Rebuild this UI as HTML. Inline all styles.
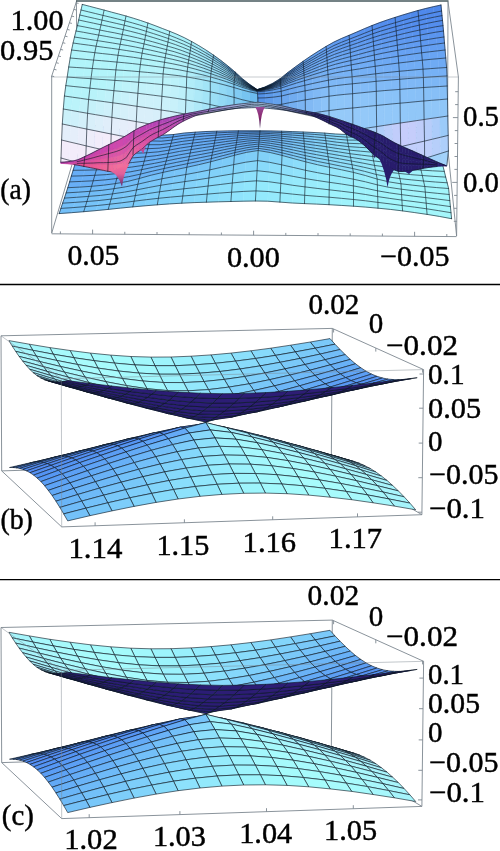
<!DOCTYPE html>
<html><head><meta charset="utf-8"><title>figure</title>
<style>
html,body{margin:0;padding:0;background:#fff}
svg{display:block}
text{font-family:"Liberation Serif",serif;fill:#000}
</style></head><body>
<svg width="500" height="851" viewBox="0 0 500 851">
<rect width="500" height="851" fill="#fff"/>
<g stroke="#7d8790" stroke-width="0.9" fill="none"><line x1="448.0" y1="1.6" x2="458.4" y2="77.0"/><line x1="76.8" y1="0.5" x2="51.4" y2="77.0"/><line x1="51.7" y1="77.0" x2="51.7" y2="233.2"/><line x1="458.4" y1="77.0" x2="456.6" y2="236.0"/><line x1="51.7" y1="233.8" x2="456.6" y2="236.6"/><line x1="76.4" y1="1.6" x2="77.5" y2="146.0"/><line x1="448.0" y1="1.6" x2="447.5" y2="146.0"/><line x1="77.5" y1="146.0" x2="447.5" y2="146.0"/><line x1="77.5" y1="146.0" x2="51.7" y2="233.2"/><line x1="447.5" y1="146.0" x2="456.6" y2="236.0"/><line x1="446.8" y1="236.5" x2="446.8" y2="234.0"/><line x1="414.6" y1="236.3" x2="414.6" y2="231.8"/><line x1="382.4" y1="236.1" x2="382.4" y2="233.6"/><line x1="350.2" y1="235.9" x2="350.2" y2="233.4"/><line x1="318.0" y1="235.6" x2="318.0" y2="233.1"/><line x1="285.8" y1="235.4" x2="285.8" y2="232.9"/><line x1="253.6" y1="235.2" x2="253.6" y2="230.7"/><line x1="221.4" y1="235.0" x2="221.4" y2="232.5"/><line x1="189.2" y1="234.8" x2="189.2" y2="232.3"/><line x1="157.0" y1="234.5" x2="157.0" y2="232.0"/><line x1="124.8" y1="234.3" x2="124.8" y2="231.8"/><line x1="92.6" y1="234.1" x2="92.6" y2="229.6"/><line x1="60.4" y1="233.9" x2="60.4" y2="231.4"/><line x1="456.8" y1="221.3" x2="453.8" y2="221.3"/><line x1="456.9" y1="208.3" x2="453.9" y2="208.3"/><line x1="457.1" y1="195.4" x2="454.1" y2="195.4"/><line x1="457.2" y1="182.4" x2="452.2" y2="182.4"/><line x1="457.4" y1="169.4" x2="454.4" y2="169.4"/><line x1="457.5" y1="156.5" x2="454.5" y2="156.5"/><line x1="457.6" y1="143.5" x2="454.6" y2="143.5"/><line x1="457.8" y1="130.6" x2="454.8" y2="130.6"/><line x1="457.9" y1="117.6" x2="452.9" y2="117.6"/><line x1="458.1" y1="104.6" x2="455.1" y2="104.6"/><line x1="458.2" y1="91.7" x2="455.2" y2="91.7"/><line x1="76.0" y1="2.8" x2="78.5" y2="3.4"/><line x1="73.8" y1="9.4" x2="76.3" y2="10.0"/><line x1="71.6" y1="16.1" x2="74.1" y2="16.7"/><line x1="69.4" y1="22.8" x2="71.9" y2="23.4"/><line x1="67.2" y1="29.4" x2="69.7" y2="30.0"/><line x1="65.0" y1="36.1" x2="67.5" y2="36.7"/><line x1="62.8" y1="42.7" x2="65.3" y2="43.3"/><line x1="60.6" y1="49.4" x2="63.1" y2="50.0"/><line x1="58.4" y1="56.0" x2="60.9" y2="56.6"/><line x1="56.2" y1="62.7" x2="58.7" y2="63.3"/><line x1="54.0" y1="69.3" x2="56.5" y2="69.9"/><line x1="51.7" y1="76.0" x2="54.2" y2="76.6"/></g><line x1="76" y1="0.9" x2="448.5" y2="0.9" stroke="#46595c" stroke-width="1.5"/>
<g stroke-width="0.5" stroke-linejoin="round"><polygon points="87.2,124.0 98.0,125.9 96.4,131.3 85.4,129.8" fill="#62a6f5" stroke="#62a6f5"/><polygon points="85.4,129.8 96.4,131.3 94.8,136.8 83.7,135.6" fill="#63a7f5" stroke="#63a7f5"/><polygon points="83.7,135.6 94.8,136.8 93.1,142.3 81.9,141.4" fill="#63a8f5" stroke="#63a8f5"/><polygon points="81.9,141.4 93.1,142.3 91.4,147.8 80.1,147.2" fill="#64a9f5" stroke="#64a9f5"/><polygon points="80.1,147.2 91.4,147.8 89.8,153.4 78.4,153.0" fill="#64aaf5" stroke="#64aaf5"/><polygon points="78.4,153.0 89.8,153.4 88.1,159.0 76.6,158.8" fill="#65aaf6" stroke="#65aaf6"/><polygon points="76.6,158.8 88.1,159.0 86.4,164.6 74.9,164.6" fill="#65abf6" stroke="#65abf6"/><polygon points="74.9,164.6 86.4,164.6 84.8,170.2 73.1,170.3" fill="#66acf6" stroke="#66acf6"/><polygon points="73.1,170.3 84.8,170.2 83.1,175.8 71.3,176.1" fill="#67adf6" stroke="#67adf6"/><polygon points="71.3,176.1 83.1,175.8 81.4,181.4 69.6,181.9" fill="#67aef6" stroke="#67aef6"/><polygon points="69.6,181.9 81.4,181.4 79.7,187.1 67.8,187.7" fill="#68aef6" stroke="#68aef6"/><polygon points="67.8,187.7 79.7,187.1 78.1,192.2 66.1,192.9" fill="#6db7f7" stroke="#6db7f7"/><polygon points="66.1,192.9 78.1,192.2 76.4,197.3 64.4,198.1" fill="#6fbaf7" stroke="#6fbaf7"/><polygon points="64.4,198.1 76.4,197.3 74.8,202.4 62.6,203.2" fill="#72bdf8" stroke="#72bdf8"/><polygon points="62.6,203.2 74.8,202.4 73.1,207.6 60.9,208.4" fill="#73bff8" stroke="#73bff8"/><polygon points="60.9,208.4 73.1,207.6 71.5,212.7 59.2,213.6" fill="#73bff8" stroke="#73bff8"/><polygon points="98.0,125.9 108.8,127.8 107.3,132.7 96.4,131.3" fill="#62a6f5" stroke="#62a6f5"/><polygon points="96.4,131.3 107.3,132.7 105.8,137.9 94.8,136.8" fill="#63a7f5" stroke="#63a7f5"/><polygon points="94.8,136.8 105.8,137.9 104.3,143.1 93.1,142.3" fill="#63a8f5" stroke="#63a8f5"/><polygon points="93.1,142.3 104.3,143.1 102.7,148.4 91.4,147.8" fill="#64a9f5" stroke="#64a9f5"/><polygon points="91.4,147.8 102.7,148.4 101.2,153.7 89.8,153.4" fill="#65aaf5" stroke="#65aaf5"/><polygon points="89.8,153.4 101.2,153.7 99.6,159.1 88.1,159.0" fill="#65abf6" stroke="#65abf6"/><polygon points="88.1,159.0 99.6,159.1 98.0,164.5 86.4,164.6" fill="#66acf6" stroke="#66acf6"/><polygon points="86.4,164.6 98.0,164.5 96.4,169.9 84.8,170.2" fill="#66adf6" stroke="#66adf6"/><polygon points="84.8,170.2 96.4,169.9 94.8,175.3 83.1,175.8" fill="#67adf6" stroke="#67adf6"/><polygon points="83.1,175.8 94.8,175.3 93.2,180.8 81.4,181.4" fill="#68aef6" stroke="#68aef6"/><polygon points="81.4,181.4 93.2,180.8 91.6,186.3 79.7,187.1" fill="#68aff6" stroke="#68aff6"/><polygon points="79.7,187.1 91.6,186.3 90.0,191.3 78.1,192.2" fill="#6eb8f7" stroke="#6eb8f7"/><polygon points="78.1,192.2 90.0,191.3 88.5,196.4 76.4,197.3" fill="#71bcf8" stroke="#71bcf8"/><polygon points="76.4,197.3 88.5,196.4 86.9,201.5 74.8,202.4" fill="#73bff8" stroke="#73bff8"/><polygon points="74.8,202.4 86.9,201.5 85.3,206.6 73.1,207.6" fill="#75c1f8" stroke="#75c1f8"/><polygon points="73.1,207.6 85.3,206.6 83.7,211.7 71.5,212.7" fill="#75c1f8" stroke="#75c1f8"/><polygon points="108.8,127.8 119.6,129.4 118.3,133.9 107.3,132.7" fill="#62a6f5" stroke="#62a6f5"/><polygon points="107.3,132.7 118.3,133.9 116.9,138.7 105.8,137.9" fill="#63a7f5" stroke="#63a7f5"/><polygon points="105.8,137.9 116.9,138.7 115.5,143.7 104.3,143.1" fill="#64a8f5" stroke="#64a8f5"/><polygon points="104.3,143.1 115.5,143.7 114.0,148.7 102.7,148.4" fill="#64a9f5" stroke="#64a9f5"/><polygon points="102.7,148.4 114.0,148.7 112.5,153.8 101.2,153.7" fill="#65aaf6" stroke="#65aaf6"/><polygon points="101.2,153.7 112.5,153.8 111.1,159.0 99.6,159.1" fill="#66abf6" stroke="#66abf6"/><polygon points="99.6,159.1 111.1,159.0 109.6,164.1 98.0,164.5" fill="#66acf6" stroke="#66acf6"/><polygon points="98.0,164.5 109.6,164.1 108.1,169.4 96.4,169.9" fill="#67adf6" stroke="#67adf6"/><polygon points="96.4,169.9 108.1,169.4 106.6,174.6 94.8,175.3" fill="#68aef6" stroke="#68aef6"/><polygon points="94.8,175.3 106.6,174.6 105.0,179.9 93.2,180.8" fill="#68aff6" stroke="#68aff6"/><polygon points="93.2,180.8 105.0,179.9 103.5,185.2 91.6,186.3" fill="#69b0f6" stroke="#69b0f6"/><polygon points="91.6,186.3 103.5,185.2 102.0,190.3 90.0,191.3" fill="#70baf7" stroke="#70baf7"/><polygon points="90.0,191.3 102.0,190.3 100.5,195.4 88.5,196.4" fill="#72bdf8" stroke="#72bdf8"/><polygon points="88.5,196.4 100.5,195.4 99.0,200.5 86.9,201.5" fill="#75c1f8" stroke="#75c1f8"/><polygon points="86.9,201.5 99.0,200.5 97.5,205.5 85.3,206.6" fill="#76c4f9" stroke="#76c4f9"/><polygon points="85.3,206.6 97.5,205.5 96.0,210.6 83.7,211.7" fill="#76c4f9" stroke="#76c4f9"/><polygon points="119.6,129.4 130.4,130.8 129.2,134.9 118.3,133.9" fill="#62a7f5" stroke="#62a7f5"/><polygon points="118.3,133.9 129.2,134.9 127.9,139.4 116.9,138.7" fill="#63a8f5" stroke="#63a8f5"/><polygon points="116.9,138.7 127.9,139.4 126.6,144.0 115.5,143.7" fill="#64a9f5" stroke="#64a9f5"/><polygon points="115.5,143.7 126.6,144.0 125.3,148.8 114.0,148.7" fill="#64aaf5" stroke="#64aaf5"/><polygon points="114.0,148.7 125.3,148.8 123.9,153.6 112.5,153.8" fill="#65abf6" stroke="#65abf6"/><polygon points="112.5,153.8 123.9,153.6 122.5,158.5 111.1,159.0" fill="#66acf6" stroke="#66acf6"/><polygon points="111.1,159.0 122.5,158.5 121.1,163.4 109.6,164.1" fill="#67adf6" stroke="#67adf6"/><polygon points="109.6,164.1 121.1,163.4 119.7,168.4 108.1,169.4" fill="#67aef6" stroke="#67aef6"/><polygon points="108.1,169.4 119.7,168.4 118.3,173.4 106.6,174.6" fill="#68aff6" stroke="#68aff6"/><polygon points="106.6,174.6 118.3,173.4 116.8,178.5 105.0,179.9" fill="#69b0f6" stroke="#69b0f6"/><polygon points="105.0,179.9 116.8,178.5 115.4,183.6 103.5,185.2" fill="#69b1f6" stroke="#69b1f6"/><polygon points="103.5,185.2 115.4,183.6 114.0,188.7 102.0,190.3" fill="#71bbf8" stroke="#71bbf8"/><polygon points="102.0,190.3 114.0,188.7 112.5,193.9 100.5,195.4" fill="#74bff8" stroke="#74bff8"/><polygon points="100.5,195.4 112.5,193.9 111.1,199.1 99.0,200.5" fill="#76c3f9" stroke="#76c3f9"/><polygon points="99.0,200.5 111.1,199.1 109.7,204.2 97.5,205.5" fill="#78c6f9" stroke="#78c6f9"/><polygon points="97.5,205.5 109.7,204.2 108.2,209.4 96.0,210.6" fill="#78c6f9" stroke="#78c6f9"/><polygon points="130.4,130.8 141.2,132.2 140.2,135.9 129.2,134.9" fill="#62a7f5" stroke="#62a7f5"/><polygon points="129.2,134.9 140.2,135.9 139.0,140.0 127.9,139.4" fill="#63a8f5" stroke="#63a8f5"/><polygon points="127.9,139.4 139.0,140.0 137.8,144.3 126.6,144.0" fill="#64a9f5" stroke="#64a9f5"/><polygon points="126.6,144.0 137.8,144.3 136.5,148.7 125.3,148.8" fill="#65aaf5" stroke="#65aaf5"/><polygon points="125.3,148.8 136.5,148.7 135.3,153.2 123.9,153.6" fill="#65abf6" stroke="#65abf6"/><polygon points="123.9,153.6 135.3,153.2 134.0,157.8 122.5,158.5" fill="#66acf6" stroke="#66acf6"/><polygon points="122.5,158.5 134.0,157.8 132.7,162.5 121.1,163.4" fill="#67adf6" stroke="#67adf6"/><polygon points="121.1,163.4 132.7,162.5 131.3,167.1 119.7,168.4" fill="#68aef6" stroke="#68aef6"/><polygon points="119.7,168.4 131.3,167.1 130.0,171.9 118.3,173.4" fill="#68aff6" stroke="#68aff6"/><polygon points="118.3,173.4 130.0,171.9 128.7,176.7 116.8,178.5" fill="#69b0f6" stroke="#69b0f6"/><polygon points="116.8,178.5 128.7,176.7 127.3,181.5 115.4,183.6" fill="#6ab1f6" stroke="#6ab1f6"/><polygon points="115.4,183.6 127.3,181.5 125.9,186.8 114.0,188.7" fill="#72bdf8" stroke="#72bdf8"/><polygon points="114.0,188.7 125.9,186.8 124.6,192.1 112.5,193.9" fill="#75c1f8" stroke="#75c1f8"/><polygon points="112.5,193.9 124.6,192.1 123.2,197.5 111.1,199.1" fill="#78c5f9" stroke="#78c5f9"/><polygon points="111.1,199.1 123.2,197.5 121.9,202.8 109.7,204.2" fill="#7ac8f9" stroke="#7ac8f9"/><polygon points="109.7,204.2 121.9,202.8 120.5,208.1 108.2,209.4" fill="#7ac8f9" stroke="#7ac8f9"/><polygon points="141.2,132.2 152.0,134.0 151.1,137.2 140.2,135.9" fill="#62a7f5" stroke="#62a7f5"/><polygon points="140.2,135.9 151.1,137.2 150.0,140.9 139.0,140.0" fill="#63a8f5" stroke="#63a8f5"/><polygon points="139.0,140.0 150.0,140.9 148.9,144.7 137.8,144.3" fill="#64a9f5" stroke="#64a9f5"/><polygon points="137.8,144.3 148.9,144.7 147.8,148.7 136.5,148.7" fill="#65aaf5" stroke="#65aaf5"/><polygon points="136.5,148.7 147.8,148.7 146.6,152.8 135.3,153.2" fill="#66abf6" stroke="#66abf6"/><polygon points="135.3,153.2 146.6,152.8 145.4,156.9 134.0,157.8" fill="#66acf6" stroke="#66acf6"/><polygon points="134.0,157.8 145.4,156.9 144.2,161.2 132.7,162.5" fill="#67aef6" stroke="#67aef6"/><polygon points="132.7,162.5 144.2,161.2 143.0,165.4 131.3,167.1" fill="#68aff6" stroke="#68aff6"/><polygon points="131.3,167.1 143.0,165.4 141.7,169.7 130.0,171.9" fill="#69b0f6" stroke="#69b0f6"/><polygon points="130.0,171.9 141.7,169.7 140.5,174.1 128.7,176.7" fill="#6ab1f6" stroke="#6ab1f6"/><polygon points="128.7,176.7 140.5,174.1 139.2,178.5 127.3,181.5" fill="#6bb2f6" stroke="#6bb2f6"/><polygon points="127.3,181.5 139.2,178.5 137.9,184.2 125.9,186.8" fill="#73bef8" stroke="#73bef8"/><polygon points="125.9,186.8 137.9,184.2 136.6,189.9 124.6,192.1" fill="#76c3f8" stroke="#76c3f8"/><polygon points="124.6,192.1 136.6,189.9 135.3,195.6 123.2,197.5" fill="#7ac7f9" stroke="#7ac7f9"/><polygon points="123.2,197.5 135.3,195.6 134.1,201.2 121.9,202.8" fill="#7ccaf9" stroke="#7ccaf9"/><polygon points="121.9,202.8 134.1,201.2 132.8,206.9 120.5,208.1" fill="#7ccaf9" stroke="#7ccaf9"/><polygon points="152.0,134.0 162.8,135.2 162.0,138.0 151.1,137.2" fill="#62a7f5" stroke="#62a7f5"/><polygon points="151.1,137.2 162.0,138.0 161.0,141.2 150.0,140.9" fill="#63a8f5" stroke="#63a8f5"/><polygon points="150.0,140.9 161.0,141.2 160.0,144.7 148.9,144.7" fill="#64a9f5" stroke="#64a9f5"/><polygon points="148.9,144.7 160.0,144.7 159.0,148.2 147.8,148.7" fill="#65aaf6" stroke="#65aaf6"/><polygon points="147.8,148.7 159.0,148.2 157.9,151.9 146.6,152.8" fill="#66acf6" stroke="#66acf6"/><polygon points="146.6,152.8 157.9,151.9 156.8,155.6 145.4,156.9" fill="#67adf6" stroke="#67adf6"/><polygon points="145.4,156.9 156.8,155.6 155.7,159.4 144.2,161.2" fill="#68aef6" stroke="#68aef6"/><polygon points="144.2,161.2 155.7,159.4 154.6,163.3 143.0,165.4" fill="#69aff6" stroke="#69aff6"/><polygon points="143.0,165.4 154.6,163.3 153.4,167.2 141.7,169.7" fill="#69b0f6" stroke="#69b0f6"/><polygon points="141.7,169.7 153.4,167.2 152.3,171.2 140.5,174.1" fill="#6ab2f6" stroke="#6ab2f6"/><polygon points="140.5,174.1 152.3,171.2 151.1,175.2 139.2,178.5" fill="#6bb3f7" stroke="#6bb3f7"/><polygon points="139.2,178.5 151.1,175.2 149.9,181.4 137.9,184.2" fill="#74c0f8" stroke="#74c0f8"/><polygon points="137.9,184.2 149.9,181.4 148.7,187.5 136.6,189.9" fill="#78c5f9" stroke="#78c5f9"/><polygon points="136.6,189.9 148.7,187.5 147.5,193.6 135.3,195.6" fill="#7bcaf9" stroke="#7bcaf9"/><polygon points="135.3,195.6 147.5,193.6 146.2,199.7 134.1,201.2" fill="#7dcdfa" stroke="#7dcdfa"/><polygon points="134.1,201.2 146.2,199.7 145.0,205.8 132.8,206.9" fill="#7dcdfa" stroke="#7dcdfa"/><polygon points="162.8,135.2 173.6,134.5 172.9,137.0 162.0,138.0" fill="#62a7f5" stroke="#62a7f5"/><polygon points="162.0,138.0 172.9,137.0 172.0,140.1 161.0,141.2" fill="#63a8f5" stroke="#63a8f5"/><polygon points="161.0,141.2 172.0,140.1 171.1,143.3 160.0,144.7" fill="#64a9f5" stroke="#64a9f5"/><polygon points="160.0,144.7 171.1,143.3 170.2,146.6 159.0,148.2" fill="#65abf6" stroke="#65abf6"/><polygon points="159.0,148.2 170.2,146.6 169.2,150.1 157.9,151.9" fill="#66acf6" stroke="#66acf6"/><polygon points="157.9,151.9 169.2,150.1 168.2,153.6 156.8,155.6" fill="#67adf6" stroke="#67adf6"/><polygon points="156.8,155.6 168.2,153.6 167.2,157.3 155.7,159.4" fill="#68aef6" stroke="#68aef6"/><polygon points="155.7,159.4 167.2,157.3 166.2,161.0 154.6,163.3" fill="#69b0f6" stroke="#69b0f6"/><polygon points="154.6,163.3 166.2,161.0 165.1,164.7 153.4,167.2" fill="#6ab1f6" stroke="#6ab1f6"/><polygon points="153.4,167.2 165.1,164.7 164.1,168.5 152.3,171.2" fill="#6bb2f6" stroke="#6bb2f6"/><polygon points="152.3,171.2 164.1,168.5 163.0,172.4 151.1,175.2" fill="#6cb4f7" stroke="#6cb4f7"/><polygon points="151.1,175.2 163.0,172.4 161.9,178.8 149.9,181.4" fill="#75c1f8" stroke="#75c1f8"/><polygon points="149.9,181.4 161.9,178.8 160.7,185.3 148.7,187.5" fill="#79c6f9" stroke="#79c6f9"/><polygon points="148.7,187.5 160.7,185.3 159.6,191.8 147.5,193.6" fill="#7dccf9" stroke="#7dccf9"/><polygon points="147.5,193.6 159.6,191.8 158.4,198.3 146.2,199.7" fill="#7fcffa" stroke="#7fcffa"/><polygon points="146.2,199.7 158.4,198.3 157.3,204.8 145.0,205.8" fill="#7fcffa" stroke="#7fcffa"/><polygon points="173.6,134.5 184.4,133.0 183.8,135.4 172.9,137.0" fill="#62a6f5" stroke="#62a6f5"/><polygon points="172.9,137.0 183.8,135.4 183.0,138.3 172.0,140.1" fill="#63a7f5" stroke="#63a7f5"/><polygon points="172.0,140.1 183.0,138.3 182.2,141.4 171.1,143.3" fill="#64a9f5" stroke="#64a9f5"/><polygon points="171.1,143.3 182.2,141.4 181.4,144.6 170.2,146.6" fill="#65aaf5" stroke="#65aaf5"/><polygon points="170.2,146.6 181.4,144.6 180.5,148.0 169.2,150.1" fill="#66acf5" stroke="#66acf5"/><polygon points="169.2,150.1 180.5,148.0 179.6,151.4 168.2,153.6" fill="#67adf6" stroke="#67adf6"/><polygon points="168.2,153.6 179.6,151.4 178.7,155.0 167.2,157.3" fill="#68aff6" stroke="#68aff6"/><polygon points="167.2,157.3 178.7,155.0 177.8,158.6 166.2,161.0" fill="#69b0f6" stroke="#69b0f6"/><polygon points="166.2,161.0 177.8,158.6 176.8,162.3 165.1,164.7" fill="#6ab1f6" stroke="#6ab1f6"/><polygon points="165.1,164.7 176.8,162.3 175.9,166.0 164.1,168.5" fill="#6bb3f6" stroke="#6bb3f6"/><polygon points="164.1,168.5 175.9,166.0 174.9,169.8 163.0,172.4" fill="#6cb4f7" stroke="#6cb4f7"/><polygon points="163.0,172.4 174.9,169.8 173.8,176.6 161.9,178.8" fill="#76c3f8" stroke="#76c3f8"/><polygon points="161.9,178.8 173.8,176.6 172.8,183.4 160.7,185.3" fill="#7bc8f9" stroke="#7bc8f9"/><polygon points="160.7,185.3 172.8,183.4 171.7,190.2 159.6,191.8" fill="#7fcefa" stroke="#7fcefa"/><polygon points="159.6,191.8 171.7,190.2 170.6,197.1 158.4,198.3" fill="#81d2fa" stroke="#81d2fa"/><polygon points="158.4,198.3 170.6,197.1 169.6,203.9 157.3,204.8" fill="#81d2fa" stroke="#81d2fa"/><polygon points="184.4,133.0 195.2,132.2 194.7,134.4 183.8,135.4" fill="#61a5f4" stroke="#61a5f4"/><polygon points="183.8,135.4 194.7,134.4 194.0,137.1 183.0,138.3" fill="#62a6f4" stroke="#62a6f4"/><polygon points="183.0,138.3 194.0,137.1 193.3,140.0 182.2,141.4" fill="#63a8f5" stroke="#63a8f5"/><polygon points="182.2,141.4 193.3,140.0 192.6,143.1 181.4,144.6" fill="#64aaf5" stroke="#64aaf5"/><polygon points="181.4,144.6 192.6,143.1 191.8,146.3 180.5,148.0" fill="#65abf5" stroke="#65abf5"/><polygon points="180.5,148.0 191.8,146.3 191.0,149.6 179.6,151.4" fill="#67adf5" stroke="#67adf5"/><polygon points="179.6,151.4 191.0,149.6 190.2,153.0 178.7,155.0" fill="#68aef5" stroke="#68aef5"/><polygon points="178.7,155.0 190.2,153.0 189.4,156.5 177.8,158.6" fill="#69b0f6" stroke="#69b0f6"/><polygon points="177.8,158.6 189.4,156.5 188.5,160.0 176.8,162.3" fill="#6ab1f6" stroke="#6ab1f6"/><polygon points="176.8,162.3 188.5,160.0 187.7,163.6 175.9,166.0" fill="#6bb3f6" stroke="#6bb3f6"/><polygon points="175.9,166.0 187.7,163.6 186.8,167.3 174.9,169.8" fill="#6cb4f6" stroke="#6cb4f6"/><polygon points="174.9,169.8 186.8,167.3 185.8,174.5 173.8,176.6" fill="#78c4f8" stroke="#78c4f8"/><polygon points="173.8,176.6 185.8,174.5 184.8,181.6 172.8,183.4" fill="#7ccaf9" stroke="#7ccaf9"/><polygon points="172.8,183.4 184.8,181.6 183.8,188.8 171.7,190.2" fill="#81d1fa" stroke="#81d1fa"/><polygon points="171.7,190.2 183.8,188.8 182.8,196.0 170.6,197.1" fill="#83d4fa" stroke="#83d4fa"/><polygon points="170.6,197.1 182.8,196.0 181.8,203.2 169.6,203.9" fill="#83d4fa" stroke="#83d4fa"/><polygon points="195.2,132.2 206.0,131.5 205.6,133.5 194.7,134.4" fill="#60a4f4" stroke="#60a4f4"/><polygon points="194.7,134.4 205.6,133.5 205.0,136.0 194.0,137.1" fill="#61a5f4" stroke="#61a5f4"/><polygon points="194.0,137.1 205.0,136.0 204.4,138.8 193.3,140.0" fill="#63a7f4" stroke="#63a7f4"/><polygon points="193.3,140.0 204.4,138.8 203.8,141.7 192.6,143.1" fill="#64a9f4" stroke="#64a9f4"/><polygon points="192.6,143.1 203.8,141.7 203.1,144.7 191.8,146.3" fill="#65aaf4" stroke="#65aaf4"/><polygon points="191.8,146.3 203.1,144.7 202.4,147.8 191.0,149.6" fill="#66acf5" stroke="#66acf5"/><polygon points="191.0,149.6 202.4,147.8 201.7,151.1 190.2,153.0" fill="#67aef5" stroke="#67aef5"/><polygon points="190.2,153.0 201.7,151.1 201.0,154.4 189.4,156.5" fill="#69aff5" stroke="#69aff5"/><polygon points="189.4,156.5 201.0,154.4 200.2,157.7 188.5,160.0" fill="#6ab1f5" stroke="#6ab1f5"/><polygon points="188.5,160.0 200.2,157.7 199.5,161.2 187.7,163.6" fill="#6bb3f6" stroke="#6bb3f6"/><polygon points="187.7,163.6 199.5,161.2 198.7,164.7 186.8,167.3" fill="#6cb4f6" stroke="#6cb4f6"/><polygon points="186.8,167.3 198.7,164.7 197.8,172.3 185.8,174.5" fill="#79c6f8" stroke="#79c6f8"/><polygon points="185.8,174.5 197.8,172.3 196.9,179.9 184.8,181.6" fill="#7ecdf9" stroke="#7ecdf9"/><polygon points="184.8,181.6 196.9,179.9 195.9,187.5 183.8,188.8" fill="#83d3fa" stroke="#83d3fa"/><polygon points="183.8,188.8 195.9,187.5 195.0,195.0 182.8,196.0" fill="#86d8fb" stroke="#86d8fb"/><polygon points="182.8,196.0 195.0,195.0 194.1,202.6 181.8,203.2" fill="#86d8fb" stroke="#86d8fb"/><polygon points="206.0,131.5 216.8,131.2 216.4,132.9 205.6,133.5" fill="#5fa3f3" stroke="#5fa3f3"/><polygon points="205.6,133.5 216.4,132.9 216.0,135.2 205.0,136.0" fill="#60a4f3" stroke="#60a4f3"/><polygon points="205.0,136.0 216.0,135.2 215.5,137.7 204.4,138.8" fill="#62a6f3" stroke="#62a6f3"/><polygon points="204.4,138.8 215.5,137.7 214.9,140.4 203.8,141.7" fill="#63a8f4" stroke="#63a8f4"/><polygon points="203.8,141.7 214.9,140.4 214.4,143.2 203.1,144.7" fill="#64aaf4" stroke="#64aaf4"/><polygon points="203.1,144.7 214.4,143.2 213.8,146.1 202.4,147.8" fill="#66acf4" stroke="#66acf4"/><polygon points="202.4,147.8 213.8,146.1 213.2,149.1 201.7,151.1" fill="#67adf4" stroke="#67adf4"/><polygon points="201.7,151.1 213.2,149.1 212.6,152.2 201.0,154.4" fill="#68aff5" stroke="#68aff5"/><polygon points="201.0,154.4 212.6,152.2 211.9,155.3 200.2,157.7" fill="#6ab1f5" stroke="#6ab1f5"/><polygon points="200.2,157.7 211.9,155.3 211.3,158.6 199.5,161.2" fill="#6bb3f5" stroke="#6bb3f5"/><polygon points="199.5,161.2 211.3,158.6 210.6,161.8 198.7,164.7" fill="#6cb5f6" stroke="#6cb5f6"/><polygon points="198.7,164.7 210.6,161.8 209.8,169.9 197.8,172.3" fill="#7ac7f8" stroke="#7ac7f8"/><polygon points="197.8,172.3 209.8,169.9 208.9,178.0 196.9,179.9" fill="#7fcff9" stroke="#7fcff9"/><polygon points="196.9,179.9 208.9,178.0 208.1,186.0 195.9,187.5" fill="#85d6fa" stroke="#85d6fa"/><polygon points="195.9,187.5 208.1,186.0 207.2,194.1 195.0,195.0" fill="#88dafb" stroke="#88dafb"/><polygon points="195.0,195.0 207.2,194.1 206.4,202.2 194.1,202.6" fill="#88dafb" stroke="#88dafb"/><polygon points="216.8,131.2 227.6,130.9 227.3,132.4 216.4,132.9" fill="#5ea1f2" stroke="#5ea1f2"/><polygon points="216.4,132.9 227.3,132.4 226.9,134.4 216.0,135.2" fill="#60a3f3" stroke="#60a3f3"/><polygon points="216.0,135.2 226.9,134.4 226.5,136.7 215.5,137.7" fill="#61a5f3" stroke="#61a5f3"/><polygon points="215.5,137.7 226.5,136.7 226.1,139.1 214.9,140.4" fill="#62a7f3" stroke="#62a7f3"/><polygon points="214.9,140.4 226.1,139.1 225.6,141.6 214.4,143.2" fill="#64a9f3" stroke="#64a9f3"/><polygon points="214.4,143.2 225.6,141.6 225.1,144.2 213.8,146.1" fill="#65abf4" stroke="#65abf4"/><polygon points="213.8,146.1 225.1,144.2 224.6,146.9 213.2,149.1" fill="#67adf4" stroke="#67adf4"/><polygon points="213.2,149.1 224.6,146.9 224.1,149.7 212.6,152.2" fill="#68aff4" stroke="#68aff4"/><polygon points="212.6,152.2 224.1,149.7 223.6,152.6 211.9,155.3" fill="#6ab1f5" stroke="#6ab1f5"/><polygon points="211.9,155.3 223.6,152.6 223.1,155.6 211.3,158.6" fill="#6bb3f5" stroke="#6bb3f5"/><polygon points="211.3,158.6 223.1,155.6 222.5,158.6 210.6,161.8" fill="#6cb5f5" stroke="#6cb5f5"/><polygon points="210.6,161.8 222.5,158.6 221.7,167.2 209.8,169.9" fill="#7bc9f8" stroke="#7bc9f8"/><polygon points="209.8,169.9 221.7,167.2 220.9,175.8 208.9,178.0" fill="#81d1f9" stroke="#81d1f9"/><polygon points="208.9,178.0 220.9,175.8 220.2,184.5 208.1,186.0" fill="#87d9fa" stroke="#87d9fa"/><polygon points="208.1,186.0 220.2,184.5 219.4,193.1 207.2,194.1" fill="#8adefb" stroke="#8adefb"/><polygon points="207.2,194.1 219.4,193.1 218.6,201.8 206.4,202.2" fill="#8adefb" stroke="#8adefb"/><polygon points="227.6,130.9 238.4,130.8 238.2,132.1 227.3,132.4" fill="#5da0f2" stroke="#5da0f2"/><polygon points="227.3,132.4 238.2,132.1 237.9,133.9 226.9,134.4" fill="#5fa2f2" stroke="#5fa2f2"/><polygon points="226.9,134.4 237.9,133.9 237.6,135.8 226.5,136.7" fill="#60a4f2" stroke="#60a4f2"/><polygon points="226.5,136.7 237.6,135.8 237.2,137.9 226.1,139.1" fill="#62a6f3" stroke="#62a6f3"/><polygon points="226.1,139.1 237.2,137.9 236.9,140.2 225.6,141.6" fill="#63a8f3" stroke="#63a8f3"/><polygon points="225.6,141.6 236.9,140.2 236.5,142.5 225.1,144.2" fill="#65abf3" stroke="#65abf3"/><polygon points="225.1,144.2 236.5,142.5 236.1,144.9 224.6,146.9" fill="#66adf4" stroke="#66adf4"/><polygon points="224.6,146.9 236.1,144.9 235.7,147.4 224.1,149.7" fill="#68aff4" stroke="#68aff4"/><polygon points="224.1,149.7 235.7,147.4 235.3,150.0 223.6,152.6" fill="#69b1f4" stroke="#69b1f4"/><polygon points="223.6,152.6 235.3,150.0 234.8,152.6 223.1,155.6" fill="#6bb3f5" stroke="#6bb3f5"/><polygon points="223.1,155.6 234.8,152.6 234.4,155.3 222.5,158.6" fill="#6cb5f5" stroke="#6cb5f5"/><polygon points="222.5,158.6 234.4,155.3 233.7,164.6 221.7,167.2" fill="#7ccbf8" stroke="#7ccbf8"/><polygon points="221.7,167.2 233.7,164.6 233.0,173.8 220.9,175.8" fill="#82d3f9" stroke="#82d3f9"/><polygon points="220.9,175.8 233.0,173.8 232.3,183.0 220.2,184.5" fill="#89dbfb" stroke="#89dbfb"/><polygon points="220.2,184.5 232.3,183.0 231.6,192.2 219.4,193.1" fill="#8ce0fb" stroke="#8ce0fb"/><polygon points="219.4,193.1 231.6,192.2 230.9,201.5 218.6,201.8" fill="#8ce0fb" stroke="#8ce0fb"/><polygon points="238.4,130.8 249.2,130.8 249.0,131.9 238.2,132.1" fill="#5c9ff1" stroke="#5c9ff1"/><polygon points="238.2,132.1 249.0,131.9 248.8,133.4 237.9,133.9" fill="#5ea1f1" stroke="#5ea1f1"/><polygon points="237.9,133.9 248.8,133.4 248.6,135.1 237.6,135.8" fill="#60a3f2" stroke="#60a3f2"/><polygon points="237.6,135.8 248.6,135.1 248.4,137.0 237.2,137.9" fill="#61a6f2" stroke="#61a6f2"/><polygon points="237.2,137.9 248.4,137.0 248.1,139.0 236.9,140.2" fill="#63a8f2" stroke="#63a8f2"/><polygon points="236.9,140.2 248.1,139.0 247.8,141.0 236.5,142.5" fill="#64aaf3" stroke="#64aaf3"/><polygon points="236.5,142.5 247.8,141.0 247.5,143.2 236.1,144.9" fill="#66acf3" stroke="#66acf3"/><polygon points="236.1,144.9 247.5,143.2 247.2,145.4 235.7,147.4" fill="#68aef3" stroke="#68aef3"/><polygon points="235.7,147.4 247.2,145.4 246.9,147.7 235.3,150.0" fill="#69b1f4" stroke="#69b1f4"/><polygon points="235.3,150.0 246.9,147.7 246.6,150.0 234.8,152.6" fill="#6bb3f4" stroke="#6bb3f4"/><polygon points="234.8,152.6 246.6,150.0 246.3,152.4 234.4,155.3" fill="#6db5f5" stroke="#6db5f5"/><polygon points="234.4,155.3 246.3,152.4 245.7,162.2 233.7,164.6" fill="#7dccf8" stroke="#7dccf8"/><polygon points="233.7,164.6 245.7,162.2 245.0,171.9 233.0,173.8" fill="#84d5f9" stroke="#84d5f9"/><polygon points="233.0,173.8 245.0,171.9 244.4,181.7 232.3,183.0" fill="#8bdefb" stroke="#8bdefb"/><polygon points="232.3,183.0 244.4,181.7 243.8,191.4 231.6,192.2" fill="#8fe3fc" stroke="#8fe3fc"/><polygon points="231.6,192.2 243.8,191.4 243.1,201.2 230.9,201.5" fill="#8fe3fc" stroke="#8fe3fc"/><polygon points="249.2,130.8 260.0,130.8 259.9,131.8 249.0,131.9" fill="#5b9ef0" stroke="#5b9ef0"/><polygon points="249.0,131.9 259.9,131.8 259.8,133.1 248.8,133.4" fill="#5da0f1" stroke="#5da0f1"/><polygon points="248.8,133.4 259.8,133.1 259.6,134.7 248.6,135.1" fill="#5fa3f1" stroke="#5fa3f1"/><polygon points="248.6,135.1 259.6,134.7 259.5,136.4 248.4,137.0" fill="#61a5f2" stroke="#61a5f2"/><polygon points="248.4,137.0 259.5,136.4 259.3,138.2 248.1,139.0" fill="#62a7f2" stroke="#62a7f2"/><polygon points="248.1,139.0 259.3,138.2 259.2,140.0 247.8,141.0" fill="#64aaf2" stroke="#64aaf2"/><polygon points="247.8,141.0 259.2,140.0 259.0,142.0 247.5,143.2" fill="#66acf3" stroke="#66acf3"/><polygon points="247.5,143.2 259.0,142.0 258.8,144.0 247.2,145.4" fill="#67aef3" stroke="#67aef3"/><polygon points="247.2,145.4 258.8,144.0 258.6,146.1 246.9,147.7" fill="#69b1f3" stroke="#69b1f3"/><polygon points="246.9,147.7 258.6,146.1 258.4,148.3 246.6,150.0" fill="#6bb3f4" stroke="#6bb3f4"/><polygon points="246.6,150.0 258.4,148.3 258.2,150.5 246.3,152.4" fill="#6db5f4" stroke="#6db5f4"/><polygon points="246.3,152.4 258.2,150.5 257.6,160.6 245.7,162.2" fill="#7fcef8" stroke="#7fcef8"/><polygon points="245.7,162.2 257.6,160.6 257.1,170.7 245.0,171.9" fill="#86d7f9" stroke="#86d7f9"/><polygon points="245.0,171.9 257.1,170.7 256.5,180.8 244.4,181.7" fill="#8de1fb" stroke="#8de1fb"/><polygon points="244.4,181.7 256.5,180.8 256.0,190.9 243.8,191.4" fill="#91e6fc" stroke="#91e6fc"/><polygon points="243.8,191.4 256.0,190.9 255.4,201.0 243.1,201.2" fill="#91e6fc" stroke="#91e6fc"/><polygon points="260.0,130.8 270.8,130.9 270.8,132.1 259.9,131.8" fill="#5ea2f1" stroke="#5ea2f1"/><polygon points="259.9,131.8 270.8,132.1 270.7,133.6 259.8,133.1" fill="#60a4f1" stroke="#60a4f1"/><polygon points="259.8,133.1 270.7,133.6 270.7,135.3 259.6,134.7" fill="#62a6f2" stroke="#62a6f2"/><polygon points="259.6,134.7 270.7,135.3 270.6,137.1 259.5,136.4" fill="#63a9f2" stroke="#63a9f2"/><polygon points="259.5,136.4 270.6,137.1 270.5,139.1 259.3,138.2" fill="#65abf2" stroke="#65abf2"/><polygon points="259.3,138.2 270.5,139.1 270.5,141.2 259.2,140.0" fill="#67adf3" stroke="#67adf3"/><polygon points="259.2,140.0 270.5,141.2 270.4,143.3 259.0,142.0" fill="#68b0f3" stroke="#68b0f3"/><polygon points="259.0,142.0 270.4,143.3 270.3,145.5 258.8,144.0" fill="#6ab2f3" stroke="#6ab2f3"/><polygon points="258.8,144.0 270.3,145.5 270.3,147.8 258.6,146.1" fill="#6cb4f4" stroke="#6cb4f4"/><polygon points="258.6,146.1 270.3,147.8 270.2,150.1 258.4,148.3" fill="#6eb6f4" stroke="#6eb6f4"/><polygon points="258.4,148.3 270.2,150.1 270.1,152.5 258.2,150.5" fill="#6fb9f5" stroke="#6fb9f5"/><polygon points="258.2,150.5 270.1,152.5 269.6,162.3 257.6,160.6" fill="#81d1f8" stroke="#81d1f8"/><polygon points="257.6,160.6 269.6,162.3 269.1,172.0 257.1,170.7" fill="#88dafa" stroke="#88dafa"/><polygon points="257.1,170.7 269.1,172.0 268.6,181.7 256.5,180.8" fill="#8fe3fb" stroke="#8fe3fb"/><polygon points="256.5,180.8 268.6,181.7 268.2,191.5 256.0,190.9" fill="#93e9fc" stroke="#93e9fc"/><polygon points="256.0,190.9 268.2,191.5 267.7,201.2 255.4,201.0" fill="#93e9fc" stroke="#93e9fc"/><polygon points="270.8,130.9 281.6,131.2 281.6,132.5 270.8,132.1" fill="#65abf3" stroke="#65abf3"/><polygon points="270.8,132.1 281.6,132.5 281.7,134.3 270.7,133.6" fill="#66adf3" stroke="#66adf3"/><polygon points="270.7,133.6 281.7,134.3 281.7,136.2 270.7,135.3" fill="#68aff3" stroke="#68aff3"/><polygon points="270.7,135.3 281.7,136.2 281.7,138.3 270.6,137.1" fill="#69b1f4" stroke="#69b1f4"/><polygon points="270.6,137.1 281.7,138.3 281.8,140.5 270.5,139.1" fill="#6bb3f4" stroke="#6bb3f4"/><polygon points="270.5,139.1 281.8,140.5 281.8,142.8 270.5,141.2" fill="#6db5f4" stroke="#6db5f4"/><polygon points="270.5,141.2 281.8,142.8 281.8,145.2 270.4,143.3" fill="#6eb7f4" stroke="#6eb7f4"/><polygon points="270.4,143.3 281.8,145.2 281.9,147.6 270.3,145.5" fill="#70b9f5" stroke="#70b9f5"/><polygon points="270.3,145.5 281.9,147.6 281.9,150.2 270.3,147.8" fill="#71bbf5" stroke="#71bbf5"/><polygon points="270.3,147.8 281.9,150.2 282.0,152.8 270.2,150.1" fill="#73bdf5" stroke="#73bdf5"/><polygon points="270.2,150.1 282.0,152.8 282.0,155.4 270.1,152.5" fill="#74bff6" stroke="#74bff6"/><polygon points="270.1,152.5 282.0,155.4 281.6,164.8 269.6,162.3" fill="#85d5f9" stroke="#85d5f9"/><polygon points="269.6,162.3 281.6,164.8 281.2,174.1 269.1,172.0" fill="#8bddfa" stroke="#8bddfa"/><polygon points="269.1,172.0 281.2,174.1 280.8,183.4 268.6,181.7" fill="#91e5fb" stroke="#91e5fb"/><polygon points="268.6,181.7 280.8,183.4 280.3,192.8 268.2,191.5" fill="#95eafc" stroke="#95eafc"/><polygon points="268.2,191.5 280.3,192.8 279.9,202.1 267.7,201.2" fill="#95eafc" stroke="#95eafc"/><polygon points="281.6,131.2 292.4,131.6 292.5,133.1 281.6,132.5" fill="#6bb4f4" stroke="#6bb4f4"/><polygon points="281.6,132.5 292.5,133.1 292.6,135.1 281.7,134.3" fill="#6db6f5" stroke="#6db6f5"/><polygon points="281.7,134.3 292.6,135.1 292.7,137.3 281.7,136.2" fill="#6eb7f5" stroke="#6eb7f5"/><polygon points="281.7,136.2 292.7,137.3 292.8,139.6 281.7,138.3" fill="#70b9f5" stroke="#70b9f5"/><polygon points="281.7,138.3 292.8,139.6 293.0,142.1 281.8,140.5" fill="#71bbf5" stroke="#71bbf5"/><polygon points="281.8,140.5 293.0,142.1 293.1,144.6 281.8,142.8" fill="#72bdf6" stroke="#72bdf6"/><polygon points="281.8,142.8 293.1,144.6 293.3,147.3 281.8,145.2" fill="#74bff6" stroke="#74bff6"/><polygon points="281.8,145.2 293.3,147.3 293.4,150.0 281.9,147.6" fill="#75c1f6" stroke="#75c1f6"/><polygon points="281.9,147.6 293.4,150.0 293.6,152.9 281.9,150.2" fill="#77c2f6" stroke="#77c2f6"/><polygon points="281.9,150.2 293.6,152.9 293.7,155.7 282.0,152.8" fill="#78c4f7" stroke="#78c4f7"/><polygon points="282.0,152.8 293.7,155.7 293.9,158.7 282.0,155.4" fill="#7ac6f7" stroke="#7ac6f7"/><polygon points="282.0,155.4 293.9,158.7 293.6,167.5 281.6,164.8" fill="#88d9f9" stroke="#88d9f9"/><polygon points="281.6,164.8 293.6,167.5 293.2,176.4 281.2,174.1" fill="#8ee0fa" stroke="#8ee0fa"/><polygon points="281.2,174.1 293.2,176.4 292.9,185.3 280.8,183.4" fill="#94e8fb" stroke="#94e8fb"/><polygon points="280.8,183.4 292.9,185.3 292.5,194.1 280.3,192.8" fill="#97ecfc" stroke="#97ecfc"/><polygon points="280.3,192.8 292.5,194.1 292.2,203.0 279.9,202.1" fill="#97ecfc" stroke="#97ecfc"/><polygon points="292.4,131.6 303.2,132.0 303.4,133.7 292.5,133.1" fill="#72bdf6" stroke="#72bdf6"/><polygon points="292.5,133.1 303.4,133.7 303.5,135.9 292.6,135.1" fill="#73bef6" stroke="#73bef6"/><polygon points="292.6,135.1 303.5,135.9 303.8,138.4 292.7,137.3" fill="#75c0f6" stroke="#75c0f6"/><polygon points="292.7,137.3 303.8,138.4 304.0,141.0 292.8,139.6" fill="#76c2f7" stroke="#76c2f7"/><polygon points="292.8,139.6 304.0,141.0 304.2,143.7 293.0,142.1" fill="#77c3f7" stroke="#77c3f7"/><polygon points="293.0,142.1 304.2,143.7 304.5,146.6 293.1,144.6" fill="#78c5f7" stroke="#78c5f7"/><polygon points="293.1,144.6 304.5,146.6 304.7,149.5 293.3,147.3" fill="#7ac6f7" stroke="#7ac6f7"/><polygon points="293.3,147.3 304.7,149.5 305.0,152.5 293.4,150.0" fill="#7bc8f7" stroke="#7bc8f7"/><polygon points="293.4,150.0 305.0,152.5 305.2,155.6 293.6,152.9" fill="#7ccaf8" stroke="#7ccaf8"/><polygon points="293.6,152.9 305.2,155.6 305.5,158.7 293.7,155.7" fill="#7dcbf8" stroke="#7dcbf8"/><polygon points="293.7,155.7 305.5,158.7 305.8,161.9 293.9,158.7" fill="#7fcdf8" stroke="#7fcdf8"/><polygon points="293.9,158.7 305.8,161.9 305.5,170.3 293.6,167.5" fill="#8cddfa" stroke="#8cddfa"/><polygon points="293.6,167.5 305.5,170.3 305.3,178.6 293.2,176.4" fill="#91e3fb" stroke="#91e3fb"/><polygon points="293.2,176.4 305.3,178.6 305.0,186.9 292.9,185.3" fill="#96eafc" stroke="#96eafc"/><polygon points="292.9,185.3 305.0,186.9 304.7,195.3 292.5,194.1" fill="#99eefc" stroke="#99eefc"/><polygon points="292.5,194.1 304.7,195.3 304.5,203.6 292.2,203.0" fill="#99eefc" stroke="#99eefc"/><polygon points="303.2,132.0 314.0,132.5 314.2,134.4 303.4,133.7" fill="#79c6f8" stroke="#79c6f8"/><polygon points="303.4,133.7 314.2,134.4 314.5,136.9 303.5,135.9" fill="#7ac7f8" stroke="#7ac7f8"/><polygon points="303.5,135.9 314.5,136.9 314.8,139.5 303.8,138.4" fill="#7bc9f8" stroke="#7bc9f8"/><polygon points="303.8,138.4 314.8,139.5 315.1,142.4 304.0,141.0" fill="#7ccaf8" stroke="#7ccaf8"/><polygon points="304.0,141.0 315.1,142.4 315.5,145.3 304.2,143.7" fill="#7dcbf8" stroke="#7dcbf8"/><polygon points="304.2,143.7 315.5,145.3 315.8,148.4 304.5,146.6" fill="#7ecdf8" stroke="#7ecdf8"/><polygon points="304.5,146.6 315.8,148.4 316.2,151.5 304.7,149.5" fill="#7fcef8" stroke="#7fcef8"/><polygon points="304.7,149.5 316.2,151.5 316.5,154.7 305.0,152.5" fill="#80cff9" stroke="#80cff9"/><polygon points="305.0,152.5 316.5,154.7 316.9,158.0 305.2,155.6" fill="#82d1f9" stroke="#82d1f9"/><polygon points="305.2,155.6 316.9,158.0 317.3,161.4 305.5,158.7" fill="#83d2f9" stroke="#83d2f9"/><polygon points="305.5,158.7 317.3,161.4 317.7,164.8 305.8,161.9" fill="#84d3f9" stroke="#84d3f9"/><polygon points="305.8,161.9 317.7,164.8 317.5,172.7 305.5,170.3" fill="#8fe1fa" stroke="#8fe1fa"/><polygon points="305.5,170.3 317.5,172.7 317.3,180.5 305.3,178.6" fill="#94e7fb" stroke="#94e7fb"/><polygon points="305.3,178.6 317.3,180.5 317.1,188.4 305.0,186.9" fill="#99ecfc" stroke="#99ecfc"/><polygon points="305.0,186.9 317.1,188.4 316.9,196.3 304.7,195.3" fill="#9bf0fc" stroke="#9bf0fc"/><polygon points="304.7,195.3 316.9,196.3 316.7,204.1 304.5,203.6" fill="#9bf0fc" stroke="#9bf0fc"/><polygon points="314.0,132.5 324.8,133.1 325.1,135.3 314.2,134.4" fill="#7ecdf8" stroke="#7ecdf8"/><polygon points="314.2,134.4 325.1,135.3 325.5,137.9 314.5,136.9" fill="#7fcef8" stroke="#7fcef8"/><polygon points="314.5,136.9 325.5,137.9 325.9,140.7 314.8,139.5" fill="#80cff9" stroke="#80cff9"/><polygon points="314.8,139.5 325.9,140.7 326.3,143.7 315.1,142.4" fill="#81d0f9" stroke="#81d0f9"/><polygon points="315.1,142.4 326.3,143.7 326.7,146.9 315.5,145.3" fill="#82d1f9" stroke="#82d1f9"/><polygon points="315.5,145.3 326.7,146.9 327.2,150.1 315.8,148.4" fill="#83d3f9" stroke="#83d3f9"/><polygon points="315.8,148.4 327.2,150.1 327.6,153.4 316.2,151.5" fill="#84d4f9" stroke="#84d4f9"/><polygon points="316.2,151.5 327.6,153.4 328.1,156.8 316.5,154.7" fill="#85d5f9" stroke="#85d5f9"/><polygon points="316.5,154.7 328.1,156.8 328.6,160.2 316.9,158.0" fill="#86d6f9" stroke="#86d6f9"/><polygon points="316.9,158.0 328.6,160.2 329.1,163.7 317.3,161.4" fill="#87d7f9" stroke="#87d7f9"/><polygon points="317.3,161.4 329.1,163.7 329.6,167.3 317.7,164.8" fill="#88d8fa" stroke="#88d8fa"/><polygon points="317.7,164.8 329.6,167.3 329.5,174.8 317.5,172.7" fill="#92e4fb" stroke="#92e4fb"/><polygon points="317.5,172.7 329.5,174.8 329.4,182.3 317.3,180.5" fill="#96e9fb" stroke="#96e9fb"/><polygon points="317.3,180.5 329.4,182.3 329.2,189.8 317.1,188.4" fill="#9aeefc" stroke="#9aeefc"/><polygon points="317.1,188.4 329.2,189.8 329.1,197.2 316.9,196.3" fill="#9df1fc" stroke="#9df1fc"/><polygon points="316.9,196.3 329.1,197.2 329.0,204.7 316.7,204.1" fill="#9df1fc" stroke="#9df1fc"/><polygon points="324.8,133.1 335.6,134.0 336.0,136.4 325.1,135.3" fill="#83d3f9" stroke="#83d3f9"/><polygon points="325.1,135.3 336.0,136.4 336.4,139.1 325.5,137.9" fill="#84d4f9" stroke="#84d4f9"/><polygon points="325.5,137.9 336.4,139.1 336.9,142.2 325.9,140.7" fill="#85d5f9" stroke="#85d5f9"/><polygon points="325.9,140.7 336.9,142.2 337.5,145.3 326.3,143.7" fill="#86d6f9" stroke="#86d6f9"/><polygon points="326.3,143.7 337.5,145.3 338.0,148.6 326.7,146.9" fill="#87d7f9" stroke="#87d7f9"/><polygon points="326.7,146.9 338.0,148.6 338.6,151.9 327.2,150.1" fill="#88d8f9" stroke="#88d8f9"/><polygon points="327.2,150.1 338.6,151.9 339.1,155.4 327.6,153.4" fill="#89d9f9" stroke="#89d9f9"/><polygon points="327.6,153.4 339.1,155.4 339.7,158.9 328.1,156.8" fill="#89daf9" stroke="#89daf9"/><polygon points="328.1,156.8 339.7,158.9 340.3,162.5 328.6,160.2" fill="#8adbfa" stroke="#8adbfa"/><polygon points="328.6,160.2 340.3,162.5 340.9,166.1 329.1,163.7" fill="#8bdcfa" stroke="#8bdcfa"/><polygon points="329.1,163.7 340.9,166.1 341.5,169.8 329.6,167.3" fill="#8cddfa" stroke="#8cddfa"/><polygon points="329.6,167.3 341.5,169.8 341.4,176.9 329.5,174.8" fill="#95e7fb" stroke="#95e7fb"/><polygon points="329.5,174.8 341.4,176.9 341.4,184.0 329.4,182.3" fill="#98ebfb" stroke="#98ebfb"/><polygon points="329.4,182.3 341.4,184.0 341.3,191.2 329.2,189.8" fill="#9beffb" stroke="#9beffb"/><polygon points="329.2,189.8 341.3,191.2 341.3,198.3 329.1,197.2" fill="#9ef2fc" stroke="#9ef2fc"/><polygon points="329.1,197.2 341.3,198.3 341.2,205.4 329.0,204.7" fill="#9ef2fc" stroke="#9ef2fc"/><polygon points="335.6,134.0 346.4,134.5 346.9,137.1 336.0,136.4" fill="#89d8f9" stroke="#89d8f9"/><polygon points="336.0,136.4 346.9,137.1 347.4,140.1 336.4,139.1" fill="#89d9f9" stroke="#89d9f9"/><polygon points="336.4,139.1 347.4,140.1 348.0,143.3 336.9,142.2" fill="#8adaf9" stroke="#8adaf9"/><polygon points="336.9,142.2 348.0,143.3 348.6,146.6 337.5,145.3" fill="#8bdbfa" stroke="#8bdbfa"/><polygon points="337.5,145.3 348.6,146.6 349.3,150.1 338.0,148.6" fill="#8cdcfa" stroke="#8cdcfa"/><polygon points="338.0,148.6 349.3,150.1 349.9,153.7 338.6,151.9" fill="#8cddfa" stroke="#8cddfa"/><polygon points="338.6,151.9 349.9,153.7 350.6,157.3 339.1,155.4" fill="#8ddefa" stroke="#8ddefa"/><polygon points="339.1,155.4 350.6,157.3 351.3,161.0 339.7,158.9" fill="#8edefa" stroke="#8edefa"/><polygon points="339.7,158.9 351.3,161.0 352.0,164.7 340.3,162.5" fill="#8edffa" stroke="#8edffa"/><polygon points="340.3,162.5 352.0,164.7 352.7,168.5 340.9,166.1" fill="#8fe0fa" stroke="#8fe0fa"/><polygon points="340.9,166.1 352.7,168.5 353.4,172.4 341.5,169.8" fill="#90e1fa" stroke="#90e1fa"/><polygon points="341.5,169.8 353.4,172.4 353.4,179.2 341.4,176.9" fill="#97eafb" stroke="#97eafb"/><polygon points="341.4,176.9 353.4,179.2 353.4,185.9 341.4,184.0" fill="#9aedfb" stroke="#9aedfb"/><polygon points="341.4,184.0 353.4,185.9 353.5,192.7 341.3,191.2" fill="#9df0fb" stroke="#9df0fb"/><polygon points="341.3,191.2 353.5,192.7 353.5,199.5 341.3,198.3" fill="#9ff3fc" stroke="#9ff3fc"/><polygon points="341.3,198.3 353.5,199.5 353.5,206.2 341.2,205.4" fill="#9ff3fc" stroke="#9ff3fc"/><polygon points="346.4,134.5 357.2,133.9 357.8,136.8 346.9,137.1" fill="#8edefa" stroke="#8edefa"/><polygon points="346.9,137.1 357.8,136.8 358.4,140.1 347.4,140.1" fill="#8fdffa" stroke="#8fdffa"/><polygon points="347.4,140.1 358.4,140.1 359.1,143.7 348.0,143.3" fill="#8fe0fa" stroke="#8fe0fa"/><polygon points="348.0,143.3 359.1,143.7 359.8,147.4 348.6,146.6" fill="#90e0fa" stroke="#90e0fa"/><polygon points="348.6,146.6 359.8,147.4 360.6,151.2 349.3,150.1" fill="#90e1fa" stroke="#90e1fa"/><polygon points="349.3,150.1 360.6,151.2 361.3,155.1 349.9,153.7" fill="#91e2fa" stroke="#91e2fa"/><polygon points="349.9,153.7 361.3,155.1 362.1,159.1 350.6,157.3" fill="#91e2fa" stroke="#91e2fa"/><polygon points="350.6,157.3 362.1,159.1 362.9,163.1 351.3,161.0" fill="#92e3fa" stroke="#92e3fa"/><polygon points="351.3,161.0 362.9,163.1 363.7,167.2 352.0,164.7" fill="#92e4fa" stroke="#92e4fa"/><polygon points="352.0,164.7 363.7,167.2 364.5,171.3 352.7,168.5" fill="#93e4fa" stroke="#93e4fa"/><polygon points="352.7,168.5 364.5,171.3 365.3,175.5 353.4,172.4" fill="#94e5fa" stroke="#94e5fa"/><polygon points="353.4,172.4 365.3,175.5 365.4,181.8 353.4,179.2" fill="#99ecfb" stroke="#99ecfb"/><polygon points="353.4,179.2 365.4,181.8 365.5,188.2 353.4,185.9" fill="#9ceffb" stroke="#9ceffb"/><polygon points="353.4,185.9 365.5,188.2 365.6,194.5 353.5,192.7" fill="#9ef2fb" stroke="#9ef2fb"/><polygon points="353.5,192.7 365.6,194.5 365.7,200.8 353.5,199.5" fill="#9ff3fb" stroke="#9ff3fb"/><polygon points="353.5,199.5 365.7,200.8 365.8,207.1 353.5,206.2" fill="#9ff3fb" stroke="#9ff3fb"/><polygon points="357.2,133.9 368.0,132.5 368.7,135.9 357.8,136.8" fill="#93e4fa" stroke="#93e4fa"/><polygon points="357.8,136.8 368.7,135.9 369.4,139.7 358.4,140.1" fill="#94e5fa" stroke="#94e5fa"/><polygon points="358.4,140.1 369.4,139.7 370.2,143.8 359.1,143.7" fill="#94e5fa" stroke="#94e5fa"/><polygon points="359.1,143.7 370.2,143.8 371.0,147.9 359.8,147.4" fill="#94e6fa" stroke="#94e6fa"/><polygon points="359.8,147.4 371.0,147.9 371.9,152.2 360.6,151.2" fill="#95e6fa" stroke="#95e6fa"/><polygon points="360.6,151.2 371.9,152.2 372.7,156.5 361.3,155.1" fill="#95e7fa" stroke="#95e7fa"/><polygon points="361.3,155.1 372.7,156.5 373.6,160.9 362.1,159.1" fill="#96e7fa" stroke="#96e7fa"/><polygon points="362.1,159.1 373.6,160.9 374.5,165.4 362.9,163.1" fill="#96e8fa" stroke="#96e8fa"/><polygon points="362.9,163.1 374.5,165.4 375.4,169.9 363.7,167.2" fill="#97e8fa" stroke="#97e8fa"/><polygon points="363.7,167.2 375.4,169.9 376.3,174.5 364.5,171.3" fill="#97e9fb" stroke="#97e9fb"/><polygon points="364.5,171.3 376.3,174.5 377.2,179.1 365.3,175.5" fill="#97e9fb" stroke="#97e9fb"/><polygon points="365.3,175.5 377.2,179.1 377.4,184.9 365.4,181.8" fill="#9ceffb" stroke="#9ceffb"/><polygon points="365.4,181.8 377.4,184.9 377.5,190.8 365.5,188.2" fill="#9ef1fb" stroke="#9ef1fb"/><polygon points="365.5,188.2 377.5,190.8 377.7,196.6 365.6,194.5" fill="#9ff3fb" stroke="#9ff3fb"/><polygon points="365.6,194.5 377.7,196.6 377.9,202.4 365.7,200.8" fill="#a0f4fb" stroke="#a0f4fb"/><polygon points="365.7,200.8 377.9,202.4 378.0,208.2 365.8,207.1" fill="#a0f4fb" stroke="#a0f4fb"/><polygon points="368.0,132.5 378.8,131.1 379.6,135.0 368.7,135.9" fill="#98eafb" stroke="#98eafb"/><polygon points="368.7,135.9 379.6,135.0 380.4,139.2 369.4,139.7" fill="#99eafb" stroke="#99eafb"/><polygon points="369.4,139.7 380.4,139.2 381.3,143.6 370.2,143.8" fill="#99ebfb" stroke="#99ebfb"/><polygon points="370.2,143.8 381.3,143.6 382.3,148.2 371.0,147.9" fill="#99ebfb" stroke="#99ebfb"/><polygon points="371.0,147.9 382.3,148.2 383.2,152.8 371.9,152.2" fill="#9aebfb" stroke="#9aebfb"/><polygon points="371.9,152.2 383.2,152.8 384.2,157.5 372.7,156.5" fill="#9aecfb" stroke="#9aecfb"/><polygon points="372.7,156.5 384.2,157.5 385.1,162.3 373.6,160.9" fill="#9aecfb" stroke="#9aecfb"/><polygon points="373.6,160.9 385.1,162.3 386.1,167.1 374.5,165.4" fill="#9aedfb" stroke="#9aedfb"/><polygon points="374.5,165.4 386.1,167.1 387.1,172.0 375.4,169.9" fill="#9bedfb" stroke="#9bedfb"/><polygon points="375.4,169.9 387.1,172.0 388.1,176.9 376.3,174.5" fill="#9bedfb" stroke="#9bedfb"/><polygon points="376.3,174.5 388.1,176.9 389.1,181.9 377.2,179.1" fill="#9beefb" stroke="#9beefb"/><polygon points="377.2,179.1 389.1,181.9 389.3,187.4 377.4,184.9" fill="#9ef1fb" stroke="#9ef1fb"/><polygon points="377.4,184.9 389.3,187.4 389.6,192.9 377.5,190.8" fill="#9ff3fb" stroke="#9ff3fb"/><polygon points="377.5,190.8 389.6,192.9 389.8,198.4 377.7,196.6" fill="#a1f4fb" stroke="#a1f4fb"/><polygon points="377.7,196.6 389.8,198.4 390.1,203.9 377.9,202.4" fill="#a1f5fb" stroke="#a1f5fb"/><polygon points="377.9,202.4 390.1,203.9 390.3,209.4 378.0,208.2" fill="#a1f5fb" stroke="#a1f5fb"/><polygon points="378.8,131.1 389.6,130.0 390.5,134.2 379.6,135.0" fill="#9ceefb" stroke="#9ceefb"/><polygon points="379.6,135.0 390.5,134.2 391.5,138.8 380.4,139.2" fill="#9deffb" stroke="#9deffb"/><polygon points="380.4,139.2 391.5,138.8 392.5,143.5 381.3,143.6" fill="#9deffb" stroke="#9deffb"/><polygon points="381.3,143.6 392.5,143.5 393.5,148.4 382.3,148.2" fill="#9deffb" stroke="#9deffb"/><polygon points="382.3,148.2 393.5,148.4 394.5,153.3 383.2,152.8" fill="#9deffb" stroke="#9deffb"/><polygon points="383.2,152.8 394.5,153.3 395.6,158.2 384.2,157.5" fill="#9df0fb" stroke="#9df0fb"/><polygon points="384.2,157.5 395.6,158.2 396.7,163.3 385.1,162.3" fill="#9ef0fb" stroke="#9ef0fb"/><polygon points="385.1,162.3 396.7,163.3 397.7,168.3 386.1,167.1" fill="#9ef0fb" stroke="#9ef0fb"/><polygon points="386.1,167.1 397.7,168.3 398.8,173.4 387.1,172.0" fill="#9ef0fb" stroke="#9ef0fb"/><polygon points="387.1,172.0 398.8,173.4 399.9,178.6 388.1,176.9" fill="#9ef1fb" stroke="#9ef1fb"/><polygon points="388.1,176.9 399.9,178.6 401.0,183.8 389.1,181.9" fill="#9ef1fb" stroke="#9ef1fb"/><polygon points="389.1,181.9 401.0,183.8 401.3,189.2 389.3,187.4" fill="#a0f3fb" stroke="#a0f3fb"/><polygon points="389.3,187.4 401.3,189.2 401.6,194.6 389.6,192.9" fill="#a1f4fb" stroke="#a1f4fb"/><polygon points="389.6,192.9 401.6,194.6 401.9,200.1 389.8,198.4" fill="#a2f5fb" stroke="#a2f5fb"/><polygon points="389.8,198.4 401.9,200.1 402.2,205.5 390.1,203.9" fill="#a2f6fb" stroke="#a2f6fb"/><polygon points="390.1,203.9 402.2,205.5 402.6,210.9 390.3,209.4" fill="#a2f6fb" stroke="#a2f6fb"/><polygon points="389.6,130.0 400.4,128.9 401.4,133.5 390.5,134.2" fill="#9ef0fb" stroke="#9ef0fb"/><polygon points="390.5,134.2 401.4,133.5 402.5,138.4 391.5,138.8" fill="#9ef0fb" stroke="#9ef0fb"/><polygon points="391.5,138.8 402.5,138.4 403.6,143.4 392.5,143.5" fill="#9ef0fb" stroke="#9ef0fb"/><polygon points="392.5,143.5 403.6,143.4 404.7,148.5 393.5,148.4" fill="#9ef0fb" stroke="#9ef0fb"/><polygon points="393.5,148.4 404.7,148.5 405.9,153.6 394.5,153.3" fill="#9ef1fb" stroke="#9ef1fb"/><polygon points="394.5,153.3 405.9,153.6 407.0,158.8 395.6,158.2" fill="#9ef1fb" stroke="#9ef1fb"/><polygon points="395.6,158.2 407.0,158.8 408.2,164.0 396.7,163.3" fill="#9ff1fb" stroke="#9ff1fb"/><polygon points="396.7,163.3 408.2,164.0 409.4,169.3 397.7,168.3" fill="#9ff1fb" stroke="#9ff1fb"/><polygon points="397.7,168.3 409.4,169.3 410.5,174.6 398.8,173.4" fill="#9ff1fb" stroke="#9ff1fb"/><polygon points="398.8,173.4 410.5,174.6 411.7,179.9 399.9,178.6" fill="#9ff2fb" stroke="#9ff2fb"/><polygon points="399.9,178.6 411.7,179.9 412.9,185.2 401.0,183.8" fill="#9ff2fb" stroke="#9ff2fb"/><polygon points="401.0,183.8 412.9,185.2 413.3,190.7 401.3,189.2" fill="#a1f4fb" stroke="#a1f4fb"/><polygon points="401.3,189.2 413.3,190.7 413.7,196.2 401.6,194.6" fill="#a2f5fb" stroke="#a2f5fb"/><polygon points="401.6,194.6 413.7,196.2 414.0,201.6 401.9,200.1" fill="#a2f5fb" stroke="#a2f5fb"/><polygon points="401.9,200.1 414.0,201.6 414.4,207.1 402.2,205.5" fill="#a3f6fb" stroke="#a3f6fb"/><polygon points="402.2,205.5 414.4,207.1 414.8,212.6 402.6,210.9" fill="#a3f6fb" stroke="#a3f6fb"/><polygon points="400.4,128.9 411.2,127.9 412.3,132.8 401.4,133.5" fill="#9ff1fb" stroke="#9ff1fb"/><polygon points="401.4,133.5 412.3,132.8 413.5,138.0 402.5,138.4" fill="#9ff1fb" stroke="#9ff1fb"/><polygon points="402.5,138.4 413.5,138.0 414.8,143.2 403.6,143.4" fill="#9ff1fb" stroke="#9ff1fb"/><polygon points="403.6,143.4 414.8,143.2 416.0,148.5 404.7,148.5" fill="#9ff1fb" stroke="#9ff1fb"/><polygon points="404.7,148.5 416.0,148.5 417.2,153.9 405.9,153.6" fill="#9ff2fb" stroke="#9ff2fb"/><polygon points="405.9,153.6 417.2,153.9 418.5,159.2 407.0,158.8" fill="#a0f2fb" stroke="#a0f2fb"/><polygon points="407.0,158.8 418.5,159.2 419.7,164.6 408.2,164.0" fill="#a0f2fb" stroke="#a0f2fb"/><polygon points="408.2,164.0 419.7,164.6 421.0,170.1 409.4,169.3" fill="#a0f2fb" stroke="#a0f2fb"/><polygon points="409.4,169.3 421.0,170.1 422.3,175.5 410.5,174.6" fill="#a0f2fb" stroke="#a0f2fb"/><polygon points="410.5,174.6 422.3,175.5 423.5,181.0 411.7,179.9" fill="#a0f2fb" stroke="#a0f2fb"/><polygon points="411.7,179.9 423.5,181.0 424.8,186.5 412.9,185.2" fill="#a0f3fb" stroke="#a0f3fb"/><polygon points="412.9,185.2 424.8,186.5 425.3,192.1 413.3,190.7" fill="#a2f4fb" stroke="#a2f4fb"/><polygon points="413.3,190.7 425.3,192.1 425.7,197.6 413.7,196.2" fill="#a2f5fb" stroke="#a2f5fb"/><polygon points="413.7,196.2 425.7,197.6 426.2,203.2 414.0,201.6" fill="#a3f6fb" stroke="#a3f6fb"/><polygon points="414.0,201.6 426.2,203.2 426.6,208.8 414.4,207.1" fill="#a3f6fb" stroke="#a3f6fb"/><polygon points="414.4,207.1 426.6,208.8 427.1,214.4 414.8,212.6" fill="#a3f6fb" stroke="#a3f6fb"/><polygon points="411.2,127.9 422.0,127.0 423.3,132.3 412.3,132.8" fill="#a0f2fb" stroke="#a0f2fb"/><polygon points="412.3,132.8 423.3,132.3 424.6,137.7 413.5,138.0" fill="#a0f2fb" stroke="#a0f2fb"/><polygon points="413.5,138.0 424.6,137.7 425.9,143.2 414.8,143.2" fill="#a0f2fb" stroke="#a0f2fb"/><polygon points="414.8,143.2 425.9,143.2 427.3,148.7 416.0,148.5" fill="#a0f3fb" stroke="#a0f3fb"/><polygon points="416.0,148.5 427.3,148.7 428.6,154.2 417.2,153.9" fill="#a1f3fb" stroke="#a1f3fb"/><polygon points="417.2,153.9 428.6,154.2 429.9,159.7 418.5,159.2" fill="#a1f3fb" stroke="#a1f3fb"/><polygon points="418.5,159.2 429.9,159.7 431.3,165.3 419.7,164.6" fill="#a1f3fb" stroke="#a1f3fb"/><polygon points="419.7,164.6 431.3,165.3 432.6,170.8 421.0,170.1" fill="#a1f3fb" stroke="#a1f3fb"/><polygon points="421.0,170.1 432.6,170.8 434.0,176.4 422.3,175.5" fill="#a1f3fb" stroke="#a1f3fb"/><polygon points="422.3,175.5 434.0,176.4 435.3,182.0 423.5,181.0" fill="#a1f3fb" stroke="#a1f3fb"/><polygon points="423.5,181.0 435.3,182.0 436.7,187.6 424.8,186.5" fill="#a1f3fb" stroke="#a1f3fb"/><polygon points="424.8,186.5 436.7,187.6 437.2,193.3 425.3,192.1" fill="#a2f5fb" stroke="#a2f5fb"/><polygon points="425.3,192.1 437.2,193.3 437.8,199.1 425.7,197.6" fill="#a3f5fb" stroke="#a3f5fb"/><polygon points="425.7,197.6 437.8,199.1 438.3,204.9 426.2,203.2" fill="#a3f6fb" stroke="#a3f6fb"/><polygon points="426.2,203.2 438.3,204.9 438.8,210.7 426.6,208.8" fill="#a3f6fb" stroke="#a3f6fb"/><polygon points="426.6,208.8 438.8,210.7 439.3,216.4 427.1,214.4" fill="#a3f6fb" stroke="#a3f6fb"/><polygon points="422.0,127.0 432.8,126.0 434.2,131.7 423.3,132.3" fill="#a1f3fb" stroke="#a1f3fb"/><polygon points="423.3,132.3 434.2,131.7 435.7,137.4 424.6,137.7" fill="#a1f4fb" stroke="#a1f4fb"/><polygon points="424.6,137.7 435.7,137.4 437.1,143.0 425.9,143.2" fill="#a2f4fb" stroke="#a2f4fb"/><polygon points="425.9,143.2 437.1,143.0 438.5,148.7 427.3,148.7" fill="#a2f4fb" stroke="#a2f4fb"/><polygon points="427.3,148.7 438.5,148.7 440.0,154.4 428.6,154.2" fill="#a2f4fb" stroke="#a2f4fb"/><polygon points="428.6,154.2 440.0,154.4 441.4,160.1 429.9,159.7" fill="#a2f4fb" stroke="#a2f4fb"/><polygon points="429.9,159.7 441.4,160.1 442.9,165.8 431.3,165.3" fill="#a2f4fb" stroke="#a2f4fb"/><polygon points="431.3,165.3 442.9,165.8 444.3,171.4 432.6,170.8" fill="#a2f4fb" stroke="#a2f4fb"/><polygon points="432.6,170.8 444.3,171.4 445.7,177.1 434.0,176.4" fill="#a2f4fb" stroke="#a2f4fb"/><polygon points="434.0,176.4 445.7,177.1 447.2,182.8 435.3,182.0" fill="#a2f4fb" stroke="#a2f4fb"/><polygon points="435.3,182.0 447.2,182.8 448.6,188.5 436.7,187.6" fill="#a2f4fb" stroke="#a2f4fb"/><polygon points="436.7,187.6 448.6,188.5 449.2,194.5 437.2,193.3" fill="#a3f5fb" stroke="#a3f5fb"/><polygon points="437.2,193.3 449.2,194.5 449.8,200.6 437.8,199.1" fill="#a3f5fb" stroke="#a3f5fb"/><polygon points="437.8,199.1 449.8,200.6 450.4,206.6 438.3,204.9" fill="#a4f6fb" stroke="#a4f6fb"/><polygon points="438.3,204.9 450.4,206.6 451.0,212.7 438.8,210.7" fill="#a4f6fb" stroke="#a4f6fb"/><polygon points="438.8,210.7 451.0,212.7 451.6,218.7 439.3,216.4" fill="#a4f6fb" stroke="#a4f6fb"/></g><g stroke="#0b1622" stroke-width="0.62" fill="none" stroke-linejoin="round" stroke-linecap="round"><polyline points="87.2,124.0 85.4,129.8 83.7,135.6 81.9,141.4 80.1,147.2 78.4,153.0 76.6,158.8 74.9,164.6 73.1,170.3 71.3,176.1 69.6,181.9 67.8,187.7 66.1,192.9 64.4,198.1 62.6,203.2 60.9,208.4 59.2,213.6"/><polyline points="108.8,127.8 107.3,132.7 105.8,137.9 104.3,143.1 102.7,148.4 101.2,153.7 99.6,159.1 98.0,164.5 96.4,169.9 94.8,175.3 93.2,180.8 91.6,186.3 90.0,191.3 88.5,196.4 86.9,201.5 85.3,206.6 83.7,211.7"/><polyline points="130.4,130.8 129.2,134.9 127.9,139.4 126.6,144.0 125.3,148.8 123.9,153.6 122.5,158.5 121.1,163.4 119.7,168.4 118.3,173.4 116.8,178.5 115.4,183.6 114.0,188.7 112.5,193.9 111.1,199.1 109.7,204.2 108.2,209.4"/><polyline points="152.0,134.0 151.1,137.2 150.0,140.9 148.9,144.7 147.8,148.7 146.6,152.8 145.4,156.9 144.2,161.2 143.0,165.4 141.7,169.7 140.5,174.1 139.2,178.5 137.9,184.2 136.6,189.9 135.3,195.6 134.1,201.2 132.8,206.9"/><polyline points="173.6,134.5 172.9,137.0 172.0,140.1 171.1,143.3 170.2,146.6 169.2,150.1 168.2,153.6 167.2,157.3 166.2,161.0 165.1,164.7 164.1,168.5 163.0,172.4 161.9,178.8 160.7,185.3 159.6,191.8 158.4,198.3 157.3,204.8"/><polyline points="195.2,132.2 194.7,134.4 194.0,137.1 193.3,140.0 192.6,143.1 191.8,146.3 191.0,149.6 190.2,153.0 189.4,156.5 188.5,160.0 187.7,163.6 186.8,167.3 185.8,174.5 184.8,181.6 183.8,188.8 182.8,196.0 181.8,203.2"/><polyline points="216.8,131.2 216.4,132.9 216.0,135.2 215.5,137.7 214.9,140.4 214.4,143.2 213.8,146.1 213.2,149.1 212.6,152.2 211.9,155.3 211.3,158.6 210.6,161.8 209.8,169.9 208.9,178.0 208.1,186.0 207.2,194.1 206.4,202.2"/><polyline points="238.4,130.8 238.2,132.1 237.9,133.9 237.6,135.8 237.2,137.9 236.9,140.2 236.5,142.5 236.1,144.9 235.7,147.4 235.3,150.0 234.8,152.6 234.4,155.3 233.7,164.6 233.0,173.8 232.3,183.0 231.6,192.2 230.9,201.5"/><polyline points="260.0,130.8 259.9,131.8 259.8,133.1 259.6,134.7 259.5,136.4 259.3,138.2 259.2,140.0 259.0,142.0 258.8,144.0 258.6,146.1 258.4,148.3 258.2,150.5 257.6,160.6 257.1,170.7 256.5,180.8 256.0,190.9 255.4,201.0"/><polyline points="281.6,131.2 281.6,132.5 281.7,134.3 281.7,136.2 281.7,138.3 281.8,140.5 281.8,142.8 281.8,145.2 281.9,147.6 281.9,150.2 282.0,152.8 282.0,155.4 281.6,164.8 281.2,174.1 280.8,183.4 280.3,192.8 279.9,202.1"/><polyline points="303.2,132.0 303.4,133.7 303.5,135.9 303.8,138.4 304.0,141.0 304.2,143.7 304.5,146.6 304.7,149.5 305.0,152.5 305.2,155.6 305.5,158.7 305.8,161.9 305.5,170.3 305.3,178.6 305.0,186.9 304.7,195.3 304.5,203.6"/><polyline points="324.8,133.1 325.1,135.3 325.5,137.9 325.9,140.7 326.3,143.7 326.7,146.9 327.2,150.1 327.6,153.4 328.1,156.8 328.6,160.2 329.1,163.7 329.6,167.3 329.5,174.8 329.4,182.3 329.2,189.8 329.1,197.2 329.0,204.7"/><polyline points="346.4,134.5 346.9,137.1 347.4,140.1 348.0,143.3 348.6,146.6 349.3,150.1 349.9,153.7 350.6,157.3 351.3,161.0 352.0,164.7 352.7,168.5 353.4,172.4 353.4,179.2 353.4,185.9 353.5,192.7 353.5,199.5 353.5,206.2"/><polyline points="368.0,132.5 368.7,135.9 369.4,139.7 370.2,143.8 371.0,147.9 371.9,152.2 372.7,156.5 373.6,160.9 374.5,165.4 375.4,169.9 376.3,174.5 377.2,179.1 377.4,184.9 377.5,190.8 377.7,196.6 377.9,202.4 378.0,208.2"/><polyline points="389.6,130.0 390.5,134.2 391.5,138.8 392.5,143.5 393.5,148.4 394.5,153.3 395.6,158.2 396.7,163.3 397.7,168.3 398.8,173.4 399.9,178.6 401.0,183.8 401.3,189.2 401.6,194.6 401.9,200.1 402.2,205.5 402.6,210.9"/><polyline points="411.2,127.9 412.3,132.8 413.5,138.0 414.8,143.2 416.0,148.5 417.2,153.9 418.5,159.2 419.7,164.6 421.0,170.1 422.3,175.5 423.5,181.0 424.8,186.5 425.3,192.1 425.7,197.6 426.2,203.2 426.6,208.8 427.1,214.4"/><polyline points="432.8,126.0 434.2,131.7 435.7,137.4 437.1,143.0 438.5,148.7 440.0,154.4 441.4,160.1 442.9,165.8 444.3,171.4 445.7,177.1 447.2,182.8 448.6,188.5 449.2,194.5 449.8,200.6 450.4,206.6 451.0,212.7 451.6,218.7"/><polyline points="87.2,124.0 98.0,125.9 108.8,127.8 119.6,129.4 130.4,130.8 141.2,132.2 152.0,134.0 162.8,135.2 173.6,134.5 184.4,133.0 195.2,132.2 206.0,131.5 216.8,131.2 227.6,130.9 238.4,130.8 249.2,130.8 260.0,130.8 270.8,130.9 281.6,131.2 292.4,131.6 303.2,132.0 314.0,132.5 324.8,133.1 335.6,134.0 346.4,134.5 357.2,133.9 368.0,132.5 378.8,131.1 389.6,130.0 400.4,128.9 411.2,127.9 422.0,127.0 432.8,126.0"/><polyline points="85.4,129.8 96.4,131.3 107.3,132.7 118.3,133.9 129.2,134.9 140.2,135.9 151.1,137.2 162.0,138.0 172.9,137.0 183.8,135.4 194.7,134.4 205.6,133.5 216.4,132.9 227.3,132.4 238.2,132.1 249.0,131.9 259.9,131.8 270.8,132.1 281.6,132.5 292.5,133.1 303.4,133.7 314.2,134.4 325.1,135.3 336.0,136.4 346.9,137.1 357.8,136.8 368.7,135.9 379.6,135.0 390.5,134.2 401.4,133.5 412.3,132.8 423.3,132.3 434.2,131.7"/><polyline points="83.7,135.6 94.8,136.8 105.8,137.9 116.9,138.7 127.9,139.4 139.0,140.0 150.0,140.9 161.0,141.2 172.0,140.1 183.0,138.3 194.0,137.1 205.0,136.0 216.0,135.2 226.9,134.4 237.9,133.9 248.8,133.4 259.8,133.1 270.7,133.6 281.7,134.3 292.6,135.1 303.5,135.9 314.5,136.9 325.5,137.9 336.4,139.1 347.4,140.1 358.4,140.1 369.4,139.7 380.4,139.2 391.5,138.8 402.5,138.4 413.5,138.0 424.6,137.7 435.7,137.4"/><polyline points="81.9,141.4 93.1,142.3 104.3,143.1 115.5,143.7 126.6,144.0 137.8,144.3 148.9,144.7 160.0,144.7 171.1,143.3 182.2,141.4 193.3,140.0 204.4,138.8 215.5,137.7 226.5,136.7 237.6,135.8 248.6,135.1 259.6,134.7 270.7,135.3 281.7,136.2 292.7,137.3 303.8,138.4 314.8,139.5 325.9,140.7 336.9,142.2 348.0,143.3 359.1,143.7 370.2,143.8 381.3,143.6 392.5,143.5 403.6,143.4 414.8,143.2 425.9,143.2 437.1,143.0"/><polyline points="80.1,147.2 91.4,147.8 102.7,148.4 114.0,148.7 125.3,148.8 136.5,148.7 147.8,148.7 159.0,148.2 170.2,146.6 181.4,144.6 192.6,143.1 203.8,141.7 214.9,140.4 226.1,139.1 237.2,137.9 248.4,137.0 259.5,136.4 270.6,137.1 281.7,138.3 292.8,139.6 304.0,141.0 315.1,142.4 326.3,143.7 337.5,145.3 348.6,146.6 359.8,147.4 371.0,147.9 382.3,148.2 393.5,148.4 404.7,148.5 416.0,148.5 427.3,148.7 438.5,148.7"/><polyline points="78.4,153.0 89.8,153.4 101.2,153.7 112.5,153.8 123.9,153.6 135.3,153.2 146.6,152.8 157.9,151.9 169.2,150.1 180.5,148.0 191.8,146.3 203.1,144.7 214.4,143.2 225.6,141.6 236.9,140.2 248.1,139.0 259.3,138.2 270.5,139.1 281.8,140.5 293.0,142.1 304.2,143.7 315.5,145.3 326.7,146.9 338.0,148.6 349.3,150.1 360.6,151.2 371.9,152.2 383.2,152.8 394.5,153.3 405.9,153.6 417.2,153.9 428.6,154.2 440.0,154.4"/><polyline points="76.6,158.8 88.1,159.0 99.6,159.1 111.1,159.0 122.5,158.5 134.0,157.8 145.4,156.9 156.8,155.6 168.2,153.6 179.6,151.4 191.0,149.6 202.4,147.8 213.8,146.1 225.1,144.2 236.5,142.5 247.8,141.0 259.2,140.0 270.5,141.2 281.8,142.8 293.1,144.6 304.5,146.6 315.8,148.4 327.2,150.1 338.6,151.9 349.9,153.7 361.3,155.1 372.7,156.5 384.2,157.5 395.6,158.2 407.0,158.8 418.5,159.2 429.9,159.7 441.4,160.1"/><polyline points="74.9,164.6 86.4,164.6 98.0,164.5 109.6,164.1 121.1,163.4 132.7,162.5 144.2,161.2 155.7,159.4 167.2,157.3 178.7,155.0 190.2,153.0 201.7,151.1 213.2,149.1 224.6,146.9 236.1,144.9 247.5,143.2 259.0,142.0 270.4,143.3 281.8,145.2 293.3,147.3 304.7,149.5 316.2,151.5 327.6,153.4 339.1,155.4 350.6,157.3 362.1,159.1 373.6,160.9 385.1,162.3 396.7,163.3 408.2,164.0 419.7,164.6 431.3,165.3 442.9,165.8"/><polyline points="73.1,170.3 84.8,170.2 96.4,169.9 108.1,169.4 119.7,168.4 131.3,167.1 143.0,165.4 154.6,163.3 166.2,161.0 177.8,158.6 189.4,156.5 201.0,154.4 212.6,152.2 224.1,149.7 235.7,147.4 247.2,145.4 258.8,144.0 270.3,145.5 281.9,147.6 293.4,150.0 305.0,152.5 316.5,154.7 328.1,156.8 339.7,158.9 351.3,161.0 362.9,163.1 374.5,165.4 386.1,167.1 397.7,168.3 409.4,169.3 421.0,170.1 432.6,170.8 444.3,171.4"/><polyline points="71.3,176.1 83.1,175.8 94.8,175.3 106.6,174.6 118.3,173.4 130.0,171.9 141.7,169.7 153.4,167.2 165.1,164.7 176.8,162.3 188.5,160.0 200.2,157.7 211.9,155.3 223.6,152.6 235.3,150.0 246.9,147.7 258.6,146.1 270.3,147.8 281.9,150.2 293.6,152.9 305.2,155.6 316.9,158.0 328.6,160.2 340.3,162.5 352.0,164.7 363.7,167.2 375.4,169.9 387.1,172.0 398.8,173.4 410.5,174.6 422.3,175.5 434.0,176.4 445.7,177.1"/><polyline points="69.6,181.9 81.4,181.4 93.2,180.8 105.0,179.9 116.8,178.5 128.7,176.7 140.5,174.1 152.3,171.2 164.1,168.5 175.9,166.0 187.7,163.6 199.5,161.2 211.3,158.6 223.1,155.6 234.8,152.6 246.6,150.0 258.4,148.3 270.2,150.1 282.0,152.8 293.7,155.7 305.5,158.7 317.3,161.4 329.1,163.7 340.9,166.1 352.7,168.5 364.5,171.3 376.3,174.5 388.1,176.9 399.9,178.6 411.7,179.9 423.5,181.0 435.3,182.0 447.2,182.8"/><polyline points="67.8,187.7 79.7,187.1 91.6,186.3 103.5,185.2 115.4,183.6 127.3,181.5 139.2,178.5 151.1,175.2 163.0,172.4 174.9,169.8 186.8,167.3 198.7,164.7 210.6,161.8 222.5,158.6 234.4,155.3 246.3,152.4 258.2,150.5 270.1,152.5 282.0,155.4 293.9,158.7 305.8,161.9 317.7,164.8 329.6,167.3 341.5,169.8 353.4,172.4 365.3,175.5 377.2,179.1 389.1,181.9 401.0,183.8 412.9,185.2 424.8,186.5 436.7,187.6 448.6,188.5"/><polyline points="66.1,192.9 78.1,192.2 90.0,191.3 102.0,190.3 114.0,188.7 125.9,186.8 137.9,184.2 149.9,181.4 161.9,178.8 173.8,176.6 185.8,174.5 197.8,172.3 209.8,169.9 221.7,167.2 233.7,164.6 245.7,162.2 257.6,160.6 269.6,162.3 281.6,164.8 293.6,167.5 305.5,170.3 317.5,172.7 329.5,174.8 341.4,176.9 353.4,179.2 365.4,181.8 377.4,184.9 389.3,187.4 401.3,189.2 413.3,190.7 425.3,192.1 437.2,193.3 449.2,194.5"/><polyline points="64.4,198.1 76.4,197.3 88.5,196.4 100.5,195.4 112.5,193.9 124.6,192.1 136.6,189.9 148.7,187.5 160.7,185.3 172.8,183.4 184.8,181.6 196.9,179.9 208.9,178.0 220.9,175.8 233.0,173.8 245.0,171.9 257.1,170.7 269.1,172.0 281.2,174.1 293.2,176.4 305.3,178.6 317.3,180.5 329.4,182.3 341.4,184.0 353.4,185.9 365.5,188.2 377.5,190.8 389.6,192.9 401.6,194.6 413.7,196.2 425.7,197.6 437.8,199.1 449.8,200.6"/><polyline points="62.6,203.2 74.8,202.4 86.9,201.5 99.0,200.5 111.1,199.1 123.2,197.5 135.3,195.6 147.5,193.6 159.6,191.8 171.7,190.2 183.8,188.8 195.9,187.5 208.1,186.0 220.2,184.5 232.3,183.0 244.4,181.7 256.5,180.8 268.6,181.7 280.8,183.4 292.9,185.3 305.0,186.9 317.1,188.4 329.2,189.8 341.3,191.2 353.5,192.7 365.6,194.5 377.7,196.6 389.8,198.4 401.9,200.1 414.0,201.6 426.2,203.2 438.3,204.9 450.4,206.6"/><polyline points="60.9,208.4 73.1,207.6 85.3,206.6 97.5,205.5 109.7,204.2 121.9,202.8 134.1,201.2 146.2,199.7 158.4,198.3 170.6,197.1 182.8,196.0 195.0,195.0 207.2,194.1 219.4,193.1 231.6,192.2 243.8,191.4 256.0,190.9 268.2,191.5 280.3,192.8 292.5,194.1 304.7,195.3 316.9,196.3 329.1,197.2 341.3,198.3 353.5,199.5 365.7,200.8 377.9,202.4 390.1,203.9 402.2,205.5 414.4,207.1 426.6,208.8 438.8,210.7 451.0,212.7"/><polyline points="59.2,213.6 71.5,212.7 83.7,211.7 96.0,210.6 108.2,209.4 120.5,208.1 132.8,206.9 145.0,205.8 157.3,204.8 169.6,203.9 181.8,203.2 194.1,202.6 206.4,202.2 218.6,201.8 230.9,201.5 243.1,201.2 255.4,201.0 267.7,201.2 279.9,202.1 292.2,203.0 304.5,203.6 316.7,204.1 329.0,204.7 341.2,205.4 353.5,206.2 365.8,207.1 378.0,208.2 390.3,209.4 402.6,210.9 414.8,212.6 427.1,214.4 439.3,216.4 451.6,218.7"/></g>
<defs><clipPath id="cl"><polygon points="40.0,-5.0 258.6,-5.0 258.6,102.3 258.0,102.3 254.0,102.6 250.0,103.0 245.9,103.3 241.9,103.8 237.9,104.3 233.9,104.8 229.8,105.4 225.8,106.0 221.8,106.7 217.8,107.4 213.7,108.2 209.7,109.0 205.7,109.8 201.7,110.7 197.6,111.5 193.6,112.2 189.6,113.0 185.6,113.8 181.5,114.7 177.5,115.6 173.5,116.5 169.5,117.4 165.4,118.5 161.4,119.6 157.4,120.8 153.4,122.1 149.3,123.6 145.3,125.2 141.3,126.9 137.3,128.9 133.2,131.2 129.2,133.7 125.2,136.2 121.2,138.4 117.1,140.5 113.1,142.5 109.1,144.5 105.1,146.5 101.0,148.5 97.0,150.5 93.0,152.6 89.0,154.6 84.9,156.5 80.9,158.4 76.9,160.0 72.9,161.0 68.8,161.6 64.8,162.0 60.8,162.2 40.0,162.2"/></clipPath></defs><g clip-path="url(#cl)"><g stroke-width="0.5" stroke-linejoin="round"><polygon points="82.3,4.4 89.6,6.3 88.3,11.8 81.0,10.0" fill="#aaf5fb" stroke="#aaf5fb"/><polygon points="81.0,10.0 88.3,11.8 87.2,16.7 79.8,15.0" fill="#abf5fb" stroke="#abf5fb"/><polygon points="79.8,15.0 87.2,16.7 86.1,21.6 78.7,20.0" fill="#abf5fb" stroke="#abf5fb"/><polygon points="78.7,20.0 86.1,21.6 84.9,27.0 77.4,25.6" fill="#acf5fb" stroke="#acf5fb"/><polygon points="77.4,25.6 84.9,27.0 83.6,32.3 76.0,31.0" fill="#adf5fb" stroke="#adf5fb"/><polygon points="76.0,31.0 83.6,32.3 82.1,38.2 74.5,37.0" fill="#adf4fb" stroke="#adf4fb"/><polygon points="74.5,37.0 82.1,38.2 80.7,44.1 73.1,43.0" fill="#aef4fb" stroke="#aef4fb"/><polygon points="73.1,43.0 80.7,44.1 79.3,50.9 71.6,50.0" fill="#aff4fb" stroke="#aff4fb"/><polygon points="71.6,50.0 79.3,50.9 78.0,58.7 70.2,58.0" fill="#b0f4fb" stroke="#b0f4fb"/><polygon points="70.2,58.0 78.0,58.7 76.6,67.5 68.7,67.0" fill="#b1f4fa" stroke="#b1f4fa"/><polygon points="68.7,67.0 76.6,67.5 75.1,77.6 67.2,77.0" fill="#b2f4fa" stroke="#b2f4fa"/><polygon points="67.2,77.0 75.1,77.6 73.9,86.5 65.8,85.6" fill="#b3f4fa" stroke="#b3f4fa"/><polygon points="65.8,85.6 73.9,86.5 72.5,97.2 64.4,96.0" fill="#b4f3fa" stroke="#b4f3fa"/><polygon points="64.4,96.0 72.5,97.2 71.4,110.4 63.3,109.0" fill="#b9f3fa" stroke="#b9f3fa"/><polygon points="63.3,109.0 71.4,110.4 70.5,125.7 62.3,124.0" fill="#cbf1fa" stroke="#cbf1fa"/><polygon points="62.3,124.0 70.5,125.7 69.8,142.0 61.6,140.0" fill="#e3eefa" stroke="#e3eefa"/><polygon points="61.6,140.0 69.8,142.0 69.2,160.3 61.0,158.0" fill="#f3ecfa" stroke="#f3ecfa"/><polygon points="61.0,158.0 69.2,160.3 67.8,182.5 59.5,180.0" fill="#f3ecfa" stroke="#f3ecfa"/><polygon points="59.5,180.0 67.8,182.5 65.4,206.7 57.0,204.0" fill="#f3ecfa" stroke="#f3ecfa"/><polygon points="89.6,6.3 96.8,8.2 95.7,13.6 88.3,11.8" fill="#aaf5fb" stroke="#aaf5fb"/><polygon points="88.3,11.8 95.7,13.6 94.6,18.4 87.2,16.7" fill="#abf5fb" stroke="#abf5fb"/><polygon points="87.2,16.7 94.6,18.4 93.6,23.2 86.1,21.6" fill="#abf5fb" stroke="#abf5fb"/><polygon points="86.1,21.6 93.6,23.2 92.3,28.5 84.9,27.0" fill="#acf5fb" stroke="#acf5fb"/><polygon points="84.9,27.0 92.3,28.5 91.1,33.7 83.6,32.3" fill="#adf4fb" stroke="#adf4fb"/><polygon points="83.6,32.3 91.1,33.7 89.7,39.4 82.1,38.2" fill="#adf4fb" stroke="#adf4fb"/><polygon points="82.1,38.2 89.7,39.4 88.4,45.1 80.7,44.1" fill="#aef4fb" stroke="#aef4fb"/><polygon points="80.7,44.1 88.4,45.1 87.1,51.8 79.3,50.9" fill="#aff4fb" stroke="#aff4fb"/><polygon points="79.3,50.9 87.1,51.8 85.8,59.4 78.0,58.7" fill="#b0f4fb" stroke="#b0f4fb"/><polygon points="78.0,58.7 85.8,59.4 84.5,68.0 76.6,67.5" fill="#b1f4fa" stroke="#b1f4fa"/><polygon points="76.6,67.5 84.5,68.0 83.1,78.2 75.1,77.6" fill="#b2f4fa" stroke="#b2f4fa"/><polygon points="75.1,77.6 83.1,78.2 81.9,87.3 73.9,86.5" fill="#b3f4fa" stroke="#b3f4fa"/><polygon points="73.9,86.5 81.9,87.3 80.5,98.3 72.5,97.2" fill="#b5f3fa" stroke="#b5f3fa"/><polygon points="72.5,97.2 80.5,98.3 79.5,111.9 71.4,110.4" fill="#bbf3fa" stroke="#bbf3fa"/><polygon points="71.4,110.4 79.5,111.9 78.6,127.4 70.5,125.7" fill="#cef0fa" stroke="#cef0fa"/><polygon points="70.5,125.7 78.6,127.4 78.0,143.9 69.8,142.0" fill="#e5eefa" stroke="#e5eefa"/><polygon points="69.8,142.0 78.0,143.9 77.4,162.5 69.2,160.3" fill="#f3ecfa" stroke="#f3ecfa"/><polygon points="69.2,160.3 77.4,162.5 76.1,184.9 67.8,182.5" fill="#f3ecfa" stroke="#f3ecfa"/><polygon points="67.8,182.5 76.1,184.9 73.8,209.3 65.4,206.7" fill="#f3ecfa" stroke="#f3ecfa"/><polygon points="96.8,8.2 104.1,10.1 103.0,15.4 95.7,13.6" fill="#aaf5fb" stroke="#aaf5fb"/><polygon points="95.7,13.6 103.0,15.4 102.0,20.1 94.6,18.4" fill="#abf5fb" stroke="#abf5fb"/><polygon points="94.6,18.4 102.0,20.1 101.0,24.8 93.6,23.2" fill="#acf5fb" stroke="#acf5fb"/><polygon points="93.6,23.2 101.0,24.8 99.8,30.0 92.3,28.5" fill="#acf5fb" stroke="#acf5fb"/><polygon points="92.3,28.5 99.8,30.0 98.7,35.1 91.1,33.7" fill="#adf4fb" stroke="#adf4fb"/><polygon points="91.1,33.7 98.7,35.1 97.4,40.6 89.7,39.4" fill="#aef4fb" stroke="#aef4fb"/><polygon points="89.7,39.4 97.4,40.6 96.1,46.2 88.4,45.1" fill="#aef4fb" stroke="#aef4fb"/><polygon points="88.4,45.1 96.1,46.2 94.8,52.7 87.1,51.8" fill="#aff4fb" stroke="#aff4fb"/><polygon points="87.1,51.8 94.8,52.7 93.6,60.1 85.8,59.4" fill="#b0f4fb" stroke="#b0f4fb"/><polygon points="85.8,59.4 93.6,60.1 92.3,68.5 84.5,68.0" fill="#b1f4fa" stroke="#b1f4fa"/><polygon points="84.5,68.0 92.3,68.5 91.0,78.7 83.1,78.2" fill="#b2f4fa" stroke="#b2f4fa"/><polygon points="83.1,78.2 91.0,78.7 89.9,88.2 81.9,87.3" fill="#b3f4fa" stroke="#b3f4fa"/><polygon points="81.9,87.3 89.9,88.2 88.6,99.5 80.5,98.3" fill="#b5f3fa" stroke="#b5f3fa"/><polygon points="80.5,98.3 88.6,99.5 87.6,113.3 79.5,111.9" fill="#c0f2fa" stroke="#c0f2fa"/><polygon points="79.5,111.9 87.6,113.3 86.8,129.1 78.6,127.4" fill="#d3f0fa" stroke="#d3f0fa"/><polygon points="78.6,127.4 86.8,129.1 86.2,145.9 78.0,143.9" fill="#e9edfa" stroke="#e9edfa"/><polygon points="78.0,143.9 86.2,145.9 85.6,164.7 77.4,162.5" fill="#f3ecfa" stroke="#f3ecfa"/><polygon points="77.4,162.5 85.6,164.7 84.4,187.4 76.1,184.9" fill="#f3ecfa" stroke="#f3ecfa"/><polygon points="76.1,184.9 84.4,187.4 82.1,211.9 73.8,209.3" fill="#f3ecfa" stroke="#f3ecfa"/><polygon points="104.1,10.1 111.4,12.1 110.4,17.2 103.0,15.4" fill="#abf5fb" stroke="#abf5fb"/><polygon points="103.0,15.4 110.4,17.2 109.4,21.8 102.0,20.1" fill="#abf5fb" stroke="#abf5fb"/><polygon points="102.0,20.1 109.4,21.8 108.4,26.4 101.0,24.8" fill="#acf5fb" stroke="#acf5fb"/><polygon points="101.0,24.8 108.4,26.4 107.3,31.5 99.8,30.0" fill="#adf5fb" stroke="#adf5fb"/><polygon points="99.8,30.0 107.3,31.5 106.2,36.4 98.7,35.1" fill="#adf4fb" stroke="#adf4fb"/><polygon points="98.7,35.1 106.2,36.4 105.0,41.8 97.4,40.6" fill="#aef4fb" stroke="#aef4fb"/><polygon points="97.4,40.6 105.0,41.8 103.8,47.3 96.1,46.2" fill="#aef4fb" stroke="#aef4fb"/><polygon points="96.1,46.2 103.8,47.3 102.6,53.6 94.8,52.7" fill="#aff4fb" stroke="#aff4fb"/><polygon points="94.8,52.7 102.6,53.6 101.4,60.7 93.6,60.1" fill="#b0f4fb" stroke="#b0f4fb"/><polygon points="93.6,60.1 101.4,60.7 100.2,69.0 92.3,68.5" fill="#b1f4fa" stroke="#b1f4fa"/><polygon points="92.3,68.5 100.2,69.0 99.0,79.3 91.0,78.7" fill="#b2f4fa" stroke="#b2f4fa"/><polygon points="91.0,78.7 99.0,79.3 97.9,89.0 89.9,88.2" fill="#b3f4fa" stroke="#b3f4fa"/><polygon points="89.9,88.2 97.9,89.0 96.7,100.6 88.6,99.5" fill="#b8f3fa" stroke="#b8f3fa"/><polygon points="88.6,99.5 96.7,100.6 95.7,114.7 87.6,113.3" fill="#c5f1fa" stroke="#c5f1fa"/><polygon points="87.6,113.3 95.7,114.7 94.9,130.7 86.8,129.1" fill="#d8effa" stroke="#d8effa"/><polygon points="86.8,129.1 94.9,130.7 94.3,147.8 86.2,145.9" fill="#ededfa" stroke="#ededfa"/><polygon points="86.2,145.9 94.3,147.8 93.8,166.9 85.6,164.7" fill="#f3ecfa" stroke="#f3ecfa"/><polygon points="85.6,164.7 93.8,166.9 92.6,189.8 84.4,187.4" fill="#f3ecfa" stroke="#f3ecfa"/><polygon points="84.4,187.4 92.6,189.8 90.5,214.5 82.1,211.9" fill="#f3ecfa" stroke="#f3ecfa"/><polygon points="111.4,12.1 118.7,14.0 117.7,19.0 110.4,17.2" fill="#abf5fb" stroke="#abf5fb"/><polygon points="110.4,17.2 117.7,19.0 116.8,23.5 109.4,21.8" fill="#acf5fb" stroke="#acf5fb"/><polygon points="109.4,21.8 116.8,23.5 115.9,28.0 108.4,26.4" fill="#acf5fb" stroke="#acf5fb"/><polygon points="108.4,26.4 115.9,28.0 114.8,32.9 107.3,31.5" fill="#adf5fb" stroke="#adf5fb"/><polygon points="107.3,31.5 114.8,32.9 113.8,37.8 106.2,36.4" fill="#adf4fb" stroke="#adf4fb"/><polygon points="106.2,36.4 113.8,37.8 112.6,43.0 105.0,41.8" fill="#aef4fb" stroke="#aef4fb"/><polygon points="105.0,41.8 112.6,43.0 111.4,48.3 103.8,47.3" fill="#aff4fb" stroke="#aff4fb"/><polygon points="103.8,47.3 111.4,48.3 110.3,54.4 102.6,53.6" fill="#aff4fb" stroke="#aff4fb"/><polygon points="102.6,53.6 110.3,54.4 109.2,61.4 101.4,60.7" fill="#b0f4fb" stroke="#b0f4fb"/><polygon points="101.4,60.7 109.2,61.4 108.1,69.4 100.2,69.0" fill="#b1f4fa" stroke="#b1f4fa"/><polygon points="100.2,69.0 108.1,69.4 106.9,79.8 99.0,79.3" fill="#b2f4fa" stroke="#b2f4fa"/><polygon points="99.0,79.3 106.9,79.8 105.9,89.8 97.9,89.0" fill="#b4f4fa" stroke="#b4f4fa"/><polygon points="97.9,89.0 105.9,89.8 104.7,101.7 96.7,100.6" fill="#bcf3fa" stroke="#bcf3fa"/><polygon points="96.7,100.6 104.7,101.7 103.8,116.0 95.7,114.7" fill="#caf1fa" stroke="#caf1fa"/><polygon points="95.7,114.7 103.8,116.0 103.1,132.4 94.9,130.7" fill="#dceffa" stroke="#dceffa"/><polygon points="94.9,130.7 103.1,132.4 102.5,149.7 94.3,147.8" fill="#f1ecfa" stroke="#f1ecfa"/><polygon points="94.3,147.8 102.5,149.7 102.0,169.0 93.8,166.9" fill="#f3ecfa" stroke="#f3ecfa"/><polygon points="93.8,166.9 102.0,169.0 100.9,192.2 92.6,189.8" fill="#f3ecfa" stroke="#f3ecfa"/><polygon points="92.6,189.8 100.9,192.2 98.9,217.1 90.5,214.5" fill="#f3ecfa" stroke="#f3ecfa"/><polygon points="118.7,14.0 126.0,16.0 125.0,20.9 117.7,19.0" fill="#abf5fb" stroke="#abf5fb"/><polygon points="117.7,19.0 125.0,20.9 124.2,25.2 116.8,23.5" fill="#acf5fb" stroke="#acf5fb"/><polygon points="116.8,23.5 124.2,25.2 123.3,29.6 115.9,28.0" fill="#acf5fb" stroke="#acf5fb"/><polygon points="115.9,28.0 123.3,29.6 122.3,34.5 114.8,32.9" fill="#adf4fb" stroke="#adf4fb"/><polygon points="114.8,32.9 122.3,34.5 121.3,39.1 113.8,37.8" fill="#aef4fb" stroke="#aef4fb"/><polygon points="113.8,37.8 121.3,39.1 120.2,44.3 112.6,43.0" fill="#aef4fb" stroke="#aef4fb"/><polygon points="112.6,43.0 120.2,44.3 119.1,49.4 111.4,48.3" fill="#aff4fb" stroke="#aff4fb"/><polygon points="111.4,48.3 119.1,49.4 118.0,55.3 110.3,54.4" fill="#aff4fb" stroke="#aff4fb"/><polygon points="110.3,54.4 118.0,55.3 117.0,62.1 109.2,61.4" fill="#b0f4fb" stroke="#b0f4fb"/><polygon points="109.2,61.4 117.0,62.1 115.9,69.9 108.1,69.4" fill="#b1f4fa" stroke="#b1f4fa"/><polygon points="108.1,69.4 115.9,69.9 114.9,80.4 106.9,79.8" fill="#b2f4fa" stroke="#b2f4fa"/><polygon points="106.9,79.8 114.9,80.4 113.9,90.7 105.9,89.8" fill="#b6f3fa" stroke="#b6f3fa"/><polygon points="105.9,89.8 113.9,90.7 112.8,102.8 104.7,101.7" fill="#c0f2fa" stroke="#c0f2fa"/><polygon points="104.7,101.7 112.8,102.8 111.9,117.4 103.8,116.0" fill="#cef0fa" stroke="#cef0fa"/><polygon points="103.8,116.0 111.9,117.4 111.2,134.0 103.1,132.4" fill="#e0eefa" stroke="#e0eefa"/><polygon points="103.1,132.4 111.2,134.0 110.7,151.6 102.5,149.7" fill="#f3ecfa" stroke="#f3ecfa"/><polygon points="102.5,149.7 110.7,151.6 110.2,171.2 102.0,169.0" fill="#f3ecfa" stroke="#f3ecfa"/><polygon points="102.0,169.0 110.2,171.2 109.2,194.5 100.9,192.2" fill="#f3ecfa" stroke="#f3ecfa"/><polygon points="100.9,192.2 109.2,194.5 107.3,219.6 98.9,217.1" fill="#f3ecfa" stroke="#f3ecfa"/><polygon points="126.0,16.0 133.3,18.2 132.4,22.9 125.0,20.9" fill="#abf5fb" stroke="#abf5fb"/><polygon points="125.0,20.9 132.4,22.9 131.6,27.1 124.2,25.2" fill="#acf5fb" stroke="#acf5fb"/><polygon points="124.2,25.2 131.6,27.1 130.8,31.4 123.3,29.6" fill="#adf5fb" stroke="#adf5fb"/><polygon points="123.3,29.6 130.8,31.4 129.8,36.1 122.3,34.5" fill="#adf4fb" stroke="#adf4fb"/><polygon points="122.3,34.5 129.8,36.1 128.9,40.6 121.3,39.1" fill="#aef4fb" stroke="#aef4fb"/><polygon points="121.3,39.1 128.9,40.6 127.8,45.6 120.2,44.3" fill="#aef4fb" stroke="#aef4fb"/><polygon points="120.2,44.3 127.8,45.6 126.8,50.6 119.1,49.4" fill="#aff4fb" stroke="#aff4fb"/><polygon points="119.1,49.4 126.8,50.6 125.8,56.3 118.0,55.3" fill="#b0f4fb" stroke="#b0f4fb"/><polygon points="118.0,55.3 125.8,56.3 124.8,62.8 117.0,62.1" fill="#b0f4fb" stroke="#b0f4fb"/><polygon points="117.0,62.1 124.8,62.8 123.8,70.4 115.9,69.9" fill="#b1f4fa" stroke="#b1f4fa"/><polygon points="115.9,69.9 123.8,70.4 122.8,80.9 114.9,80.4" fill="#b2f4fa" stroke="#b2f4fa"/><polygon points="114.9,80.4 122.8,80.9 121.9,91.5 113.9,90.7" fill="#b9f3fa" stroke="#b9f3fa"/><polygon points="113.9,90.7 121.9,91.5 120.9,103.9 112.8,102.8" fill="#c4f2fa" stroke="#c4f2fa"/><polygon points="112.8,102.8 120.9,103.9 120.1,118.8 111.9,117.4" fill="#d2f0fa" stroke="#d2f0fa"/><polygon points="111.9,117.4 120.1,118.8 119.4,135.6 111.2,134.0" fill="#e3eefa" stroke="#e3eefa"/><polygon points="111.2,134.0 119.4,135.6 118.9,153.5 110.7,151.6" fill="#f3ecfa" stroke="#f3ecfa"/><polygon points="110.7,151.6 118.9,153.5 118.5,173.3 110.2,171.2" fill="#f3ecfa" stroke="#f3ecfa"/><polygon points="110.2,171.2 118.5,173.3 117.4,196.8 109.2,194.5" fill="#f3ecfa" stroke="#f3ecfa"/><polygon points="109.2,194.5 117.4,196.8 115.6,222.1 107.3,219.6" fill="#f3ecfa" stroke="#f3ecfa"/><polygon points="133.3,18.2 140.6,20.5 139.7,25.0 132.4,22.9" fill="#acf5fb" stroke="#acf5fb"/><polygon points="132.4,22.9 139.7,25.0 139.0,29.1 131.6,27.1" fill="#acf5fb" stroke="#acf5fb"/><polygon points="131.6,27.1 139.0,29.1 138.2,33.3 130.8,31.4" fill="#adf4fb" stroke="#adf4fb"/><polygon points="130.8,31.4 138.2,33.3 137.3,37.8 129.8,36.1" fill="#adf4fb" stroke="#adf4fb"/><polygon points="129.8,36.1 137.3,37.8 136.4,42.2 128.9,40.6" fill="#aef4fb" stroke="#aef4fb"/><polygon points="128.9,40.6 136.4,42.2 135.4,47.0 127.8,45.6" fill="#aef4fb" stroke="#aef4fb"/><polygon points="127.8,45.6 135.4,47.0 134.5,51.8 126.8,50.6" fill="#aff4fb" stroke="#aff4fb"/><polygon points="126.8,50.6 134.5,51.8 133.5,57.3 125.8,56.3" fill="#b0f4fb" stroke="#b0f4fb"/><polygon points="125.8,56.3 133.5,57.3 132.6,63.6 124.8,62.8" fill="#b0f4fb" stroke="#b0f4fb"/><polygon points="124.8,62.8 132.6,63.6 131.7,71.0 123.8,70.4" fill="#b1f4fa" stroke="#b1f4fa"/><polygon points="123.8,70.4 131.7,71.0 130.8,81.6 122.8,80.9" fill="#b4f4fa" stroke="#b4f4fa"/><polygon points="122.8,80.9 130.8,81.6 129.9,92.4 121.9,91.5" fill="#bdf3fa" stroke="#bdf3fa"/><polygon points="121.9,91.5 129.9,92.4 128.9,105.1 120.9,103.9" fill="#c7f1fa" stroke="#c7f1fa"/><polygon points="120.9,103.9 128.9,105.1 128.2,120.2 120.1,118.8" fill="#d5f0fa" stroke="#d5f0fa"/><polygon points="120.1,118.8 128.2,120.2 127.5,137.2 119.4,135.6" fill="#e5eefa" stroke="#e5eefa"/><polygon points="119.4,135.6 127.5,137.2 127.1,155.3 118.9,153.5" fill="#f3ecfa" stroke="#f3ecfa"/><polygon points="118.9,153.5 127.1,155.3 126.7,175.4 118.5,173.3" fill="#f3ecfa" stroke="#f3ecfa"/><polygon points="118.5,173.3 126.7,175.4 125.7,199.2 117.4,196.8" fill="#f3ecfa" stroke="#f3ecfa"/><polygon points="117.4,196.8 125.7,199.2 124.0,224.6 115.6,222.1" fill="#f3ecfa" stroke="#f3ecfa"/><polygon points="140.6,20.5 147.9,23.0 147.1,27.4 139.7,25.0" fill="#acf5fb" stroke="#acf5fb"/><polygon points="139.7,25.0 147.1,27.4 146.4,31.4 139.0,29.1" fill="#adf5fb" stroke="#adf5fb"/><polygon points="139.0,29.1 146.4,31.4 145.6,35.3 138.2,33.3" fill="#adf4fb" stroke="#adf4fb"/><polygon points="138.2,33.3 145.6,35.3 144.8,39.7 137.3,37.8" fill="#aef4fb" stroke="#aef4fb"/><polygon points="137.3,37.8 144.8,39.7 144.0,43.9 136.4,42.2" fill="#aef4fb" stroke="#aef4fb"/><polygon points="136.4,42.2 144.0,43.9 143.0,48.6 135.4,47.0" fill="#aff4fb" stroke="#aff4fb"/><polygon points="135.4,47.0 143.0,48.6 142.1,53.2 134.5,51.8" fill="#aff4fb" stroke="#aff4fb"/><polygon points="134.5,51.8 142.1,53.2 141.2,58.5 133.5,57.3" fill="#b0f4fb" stroke="#b0f4fb"/><polygon points="133.5,57.3 141.2,58.5 140.4,64.5 132.6,63.6" fill="#b1f4fa" stroke="#b1f4fa"/><polygon points="132.6,63.6 140.4,64.5 139.5,71.7 131.7,71.0" fill="#b1f4fa" stroke="#b1f4fa"/><polygon points="131.7,71.0 139.5,71.7 138.7,82.3 130.8,81.6" fill="#b7f3fa" stroke="#b7f3fa"/><polygon points="130.8,81.6 138.7,82.3 137.9,93.3 129.9,92.4" fill="#c0f2fa" stroke="#c0f2fa"/><polygon points="129.9,92.4 137.9,93.3 137.0,106.3 128.9,105.1" fill="#cbf1fa" stroke="#cbf1fa"/><polygon points="128.9,105.1 137.0,106.3 136.3,121.6 128.2,120.2" fill="#d8effa" stroke="#d8effa"/><polygon points="128.2,120.2 136.3,121.6 135.7,138.9 127.5,137.2" fill="#e7edfa" stroke="#e7edfa"/><polygon points="127.5,137.2 135.7,138.9 135.3,157.2 127.1,155.3" fill="#f3ecfa" stroke="#f3ecfa"/><polygon points="127.1,155.3 135.3,157.2 134.9,177.5 126.7,175.4" fill="#f3ecfa" stroke="#f3ecfa"/><polygon points="126.7,175.4 134.9,177.5 134.0,201.4 125.7,199.2" fill="#f3ecfa" stroke="#f3ecfa"/><polygon points="125.7,199.2 134.0,201.4 132.4,227.0 124.0,224.6" fill="#f3ecfa" stroke="#f3ecfa"/><polygon points="147.9,23.0 155.2,25.7 154.4,29.9 147.1,27.4" fill="#acf5fb" stroke="#acf5fb"/><polygon points="147.1,27.4 154.4,29.9 153.7,33.7 146.4,31.4" fill="#adf4fb" stroke="#adf4fb"/><polygon points="146.4,31.4 153.7,33.7 153.1,37.5 145.6,35.3" fill="#adf4fb" stroke="#adf4fb"/><polygon points="145.6,35.3 153.1,37.5 152.3,41.7 144.8,39.7" fill="#aef4fb" stroke="#aef4fb"/><polygon points="144.8,39.7 152.3,41.7 151.5,45.8 144.0,43.9" fill="#aef4fb" stroke="#aef4fb"/><polygon points="144.0,43.9 151.5,45.8 150.7,50.2 143.0,48.6" fill="#aff4fb" stroke="#aff4fb"/><polygon points="143.0,48.6 150.7,50.2 149.8,54.7 142.1,53.2" fill="#aff4fb" stroke="#aff4fb"/><polygon points="142.1,53.2 149.8,54.7 149.0,59.7 141.2,58.5" fill="#b0f4fb" stroke="#b0f4fb"/><polygon points="141.2,58.5 149.0,59.7 148.2,65.5 140.4,64.5" fill="#b1f4fa" stroke="#b1f4fa"/><polygon points="140.4,64.5 148.2,65.5 147.4,72.4 139.5,71.7" fill="#b4f4fa" stroke="#b4f4fa"/><polygon points="139.5,71.7 147.4,72.4 146.7,83.0 138.7,82.3" fill="#baf3fa" stroke="#baf3fa"/><polygon points="138.7,82.3 146.7,83.0 145.9,94.3 137.9,93.3" fill="#c2f2fa" stroke="#c2f2fa"/><polygon points="137.9,93.3 145.9,94.3 145.1,107.5 137.0,106.3" fill="#cdf1fa" stroke="#cdf1fa"/><polygon points="137.0,106.3 145.1,107.5 144.4,123.0 136.3,121.6" fill="#d9effa" stroke="#d9effa"/><polygon points="136.3,121.6 144.4,123.0 143.8,140.6 135.7,138.9" fill="#e7edfa" stroke="#e7edfa"/><polygon points="135.7,138.9 143.8,140.6 143.4,159.1 135.3,157.2" fill="#f3ecfa" stroke="#f3ecfa"/><polygon points="135.3,157.2 143.4,159.1 143.1,179.6 134.9,177.5" fill="#f3ecfa" stroke="#f3ecfa"/><polygon points="134.9,177.5 143.1,179.6 142.2,203.7 134.0,201.4" fill="#f3ecfa" stroke="#f3ecfa"/><polygon points="134.0,201.4 142.2,203.7 140.8,229.4 132.4,227.0" fill="#f3ecfa" stroke="#f3ecfa"/><polygon points="155.2,25.7 162.4,28.5 161.8,32.5 154.4,29.9" fill="#adf5fb" stroke="#adf5fb"/><polygon points="154.4,29.9 161.8,32.5 161.1,36.1 153.7,33.7" fill="#adf4fb" stroke="#adf4fb"/><polygon points="153.7,33.7 161.1,36.1 160.5,39.8 153.1,37.5" fill="#aef4fb" stroke="#aef4fb"/><polygon points="153.1,37.5 160.5,39.8 159.8,43.8 152.3,41.7" fill="#aef4fb" stroke="#aef4fb"/><polygon points="152.3,41.7 159.8,43.8 159.1,47.7 151.5,45.8" fill="#aff4fb" stroke="#aff4fb"/><polygon points="151.5,45.8 159.1,47.7 158.3,51.9 150.7,50.2" fill="#aff4fb" stroke="#aff4fb"/><polygon points="150.7,50.2 158.3,51.9 157.5,56.2 149.8,54.7" fill="#b0f4fb" stroke="#b0f4fb"/><polygon points="149.8,54.7 157.5,56.2 156.7,61.0 149.0,59.7" fill="#b0f4fb" stroke="#b0f4fb"/><polygon points="149.0,59.7 156.7,61.0 156.0,66.5 148.2,65.5" fill="#b2f4fa" stroke="#b2f4fa"/><polygon points="148.2,65.5 156.0,66.5 155.2,73.1 147.4,72.4" fill="#b5f3fa" stroke="#b5f3fa"/><polygon points="147.4,72.4 155.2,73.1 154.6,83.8 146.7,83.0" fill="#bbf3fa" stroke="#bbf3fa"/><polygon points="146.7,83.0 154.6,83.8 153.9,95.3 145.9,94.3" fill="#c3f2fa" stroke="#c3f2fa"/><polygon points="145.9,94.3 153.9,95.3 153.1,108.7 145.1,107.5" fill="#cdf1fa" stroke="#cdf1fa"/><polygon points="145.1,107.5 153.1,108.7 152.5,124.5 144.4,123.0" fill="#d9effa" stroke="#d9effa"/><polygon points="144.4,123.0 152.5,124.5 152.0,142.2 143.8,140.6" fill="#e5eefa" stroke="#e5eefa"/><polygon points="143.8,140.6 152.0,142.2 151.6,160.9 143.4,159.1" fill="#f3ecfa" stroke="#f3ecfa"/><polygon points="143.4,159.1 151.6,160.9 151.3,181.7 143.1,179.6" fill="#f3ecfa" stroke="#f3ecfa"/><polygon points="143.1,179.6 151.3,181.7 150.5,205.9 142.2,203.7" fill="#f3ecfa" stroke="#f3ecfa"/><polygon points="142.2,203.7 150.5,205.9 149.1,231.8 140.8,229.4" fill="#f3ecfa" stroke="#f3ecfa"/><polygon points="162.4,28.5 169.7,31.3 169.1,35.1 161.8,32.5" fill="#adf4fb" stroke="#adf4fb"/><polygon points="161.8,32.5 169.1,35.1 168.5,38.6 161.1,36.1" fill="#adf4fb" stroke="#adf4fb"/><polygon points="161.1,36.1 168.5,38.6 168.0,42.1 160.5,39.8" fill="#aef4fb" stroke="#aef4fb"/><polygon points="160.5,39.8 168.0,42.1 167.3,46.0 159.8,43.8" fill="#aef4fb" stroke="#aef4fb"/><polygon points="159.8,43.8 167.3,46.0 166.6,49.7 159.1,47.7" fill="#aff4fb" stroke="#aff4fb"/><polygon points="159.1,47.7 166.6,49.7 165.9,53.7 158.3,51.9" fill="#aff4fb" stroke="#aff4fb"/><polygon points="158.3,51.9 165.9,53.7 165.2,57.7 157.5,56.2" fill="#b0f4fb" stroke="#b0f4fb"/><polygon points="157.5,56.2 165.2,57.7 164.5,62.3 156.7,61.0" fill="#b1f4fb" stroke="#b1f4fb"/><polygon points="156.7,61.0 164.5,62.3 163.8,67.5 156.0,66.5" fill="#b3f4fa" stroke="#b3f4fa"/><polygon points="156.0,66.5 163.8,67.5 163.1,73.9 155.2,73.1" fill="#b7f3fa" stroke="#b7f3fa"/><polygon points="155.2,73.1 163.1,73.9 162.6,84.6 154.6,83.8" fill="#bcf3fa" stroke="#bcf3fa"/><polygon points="154.6,83.8 162.6,84.6 161.9,96.3 153.9,95.3" fill="#c4f2fa" stroke="#c4f2fa"/><polygon points="153.9,95.3 161.9,96.3 161.2,110.0 153.1,108.7" fill="#ccf1fa" stroke="#ccf1fa"/><polygon points="153.1,108.7 161.2,110.0 160.6,125.9 152.5,124.5" fill="#d7effa" stroke="#d7effa"/><polygon points="152.5,124.5 160.6,125.9 160.2,143.8 152.0,142.2" fill="#e2eefa" stroke="#e2eefa"/><polygon points="152.0,142.2 160.2,143.8 159.8,162.8 151.6,160.9" fill="#f0ecfa" stroke="#f0ecfa"/><polygon points="151.6,160.9 159.8,162.8 159.5,183.7 151.3,181.7" fill="#f3ecfa" stroke="#f3ecfa"/><polygon points="151.3,181.7 159.5,183.7 158.8,208.1 150.5,205.9" fill="#f3ecfa" stroke="#f3ecfa"/><polygon points="150.5,205.9 158.8,208.1 157.5,234.1 149.1,231.8" fill="#f3ecfa" stroke="#f3ecfa"/><polygon points="169.7,31.3 177.0,34.3 176.4,38.0 169.1,35.1" fill="#adf4fb" stroke="#adf4fb"/><polygon points="169.1,35.1 176.4,38.0 175.9,41.3 168.5,38.6" fill="#aef4fb" stroke="#aef4fb"/><polygon points="168.5,38.6 175.9,41.3 175.4,44.6 168.0,42.1" fill="#aef4fb" stroke="#aef4fb"/><polygon points="168.0,42.1 175.4,44.6 174.8,48.2 167.3,46.0" fill="#aff4fb" stroke="#aff4fb"/><polygon points="167.3,46.0 174.8,48.2 174.2,51.7 166.6,49.7" fill="#aff4fb" stroke="#aff4fb"/><polygon points="166.6,49.7 174.2,51.7 173.5,55.5 165.9,53.7" fill="#b0f4fb" stroke="#b0f4fb"/><polygon points="165.9,53.7 173.5,55.5 172.9,59.4 165.2,57.7" fill="#b0f4fb" stroke="#b0f4fb"/><polygon points="165.2,57.7 172.9,59.4 172.2,63.7 164.5,62.3" fill="#b2f4fa" stroke="#b2f4fa"/><polygon points="164.5,62.3 172.2,63.7 171.6,68.6 163.8,67.5" fill="#b4f4fa" stroke="#b4f4fa"/><polygon points="163.8,67.5 171.6,68.6 171.0,74.8 163.1,73.9" fill="#b7f3fa" stroke="#b7f3fa"/><polygon points="163.1,73.9 171.0,74.8 170.5,85.4 162.6,84.6" fill="#bcf3fa" stroke="#bcf3fa"/><polygon points="162.6,84.6 170.5,85.4 169.9,97.4 161.9,96.3" fill="#c3f2fa" stroke="#c3f2fa"/><polygon points="161.9,96.3 169.9,97.4 169.3,111.2 161.2,110.0" fill="#cbf1fa" stroke="#cbf1fa"/><polygon points="161.2,110.0 169.3,111.2 168.7,127.4 160.6,125.9" fill="#d4f0fa" stroke="#d4f0fa"/><polygon points="160.6,125.9 168.7,127.4 168.3,145.5 160.2,143.8" fill="#deeefa" stroke="#deeefa"/><polygon points="160.2,143.8 168.3,145.5 168.0,164.6 159.8,162.8" fill="#eaedfa" stroke="#eaedfa"/><polygon points="159.8,162.8 168.0,164.6 167.7,185.8 159.5,183.7" fill="#f3ecfa" stroke="#f3ecfa"/><polygon points="159.5,183.7 167.7,185.8 167.0,210.3 158.8,208.1" fill="#f3ecfa" stroke="#f3ecfa"/><polygon points="158.8,208.1 167.0,210.3 165.9,236.4 157.5,234.1" fill="#f3ecfa" stroke="#f3ecfa"/><polygon points="177.0,34.3 184.3,37.7 183.8,41.1 176.4,38.0" fill="#abf2fa" stroke="#abf2fa"/><polygon points="176.4,38.0 183.8,41.1 183.3,44.2 175.9,41.3" fill="#acf2fa" stroke="#acf2fa"/><polygon points="175.9,41.3 183.3,44.2 182.8,47.4 175.4,44.6" fill="#adf3fa" stroke="#adf3fa"/><polygon points="175.4,44.6 182.8,47.4 182.3,50.7 174.8,48.2" fill="#adf3fa" stroke="#adf3fa"/><polygon points="174.8,48.2 182.3,50.7 181.7,54.1 174.2,51.7" fill="#aef3fa" stroke="#aef3fa"/><polygon points="174.2,51.7 181.7,54.1 181.1,57.6 173.5,55.5" fill="#aff3fa" stroke="#aff3fa"/><polygon points="173.5,55.5 181.1,57.6 180.5,61.2 172.9,59.4" fill="#b0f3fa" stroke="#b0f3fa"/><polygon points="172.9,59.4 180.5,61.2 179.9,65.3 172.2,63.7" fill="#b2f3fa" stroke="#b2f3fa"/><polygon points="172.2,63.7 179.9,65.3 179.4,69.9 171.6,68.6" fill="#b4f3fa" stroke="#b4f3fa"/><polygon points="171.6,68.6 179.4,69.9 178.8,75.7 171.0,74.8" fill="#b7f2fa" stroke="#b7f2fa"/><polygon points="171.0,74.8 178.8,75.7 178.5,86.4 170.5,85.4" fill="#bbf2fa" stroke="#bbf2fa"/><polygon points="170.5,85.4 178.5,86.4 177.9,98.6 169.9,97.4" fill="#c1f1fa" stroke="#c1f1fa"/><polygon points="169.9,97.4 177.9,98.6 177.3,112.6 169.3,111.2" fill="#c8f1fa" stroke="#c8f1fa"/><polygon points="169.3,111.2 177.3,112.6 176.9,128.9 168.7,127.4" fill="#d0f0fa" stroke="#d0f0fa"/><polygon points="168.7,127.4 176.9,128.9 176.5,147.2 168.3,145.5" fill="#d9effa" stroke="#d9effa"/><polygon points="168.3,145.5 176.5,147.2 176.2,166.5 168.0,164.6" fill="#e2eefa" stroke="#e2eefa"/><polygon points="168.0,164.6 176.2,166.5 175.9,187.8 167.7,185.8" fill="#ededfa" stroke="#ededfa"/><polygon points="167.7,185.8 175.9,187.8 175.3,212.5 167.0,210.3" fill="#f3ecfa" stroke="#f3ecfa"/><polygon points="167.0,210.3 175.3,212.5 174.3,238.7 165.9,236.4" fill="#f3ecfa" stroke="#f3ecfa"/><polygon points="184.3,37.7 191.6,41.5 191.1,44.6 183.8,41.1" fill="#a9f0fa" stroke="#a9f0fa"/><polygon points="183.8,41.1 191.1,44.6 190.7,47.5 183.3,44.2" fill="#a9f0fa" stroke="#a9f0fa"/><polygon points="183.3,44.2 190.7,47.5 190.3,50.5 182.8,47.4" fill="#aaf0fa" stroke="#aaf0fa"/><polygon points="182.8,47.4 190.3,50.5 189.8,53.6 182.3,50.7" fill="#aaf0fa" stroke="#aaf0fa"/><polygon points="182.3,50.7 189.8,53.6 189.3,56.7 181.7,54.1" fill="#abf0fa" stroke="#abf0fa"/><polygon points="181.7,54.1 189.3,56.7 188.7,60.0 181.1,57.6" fill="#acf0fa" stroke="#acf0fa"/><polygon points="181.1,57.6 188.7,60.0 188.2,63.3 180.5,61.2" fill="#aef0fa" stroke="#aef0fa"/><polygon points="180.5,61.2 188.2,63.3 187.7,67.1 179.9,65.3" fill="#aff0fa" stroke="#aff0fa"/><polygon points="179.9,65.3 187.7,67.1 187.2,71.4 179.4,69.9" fill="#b1f0fa" stroke="#b1f0fa"/><polygon points="179.4,69.9 187.2,71.4 186.7,76.9 178.8,75.7" fill="#b3f0fa" stroke="#b3f0fa"/><polygon points="178.8,75.7 186.7,76.9 186.4,87.6 178.5,86.4" fill="#b7f0fa" stroke="#b7f0fa"/><polygon points="178.5,86.4 186.4,87.6 185.9,99.9 177.9,98.6" fill="#bcf0fa" stroke="#bcf0fa"/><polygon points="177.9,98.6 185.9,99.9 185.4,114.1 177.3,112.6" fill="#c2effa" stroke="#c2effa"/><polygon points="177.3,112.6 185.4,114.1 185.0,130.5 176.9,128.9" fill="#c9eefa" stroke="#c9eefa"/><polygon points="176.9,128.9 185.0,130.5 184.6,149.0 176.5,147.2" fill="#d0eefa" stroke="#d0eefa"/><polygon points="176.5,147.2 184.6,149.0 184.4,168.4 176.2,166.5" fill="#d7edfa" stroke="#d7edfa"/><polygon points="176.2,166.5 184.4,168.4 184.1,189.9 175.9,187.8" fill="#e0ecfa" stroke="#e0ecfa"/><polygon points="175.9,187.8 184.1,189.9 183.6,214.7 175.3,212.5" fill="#eaebfa" stroke="#eaebfa"/><polygon points="175.3,212.5 183.6,214.7 182.6,240.9 174.3,238.7" fill="#efebfa" stroke="#efebfa"/><polygon points="191.6,41.5 198.9,45.7 198.5,48.5 191.1,44.6" fill="#a5ecf9" stroke="#a5ecf9"/><polygon points="191.1,44.6 198.5,48.5 198.1,51.2 190.7,47.5" fill="#a5ecf9" stroke="#a5ecf9"/><polygon points="190.7,47.5 198.1,51.2 197.7,53.9 190.3,50.5" fill="#a6ecf9" stroke="#a6ecf9"/><polygon points="190.3,50.5 197.7,53.9 197.3,56.8 189.8,53.6" fill="#a7edf9" stroke="#a7edf9"/><polygon points="189.8,53.6 197.3,56.8 196.8,59.6 189.3,56.7" fill="#a8edf9" stroke="#a8edf9"/><polygon points="189.3,56.7 196.8,59.6 196.3,62.6 188.7,60.0" fill="#a9edf9" stroke="#a9edf9"/><polygon points="188.7,60.0 196.3,62.6 195.9,65.7 188.2,63.3" fill="#aaedf9" stroke="#aaedf9"/><polygon points="188.2,63.3 195.9,65.7 195.4,69.1 187.7,67.1" fill="#abedf9" stroke="#abedf9"/><polygon points="187.7,67.1 195.4,69.1 195.0,73.1 187.2,71.4" fill="#adedf9" stroke="#adedf9"/><polygon points="187.2,71.4 195.0,73.1 194.6,78.3 186.7,76.9" fill="#afedf9" stroke="#afedf9"/><polygon points="186.7,76.9 194.6,78.3 194.4,88.8 186.4,87.6" fill="#b1edf9" stroke="#b1edf9"/><polygon points="186.4,87.6 194.4,88.8 193.9,101.3 185.9,99.9" fill="#b5edf9" stroke="#b5edf9"/><polygon points="185.9,99.9 193.9,101.3 193.5,115.7 185.4,114.1" fill="#baecf9" stroke="#baecf9"/><polygon points="185.4,114.1 193.5,115.7 193.1,132.3 185.0,130.5" fill="#bfecf9" stroke="#bfecf9"/><polygon points="185.0,130.5 193.1,132.3 192.8,150.8 184.6,149.0" fill="#c4ecf9" stroke="#c4ecf9"/><polygon points="184.6,149.0 192.8,150.8 192.5,170.4 184.4,168.4" fill="#caebf9" stroke="#caebf9"/><polygon points="184.4,168.4 192.5,170.4 192.3,192.0 184.1,189.9" fill="#d0ebf9" stroke="#d0ebf9"/><polygon points="184.1,189.9 192.3,192.0 191.8,216.9 183.6,214.7" fill="#d7eaf9" stroke="#d7eaf9"/><polygon points="183.6,214.7 191.8,216.9 191.0,243.2 182.6,240.9" fill="#e1e9f9" stroke="#e1e9f9"/><polygon points="198.9,45.7 206.2,50.2 205.8,52.8 198.5,48.5" fill="#a0e8f8" stroke="#a0e8f8"/><polygon points="198.5,48.5 205.8,52.8 205.5,55.2 198.1,51.2" fill="#a1e8f8" stroke="#a1e8f8"/><polygon points="198.1,51.2 205.5,55.2 205.2,57.6 197.7,53.9" fill="#a2e8f8" stroke="#a2e8f8"/><polygon points="197.7,53.9 205.2,57.6 204.8,60.2 197.3,56.8" fill="#a2e8f8" stroke="#a2e8f8"/><polygon points="197.3,56.8 204.8,60.2 204.4,62.8 196.8,59.6" fill="#a3e9f8" stroke="#a3e9f8"/><polygon points="196.8,59.6 204.4,62.8 204.0,65.5 196.3,62.6" fill="#a4e9f8" stroke="#a4e9f8"/><polygon points="196.3,62.6 204.0,65.5 203.6,68.2 195.9,65.7" fill="#a5e9f8" stroke="#a5e9f8"/><polygon points="195.9,65.7 203.6,68.2 203.1,71.3 195.4,69.1" fill="#a6e9f8" stroke="#a6e9f8"/><polygon points="195.4,69.1 203.1,71.3 202.8,74.9 195.0,73.1" fill="#a7e9f8" stroke="#a7e9f8"/><polygon points="195.0,73.1 202.8,74.9 202.4,79.8 194.6,78.3" fill="#a8e9f8" stroke="#a8e9f8"/><polygon points="194.6,78.3 202.4,79.8 202.3,90.3 194.4,88.8" fill="#aae9f8" stroke="#aae9f8"/><polygon points="194.4,88.8 202.3,90.3 202.0,102.8 193.9,101.3" fill="#ade9f8" stroke="#ade9f8"/><polygon points="193.9,101.3 202.0,102.8 201.5,117.4 193.5,115.7" fill="#b0e9f8" stroke="#b0e9f8"/><polygon points="193.5,115.7 201.5,117.4 201.2,134.0 193.1,132.3" fill="#b4e9f8" stroke="#b4e9f8"/><polygon points="193.1,132.3 201.2,134.0 200.9,152.7 192.8,150.8" fill="#b7e9f8" stroke="#b7e9f8"/><polygon points="192.8,150.8 200.9,152.7 200.7,172.4 192.5,170.4" fill="#bae8f8" stroke="#bae8f8"/><polygon points="192.5,170.4 200.7,172.4 200.5,194.1 192.3,192.0" fill="#bee8f8" stroke="#bee8f8"/><polygon points="192.3,192.0 200.5,194.1 200.1,219.1 191.8,216.9" fill="#c3e8f8" stroke="#c3e8f8"/><polygon points="191.8,216.9 200.1,219.1 199.4,245.4 191.0,243.2" fill="#c9e7f8" stroke="#c9e7f8"/><polygon points="206.2,50.2 213.5,55.1 213.2,57.3 205.8,52.8" fill="#8fd5ed" stroke="#8fd5ed"/><polygon points="205.8,52.8 213.2,57.3 212.9,59.5 205.5,55.2" fill="#97def3" stroke="#97def3"/><polygon points="205.5,55.2 212.9,59.5 212.6,61.6 205.2,57.6" fill="#9ce3f7" stroke="#9ce3f7"/><polygon points="205.2,57.6 212.6,61.6 212.3,63.9 204.8,60.2" fill="#9de4f7" stroke="#9de4f7"/><polygon points="204.8,60.2 212.3,63.9 211.9,66.2 204.4,62.8" fill="#9de4f7" stroke="#9de4f7"/><polygon points="204.4,62.8 211.9,66.2 211.6,68.5 204.0,65.5" fill="#9ee4f7" stroke="#9ee4f7"/><polygon points="204.0,65.5 211.6,68.5 211.2,71.0 203.6,68.2" fill="#9fe4f7" stroke="#9fe4f7"/><polygon points="203.6,68.2 211.2,71.0 210.9,73.7 203.1,71.3" fill="#9fe4f7" stroke="#9fe4f7"/><polygon points="203.1,71.3 210.9,73.7 210.6,77.0 202.8,74.9" fill="#a0e5f7" stroke="#a0e5f7"/><polygon points="202.8,74.9 210.6,77.0 210.3,81.4 202.4,79.8" fill="#a1e5f7" stroke="#a1e5f7"/><polygon points="202.4,79.8 210.3,81.4 210.3,91.8 202.3,90.3" fill="#a2e5f7" stroke="#a2e5f7"/><polygon points="202.3,90.3 210.3,91.8 210.0,104.5 202.0,102.8" fill="#a4e5f7" stroke="#a4e5f7"/><polygon points="202.0,102.8 210.0,104.5 209.6,119.1 201.5,117.4" fill="#a6e5f7" stroke="#a6e5f7"/><polygon points="201.5,117.4 209.6,119.1 209.3,135.9 201.2,134.0" fill="#a8e5f7" stroke="#a8e5f7"/><polygon points="201.2,134.0 209.3,135.9 209.1,154.7 200.9,152.7" fill="#a9e5f7" stroke="#a9e5f7"/><polygon points="200.9,152.7 209.1,154.7 208.9,174.5 200.7,172.4" fill="#abe5f7" stroke="#abe5f7"/><polygon points="200.7,172.4 208.9,174.5 208.7,196.2 200.5,194.1" fill="#ace5f7" stroke="#ace5f7"/><polygon points="200.5,194.1 208.7,196.2 208.4,221.3 200.1,219.1" fill="#aee5f7" stroke="#aee5f7"/><polygon points="200.1,219.1 208.4,221.3 207.8,247.5 199.4,245.4" fill="#b1e5f8" stroke="#b1e5f8"/><polygon points="213.5,55.1 220.8,60.4 220.5,62.3 213.2,57.3" fill="#78badc" stroke="#78badc"/><polygon points="213.2,57.3 220.5,62.3 220.3,64.2 212.9,59.5" fill="#86cce9" stroke="#86cce9"/><polygon points="212.9,59.5 220.3,64.2 220.0,66.0 212.6,61.6" fill="#94dcf5" stroke="#94dcf5"/><polygon points="212.6,61.6 220.0,66.0 219.8,68.0 212.3,63.9" fill="#96def6" stroke="#96def6"/><polygon points="212.3,63.9 219.8,68.0 219.5,69.9 211.9,66.2" fill="#97def6" stroke="#97def6"/><polygon points="211.9,66.2 219.5,69.9 219.2,71.9 211.6,68.5" fill="#97dff6" stroke="#97dff6"/><polygon points="211.6,68.5 219.2,71.9 218.9,74.0 211.2,71.0" fill="#98dff6" stroke="#98dff6"/><polygon points="211.2,71.0 218.9,74.0 218.6,76.4 210.9,73.7" fill="#98dff6" stroke="#98dff6"/><polygon points="210.9,73.7 218.6,76.4 218.4,79.2 210.6,77.0" fill="#99dff6" stroke="#99dff6"/><polygon points="210.6,77.0 218.4,79.2 218.2,83.3 210.3,81.4" fill="#99dff6" stroke="#99dff6"/><polygon points="210.3,81.4 218.2,83.3 218.2,93.5 210.3,91.8" fill="#9adff6" stroke="#9adff6"/><polygon points="210.3,91.8 218.2,93.5 218.0,106.3 210.0,104.5" fill="#9bdff6" stroke="#9bdff6"/><polygon points="210.0,104.5 218.0,106.3 217.7,121.0 209.6,119.1" fill="#9ddff6" stroke="#9ddff6"/><polygon points="209.6,119.1 217.7,121.0 217.4,137.9 209.3,135.9" fill="#9ee0f6" stroke="#9ee0f6"/><polygon points="209.3,135.9 217.4,137.9 217.2,156.7 209.1,154.7" fill="#9ee0f6" stroke="#9ee0f6"/><polygon points="209.1,154.7 217.2,156.7 217.1,176.5 208.9,174.5" fill="#9ee0f6" stroke="#9ee0f6"/><polygon points="208.9,174.5 217.1,176.5 217.0,198.4 208.7,196.2" fill="#9ee0f6" stroke="#9ee0f6"/><polygon points="208.7,196.2 217.0,198.4 216.7,223.4 208.4,221.3" fill="#9ee0f6" stroke="#9ee0f6"/><polygon points="208.4,221.3 216.7,223.4 216.1,249.7 207.8,247.5" fill="#9fe0f6" stroke="#9fe0f6"/><polygon points="220.8,60.4 228.0,66.1 227.8,67.7 220.5,62.3" fill="#609fca" stroke="#609fca"/><polygon points="220.5,62.3 227.8,67.7 227.7,69.2 220.3,64.2" fill="#72b5db" stroke="#72b5db"/><polygon points="220.3,64.2 227.7,69.2 227.5,70.7 220.0,66.0" fill="#84cbeb" stroke="#84cbeb"/><polygon points="220.0,66.0 227.5,70.7 227.3,72.3 219.8,68.0" fill="#8fd8f5" stroke="#8fd8f5"/><polygon points="219.8,68.0 227.3,72.3 227.0,73.9 219.5,69.9" fill="#90d9f5" stroke="#90d9f5"/><polygon points="219.5,69.9 227.0,73.9 226.8,75.6 219.2,71.9" fill="#90d9f5" stroke="#90d9f5"/><polygon points="219.2,71.9 226.8,75.6 226.6,77.3 218.9,74.0" fill="#91d9f5" stroke="#91d9f5"/><polygon points="218.9,74.0 226.6,77.3 226.4,79.2 218.6,76.4" fill="#91d9f5" stroke="#91d9f5"/><polygon points="218.6,76.4 226.4,79.2 226.2,81.6 218.4,79.2" fill="#91d9f5" stroke="#91d9f5"/><polygon points="218.4,79.2 226.2,81.6 226.0,85.3 218.2,83.3" fill="#92d9f5" stroke="#92d9f5"/><polygon points="218.2,83.3 226.0,85.3 226.2,95.4 218.2,93.5" fill="#92d9f5" stroke="#92d9f5"/><polygon points="218.2,93.5 226.2,95.4 226.0,108.2 218.0,106.3" fill="#93d9f5" stroke="#93d9f5"/><polygon points="218.0,106.3 226.0,108.2 225.7,123.0 217.7,121.0" fill="#95d9f5" stroke="#95d9f5"/><polygon points="217.7,121.0 225.7,123.0 225.5,139.9 217.4,137.9" fill="#95daf5" stroke="#95daf5"/><polygon points="217.4,137.9 225.5,139.9 225.4,158.8 217.2,156.7" fill="#95daf5" stroke="#95daf5"/><polygon points="217.2,156.7 225.4,158.8 225.3,178.7 217.1,176.5" fill="#96daf5" stroke="#96daf5"/><polygon points="217.1,176.5 225.3,178.7 225.2,200.5 217.0,198.4" fill="#96daf5" stroke="#96daf5"/><polygon points="217.0,198.4 225.2,200.5 224.9,225.6 216.7,223.4" fill="#96daf5" stroke="#96daf5"/><polygon points="216.7,223.4 224.9,225.6 224.5,251.8 216.1,249.7" fill="#96daf5" stroke="#96daf5"/><polygon points="228.0,66.1 235.3,72.2 235.2,73.4 227.8,67.7" fill="#4d88ba" stroke="#4d88ba"/><polygon points="227.8,67.7 235.2,73.4 235.0,74.6 227.7,69.2" fill="#5e9ecb" stroke="#5e9ecb"/><polygon points="227.7,69.2 235.0,74.6 234.9,75.8 227.5,70.7" fill="#6fb3dc" stroke="#6fb3dc"/><polygon points="227.5,70.7 234.9,75.8 234.8,77.0 227.3,72.3" fill="#81c9ed" stroke="#81c9ed"/><polygon points="227.3,72.3 234.8,77.0 234.6,78.2 227.0,73.9" fill="#88d2f4" stroke="#88d2f4"/><polygon points="227.0,73.9 234.6,78.2 234.4,79.5 226.8,75.6" fill="#88d2f4" stroke="#88d2f4"/><polygon points="226.8,75.6 234.4,79.5 234.3,80.8 226.6,77.3" fill="#89d2f4" stroke="#89d2f4"/><polygon points="226.6,77.3 234.3,80.8 234.1,82.4 226.4,79.2" fill="#89d3f4" stroke="#89d3f4"/><polygon points="226.4,79.2 234.1,82.4 234.0,84.3 226.2,81.6" fill="#89d3f4" stroke="#89d3f4"/><polygon points="226.2,81.6 234.0,84.3 233.9,87.5 226.0,85.3" fill="#8ad3f4" stroke="#8ad3f4"/><polygon points="226.0,85.3 233.9,87.5 234.1,97.4 226.2,95.4" fill="#8ad3f4" stroke="#8ad3f4"/><polygon points="226.2,95.4 234.1,97.4 234.0,110.3 226.0,108.2" fill="#8bd3f4" stroke="#8bd3f4"/><polygon points="226.0,108.2 234.0,110.3 233.8,125.1 225.7,123.0" fill="#8cd3f4" stroke="#8cd3f4"/><polygon points="225.7,123.0 233.8,125.1 233.7,142.0 225.5,139.9" fill="#8cd3f4" stroke="#8cd3f4"/><polygon points="225.5,139.9 233.7,142.0 233.5,160.9 225.4,158.8" fill="#8cd3f4" stroke="#8cd3f4"/><polygon points="225.4,158.8 233.5,160.9 233.5,180.8 225.3,178.7" fill="#8cd3f4" stroke="#8cd3f4"/><polygon points="225.3,178.7 233.5,180.8 233.4,202.7 225.2,200.5" fill="#8dd3f4" stroke="#8dd3f4"/><polygon points="225.2,200.5 233.4,202.7 233.2,227.8 224.9,225.6" fill="#8dd3f4" stroke="#8dd3f4"/><polygon points="224.9,225.6 233.2,227.8 232.9,253.9 224.5,251.8" fill="#8dd4f4" stroke="#8dd4f4"/><polygon points="235.3,72.2 242.6,78.9 242.5,79.7 235.2,73.4" fill="#4782b7" stroke="#4782b7"/><polygon points="235.2,73.4 242.5,79.7 242.4,80.5 235.0,74.6" fill="#5391c3" stroke="#5391c3"/><polygon points="235.0,74.6 242.4,80.5 242.4,81.3 234.9,75.8" fill="#5ea0cf" stroke="#5ea0cf"/><polygon points="234.9,75.8 242.4,81.3 242.3,82.1 234.8,77.0" fill="#6aafdb" stroke="#6aafdb"/><polygon points="234.8,77.0 242.3,82.1 242.2,82.9 234.6,78.2" fill="#76bee8" stroke="#76bee8"/><polygon points="234.6,78.2 242.2,82.9 242.0,83.8 234.4,79.5" fill="#80cbf3" stroke="#80cbf3"/><polygon points="234.4,79.5 242.0,83.8 241.9,84.7 234.3,80.8" fill="#80cbf3" stroke="#80cbf3"/><polygon points="234.3,80.8 241.9,84.7 241.8,85.8 234.1,82.4" fill="#80ccf3" stroke="#80ccf3"/><polygon points="234.1,82.4 241.8,85.8 241.8,87.2 234.0,84.3" fill="#80ccf3" stroke="#80ccf3"/><polygon points="234.0,84.3 241.8,87.2 241.8,89.9 233.9,87.5" fill="#81ccf3" stroke="#81ccf3"/><polygon points="233.9,87.5 241.8,89.9 242.1,99.7 234.1,97.4" fill="#81cbf3" stroke="#81cbf3"/><polygon points="234.1,97.4 242.1,99.7 242.0,112.5 234.0,110.3" fill="#81cbf2" stroke="#81cbf2"/><polygon points="234.0,110.3 242.0,112.5 241.9,127.4 233.8,125.1" fill="#82cbf2" stroke="#82cbf2"/><polygon points="233.8,125.1 241.9,127.4 241.8,144.3 233.7,142.0" fill="#82ccf2" stroke="#82ccf2"/><polygon points="233.7,142.0 241.8,144.3 241.7,163.2 233.5,160.9" fill="#82ccf3" stroke="#82ccf3"/><polygon points="233.5,160.9 241.7,163.2 241.6,183.1 233.5,180.8" fill="#82ccf3" stroke="#82ccf3"/><polygon points="233.5,180.8 241.6,183.1 241.6,204.9 233.4,202.7" fill="#83ccf3" stroke="#83ccf3"/><polygon points="233.4,202.7 241.6,204.9 241.5,229.9 233.2,227.8" fill="#83ccf3" stroke="#83ccf3"/><polygon points="233.2,227.8 241.5,229.9 241.3,256.0 232.9,253.9" fill="#83ccf3" stroke="#83ccf3"/><polygon points="242.6,78.9 249.9,84.6 249.9,85.1 242.5,79.7" fill="#427db4" stroke="#427db4"/><polygon points="242.5,79.7 249.9,85.1 249.8,85.5 242.4,80.5" fill="#4886bb" stroke="#4886bb"/><polygon points="242.4,80.5 249.8,85.5 249.8,86.0 242.4,81.3" fill="#4e8ec2" stroke="#4e8ec2"/><polygon points="242.4,81.3 249.8,86.0 249.7,86.4 242.3,82.1" fill="#5596ca" stroke="#5596ca"/><polygon points="242.3,82.1 249.7,86.4 249.7,86.9 242.2,82.9" fill="#5b9fd1" stroke="#5b9fd1"/><polygon points="242.2,82.9 249.7,86.9 249.6,87.4 242.0,83.8" fill="#62a8d9" stroke="#62a8d9"/><polygon points="242.0,83.8 249.6,87.4 249.6,87.9 241.9,84.7" fill="#69b2e1" stroke="#69b2e1"/><polygon points="241.9,84.7 249.6,87.9 249.6,88.6 241.8,85.8" fill="#71bdeb" stroke="#71bdeb"/><polygon points="241.8,85.8 249.6,88.6 249.6,89.6 241.8,87.2" fill="#77c4f1" stroke="#77c4f1"/><polygon points="241.8,87.2 249.6,89.6 249.6,91.9 241.8,89.9" fill="#77c4f1" stroke="#77c4f1"/><polygon points="241.8,89.9 249.6,91.9 250.0,101.5 242.1,99.7" fill="#77c4f1" stroke="#77c4f1"/><polygon points="242.1,99.7 250.0,101.5 250.0,114.4 242.0,112.5" fill="#77c4f1" stroke="#77c4f1"/><polygon points="242.0,112.5 250.0,114.4 249.9,129.3 241.9,127.4" fill="#77c4f1" stroke="#77c4f1"/><polygon points="241.9,127.4 249.9,129.3 249.9,146.2 241.8,144.3" fill="#78c4f1" stroke="#78c4f1"/><polygon points="241.8,144.3 249.9,146.2 249.8,165.2 241.7,163.2" fill="#78c4f1" stroke="#78c4f1"/><polygon points="241.7,163.2 249.8,165.2 249.8,185.1 241.6,183.1" fill="#78c4f1" stroke="#78c4f1"/><polygon points="241.6,183.1 249.8,185.1 249.8,207.0 241.6,204.9" fill="#78c4f1" stroke="#78c4f1"/><polygon points="241.6,204.9 249.8,207.0 249.7,232.0 241.5,229.9" fill="#78c4f1" stroke="#78c4f1"/><polygon points="241.5,229.9 249.7,232.0 249.6,258.0 241.3,256.0" fill="#78c4f1" stroke="#78c4f1"/><polygon points="249.9,84.6 257.2,89.6 257.2,89.8 249.9,85.1" fill="#3d78b1" stroke="#3d78b1"/><polygon points="249.9,85.1 257.2,89.8 257.2,89.9 249.8,85.5" fill="#407cb5" stroke="#407cb5"/><polygon points="249.8,85.5 257.2,89.9 257.2,90.1 249.8,86.0" fill="#427fb8" stroke="#427fb8"/><polygon points="249.8,86.0 257.2,90.1 257.2,90.2 249.7,86.4" fill="#4583bb" stroke="#4583bb"/><polygon points="249.7,86.4 257.2,90.2 257.3,90.3 249.7,86.9" fill="#4787be" stroke="#4787be"/><polygon points="249.7,86.9 257.3,90.3 257.3,90.5 249.6,87.4" fill="#4a8ac2" stroke="#4a8ac2"/><polygon points="249.6,87.4 257.3,90.5 257.3,90.7 249.6,87.9" fill="#4d8ec6" stroke="#4d8ec6"/><polygon points="249.6,87.9 257.3,90.7 257.3,91.0 249.6,88.6" fill="#5094ca" stroke="#5094ca"/><polygon points="249.6,88.6 257.3,91.0 257.3,91.6 249.6,89.6" fill="#569bd1" stroke="#569bd1"/><polygon points="249.6,89.6 257.3,91.6 257.5,93.5 249.6,91.9" fill="#61abe0" stroke="#61abe0"/><polygon points="249.6,91.9 257.5,93.5 258.0,103.0 250.0,101.5" fill="#6cbcef" stroke="#6cbcef"/><polygon points="250.0,101.5 258.0,103.0 258.0,116.0 250.0,114.4" fill="#6cbbef" stroke="#6cbbef"/><polygon points="250.0,114.4 258.0,116.0 258.0,131.0 249.9,129.3" fill="#6cbbef" stroke="#6cbbef"/><polygon points="249.9,129.3 258.0,131.0 258.0,148.0 249.9,146.2" fill="#6cbbef" stroke="#6cbbef"/><polygon points="249.9,146.2 258.0,148.0 258.0,167.0 249.8,165.2" fill="#6cbcef" stroke="#6cbcef"/><polygon points="249.8,165.2 258.0,167.0 258.0,187.0 249.8,185.1" fill="#6cbcef" stroke="#6cbcef"/><polygon points="249.8,185.1 258.0,187.0 258.0,209.0 249.8,207.0" fill="#6cbcef" stroke="#6cbcef"/><polygon points="249.8,207.0 258.0,209.0 258.0,234.0 249.7,232.0" fill="#6cbcef" stroke="#6cbcef"/><polygon points="249.7,232.0 258.0,234.0 258.0,260.0 249.6,258.0" fill="#6cbcef" stroke="#6cbcef"/></g><g stroke="#0b1622" stroke-width="0.62" fill="none" stroke-linejoin="round" stroke-linecap="round"><polyline points="82.3,4.4 81.0,10.0 79.8,15.0 78.7,20.0 77.4,25.6 76.0,31.0 74.5,37.0 73.1,43.0 71.6,50.0 70.2,58.0 68.7,67.0 67.2,77.0 65.8,85.6 64.4,96.0 63.3,109.0 62.3,124.0 61.6,140.0 61.0,158.0 59.5,180.0 57.0,204.0"/><polyline points="104.1,10.1 103.0,15.4 102.0,20.1 101.0,24.8 99.8,30.0 98.7,35.1 97.4,40.6 96.1,46.2 94.8,52.7 93.6,60.1 92.3,68.5 91.0,78.7 89.9,88.2 88.6,99.5 87.6,113.3 86.8,129.1 86.2,145.9 85.6,164.7 84.4,187.4 82.1,211.9"/><polyline points="126.0,16.0 125.0,20.9 124.2,25.2 123.3,29.6 122.3,34.5 121.3,39.1 120.2,44.3 119.1,49.4 118.0,55.3 117.0,62.1 115.9,69.9 114.9,80.4 113.9,90.7 112.8,102.8 111.9,117.4 111.2,134.0 110.7,151.6 110.2,171.2 109.2,194.5 107.3,219.6"/><polyline points="147.9,23.0 147.1,27.4 146.4,31.4 145.6,35.3 144.8,39.7 144.0,43.9 143.0,48.6 142.1,53.2 141.2,58.5 140.4,64.5 139.5,71.7 138.7,82.3 137.9,93.3 137.0,106.3 136.3,121.6 135.7,138.9 135.3,157.2 134.9,177.5 134.0,201.4 132.4,227.0"/><polyline points="169.7,31.3 169.1,35.1 168.5,38.6 168.0,42.1 167.3,46.0 166.6,49.7 165.9,53.7 165.2,57.7 164.5,62.3 163.8,67.5 163.1,73.9 162.6,84.6 161.9,96.3 161.2,110.0 160.6,125.9 160.2,143.8 159.8,162.8 159.5,183.7 158.8,208.1 157.5,234.1"/><polyline points="191.6,41.5 191.1,44.6 190.7,47.5 190.3,50.5 189.8,53.6 189.3,56.7 188.7,60.0 188.2,63.3 187.7,67.1 187.2,71.4 186.7,76.9 186.4,87.6 185.9,99.9 185.4,114.1 185.0,130.5 184.6,149.0 184.4,168.4 184.1,189.9 183.6,214.7 182.6,240.9"/><polyline points="213.5,55.1 213.2,57.3 212.9,59.5 212.6,61.6 212.3,63.9 211.9,66.2 211.6,68.5 211.2,71.0 210.9,73.7 210.6,77.0 210.3,81.4 210.3,91.8 210.0,104.5 209.6,119.1 209.3,135.9 209.1,154.7 208.9,174.5 208.7,196.2 208.4,221.3 207.8,247.5"/><polyline points="235.3,72.2 235.2,73.4 235.0,74.6 234.9,75.8 234.8,77.0 234.6,78.2 234.4,79.5 234.3,80.8 234.1,82.4 234.0,84.3 233.9,87.5 234.1,97.4 234.0,110.3 233.8,125.1 233.7,142.0 233.5,160.9 233.5,180.8 233.4,202.7 233.2,227.8 232.9,253.9"/><polyline points="257.2,89.6 257.2,89.8 257.2,89.9 257.2,90.1 257.2,90.2 257.3,90.3 257.3,90.5 257.3,90.7 257.3,91.0 257.3,91.6 257.5,93.5 258.0,103.0 258.0,116.0 258.0,131.0 258.0,148.0 258.0,167.0 258.0,187.0 258.0,209.0 258.0,234.0 258.0,260.0"/><polyline points="82.3,4.4 89.6,6.3 96.8,8.2 104.1,10.1 111.4,12.1 118.7,14.0 126.0,16.0 133.3,18.2 140.6,20.5 147.9,23.0 155.2,25.7 162.4,28.5 169.7,31.3 177.0,34.3 184.3,37.7 191.6,41.5 198.9,45.7 206.2,50.2 213.5,55.1 220.8,60.4 228.0,66.1 235.3,72.2 242.6,78.9 249.9,84.6 257.2,89.6"/><polyline points="81.0,10.0 88.3,11.8 95.7,13.6 103.0,15.4 110.4,17.2 117.7,19.0 125.0,20.9 132.4,22.9 139.7,25.0 147.1,27.4 154.4,29.9 161.8,32.5 169.1,35.1 176.4,38.0 183.8,41.1 191.1,44.6 198.5,48.5 205.8,52.8 213.2,57.3 220.5,62.3 227.8,67.7 235.2,73.4 242.5,79.7 249.9,85.1 257.2,89.8"/><polyline points="79.8,15.0 87.2,16.7 94.6,18.4 102.0,20.1 109.4,21.8 116.8,23.5 124.2,25.2 131.6,27.1 139.0,29.1 146.4,31.4 153.7,33.7 161.1,36.1 168.5,38.6 175.9,41.3 183.3,44.2 190.7,47.5 198.1,51.2 205.5,55.2 212.9,59.5 220.3,64.2 227.7,69.2 235.0,74.6 242.4,80.5 249.8,85.5 257.2,89.9"/><polyline points="78.7,20.0 86.1,21.6 93.6,23.2 101.0,24.8 108.4,26.4 115.9,28.0 123.3,29.6 130.8,31.4 138.2,33.3 145.6,35.3 153.1,37.5 160.5,39.8 168.0,42.1 175.4,44.6 182.8,47.4 190.3,50.5 197.7,53.9 205.2,57.6 212.6,61.6 220.0,66.0 227.5,70.7 234.9,75.8 242.4,81.3 249.8,86.0 257.2,90.1"/><polyline points="77.4,25.6 84.9,27.0 92.3,28.5 99.8,30.0 107.3,31.5 114.8,32.9 122.3,34.5 129.8,36.1 137.3,37.8 144.8,39.7 152.3,41.7 159.8,43.8 167.3,46.0 174.8,48.2 182.3,50.7 189.8,53.6 197.3,56.8 204.8,60.2 212.3,63.9 219.8,68.0 227.3,72.3 234.8,77.0 242.3,82.1 249.7,86.4 257.2,90.2"/><polyline points="76.0,31.0 83.6,32.3 91.1,33.7 98.7,35.1 106.2,36.4 113.8,37.8 121.3,39.1 128.9,40.6 136.4,42.2 144.0,43.9 151.5,45.8 159.1,47.7 166.6,49.7 174.2,51.7 181.7,54.1 189.3,56.7 196.8,59.6 204.4,62.8 211.9,66.2 219.5,69.9 227.0,73.9 234.6,78.2 242.2,82.9 249.7,86.9 257.3,90.3"/><polyline points="74.5,37.0 82.1,38.2 89.7,39.4 97.4,40.6 105.0,41.8 112.6,43.0 120.2,44.3 127.8,45.6 135.4,47.0 143.0,48.6 150.7,50.2 158.3,51.9 165.9,53.7 173.5,55.5 181.1,57.6 188.7,60.0 196.3,62.6 204.0,65.5 211.6,68.5 219.2,71.9 226.8,75.6 234.4,79.5 242.0,83.8 249.6,87.4 257.3,90.5"/><polyline points="73.1,43.0 80.7,44.1 88.4,45.1 96.1,46.2 103.8,47.3 111.4,48.3 119.1,49.4 126.8,50.6 134.5,51.8 142.1,53.2 149.8,54.7 157.5,56.2 165.2,57.7 172.9,59.4 180.5,61.2 188.2,63.3 195.9,65.7 203.6,68.2 211.2,71.0 218.9,74.0 226.6,77.3 234.3,80.8 241.9,84.7 249.6,87.9 257.3,90.7"/><polyline points="71.6,50.0 79.3,50.9 87.1,51.8 94.8,52.7 102.6,53.6 110.3,54.4 118.0,55.3 125.8,56.3 133.5,57.3 141.2,58.5 149.0,59.7 156.7,61.0 164.5,62.3 172.2,63.7 179.9,65.3 187.7,67.1 195.4,69.1 203.1,71.3 210.9,73.7 218.6,76.4 226.4,79.2 234.1,82.4 241.8,85.8 249.6,88.6 257.3,91.0"/><polyline points="70.2,58.0 78.0,58.7 85.8,59.4 93.6,60.1 101.4,60.7 109.2,61.4 117.0,62.1 124.8,62.8 132.6,63.6 140.4,64.5 148.2,65.5 156.0,66.5 163.8,67.5 171.6,68.6 179.4,69.9 187.2,71.4 195.0,73.1 202.8,74.9 210.6,77.0 218.4,79.2 226.2,81.6 234.0,84.3 241.8,87.2 249.6,89.6 257.3,91.6"/><polyline points="68.7,67.0 76.6,67.5 84.5,68.0 92.3,68.5 100.2,69.0 108.1,69.4 115.9,69.9 123.8,70.4 131.7,71.0 139.5,71.7 147.4,72.4 155.2,73.1 163.1,73.9 171.0,74.8 178.8,75.7 186.7,76.9 194.6,78.3 202.4,79.8 210.3,81.4 218.2,83.3 226.0,85.3 233.9,87.5 241.8,89.9 249.6,91.9 257.5,93.5"/><polyline points="67.2,77.0 75.1,77.6 83.1,78.2 91.0,78.7 99.0,79.3 106.9,79.8 114.9,80.4 122.8,80.9 130.8,81.6 138.7,82.3 146.7,83.0 154.6,83.8 162.6,84.6 170.5,85.4 178.5,86.4 186.4,87.6 194.4,88.8 202.3,90.3 210.3,91.8 218.2,93.5 226.2,95.4 234.1,97.4 242.1,99.7 250.0,101.5 258.0,103.0"/><polyline points="65.8,85.6 73.9,86.5 81.9,87.3 89.9,88.2 97.9,89.0 105.9,89.8 113.9,90.7 121.9,91.5 129.9,92.4 137.9,93.3 145.9,94.3 153.9,95.3 161.9,96.3 169.9,97.4 177.9,98.6 185.9,99.9 193.9,101.3 202.0,102.8 210.0,104.5 218.0,106.3 226.0,108.2 234.0,110.3 242.0,112.5 250.0,114.4 258.0,116.0"/><polyline points="64.4,96.0 72.5,97.2 80.5,98.3 88.6,99.5 96.7,100.6 104.7,101.7 112.8,102.8 120.9,103.9 128.9,105.1 137.0,106.3 145.1,107.5 153.1,108.7 161.2,110.0 169.3,111.2 177.3,112.6 185.4,114.1 193.5,115.7 201.5,117.4 209.6,119.1 217.7,121.0 225.7,123.0 233.8,125.1 241.9,127.4 249.9,129.3 258.0,131.0"/><polyline points="63.3,109.0 71.4,110.4 79.5,111.9 87.6,113.3 95.7,114.7 103.8,116.0 111.9,117.4 120.1,118.8 128.2,120.2 136.3,121.6 144.4,123.0 152.5,124.5 160.6,125.9 168.7,127.4 176.9,128.9 185.0,130.5 193.1,132.3 201.2,134.0 209.3,135.9 217.4,137.9 225.5,139.9 233.7,142.0 241.8,144.3 249.9,146.2 258.0,148.0"/><polyline points="62.3,124.0 70.5,125.7 78.6,127.4 86.8,129.1 94.9,130.7 103.1,132.4 111.2,134.0 119.4,135.6 127.5,137.2 135.7,138.9 143.8,140.6 152.0,142.2 160.2,143.8 168.3,145.5 176.5,147.2 184.6,149.0 192.8,150.8 200.9,152.7 209.1,154.7 217.2,156.7 225.4,158.8 233.5,160.9 241.7,163.2 249.8,165.2 258.0,167.0"/><polyline points="61.6,140.0 69.8,142.0 78.0,143.9 86.2,145.9 94.3,147.8 102.5,149.7 110.7,151.6 118.9,153.5 127.1,155.3 135.3,157.2 143.4,159.1 151.6,160.9 159.8,162.8 168.0,164.6 176.2,166.5 184.4,168.4 192.5,170.4 200.7,172.4 208.9,174.5 217.1,176.5 225.3,178.7 233.5,180.8 241.6,183.1 249.8,185.1 258.0,187.0"/><polyline points="61.0,158.0 69.2,160.3 77.4,162.5 85.6,164.7 93.8,166.9 102.0,169.0 110.2,171.2 118.5,173.3 126.7,175.4 134.9,177.5 143.1,179.6 151.3,181.7 159.5,183.7 167.7,185.8 175.9,187.8 184.1,189.9 192.3,192.0 200.5,194.1 208.7,196.2 217.0,198.4 225.2,200.5 233.4,202.7 241.6,204.9 249.8,207.0 258.0,209.0"/><polyline points="59.5,180.0 67.8,182.5 76.1,184.9 84.4,187.4 92.6,189.8 100.9,192.2 109.2,194.5 117.4,196.8 125.7,199.2 134.0,201.4 142.2,203.7 150.5,205.9 158.8,208.1 167.0,210.3 175.3,212.5 183.6,214.7 191.8,216.9 200.1,219.1 208.4,221.3 216.7,223.4 224.9,225.6 233.2,227.8 241.5,229.9 249.7,232.0 258.0,234.0"/><polyline points="57.0,204.0 65.4,206.7 73.8,209.3 82.1,211.9 90.5,214.5 98.9,217.1 107.3,219.6 115.6,222.1 124.0,224.6 132.4,227.0 140.8,229.4 149.1,231.8 157.5,234.1 165.9,236.4 174.3,238.7 182.6,240.9 191.0,243.2 199.4,245.4 207.8,247.5 216.1,249.7 224.5,251.8 232.9,253.9 241.3,256.0 249.6,258.0 258.0,260.0"/></g></g>
<defs><clipPath id="cr"><polygon points="257.4,-5.0 470.0,-5.0 470.0,165.8 446.4,165.8 442.6,164.2 438.7,162.6 434.9,160.9 431.0,159.3 427.2,157.5 423.3,155.8 419.5,154.0 415.6,152.3 411.8,150.6 408.0,148.9 404.1,147.3 400.3,145.5 396.4,143.7 392.6,141.7 388.7,139.4 384.9,137.0 381.0,135.0 377.2,133.3 373.3,131.8 369.5,130.4 365.7,129.0 361.8,127.7 358.0,126.3 354.1,124.9 350.3,123.5 346.4,122.2 342.6,120.8 338.7,119.6 334.9,118.3 331.1,117.1 327.2,115.9 323.4,114.9 319.5,113.9 315.7,113.0 311.8,112.3 308.0,111.6 304.1,110.8 300.3,110.1 296.4,109.2 292.6,108.3 288.8,107.4 284.9,106.5 281.1,105.7 277.2,105.0 273.4,104.4 269.5,103.8 265.7,103.2 261.8,102.7 258.0,102.3 257.4,102.3"/></clipPath></defs><g clip-path="url(#cr)"><g stroke-width="0.5" stroke-linejoin="round"><polygon points="257.2,89.6 264.9,87.0 264.9,87.4 257.2,89.8" fill="#3162a4" stroke="#3162a4"/><polygon points="257.2,89.8 264.9,87.4 264.9,87.7 257.2,89.9" fill="#3264a7" stroke="#3264a7"/><polygon points="257.2,89.9 264.9,87.7 265.0,88.0 257.2,90.1" fill="#3365aa" stroke="#3365aa"/><polygon points="257.2,90.1 265.0,88.0 265.0,88.4 257.2,90.2" fill="#3567ad" stroke="#3567ad"/><polygon points="257.2,90.2 265.0,88.4 265.0,88.7 257.3,90.3" fill="#3669af" stroke="#3669af"/><polygon points="257.3,90.3 265.0,88.7 265.0,89.1 257.3,90.5" fill="#386cb2" stroke="#386cb2"/><polygon points="257.3,90.5 265.0,89.1 265.1,89.5 257.3,90.7" fill="#3a6eb5" stroke="#3a6eb5"/><polygon points="257.3,90.7 265.1,89.5 265.1,90.1 257.3,91.0" fill="#3c71ba" stroke="#3c71ba"/><polygon points="257.3,91.0 265.1,90.1 265.2,91.1 257.4,91.8" fill="#4077c2" stroke="#4077c2"/><polygon points="257.4,91.8 265.2,91.1 265.4,93.6 257.5,94.0" fill="#4a85d5" stroke="#4a85d5"/><polygon points="257.5,94.0 265.4,93.6 265.7,97.8 257.9,98.0" fill="#5493e8" stroke="#5493e8"/><polygon points="257.9,98.0 265.7,97.8 265.9,105.9 258.0,106.0" fill="#5593e8" stroke="#5593e8"/><polygon points="258.0,106.0 265.9,105.9 265.9,119.8 258.0,120.0" fill="#5694e8" stroke="#5694e8"/><polygon points="258.0,120.0 265.9,119.8 265.9,145.4 258.0,146.0" fill="#5794e8" stroke="#5794e8"/><polygon points="258.0,146.0 265.9,145.4 265.9,178.8 258.0,180.0" fill="#5795e8" stroke="#5795e8"/><polygon points="258.0,180.0 265.9,178.8 265.9,205.3 258.0,207.0" fill="#5795e8" stroke="#5795e8"/><polygon points="258.0,207.0 265.9,205.3 265.9,233.8 258.0,236.0" fill="#5795e8" stroke="#5795e8"/><polygon points="258.0,236.0 265.9,233.8 265.9,263.5 258.0,266.0" fill="#5795e8" stroke="#5795e8"/><polygon points="258.0,266.0 265.9,263.5 266.0,295.1 258.0,298.0" fill="#5795e8" stroke="#5795e8"/><polygon points="264.9,87.0 272.5,83.4 272.6,84.1 264.9,87.4" fill="#3364a6" stroke="#3364a6"/><polygon points="264.9,87.4 272.6,84.1 272.6,84.6 264.9,87.7" fill="#3769ac" stroke="#3769ac"/><polygon points="264.9,87.7 272.6,84.6 272.7,85.1 265.0,88.0" fill="#3a6db1" stroke="#3a6db1"/><polygon points="265.0,88.0 272.7,85.1 272.7,85.7 265.0,88.4" fill="#3d71b7" stroke="#3d71b7"/><polygon points="265.0,88.4 272.7,85.7 272.8,86.3 265.0,88.7" fill="#4075bc" stroke="#4075bc"/><polygon points="265.0,88.7 272.8,86.3 272.8,87.0 265.0,89.1" fill="#447ac2" stroke="#447ac2"/><polygon points="265.0,89.1 272.8,87.0 272.9,87.6 265.1,89.5" fill="#477fc9" stroke="#477fc9"/><polygon points="265.1,89.5 272.9,87.6 273.0,88.5 265.1,90.1" fill="#4c85d0" stroke="#4c85d0"/><polygon points="265.1,90.1 273.0,88.5 273.1,89.9 265.2,91.1" fill="#538edc" stroke="#538edc"/><polygon points="265.2,91.1 273.1,89.9 273.3,92.7 265.4,93.6" fill="#5c99ea" stroke="#5c99ea"/><polygon points="265.4,93.6 273.3,92.7 273.6,97.1 265.7,97.8" fill="#5d9aea" stroke="#5d9aea"/><polygon points="265.7,97.8 273.6,97.1 273.8,105.3 265.9,105.9" fill="#5e9bea" stroke="#5e9bea"/><polygon points="265.9,105.9 273.8,105.3 273.8,119.2 265.9,119.8" fill="#5f9cea" stroke="#5f9cea"/><polygon points="265.9,119.8 273.8,119.2 273.8,144.5 265.9,145.4" fill="#619deb" stroke="#619deb"/><polygon points="265.9,145.4 273.8,144.5 273.9,177.3 265.9,178.8" fill="#639eeb" stroke="#639eeb"/><polygon points="265.9,178.8 273.9,177.3 273.9,203.3 265.9,205.3" fill="#639eeb" stroke="#639eeb"/><polygon points="265.9,205.3 273.9,203.3 273.7,231.5 265.9,233.8" fill="#639eeb" stroke="#639eeb"/><polygon points="265.9,233.8 273.7,231.5 273.7,260.8 265.9,263.5" fill="#639eeb" stroke="#639eeb"/><polygon points="265.9,263.5 273.7,260.8 274.0,292.2 266.0,295.1" fill="#639eeb" stroke="#639eeb"/><polygon points="272.5,83.4 280.2,78.7 280.3,79.7 272.6,84.1" fill="#3667a9" stroke="#3667a9"/><polygon points="272.6,84.1 280.3,79.7 280.3,80.5 272.6,84.6" fill="#3c6eb2" stroke="#3c6eb2"/><polygon points="272.6,84.6 280.3,80.5 280.4,81.3 272.7,85.1" fill="#4175ba" stroke="#4175ba"/><polygon points="272.7,85.1 280.4,81.3 280.5,82.2 272.7,85.7" fill="#467cc3" stroke="#467cc3"/><polygon points="272.7,85.7 280.5,82.2 280.5,83.1 272.8,86.3" fill="#4c84cc" stroke="#4c84cc"/><polygon points="272.8,86.3 280.5,83.1 280.6,84.1 272.8,87.0" fill="#528bd6" stroke="#528bd6"/><polygon points="272.8,87.0 280.6,84.1 280.7,85.1 272.9,87.6" fill="#5994e0" stroke="#5994e0"/><polygon points="272.9,87.6 280.7,85.1 280.8,86.3 273.0,88.5" fill="#619eec" stroke="#619eec"/><polygon points="273.0,88.5 280.8,86.3 280.9,88.1 273.1,89.9" fill="#619eec" stroke="#619eec"/><polygon points="273.1,89.9 280.9,88.1 281.2,91.3 273.3,92.7" fill="#629fec" stroke="#629fec"/><polygon points="273.3,92.7 281.2,91.3 281.5,96.0 273.6,97.1" fill="#63a0ec" stroke="#63a0ec"/><polygon points="273.6,97.1 281.5,96.0 281.7,104.3 273.8,105.3" fill="#65a2ed" stroke="#65a2ed"/><polygon points="273.8,105.3 281.7,104.3 281.7,118.3 273.8,119.2" fill="#67a3ed" stroke="#67a3ed"/><polygon points="273.8,119.2 281.7,118.3 281.7,143.2 273.8,144.5" fill="#6aa5ed" stroke="#6aa5ed"/><polygon points="273.8,144.5 281.7,143.2 281.8,175.5 273.9,177.3" fill="#6da7ed" stroke="#6da7ed"/><polygon points="273.9,177.3 281.8,175.5 281.8,201.2 273.9,203.3" fill="#6da7ed" stroke="#6da7ed"/><polygon points="273.9,203.3 281.8,201.2 281.6,229.0 273.7,231.5" fill="#6da7ed" stroke="#6da7ed"/><polygon points="273.7,231.5 281.6,229.0 281.6,258.1 273.7,260.8" fill="#6da7ed" stroke="#6da7ed"/><polygon points="273.7,260.8 281.6,258.1 282.0,289.2 274.0,292.2" fill="#6da7ed" stroke="#6da7ed"/><polygon points="280.2,78.7 287.8,72.5 287.9,73.9 280.3,79.7" fill="#386aac" stroke="#386aac"/><polygon points="280.3,79.7 287.9,73.9 288.0,75.1 280.3,80.5" fill="#4175ba" stroke="#4175ba"/><polygon points="280.3,80.5 288.0,75.1 288.1,76.2 280.4,81.3" fill="#4a80c6" stroke="#4a80c6"/><polygon points="280.4,81.3 288.1,76.2 288.2,77.5 280.5,82.2" fill="#538bd4" stroke="#538bd4"/><polygon points="280.5,82.2 288.2,77.5 288.3,78.8 280.5,83.1" fill="#5c97e2" stroke="#5c97e2"/><polygon points="280.5,83.1 288.3,78.8 288.4,80.1 280.6,84.1" fill="#64a1ed" stroke="#64a1ed"/><polygon points="280.6,84.1 288.4,80.1 288.5,81.6 280.7,85.1" fill="#65a1ed" stroke="#65a1ed"/><polygon points="280.7,85.1 288.5,81.6 288.6,83.2 280.8,86.3" fill="#65a2ee" stroke="#65a2ee"/><polygon points="280.8,86.3 288.6,83.2 288.8,85.5 280.9,88.1" fill="#66a2ee" stroke="#66a2ee"/><polygon points="280.9,88.1 288.8,85.5 289.1,89.1 281.2,91.3" fill="#67a3ee" stroke="#67a3ee"/><polygon points="281.2,91.3 289.1,89.1 289.4,94.1 281.5,96.0" fill="#69a5ee" stroke="#69a5ee"/><polygon points="281.5,96.0 289.4,94.1 289.5,102.7 281.7,104.3" fill="#6ca7ef" stroke="#6ca7ef"/><polygon points="281.7,104.3 289.5,102.7 289.6,116.8 281.7,118.3" fill="#6ea9ef" stroke="#6ea9ef"/><polygon points="281.7,118.3 289.6,116.8 289.6,141.6 281.7,143.2" fill="#72acef" stroke="#72acef"/><polygon points="281.7,143.2 289.6,141.6 289.7,173.4 281.8,175.5" fill="#77aef0" stroke="#77aef0"/><polygon points="281.8,175.5 289.7,173.4 289.7,198.7 281.8,201.2" fill="#77aef0" stroke="#77aef0"/><polygon points="281.8,201.2 289.7,198.7 289.4,226.3 281.6,229.0" fill="#76aeef" stroke="#76aeef"/><polygon points="281.6,229.0 289.4,226.3 289.5,255.2 281.6,258.1" fill="#76aeef" stroke="#76aeef"/><polygon points="281.6,258.1 289.5,255.2 290.0,286.2 282.0,289.2" fill="#77aef0" stroke="#77aef0"/><polygon points="287.8,72.5 295.5,66.8 295.6,68.5 287.9,73.9" fill="#467ac0" stroke="#467ac0"/><polygon points="287.9,73.9 295.6,68.5 295.7,70.0 288.0,75.1" fill="#4f86ce" stroke="#4f86ce"/><polygon points="288.0,75.1 295.7,70.0 295.8,71.5 288.1,76.2" fill="#5891da" stroke="#5891da"/><polygon points="288.1,76.2 295.8,71.5 295.9,73.1 288.2,77.5" fill="#619ce8" stroke="#619ce8"/><polygon points="288.2,77.5 295.9,73.1 296.0,74.7 288.3,78.8" fill="#66a3ef" stroke="#66a3ef"/><polygon points="288.3,78.8 296.0,74.7 296.2,76.5 288.4,80.1" fill="#67a4ef" stroke="#67a4ef"/><polygon points="288.4,80.1 296.2,76.5 296.3,78.3 288.5,81.6" fill="#68a4ef" stroke="#68a4ef"/><polygon points="288.5,81.6 296.3,78.3 296.4,80.3 288.6,83.2" fill="#69a5ef" stroke="#69a5ef"/><polygon points="288.6,83.2 296.4,80.3 296.6,83.0 288.8,85.5" fill="#6aa6ef" stroke="#6aa6ef"/><polygon points="288.8,85.5 296.6,83.0 296.9,87.1 289.1,89.1" fill="#6ca7f0" stroke="#6ca7f0"/><polygon points="289.1,89.1 296.9,87.1 297.3,92.5 289.4,94.1" fill="#6ea9f0" stroke="#6ea9f0"/><polygon points="289.4,94.1 297.3,92.5 297.4,101.3 289.5,102.7" fill="#71acf0" stroke="#71acf0"/><polygon points="289.5,102.7 297.4,101.3 297.5,115.5 289.6,116.8" fill="#75aff1" stroke="#75aff1"/><polygon points="289.6,116.8 297.5,115.5 297.5,140.0 289.6,141.6" fill="#7ab2f1" stroke="#7ab2f1"/><polygon points="289.6,141.6 297.5,140.0 297.6,171.3 289.7,173.4" fill="#7fb6f2" stroke="#7fb6f2"/><polygon points="289.7,173.4 297.6,171.3 297.7,196.3 289.7,198.7" fill="#7fb6f2" stroke="#7fb6f2"/><polygon points="289.7,198.7 297.7,196.3 297.3,223.6 289.4,226.3" fill="#7fb5f2" stroke="#7fb5f2"/><polygon points="289.4,226.3 297.3,223.6 297.4,252.4 289.5,255.2" fill="#7fb5f2" stroke="#7fb5f2"/><polygon points="289.5,255.2 297.4,252.4 298.0,283.1 290.0,286.2" fill="#7fb6f2" stroke="#7fb6f2"/><polygon points="295.5,66.8 303.1,61.3 303.3,63.4 295.6,68.5" fill="#548cd5" stroke="#548cd5"/><polygon points="295.6,68.5 303.3,63.4 303.4,65.2 295.7,70.0" fill="#5b95df" stroke="#5b95df"/><polygon points="295.7,70.0 303.4,65.2 303.5,67.0 295.8,71.5" fill="#629de9" stroke="#629de9"/><polygon points="295.8,71.5 303.5,67.0 303.7,68.9 295.9,73.1" fill="#68a4f0" stroke="#68a4f0"/><polygon points="295.9,73.1 303.7,68.9 303.8,70.9 296.0,74.7" fill="#69a5f0" stroke="#69a5f0"/><polygon points="296.0,74.7 303.8,70.9 303.9,73.0 296.2,76.5" fill="#6aa6f0" stroke="#6aa6f0"/><polygon points="296.2,76.5 303.9,73.0 304.1,75.1 296.3,78.3" fill="#6ba7f0" stroke="#6ba7f0"/><polygon points="296.3,78.3 304.1,75.1 304.3,77.6 296.4,80.3" fill="#6ca8f1" stroke="#6ca8f1"/><polygon points="296.4,80.3 304.3,77.6 304.5,80.7 296.6,83.0" fill="#6da9f1" stroke="#6da9f1"/><polygon points="296.6,83.0 304.5,80.7 304.8,85.3 296.9,87.1" fill="#6fabf1" stroke="#6fabf1"/><polygon points="296.9,87.1 304.8,85.3 305.1,90.9 297.3,92.5" fill="#72adf1" stroke="#72adf1"/><polygon points="297.3,92.5 305.1,90.9 305.3,99.9 297.4,101.3" fill="#76b1f2" stroke="#76b1f2"/><polygon points="297.4,101.3 305.3,99.9 305.4,114.2 297.5,115.5" fill="#7bb4f2" stroke="#7bb4f2"/><polygon points="297.5,115.5 305.4,114.2 305.4,138.4 297.5,140.0" fill="#81b8f3" stroke="#81b8f3"/><polygon points="297.5,140.0 305.4,138.4 305.6,169.3 297.6,171.3" fill="#88bdf4" stroke="#88bdf4"/><polygon points="297.6,171.3 305.6,169.3 305.6,193.9 297.7,196.3" fill="#88bdf4" stroke="#88bdf4"/><polygon points="297.7,196.3 305.6,193.9 305.1,220.9 297.3,223.6" fill="#88bcf4" stroke="#88bcf4"/><polygon points="297.3,223.6 305.1,220.9 305.2,249.4 297.4,252.4" fill="#87bcf4" stroke="#87bcf4"/><polygon points="297.4,252.4 305.2,249.4 306.0,280.0 298.0,283.1" fill="#88bdf4" stroke="#88bdf4"/><polygon points="303.1,61.3 310.8,56.0 311.0,58.5 303.3,63.4" fill="#609ce9" stroke="#609ce9"/><polygon points="303.3,63.4 311.0,58.5 311.1,60.6 303.4,65.2" fill="#64a0ed" stroke="#64a0ed"/><polygon points="303.4,65.2 311.1,60.6 311.3,62.7 303.5,67.0" fill="#67a3f0" stroke="#67a3f0"/><polygon points="303.5,67.0 311.3,62.7 311.4,64.9 303.7,68.9" fill="#69a5f1" stroke="#69a5f1"/><polygon points="303.7,68.9 311.4,64.9 311.6,67.2 303.8,70.9" fill="#6aa6f1" stroke="#6aa6f1"/><polygon points="303.8,70.9 311.6,67.2 311.7,69.7 303.9,73.0" fill="#6ba7f1" stroke="#6ba7f1"/><polygon points="303.9,73.0 311.7,69.7 311.9,72.2 304.1,75.1" fill="#6da8f2" stroke="#6da8f2"/><polygon points="304.1,75.1 311.9,72.2 312.1,75.0 304.3,77.6" fill="#6eaaf2" stroke="#6eaaf2"/><polygon points="304.3,77.6 312.1,75.0 312.3,78.5 304.5,80.7" fill="#70acf2" stroke="#70acf2"/><polygon points="304.5,80.7 312.3,78.5 312.7,83.5 304.8,85.3" fill="#73aef2" stroke="#73aef2"/><polygon points="304.8,85.3 312.7,83.5 313.0,89.4 305.1,90.9" fill="#76b1f3" stroke="#76b1f3"/><polygon points="305.1,90.9 313.0,89.4 313.2,98.6 305.3,99.9" fill="#7bb5f4" stroke="#7bb5f4"/><polygon points="305.3,99.9 313.2,98.6 313.3,112.9 305.4,114.2" fill="#81b9f4" stroke="#81b9f4"/><polygon points="305.4,114.2 313.3,112.9 313.4,136.9 305.4,138.4" fill="#87bef5" stroke="#87bef5"/><polygon points="305.4,138.4 313.4,136.9 313.5,167.3 305.6,169.3" fill="#90c3f6" stroke="#90c3f6"/><polygon points="305.6,169.3 313.5,167.3 313.5,191.5 305.6,193.9" fill="#90c3f6" stroke="#90c3f6"/><polygon points="305.6,193.9 313.5,191.5 313.0,218.2 305.1,220.9" fill="#90c3f6" stroke="#90c3f6"/><polygon points="305.1,220.9 313.0,218.2 313.1,246.5 305.2,249.4" fill="#8fc3f6" stroke="#8fc3f6"/><polygon points="305.2,249.4 313.1,246.5 314.0,276.8 306.0,280.0" fill="#90c3f6" stroke="#90c3f6"/><polygon points="310.8,56.0 318.5,51.1 318.7,53.9 311.0,58.5" fill="#64a1f1" stroke="#64a1f1"/><polygon points="311.0,58.5 318.7,53.9 318.8,56.2 311.1,60.6" fill="#66a2f1" stroke="#66a2f1"/><polygon points="311.1,60.6 318.8,56.2 319.0,58.6 311.3,62.7" fill="#67a4f2" stroke="#67a4f2"/><polygon points="311.3,62.7 319.0,58.6 319.2,61.1 311.4,64.9" fill="#69a5f2" stroke="#69a5f2"/><polygon points="311.4,64.9 319.2,61.1 319.3,63.7 311.6,67.2" fill="#6ba7f2" stroke="#6ba7f2"/><polygon points="311.6,67.2 319.3,63.7 319.5,66.5 311.7,69.7" fill="#6ca8f3" stroke="#6ca8f3"/><polygon points="311.7,69.7 319.5,66.5 319.7,69.4 311.9,72.2" fill="#6eaaf3" stroke="#6eaaf3"/><polygon points="311.9,72.2 319.7,69.4 319.9,72.6 312.1,75.0" fill="#70acf3" stroke="#70acf3"/><polygon points="312.1,75.0 319.9,72.6 320.2,76.5 312.3,78.5" fill="#73aef3" stroke="#73aef3"/><polygon points="312.3,78.5 320.2,76.5 320.6,81.8 312.7,83.5" fill="#76b1f4" stroke="#76b1f4"/><polygon points="312.7,83.5 320.6,81.8 320.9,88.0 313.0,89.4" fill="#7ab4f4" stroke="#7ab4f4"/><polygon points="313.0,89.4 320.9,88.0 321.1,97.4 313.2,98.6" fill="#80b9f5" stroke="#80b9f5"/><polygon points="313.2,98.6 321.1,97.4 321.2,111.7 313.3,112.9" fill="#86bef6" stroke="#86bef6"/><polygon points="313.3,112.9 321.2,111.7 321.3,135.4 313.4,136.9" fill="#8ec3f7" stroke="#8ec3f7"/><polygon points="313.4,136.9 321.3,135.4 321.4,165.3 313.5,167.3" fill="#98caf8" stroke="#98caf8"/><polygon points="313.5,167.3 321.4,165.3 321.5,189.2 313.5,191.5" fill="#98caf8" stroke="#98caf8"/><polygon points="313.5,191.5 321.5,189.2 320.8,215.5 313.0,218.2" fill="#97c9f7" stroke="#97c9f7"/><polygon points="313.0,218.2 320.8,215.5 321.0,243.5 313.1,246.5" fill="#97c9f7" stroke="#97c9f7"/><polygon points="313.1,246.5 321.0,243.5 322.0,273.6 314.0,276.8" fill="#98caf8" stroke="#98caf8"/><polygon points="318.5,51.1 326.1,46.4 326.4,49.5 318.7,53.9" fill="#639ff1" stroke="#639ff1"/><polygon points="318.7,53.9 326.4,49.5 326.5,52.1 318.8,56.2" fill="#65a1f2" stroke="#65a1f2"/><polygon points="318.8,56.2 326.5,52.1 326.7,54.7 319.0,58.6" fill="#67a3f2" stroke="#67a3f2"/><polygon points="319.0,58.6 326.7,54.7 326.9,57.5 319.2,61.1" fill="#69a5f3" stroke="#69a5f3"/><polygon points="319.2,61.1 326.9,57.5 327.1,60.4 319.3,63.7" fill="#6ba7f3" stroke="#6ba7f3"/><polygon points="319.3,63.7 327.1,60.4 327.3,63.5 319.5,66.5" fill="#6da9f4" stroke="#6da9f4"/><polygon points="319.5,66.5 327.3,63.5 327.5,66.7 319.7,69.4" fill="#6fabf4" stroke="#6fabf4"/><polygon points="319.7,69.4 327.5,66.7 327.7,70.2 319.9,72.6" fill="#72adf4" stroke="#72adf4"/><polygon points="319.9,72.6 327.7,70.2 328.0,74.5 320.2,76.5" fill="#75b0f5" stroke="#75b0f5"/><polygon points="320.2,76.5 328.0,74.5 328.4,80.2 320.6,81.8" fill="#79b3f5" stroke="#79b3f5"/><polygon points="320.6,81.8 328.4,80.2 328.8,86.7 320.9,88.0" fill="#7db7f6" stroke="#7db7f6"/><polygon points="320.9,88.0 328.8,86.7 329.0,96.2 321.1,97.4" fill="#84bdf7" stroke="#84bdf7"/><polygon points="321.1,97.4 329.0,96.2 329.0,110.6 321.2,111.7" fill="#8cc3f8" stroke="#8cc3f8"/><polygon points="321.2,111.7 329.0,110.6 329.2,134.0 321.3,135.4" fill="#94c8f8" stroke="#94c8f8"/><polygon points="321.3,135.4 329.2,134.0 329.3,163.3 321.4,165.3" fill="#9fd0f9" stroke="#9fd0f9"/><polygon points="321.4,165.3 329.3,163.3 329.4,186.8 321.5,189.2" fill="#a0d0f9" stroke="#a0d0f9"/><polygon points="321.5,189.2 329.4,186.8 328.7,212.8 320.8,215.5" fill="#9fd0f9" stroke="#9fd0f9"/><polygon points="320.8,215.5 328.7,212.8 328.8,240.6 321.0,243.5" fill="#9fcff9" stroke="#9fcff9"/><polygon points="321.0,243.5 328.8,240.6 330.0,270.3 322.0,273.6" fill="#9fd0f9" stroke="#9fd0f9"/><polygon points="326.1,46.4 333.8,42.1 334.0,45.5 326.4,49.5" fill="#629df1" stroke="#629df1"/><polygon points="326.4,49.5 334.0,45.5 334.2,48.3 326.5,52.1" fill="#649ff2" stroke="#649ff2"/><polygon points="326.5,52.1 334.2,48.3 334.4,51.2 326.7,54.7" fill="#66a1f2" stroke="#66a1f2"/><polygon points="326.7,54.7 334.4,51.2 334.6,54.3 326.9,57.5" fill="#68a3f3" stroke="#68a3f3"/><polygon points="326.9,57.5 334.6,54.3 334.8,57.4 327.1,60.4" fill="#6aa6f3" stroke="#6aa6f3"/><polygon points="327.1,60.4 334.8,57.4 335.1,60.8 327.3,63.5" fill="#6ca8f4" stroke="#6ca8f4"/><polygon points="327.3,63.5 335.1,60.8 335.3,64.3 327.5,66.7" fill="#6fabf4" stroke="#6fabf4"/><polygon points="327.5,66.7 335.3,64.3 335.6,68.2 327.7,70.2" fill="#72adf5" stroke="#72adf5"/><polygon points="327.7,70.2 335.6,68.2 335.9,72.8 328.0,74.5" fill="#75b0f5" stroke="#75b0f5"/><polygon points="328.0,74.5 335.9,72.8 336.3,78.8 328.4,80.2" fill="#79b4f6" stroke="#79b4f6"/><polygon points="328.4,80.2 336.3,78.8 336.7,85.5 328.8,86.7" fill="#7eb8f6" stroke="#7eb8f6"/><polygon points="328.8,86.7 336.7,85.5 336.9,95.2 329.0,96.2" fill="#85bef7" stroke="#85bef7"/><polygon points="329.0,96.2 336.9,95.2 336.9,109.6 329.0,110.6" fill="#8dc5f8" stroke="#8dc5f8"/><polygon points="329.0,110.6 336.9,109.6 337.1,132.6 329.2,134.0" fill="#96caf9" stroke="#96caf9"/><polygon points="329.2,134.0 337.1,132.6 337.3,161.4 329.3,163.3" fill="#a1d1fa" stroke="#a1d1fa"/><polygon points="329.3,163.3 337.3,161.4 337.3,184.4 329.4,186.8" fill="#a2d2fa" stroke="#a2d2fa"/><polygon points="329.4,186.8 337.3,184.4 336.5,210.1 328.7,212.8" fill="#a2d2fa" stroke="#a2d2fa"/><polygon points="328.7,212.8 336.5,210.1 336.7,237.5 328.8,240.6" fill="#a2d2fa" stroke="#a2d2fa"/><polygon points="328.8,240.6 336.7,237.5 338.0,267.0 330.0,270.3" fill="#a2d2fa" stroke="#a2d2fa"/><polygon points="333.8,42.1 341.4,38.5 341.7,42.2 334.0,45.5" fill="#5f9af0" stroke="#5f9af0"/><polygon points="334.0,45.5 341.7,42.2 341.9,45.2 334.2,48.3" fill="#619cf1" stroke="#619cf1"/><polygon points="334.2,48.3 341.9,45.2 342.1,48.3 334.4,51.2" fill="#639ff2" stroke="#639ff2"/><polygon points="334.4,51.2 342.1,48.3 342.4,51.6 334.6,54.3" fill="#66a1f2" stroke="#66a1f2"/><polygon points="334.6,54.3 342.4,51.6 342.6,54.9 334.8,57.4" fill="#68a4f3" stroke="#68a4f3"/><polygon points="334.8,57.4 342.6,54.9 342.8,58.6 335.1,60.8" fill="#6aa6f4" stroke="#6aa6f4"/><polygon points="335.1,60.8 342.8,58.6 343.1,62.3 335.3,64.3" fill="#6da9f4" stroke="#6da9f4"/><polygon points="335.3,64.3 343.1,62.3 343.4,66.5 335.6,68.2" fill="#70acf5" stroke="#70acf5"/><polygon points="335.6,68.2 343.4,66.5 343.7,71.4 335.9,72.8" fill="#74aff5" stroke="#74aff5"/><polygon points="335.9,72.8 343.7,71.4 344.2,77.7 336.3,78.8" fill="#78b3f6" stroke="#78b3f6"/><polygon points="336.3,78.8 344.2,77.7 344.5,84.6 336.7,85.5" fill="#7db7f6" stroke="#7db7f6"/><polygon points="336.7,85.5 344.5,84.6 344.7,94.4 336.9,95.2" fill="#84bdf7" stroke="#84bdf7"/><polygon points="336.9,95.2 344.7,94.4 344.8,108.7 336.9,109.6" fill="#8dc5f8" stroke="#8dc5f8"/><polygon points="336.9,109.6 344.8,108.7 345.0,131.4 337.1,132.6" fill="#95caf9" stroke="#95caf9"/><polygon points="337.1,132.6 345.0,131.4 345.2,159.5 337.3,161.4" fill="#a0d1fa" stroke="#a0d1fa"/><polygon points="337.3,161.4 345.2,159.5 345.3,182.1 337.3,184.4" fill="#a2d2fa" stroke="#a2d2fa"/><polygon points="337.3,184.4 345.3,182.1 344.4,207.4 336.5,210.1" fill="#a2d2fa" stroke="#a2d2fa"/><polygon points="336.5,210.1 344.4,207.4 344.6,234.5 336.7,237.5" fill="#a2d2fa" stroke="#a2d2fa"/><polygon points="336.7,237.5 344.6,234.5 346.0,263.7 338.0,267.0" fill="#a2d2fa" stroke="#a2d2fa"/><polygon points="341.4,38.5 349.1,35.3 349.4,39.2 341.7,42.2" fill="#5c97f0" stroke="#5c97f0"/><polygon points="341.7,42.2 349.4,39.2 349.6,42.3 341.9,45.2" fill="#5f9af0" stroke="#5f9af0"/><polygon points="341.9,45.2 349.6,42.3 349.9,45.6 342.1,48.3" fill="#619cf1" stroke="#619cf1"/><polygon points="342.1,48.3 349.9,45.6 350.1,49.1 342.4,51.6" fill="#649ff2" stroke="#649ff2"/><polygon points="342.4,51.6 350.1,49.1 350.4,52.7 342.6,54.9" fill="#66a2f2" stroke="#66a2f2"/><polygon points="342.6,54.9 350.4,52.7 350.6,56.6 342.8,58.6" fill="#69a5f3" stroke="#69a5f3"/><polygon points="342.8,58.6 350.6,56.6 350.9,60.5 343.1,62.3" fill="#6ca8f4" stroke="#6ca8f4"/><polygon points="343.1,62.3 350.9,60.5 351.2,64.9 343.4,66.5" fill="#6faaf4" stroke="#6faaf4"/><polygon points="343.4,66.5 351.2,64.9 351.6,70.1 343.7,71.4" fill="#73aef5" stroke="#73aef5"/><polygon points="343.7,71.4 351.6,70.1 352.1,76.8 344.2,77.7" fill="#77b2f5" stroke="#77b2f5"/><polygon points="344.2,77.7 352.1,76.8 352.4,83.8 344.5,84.6" fill="#7db7f6" stroke="#7db7f6"/><polygon points="344.5,84.6 352.4,83.8 352.6,93.7 344.7,94.4" fill="#83bcf7" stroke="#83bcf7"/><polygon points="344.7,94.4 352.6,93.7 352.7,108.0 344.8,108.7" fill="#8dc4f8" stroke="#8dc4f8"/><polygon points="344.8,108.7 352.7,108.0 352.9,130.3 345.0,131.4" fill="#95c9f9" stroke="#95c9f9"/><polygon points="345.0,131.4 352.9,130.3 353.1,157.8 345.2,159.5" fill="#a0d1fa" stroke="#a0d1fa"/><polygon points="345.2,159.5 353.1,157.8 353.2,179.9 345.3,182.1" fill="#a2d2fa" stroke="#a2d2fa"/><polygon points="345.3,182.1 353.2,179.9 352.2,204.7 344.4,207.4" fill="#a2d2fa" stroke="#a2d2fa"/><polygon points="344.4,207.4 352.2,204.7 352.5,231.5 344.6,234.5" fill="#a2d2fa" stroke="#a2d2fa"/><polygon points="344.6,234.5 352.5,231.5 354.0,260.3 346.0,263.7" fill="#a2d2fa" stroke="#a2d2fa"/><polygon points="349.1,35.3 356.8,32.0 357.1,36.2 349.4,39.2" fill="#5a95ef" stroke="#5a95ef"/><polygon points="349.4,39.2 357.1,36.2 357.3,39.5 349.6,42.3" fill="#5d97f0" stroke="#5d97f0"/><polygon points="349.6,42.3 357.3,39.5 357.6,43.0 349.9,45.6" fill="#5f9af1" stroke="#5f9af1"/><polygon points="349.9,45.6 357.6,43.0 357.8,46.6 350.1,49.1" fill="#629df1" stroke="#629df1"/><polygon points="350.1,49.1 357.8,46.6 358.1,50.4 350.4,52.7" fill="#64a0f2" stroke="#64a0f2"/><polygon points="350.4,52.7 358.1,50.4 358.4,54.5 350.6,56.6" fill="#67a3f3" stroke="#67a3f3"/><polygon points="350.6,56.6 358.4,54.5 358.7,58.7 350.9,60.5" fill="#6aa6f4" stroke="#6aa6f4"/><polygon points="350.9,60.5 358.7,58.7 359.0,63.4 351.2,64.9" fill="#6ea9f4" stroke="#6ea9f4"/><polygon points="351.2,64.9 359.0,63.4 359.5,68.9 351.6,70.1" fill="#71adf5" stroke="#71adf5"/><polygon points="351.6,70.1 359.5,68.9 359.9,75.8 352.1,76.8" fill="#76b1f5" stroke="#76b1f5"/><polygon points="352.1,76.8 359.9,75.8 360.3,83.0 352.4,83.8" fill="#7cb6f6" stroke="#7cb6f6"/><polygon points="352.4,83.8 360.3,83.0 360.5,92.9 352.6,93.7" fill="#83bcf7" stroke="#83bcf7"/><polygon points="352.6,93.7 360.5,92.9 360.6,107.2 352.7,108.0" fill="#8cc4f8" stroke="#8cc4f8"/><polygon points="352.7,108.0 360.6,107.2 360.8,129.1 352.9,130.3" fill="#94c9f9" stroke="#94c9f9"/><polygon points="352.9,130.3 360.8,129.1 361.0,156.0 353.1,157.8" fill="#9fd0fa" stroke="#9fd0fa"/><polygon points="353.1,157.8 361.0,156.0 361.1,177.6 353.2,179.9" fill="#a2d2fa" stroke="#a2d2fa"/><polygon points="353.2,179.9 361.1,177.6 360.1,202.0 352.2,204.7" fill="#a2d2fa" stroke="#a2d2fa"/><polygon points="352.2,204.7 360.1,202.0 360.3,228.4 352.5,231.5" fill="#a2d2fa" stroke="#a2d2fa"/><polygon points="352.5,231.5 360.3,228.4 362.0,256.9 354.0,260.3" fill="#a2d2fa" stroke="#a2d2fa"/><polygon points="356.8,32.0 364.4,28.7 364.8,33.1 357.1,36.2" fill="#5892ee" stroke="#5892ee"/><polygon points="357.1,36.2 364.8,33.1 365.0,36.6 357.3,39.5" fill="#5b95ef" stroke="#5b95ef"/><polygon points="357.3,39.5 365.0,36.6 365.3,40.2 357.6,43.0" fill="#5d98f0" stroke="#5d98f0"/><polygon points="357.6,43.0 365.3,40.2 365.6,44.1 357.8,46.6" fill="#609bf1" stroke="#609bf1"/><polygon points="357.8,46.6 365.6,44.1 365.9,48.1 358.1,50.4" fill="#639ef1" stroke="#639ef1"/><polygon points="358.1,50.4 365.9,48.1 366.2,52.4 358.4,54.5" fill="#66a1f2" stroke="#66a1f2"/><polygon points="358.4,54.5 366.2,52.4 366.5,56.8 358.7,58.7" fill="#69a4f3" stroke="#69a4f3"/><polygon points="358.7,58.7 366.5,56.8 366.9,61.8 359.0,63.4" fill="#6ca8f4" stroke="#6ca8f4"/><polygon points="359.0,63.4 366.9,61.8 367.3,67.5 359.5,68.9" fill="#70acf5" stroke="#70acf5"/><polygon points="359.5,68.9 367.3,67.5 367.8,74.8 359.9,75.8" fill="#75b0f5" stroke="#75b0f5"/><polygon points="359.9,75.8 367.8,74.8 368.2,82.2 360.3,83.0" fill="#7bb5f6" stroke="#7bb5f6"/><polygon points="360.3,83.0 368.2,82.2 368.4,92.1 360.5,92.9" fill="#82bbf7" stroke="#82bbf7"/><polygon points="360.5,92.9 368.4,92.1 368.5,106.3 360.6,107.2" fill="#8cc4f8" stroke="#8cc4f8"/><polygon points="360.6,107.2 368.5,106.3 368.7,127.8 360.8,129.1" fill="#94c9f9" stroke="#94c9f9"/><polygon points="360.8,129.1 368.7,127.8 369.0,154.1 361.0,156.0" fill="#9ed0fa" stroke="#9ed0fa"/><polygon points="361.0,156.0 369.0,154.1 369.1,175.2 361.1,177.6" fill="#a2d2fa" stroke="#a2d2fa"/><polygon points="361.1,177.6 369.1,175.2 367.9,199.2 360.1,202.0" fill="#a2d2fa" stroke="#a2d2fa"/><polygon points="360.1,202.0 367.9,199.2 368.2,225.3 360.3,228.4" fill="#a2d2fa" stroke="#a2d2fa"/><polygon points="360.3,228.4 368.2,225.3 370.0,253.4 362.0,256.9" fill="#a2d2fa" stroke="#a2d2fa"/><polygon points="364.4,28.7 372.1,25.5 372.4,30.1 364.8,33.1" fill="#5690ee" stroke="#5690ee"/><polygon points="364.8,33.1 372.4,30.1 372.7,33.8 365.0,36.6" fill="#5893ef" stroke="#5893ef"/><polygon points="365.0,36.6 372.7,33.8 373.0,37.6 365.3,40.2" fill="#5b96ef" stroke="#5b96ef"/><polygon points="365.3,40.2 373.0,37.6 373.3,41.6 365.6,44.1" fill="#5e99f0" stroke="#5e99f0"/><polygon points="365.6,44.1 373.3,41.6 373.6,45.8 365.9,48.1" fill="#619cf1" stroke="#619cf1"/><polygon points="365.9,48.1 373.6,45.8 374.0,50.4 366.2,52.4" fill="#649ff2" stroke="#649ff2"/><polygon points="366.2,52.4 374.0,50.4 374.3,55.0 366.5,56.8" fill="#67a3f3" stroke="#67a3f3"/><polygon points="366.5,56.8 374.3,55.0 374.7,60.2 366.9,61.8" fill="#6ba7f4" stroke="#6ba7f4"/><polygon points="366.9,61.8 374.7,60.2 375.2,66.3 367.3,67.5" fill="#6fabf4" stroke="#6fabf4"/><polygon points="367.3,67.5 375.2,66.3 375.7,73.8 367.8,74.8" fill="#74aff5" stroke="#74aff5"/><polygon points="367.8,74.8 375.7,73.8 376.1,81.3 368.2,82.2" fill="#7ab5f6" stroke="#7ab5f6"/><polygon points="368.2,82.2 376.1,81.3 376.3,91.3 368.4,92.1" fill="#81bbf7" stroke="#81bbf7"/><polygon points="368.4,92.1 376.3,91.3 376.4,105.5 368.5,106.3" fill="#8bc3f8" stroke="#8bc3f8"/><polygon points="368.5,106.3 376.4,105.5 376.6,126.6 368.7,127.8" fill="#93c9f9" stroke="#93c9f9"/><polygon points="368.7,127.8 376.6,126.6 376.9,152.2 369.0,154.1" fill="#a4cffa" stroke="#a4cffa"/><polygon points="369.0,154.1 376.9,152.2 377.0,172.9 369.1,175.2" fill="#a2d2fa" stroke="#a2d2fa"/><polygon points="369.1,175.2 377.0,172.9 375.8,196.4 367.9,199.2" fill="#a2d2fa" stroke="#a2d2fa"/><polygon points="367.9,199.2 375.8,196.4 376.1,222.1 368.2,225.3" fill="#a2d2fa" stroke="#a2d2fa"/><polygon points="368.2,225.3 376.1,222.1 378.0,249.9 370.0,253.4" fill="#a2d2fa" stroke="#a2d2fa"/><polygon points="372.1,25.5 379.7,22.6 380.1,27.4 372.4,30.1" fill="#558fee" stroke="#558fee"/><polygon points="372.4,30.1 380.1,27.4 380.4,31.2 372.7,33.8" fill="#5690ee" stroke="#5690ee"/><polygon points="372.7,33.8 380.4,31.2 380.7,35.2 373.0,37.6" fill="#5994ef" stroke="#5994ef"/><polygon points="373.0,37.6 380.7,35.2 381.1,39.4 373.3,41.6" fill="#5c97f0" stroke="#5c97f0"/><polygon points="373.3,41.6 381.1,39.4 381.4,43.8 373.6,45.8" fill="#5f9af1" stroke="#5f9af1"/><polygon points="373.6,45.8 381.4,43.8 381.7,48.5 374.0,50.4" fill="#639ef1" stroke="#639ef1"/><polygon points="374.0,50.4 381.7,48.5 382.1,53.3 374.3,55.0" fill="#66a1f2" stroke="#66a1f2"/><polygon points="374.3,55.0 382.1,53.3 382.5,58.8 374.7,60.2" fill="#6aa5f3" stroke="#6aa5f3"/><polygon points="374.7,60.2 382.5,58.8 383.0,65.1 375.2,66.3" fill="#6eaaf4" stroke="#6eaaf4"/><polygon points="375.2,66.3 383.0,65.1 383.6,72.9 375.7,73.8" fill="#74aff5" stroke="#74aff5"/><polygon points="375.7,73.8 383.6,72.9 384.0,80.6 376.1,81.3" fill="#7ab4f6" stroke="#7ab4f6"/><polygon points="376.1,81.3 384.0,80.6 384.2,90.6 376.3,91.3" fill="#81baf7" stroke="#81baf7"/><polygon points="376.3,91.3 384.2,90.6 384.3,104.7 376.4,105.5" fill="#8ac3f8" stroke="#8ac3f8"/><polygon points="376.4,105.5 384.3,104.7 384.5,125.4 376.6,126.6" fill="#93c8f9" stroke="#93c8f9"/><polygon points="376.6,126.6 384.5,125.4 384.8,150.4 376.9,152.2" fill="#b0cefa" stroke="#b0cefa"/><polygon points="376.9,152.2 384.8,150.4 384.9,170.5 377.0,172.9" fill="#a2d2fa" stroke="#a2d2fa"/><polygon points="377.0,172.9 384.9,170.5 383.6,193.5 375.8,196.4" fill="#a2d2fa" stroke="#a2d2fa"/><polygon points="375.8,196.4 383.6,193.5 383.9,218.9 376.1,222.1" fill="#a2d2fa" stroke="#a2d2fa"/><polygon points="376.1,222.1 383.9,218.9 386.0,246.3 378.0,249.9" fill="#a2d2fa" stroke="#a2d2fa"/><polygon points="379.7,22.6 387.4,19.9 387.8,24.9 380.1,27.4" fill="#538ded" stroke="#538ded"/><polygon points="380.1,27.4 387.8,24.9 388.1,28.9 380.4,31.2" fill="#558fee" stroke="#558fee"/><polygon points="380.4,31.2 388.1,28.9 388.5,33.0 380.7,35.2" fill="#5792ee" stroke="#5792ee"/><polygon points="380.7,35.2 388.5,33.0 388.8,37.3 381.1,39.4" fill="#5b95ef" stroke="#5b95ef"/><polygon points="381.1,39.4 388.8,37.3 389.1,41.9 381.4,43.8" fill="#5e98f0" stroke="#5e98f0"/><polygon points="381.4,43.8 389.1,41.9 389.5,46.8 381.7,48.5" fill="#619cf1" stroke="#619cf1"/><polygon points="381.7,48.5 389.5,46.8 389.9,51.8 382.1,53.3" fill="#65a0f2" stroke="#65a0f2"/><polygon points="382.1,53.3 389.9,51.8 390.3,57.5 382.5,58.8" fill="#69a4f3" stroke="#69a4f3"/><polygon points="382.5,58.8 390.3,57.5 390.9,64.0 383.0,65.1" fill="#6da9f4" stroke="#6da9f4"/><polygon points="383.0,65.1 390.9,64.0 391.4,72.1 383.6,72.9" fill="#73aef5" stroke="#73aef5"/><polygon points="383.6,72.9 391.4,72.1 391.8,79.9 384.0,80.6" fill="#79b3f6" stroke="#79b3f6"/><polygon points="384.0,80.6 391.8,79.9 392.0,90.0 384.2,90.6" fill="#80baf7" stroke="#80baf7"/><polygon points="384.2,90.6 392.0,90.0 392.2,103.9 384.3,104.7" fill="#8ac2f8" stroke="#8ac2f8"/><polygon points="384.3,104.7 392.2,103.9 392.4,124.2 384.5,125.4" fill="#92c8f9" stroke="#92c8f9"/><polygon points="384.5,125.4 392.4,124.2 392.8,148.5 384.8,150.4" fill="#bacefa" stroke="#bacefa"/><polygon points="384.8,150.4 392.8,148.5 392.9,168.1 384.9,170.5" fill="#add1fa" stroke="#add1fa"/><polygon points="384.9,170.5 392.9,168.1 391.5,190.7 383.6,193.5" fill="#a2d2fa" stroke="#a2d2fa"/><polygon points="383.6,193.5 391.5,190.7 391.8,215.7 383.9,218.9" fill="#a2d2fa" stroke="#a2d2fa"/><polygon points="383.9,218.9 391.8,215.7 394.0,242.7 386.0,246.3" fill="#a2d2fa" stroke="#a2d2fa"/><polygon points="387.4,19.9 395.1,17.4 395.5,22.6 387.8,24.9" fill="#528ced" stroke="#528ced"/><polygon points="387.8,24.9 395.5,22.6 395.8,26.6 388.1,28.9" fill="#548eed" stroke="#548eed"/><polygon points="388.1,28.9 395.8,26.6 396.2,30.9 388.5,33.0" fill="#5690ee" stroke="#5690ee"/><polygon points="388.5,33.0 396.2,30.9 396.5,35.4 388.8,37.3" fill="#5993ef" stroke="#5993ef"/><polygon points="388.8,37.3 396.5,35.4 396.9,40.1 389.1,41.9" fill="#5c97f0" stroke="#5c97f0"/><polygon points="389.1,41.9 396.9,40.1 397.3,45.2 389.5,46.8" fill="#609bf1" stroke="#609bf1"/><polygon points="389.5,46.8 397.3,45.2 397.7,50.3 389.9,51.8" fill="#649ff2" stroke="#649ff2"/><polygon points="389.9,51.8 397.7,50.3 398.2,56.2 390.3,57.5" fill="#68a3f3" stroke="#68a3f3"/><polygon points="390.3,57.5 398.2,56.2 398.7,63.0 390.9,64.0" fill="#6ca8f4" stroke="#6ca8f4"/><polygon points="390.9,64.0 398.7,63.0 399.3,71.3 391.4,72.1" fill="#72adf5" stroke="#72adf5"/><polygon points="391.4,72.1 399.3,71.3 399.7,79.3 391.8,79.9" fill="#79b3f6" stroke="#79b3f6"/><polygon points="391.8,79.9 399.7,79.3 399.9,89.4 392.0,90.0" fill="#80b9f6" stroke="#80b9f6"/><polygon points="392.0,90.0 399.9,89.4 400.1,103.2 392.2,103.9" fill="#89c2f8" stroke="#89c2f8"/><polygon points="392.2,103.9 400.1,103.2 400.3,123.0 392.4,124.2" fill="#92c8f9" stroke="#92c8f9"/><polygon points="392.4,124.2 400.3,123.0 400.7,146.7 392.8,148.5" fill="#c1cdfb" stroke="#c1cdfb"/><polygon points="392.8,148.5 400.7,146.7 400.8,165.7 392.9,168.1" fill="#b7d0fa" stroke="#b7d0fa"/><polygon points="392.9,168.1 400.8,165.7 399.3,187.8 391.5,190.7" fill="#a2d2fa" stroke="#a2d2fa"/><polygon points="391.5,190.7 399.3,187.8 399.7,212.4 391.8,215.7" fill="#a2d2fa" stroke="#a2d2fa"/><polygon points="391.8,215.7 399.7,212.4 402.0,239.0 394.0,242.7" fill="#a2d2fa" stroke="#a2d2fa"/><polygon points="395.1,17.4 402.7,15.0 403.2,20.3 395.5,22.6" fill="#528ced" stroke="#528ced"/><polygon points="395.5,22.6 403.2,20.3 403.5,24.5 395.8,26.6" fill="#538ded" stroke="#538ded"/><polygon points="395.8,26.6 403.5,24.5 403.9,28.8 396.2,30.9" fill="#558fee" stroke="#558fee"/><polygon points="396.2,30.9 403.9,28.8 404.3,33.5 396.5,35.4" fill="#5892ee" stroke="#5892ee"/><polygon points="396.5,35.4 404.3,33.5 404.7,38.3 396.9,40.1" fill="#5b95ef" stroke="#5b95ef"/><polygon points="396.9,40.1 404.7,38.3 405.1,43.6 397.3,45.2" fill="#5f99f0" stroke="#5f99f0"/><polygon points="397.3,45.2 405.1,43.6 405.5,48.9 397.7,50.3" fill="#629ef1" stroke="#629ef1"/><polygon points="397.7,50.3 405.5,48.9 406.0,55.0 398.2,56.2" fill="#67a2f3" stroke="#67a2f3"/><polygon points="398.2,56.2 406.0,55.0 406.6,62.1 398.7,63.0" fill="#6ba7f4" stroke="#6ba7f4"/><polygon points="398.7,63.0 406.6,62.1 407.2,70.6 399.3,71.3" fill="#71adf5" stroke="#71adf5"/><polygon points="399.3,71.3 407.2,70.6 407.6,78.6 399.7,79.3" fill="#78b2f5" stroke="#78b2f5"/><polygon points="399.7,79.3 407.6,78.6 407.8,88.7 399.9,89.4" fill="#7fb9f6" stroke="#7fb9f6"/><polygon points="399.9,89.4 407.8,88.7 408.0,102.5 400.1,103.2" fill="#89c1f8" stroke="#89c1f8"/><polygon points="400.1,103.2 408.0,102.5 408.2,121.9 400.3,123.0" fill="#92c8f9" stroke="#92c8f9"/><polygon points="400.3,123.0 408.2,121.9 408.6,144.8 400.7,146.7" fill="#c6cdfb" stroke="#c6cdfb"/><polygon points="400.7,146.7 408.6,144.8 408.7,163.3 400.8,165.7" fill="#becffb" stroke="#becffb"/><polygon points="400.8,165.7 408.7,163.3 407.2,184.9 399.3,187.8" fill="#a2d2fa" stroke="#a2d2fa"/><polygon points="399.3,187.8 407.2,184.9 407.6,209.1 399.7,212.4" fill="#a2d2fa" stroke="#a2d2fa"/><polygon points="399.7,212.4 407.6,209.1 410.0,235.3 402.0,239.0" fill="#a2d2fa" stroke="#a2d2fa"/><polygon points="402.7,15.0 410.4,12.7 410.9,18.1 403.2,20.3" fill="#518bec" stroke="#518bec"/><polygon points="403.2,20.3 410.9,18.1 411.2,22.4 403.5,24.5" fill="#538ded" stroke="#538ded"/><polygon points="403.5,24.5 411.2,22.4 411.6,26.9 403.9,28.8" fill="#548eed" stroke="#548eed"/><polygon points="403.9,28.8 411.6,26.9 412.0,31.7 404.3,33.5" fill="#5690ee" stroke="#5690ee"/><polygon points="404.3,33.5 412.0,31.7 412.4,36.6 404.7,38.3" fill="#5a94ef" stroke="#5a94ef"/><polygon points="404.7,38.3 412.4,36.6 412.9,42.1 405.1,43.6" fill="#5d98f0" stroke="#5d98f0"/><polygon points="405.1,43.6 412.9,42.1 413.3,47.6 405.5,48.9" fill="#619cf1" stroke="#619cf1"/><polygon points="405.5,48.9 413.3,47.6 413.8,53.9 406.0,55.0" fill="#66a1f2" stroke="#66a1f2"/><polygon points="406.0,55.0 413.8,53.9 414.4,61.1 406.6,62.1" fill="#6ba6f4" stroke="#6ba6f4"/><polygon points="406.6,62.1 414.4,61.1 415.1,69.8 407.2,70.6" fill="#71acf5" stroke="#71acf5"/><polygon points="407.2,70.6 415.1,69.8 415.5,78.0 407.6,78.6" fill="#77b2f5" stroke="#77b2f5"/><polygon points="407.6,78.6 415.5,78.0 415.7,88.1 407.8,88.7" fill="#7fb8f6" stroke="#7fb8f6"/><polygon points="407.8,88.7 415.7,88.1 415.9,101.7 408.0,102.5" fill="#88c1f8" stroke="#88c1f8"/><polygon points="408.0,102.5 415.9,101.7 416.1,120.7 408.2,121.9" fill="#91c7f8" stroke="#91c7f8"/><polygon points="408.2,121.9 416.1,120.7 416.5,142.9 408.6,144.8" fill="#c5cdfb" stroke="#c5cdfb"/><polygon points="408.6,144.8 416.5,142.9 416.6,160.9 408.7,163.3" fill="#c2cffb" stroke="#c2cffb"/><polygon points="408.7,163.3 416.6,160.9 415.0,182.0 407.2,184.9" fill="#a2d2fa" stroke="#a2d2fa"/><polygon points="407.2,184.9 415.0,182.0 415.4,205.7 407.6,209.1" fill="#a2d2fa" stroke="#a2d2fa"/><polygon points="407.6,209.1 415.4,205.7 418.0,231.5 410.0,235.3" fill="#a2d2fa" stroke="#a2d2fa"/><polygon points="410.4,12.7 418.0,10.5 418.5,16.1 410.9,18.1" fill="#508aec" stroke="#508aec"/><polygon points="410.9,18.1 418.5,16.1 418.9,20.5 411.2,22.4" fill="#528ced" stroke="#528ced"/><polygon points="411.2,22.4 418.9,20.5 419.3,25.1 411.6,26.9" fill="#538ded" stroke="#538ded"/><polygon points="411.6,26.9 419.3,25.1 419.8,30.0 412.0,31.7" fill="#558fee" stroke="#558fee"/><polygon points="412.0,31.7 419.8,30.0 420.2,35.1 412.4,36.6" fill="#5893ef" stroke="#5893ef"/><polygon points="412.4,36.6 420.2,35.1 420.6,40.7 412.9,42.1" fill="#5c97f0" stroke="#5c97f0"/><polygon points="412.9,42.1 420.6,40.7 421.1,46.3 413.3,47.6" fill="#609bf1" stroke="#609bf1"/><polygon points="413.3,47.6 421.1,46.3 421.6,52.8 413.8,53.9" fill="#65a0f2" stroke="#65a0f2"/><polygon points="413.8,53.9 421.6,52.8 422.3,60.2 414.4,61.1" fill="#6aa6f3" stroke="#6aa6f3"/><polygon points="414.4,61.1 422.3,60.2 423.0,69.2 415.1,69.8" fill="#70acf5" stroke="#70acf5"/><polygon points="415.1,69.8 423.0,69.2 423.4,77.5 415.5,78.0" fill="#77b2f5" stroke="#77b2f5"/><polygon points="415.5,78.0 423.4,77.5 423.6,87.5 415.7,88.1" fill="#7eb8f6" stroke="#7eb8f6"/><polygon points="415.7,88.1 423.6,87.5 423.8,101.0 415.9,101.7" fill="#88c0f7" stroke="#88c0f7"/><polygon points="415.9,101.7 423.8,101.0 424.1,119.5 416.1,120.7" fill="#91c7f8" stroke="#91c7f8"/><polygon points="416.1,120.7 424.1,119.5 424.5,141.1 416.5,142.9" fill="#bfcdfa" stroke="#bfcdfa"/><polygon points="416.5,142.9 424.5,141.1 424.6,158.4 416.6,160.9" fill="#c2cffb" stroke="#c2cffb"/><polygon points="416.6,160.9 424.6,158.4 422.9,179.0 415.0,182.0" fill="#a2d2fa" stroke="#a2d2fa"/><polygon points="415.0,182.0 422.9,179.0 423.3,202.4 415.4,205.7" fill="#a2d2fa" stroke="#a2d2fa"/><polygon points="415.4,205.7 423.3,202.4 426.0,227.7 418.0,231.5" fill="#a2d2fa" stroke="#a2d2fa"/><polygon points="418.0,10.5 425.7,8.5 426.2,14.3 418.5,16.1" fill="#4f89ec" stroke="#4f89ec"/><polygon points="418.5,16.1 426.2,14.3 426.6,18.7 418.9,20.5" fill="#518bec" stroke="#518bec"/><polygon points="418.9,20.5 426.6,18.7 427.1,23.4 419.3,25.1" fill="#538ded" stroke="#538ded"/><polygon points="419.3,25.1 427.1,23.4 427.5,28.4 419.8,30.0" fill="#558fee" stroke="#558fee"/><polygon points="419.8,30.0 427.5,28.4 427.9,33.6 420.2,35.1" fill="#5791ee" stroke="#5791ee"/><polygon points="420.2,35.1 427.9,33.6 428.4,39.4 420.6,40.7" fill="#5b96ef" stroke="#5b96ef"/><polygon points="420.6,40.7 428.4,39.4 428.9,45.1 421.1,46.3" fill="#5f9af1" stroke="#5f9af1"/><polygon points="421.1,46.3 428.9,45.1 429.5,51.8 421.6,52.8" fill="#649ff2" stroke="#649ff2"/><polygon points="421.6,52.8 429.5,51.8 430.1,59.4 422.3,60.2" fill="#69a5f3" stroke="#69a5f3"/><polygon points="422.3,60.2 430.1,59.4 430.8,68.6 423.0,69.2" fill="#6fabf4" stroke="#6fabf4"/><polygon points="423.0,69.2 430.8,68.6 431.2,76.9 423.4,77.5" fill="#76b1f5" stroke="#76b1f5"/><polygon points="423.4,77.5 431.2,76.9 431.5,87.0 423.6,87.5" fill="#7eb8f6" stroke="#7eb8f6"/><polygon points="423.6,87.5 431.5,87.0 431.7,100.3 423.8,101.0" fill="#87c0f7" stroke="#87c0f7"/><polygon points="423.8,101.0 431.7,100.3 432.0,118.3 424.1,119.5" fill="#90c7f8" stroke="#90c7f8"/><polygon points="424.1,119.5 432.0,118.3 432.4,139.2 424.5,141.1" fill="#b7cdfa" stroke="#b7cdfa"/><polygon points="424.5,141.1 432.4,139.2 432.5,156.0 424.6,158.4" fill="#becffb" stroke="#becffb"/><polygon points="424.6,158.4 432.5,156.0 430.7,176.0 422.9,179.0" fill="#a2d2fa" stroke="#a2d2fa"/><polygon points="422.9,179.0 430.7,176.0 431.2,198.9 423.3,202.4" fill="#a2d2fa" stroke="#a2d2fa"/><polygon points="423.3,202.4 431.2,198.9 434.0,223.8 426.0,227.7" fill="#a2d2fa" stroke="#a2d2fa"/><polygon points="425.7,8.5 433.3,6.7 433.9,12.6 426.2,14.3" fill="#4e88eb" stroke="#4e88eb"/><polygon points="426.2,14.3 433.9,12.6 434.3,17.1 426.6,18.7" fill="#508aec" stroke="#508aec"/><polygon points="426.6,18.7 434.3,17.1 434.8,21.8 427.1,23.4" fill="#528ced" stroke="#528ced"/><polygon points="427.1,23.4 434.8,21.8 435.2,26.9 427.5,28.4" fill="#548eed" stroke="#548eed"/><polygon points="427.5,28.4 435.2,26.9 435.7,32.2 427.9,33.6" fill="#5690ee" stroke="#5690ee"/><polygon points="427.9,33.6 435.7,32.2 436.2,38.1 428.4,39.4" fill="#5a95ef" stroke="#5a95ef"/><polygon points="428.4,39.4 436.2,38.1 436.7,44.0 428.9,45.1" fill="#5f99f0" stroke="#5f99f0"/><polygon points="428.9,45.1 436.7,44.0 437.3,50.9 429.5,51.8" fill="#639ef2" stroke="#639ef2"/><polygon points="429.5,51.8 437.3,50.9 438.0,58.7 430.1,59.4" fill="#68a4f3" stroke="#68a4f3"/><polygon points="430.1,59.4 438.0,58.7 438.7,68.0 430.8,68.6" fill="#6fabf4" stroke="#6fabf4"/><polygon points="430.8,68.6 438.7,68.0 439.1,76.4 431.2,76.9" fill="#76b1f5" stroke="#76b1f5"/><polygon points="431.2,76.9 439.1,76.4 439.4,86.5 431.5,87.0" fill="#7db7f6" stroke="#7db7f6"/><polygon points="431.5,87.0 439.4,86.5 439.6,99.7 431.7,100.3" fill="#87bff7" stroke="#87bff7"/><polygon points="431.7,100.3 439.6,99.7 439.9,117.2 432.0,118.3" fill="#90c6f8" stroke="#90c6f8"/><polygon points="432.0,118.3 439.9,117.2 440.3,137.3 432.4,139.2" fill="#acccfa" stroke="#acccfa"/><polygon points="432.4,139.2 440.3,137.3 440.4,153.5 432.5,156.0" fill="#b7cffa" stroke="#b7cffa"/><polygon points="432.5,156.0 440.4,153.5 438.6,173.0 430.7,176.0" fill="#a2d2fa" stroke="#a2d2fa"/><polygon points="430.7,176.0 438.6,173.0 439.0,195.5 431.2,198.9" fill="#a2d2fa" stroke="#a2d2fa"/><polygon points="431.2,198.9 439.0,195.5 442.0,219.9 434.0,223.8" fill="#a2d2fa" stroke="#a2d2fa"/><polygon points="433.3,6.7 441.0,5.0 441.6,11.0 433.9,12.6" fill="#4e88eb" stroke="#4e88eb"/><polygon points="433.9,12.6 441.6,11.0 442.0,15.6 434.3,17.1" fill="#508aec" stroke="#508aec"/><polygon points="434.3,17.1 442.0,15.6 442.5,20.4 434.8,21.8" fill="#518bec" stroke="#518bec"/><polygon points="434.8,21.8 442.5,20.4 443.0,25.6 435.2,26.9" fill="#538ded" stroke="#538ded"/><polygon points="435.2,26.9 443.0,25.6 443.5,31.0 435.7,32.2" fill="#5690ee" stroke="#5690ee"/><polygon points="435.7,32.2 443.5,31.0 444.0,37.0 436.2,38.1" fill="#5994ef" stroke="#5994ef"/><polygon points="436.2,38.1 444.0,37.0 444.5,43.0 436.7,44.0" fill="#5e98f0" stroke="#5e98f0"/><polygon points="436.7,44.0 444.5,43.0 445.1,50.0 437.3,50.9" fill="#629ef1" stroke="#629ef1"/><polygon points="437.3,50.9 445.1,50.0 445.8,58.0 438.0,58.7" fill="#68a4f3" stroke="#68a4f3"/><polygon points="438.0,58.7 445.8,58.0 446.6,67.5 438.7,68.0" fill="#6eaaf4" stroke="#6eaaf4"/><polygon points="438.7,68.0 446.6,67.5 447.0,76.0 439.1,76.4" fill="#76b0f5" stroke="#76b0f5"/><polygon points="439.1,76.4 447.0,76.0 447.2,86.0 439.4,86.5" fill="#7db7f6" stroke="#7db7f6"/><polygon points="439.4,86.5 447.2,86.0 447.5,99.0 439.6,99.7" fill="#86bff7" stroke="#86bff7"/><polygon points="439.6,99.7 447.5,99.0 447.8,116.0 439.9,117.2" fill="#8fc6f8" stroke="#8fc6f8"/><polygon points="439.9,117.2 447.8,116.0 448.2,135.4 440.3,137.3" fill="#9bcbf9" stroke="#9bcbf9"/><polygon points="440.3,137.3 448.2,135.4 448.4,151.0 440.4,153.5" fill="#adcffa" stroke="#adcffa"/><polygon points="440.4,153.5 448.4,151.0 446.4,170.0 438.6,173.0" fill="#a2d2fa" stroke="#a2d2fa"/><polygon points="438.6,173.0 446.4,170.0 446.9,192.0 439.0,195.5" fill="#a2d2fa" stroke="#a2d2fa"/><polygon points="439.0,195.5 446.9,192.0 450.0,216.0 442.0,219.9" fill="#a2d2fa" stroke="#a2d2fa"/></g><g stroke="#0b1622" stroke-width="0.62" fill="none" stroke-linejoin="round" stroke-linecap="round"><polyline points="257.2,89.6 257.2,89.8 257.2,89.9 257.2,90.1 257.2,90.2 257.3,90.3 257.3,90.5 257.3,90.7 257.3,91.0 257.4,91.8 257.5,94.0 257.9,98.0 258.0,106.0 258.0,120.0 258.0,146.0 258.0,180.0 258.0,207.0 258.0,236.0 258.0,266.0 258.0,298.0"/><polyline points="280.2,78.7 280.3,79.7 280.3,80.5 280.4,81.3 280.5,82.2 280.5,83.1 280.6,84.1 280.7,85.1 280.8,86.3 280.9,88.1 281.2,91.3 281.5,96.0 281.7,104.3 281.7,118.3 281.7,143.2 281.8,175.5 281.8,201.2 281.6,229.0 281.6,258.1 282.0,289.2"/><polyline points="303.1,61.3 303.3,63.4 303.4,65.2 303.5,67.0 303.7,68.9 303.8,70.9 303.9,73.0 304.1,75.1 304.3,77.6 304.5,80.7 304.8,85.3 305.1,90.9 305.3,99.9 305.4,114.2 305.4,138.4 305.6,169.3 305.6,193.9 305.1,220.9 305.2,249.4 306.0,280.0"/><polyline points="326.1,46.4 326.4,49.5 326.5,52.1 326.7,54.7 326.9,57.5 327.1,60.4 327.3,63.5 327.5,66.7 327.7,70.2 328.0,74.5 328.4,80.2 328.8,86.7 329.0,96.2 329.0,110.6 329.2,134.0 329.3,163.3 329.4,186.8 328.7,212.8 328.8,240.6 330.0,270.3"/><polyline points="349.1,35.3 349.4,39.2 349.6,42.3 349.9,45.6 350.1,49.1 350.4,52.7 350.6,56.6 350.9,60.5 351.2,64.9 351.6,70.1 352.1,76.8 352.4,83.8 352.6,93.7 352.7,108.0 352.9,130.3 353.1,157.8 353.2,179.9 352.2,204.7 352.5,231.5 354.0,260.3"/><polyline points="372.1,25.5 372.4,30.1 372.7,33.8 373.0,37.6 373.3,41.6 373.6,45.8 374.0,50.4 374.3,55.0 374.7,60.2 375.2,66.3 375.7,73.8 376.1,81.3 376.3,91.3 376.4,105.5 376.6,126.6 376.9,152.2 377.0,172.9 375.8,196.4 376.1,222.1 378.0,249.9"/><polyline points="395.1,17.4 395.5,22.6 395.8,26.6 396.2,30.9 396.5,35.4 396.9,40.1 397.3,45.2 397.7,50.3 398.2,56.2 398.7,63.0 399.3,71.3 399.7,79.3 399.9,89.4 400.1,103.2 400.3,123.0 400.7,146.7 400.8,165.7 399.3,187.8 399.7,212.4 402.0,239.0"/><polyline points="418.0,10.5 418.5,16.1 418.9,20.5 419.3,25.1 419.8,30.0 420.2,35.1 420.6,40.7 421.1,46.3 421.6,52.8 422.3,60.2 423.0,69.2 423.4,77.5 423.6,87.5 423.8,101.0 424.1,119.5 424.5,141.1 424.6,158.4 422.9,179.0 423.3,202.4 426.0,227.7"/><polyline points="441.0,5.0 441.6,11.0 442.0,15.6 442.5,20.4 443.0,25.6 443.5,31.0 444.0,37.0 444.5,43.0 445.1,50.0 445.8,58.0 446.6,67.5 447.0,76.0 447.2,86.0 447.5,99.0 447.8,116.0 448.2,135.4 448.4,151.0 446.4,170.0 446.9,192.0 450.0,216.0"/><polyline points="257.2,89.6 264.9,87.0 272.5,83.4 280.2,78.7 287.8,72.5 295.5,66.8 303.1,61.3 310.8,56.0 318.5,51.1 326.1,46.4 333.8,42.1 341.4,38.5 349.1,35.3 356.8,32.0 364.4,28.7 372.1,25.5 379.7,22.6 387.4,19.9 395.1,17.4 402.7,15.0 410.4,12.7 418.0,10.5 425.7,8.5 433.3,6.7 441.0,5.0"/><polyline points="257.2,89.8 264.9,87.4 272.6,84.1 280.3,79.7 287.9,73.9 295.6,68.5 303.3,63.4 311.0,58.5 318.7,53.9 326.4,49.5 334.0,45.5 341.7,42.2 349.4,39.2 357.1,36.2 364.8,33.1 372.4,30.1 380.1,27.4 387.8,24.9 395.5,22.6 403.2,20.3 410.9,18.1 418.5,16.1 426.2,14.3 433.9,12.6 441.6,11.0"/><polyline points="257.2,89.9 264.9,87.7 272.6,84.6 280.3,80.5 288.0,75.1 295.7,70.0 303.4,65.2 311.1,60.6 318.8,56.2 326.5,52.1 334.2,48.3 341.9,45.2 349.6,42.3 357.3,39.5 365.0,36.6 372.7,33.8 380.4,31.2 388.1,28.9 395.8,26.6 403.5,24.5 411.2,22.4 418.9,20.5 426.6,18.7 434.3,17.1 442.0,15.6"/><polyline points="257.2,90.1 265.0,88.0 272.7,85.1 280.4,81.3 288.1,76.2 295.8,71.5 303.5,67.0 311.3,62.7 319.0,58.6 326.7,54.7 334.4,51.2 342.1,48.3 349.9,45.6 357.6,43.0 365.3,40.2 373.0,37.6 380.7,35.2 388.5,33.0 396.2,30.9 403.9,28.8 411.6,26.9 419.3,25.1 427.1,23.4 434.8,21.8 442.5,20.4"/><polyline points="257.2,90.2 265.0,88.4 272.7,85.7 280.5,82.2 288.2,77.5 295.9,73.1 303.7,68.9 311.4,64.9 319.2,61.1 326.9,57.5 334.6,54.3 342.4,51.6 350.1,49.1 357.8,46.6 365.6,44.1 373.3,41.6 381.1,39.4 388.8,37.3 396.5,35.4 404.3,33.5 412.0,31.7 419.8,30.0 427.5,28.4 435.2,26.9 443.0,25.6"/><polyline points="257.3,90.3 265.0,88.7 272.8,86.3 280.5,83.1 288.3,78.8 296.0,74.7 303.8,70.9 311.6,67.2 319.3,63.7 327.1,60.4 334.8,57.4 342.6,54.9 350.4,52.7 358.1,50.4 365.9,48.1 373.6,45.8 381.4,43.8 389.1,41.9 396.9,40.1 404.7,38.3 412.4,36.6 420.2,35.1 427.9,33.6 435.7,32.2 443.5,31.0"/><polyline points="257.3,90.5 265.0,89.1 272.8,87.0 280.6,84.1 288.4,80.1 296.2,76.5 303.9,73.0 311.7,69.7 319.5,66.5 327.3,63.5 335.1,60.8 342.8,58.6 350.6,56.6 358.4,54.5 366.2,52.4 374.0,50.4 381.7,48.5 389.5,46.8 397.3,45.2 405.1,43.6 412.9,42.1 420.6,40.7 428.4,39.4 436.2,38.1 444.0,37.0"/><polyline points="257.3,90.7 265.1,89.5 272.9,87.6 280.7,85.1 288.5,81.6 296.3,78.3 304.1,75.1 311.9,72.2 319.7,69.4 327.5,66.7 335.3,64.3 343.1,62.3 350.9,60.5 358.7,58.7 366.5,56.8 374.3,55.0 382.1,53.3 389.9,51.8 397.7,50.3 405.5,48.9 413.3,47.6 421.1,46.3 428.9,45.1 436.7,44.0 444.5,43.0"/><polyline points="257.3,91.0 265.1,90.1 273.0,88.5 280.8,86.3 288.6,83.2 296.4,80.3 304.3,77.6 312.1,75.0 319.9,72.6 327.7,70.2 335.6,68.2 343.4,66.5 351.2,64.9 359.0,63.4 366.9,61.8 374.7,60.2 382.5,58.8 390.3,57.5 398.2,56.2 406.0,55.0 413.8,53.9 421.6,52.8 429.5,51.8 437.3,50.9 445.1,50.0"/><polyline points="257.4,91.8 265.2,91.1 273.1,89.9 280.9,88.1 288.8,85.5 296.6,83.0 304.5,80.7 312.3,78.5 320.2,76.5 328.0,74.5 335.9,72.8 343.7,71.4 351.6,70.1 359.5,68.9 367.3,67.5 375.2,66.3 383.0,65.1 390.9,64.0 398.7,63.0 406.6,62.1 414.4,61.1 422.3,60.2 430.1,59.4 438.0,58.7 445.8,58.0"/><polyline points="257.5,94.0 265.4,93.6 273.3,92.7 281.2,91.3 289.1,89.1 296.9,87.1 304.8,85.3 312.7,83.5 320.6,81.8 328.4,80.2 336.3,78.8 344.2,77.7 352.1,76.8 359.9,75.8 367.8,74.8 375.7,73.8 383.6,72.9 391.4,72.1 399.3,71.3 407.2,70.6 415.1,69.8 423.0,69.2 430.8,68.6 438.7,68.0 446.6,67.5"/><polyline points="257.9,98.0 265.7,97.8 273.6,97.1 281.5,96.0 289.4,94.1 297.3,92.5 305.1,90.9 313.0,89.4 320.9,88.0 328.8,86.7 336.7,85.5 344.5,84.6 352.4,83.8 360.3,83.0 368.2,82.2 376.1,81.3 384.0,80.6 391.8,79.9 399.7,79.3 407.6,78.6 415.5,78.0 423.4,77.5 431.2,76.9 439.1,76.4 447.0,76.0"/><polyline points="258.0,106.0 265.9,105.9 273.8,105.3 281.7,104.3 289.5,102.7 297.4,101.3 305.3,99.9 313.2,98.6 321.1,97.4 329.0,96.2 336.9,95.2 344.7,94.4 352.6,93.7 360.5,92.9 368.4,92.1 376.3,91.3 384.2,90.6 392.0,90.0 399.9,89.4 407.8,88.7 415.7,88.1 423.6,87.5 431.5,87.0 439.4,86.5 447.2,86.0"/><polyline points="258.0,120.0 265.9,119.8 273.8,119.2 281.7,118.3 289.6,116.8 297.5,115.5 305.4,114.2 313.3,112.9 321.2,111.7 329.0,110.6 336.9,109.6 344.8,108.7 352.7,108.0 360.6,107.2 368.5,106.3 376.4,105.5 384.3,104.7 392.2,103.9 400.1,103.2 408.0,102.5 415.9,101.7 423.8,101.0 431.7,100.3 439.6,99.7 447.5,99.0"/><polyline points="258.0,146.0 265.9,145.4 273.8,144.5 281.7,143.2 289.6,141.6 297.5,140.0 305.4,138.4 313.4,136.9 321.3,135.4 329.2,134.0 337.1,132.6 345.0,131.4 352.9,130.3 360.8,129.1 368.7,127.8 376.6,126.6 384.5,125.4 392.4,124.2 400.3,123.0 408.2,121.9 416.1,120.7 424.1,119.5 432.0,118.3 439.9,117.2 447.8,116.0"/><polyline points="258.0,180.0 265.9,178.8 273.9,177.3 281.8,175.5 289.7,173.4 297.6,171.3 305.6,169.3 313.5,167.3 321.4,165.3 329.3,163.3 337.3,161.4 345.2,159.5 353.1,157.8 361.0,156.0 369.0,154.1 376.9,152.2 384.8,150.4 392.8,148.5 400.7,146.7 408.6,144.8 416.5,142.9 424.5,141.1 432.4,139.2 440.3,137.3 448.2,135.4"/><polyline points="258.0,207.0 265.9,205.3 273.9,203.3 281.8,201.2 289.7,198.7 297.7,196.3 305.6,193.9 313.5,191.5 321.5,189.2 329.4,186.8 337.3,184.4 345.3,182.1 353.2,179.9 361.1,177.6 369.1,175.2 377.0,172.9 384.9,170.5 392.9,168.1 400.8,165.7 408.7,163.3 416.6,160.9 424.6,158.4 432.5,156.0 440.4,153.5 448.4,151.0"/><polyline points="258.0,236.0 265.9,233.8 273.7,231.5 281.6,229.0 289.4,226.3 297.3,223.6 305.1,220.9 313.0,218.2 320.8,215.5 328.7,212.8 336.5,210.1 344.4,207.4 352.2,204.7 360.1,202.0 367.9,199.2 375.8,196.4 383.6,193.5 391.5,190.7 399.3,187.8 407.2,184.9 415.0,182.0 422.9,179.0 430.7,176.0 438.6,173.0 446.4,170.0"/><polyline points="258.0,266.0 265.9,263.5 273.7,260.8 281.6,258.1 289.5,255.2 297.4,252.4 305.2,249.4 313.1,246.5 321.0,243.5 328.8,240.6 336.7,237.5 344.6,234.5 352.5,231.5 360.3,228.4 368.2,225.3 376.1,222.1 383.9,218.9 391.8,215.7 399.7,212.4 407.6,209.1 415.4,205.7 423.3,202.4 431.2,198.9 439.0,195.5 446.9,192.0"/><polyline points="258.0,298.0 266.0,295.1 274.0,292.2 282.0,289.2 290.0,286.2 298.0,283.1 306.0,280.0 314.0,276.8 322.0,273.6 330.0,270.3 338.0,267.0 346.0,263.7 354.0,260.3 362.0,256.9 370.0,253.4 378.0,249.9 386.0,246.3 394.0,242.7 402.0,239.0 410.0,235.3 418.0,231.5 426.0,227.7 434.0,223.8 442.0,219.9 450.0,216.0"/></g></g>
<defs><linearGradient id="sp1" x1="0" y1="0" x2="0" y2="1"><stop offset="0" stop-color="#f8709a"/><stop offset="0.45" stop-color="#e0609a"/><stop offset="1" stop-color="#5a2a70"/></linearGradient><linearGradient id="sp2" x1="0" y1="0" x2="0" y2="1"><stop offset="0" stop-color="#9a4a98"/><stop offset="0.45" stop-color="#8a2a70"/><stop offset="1" stop-color="#2a1848"/></linearGradient></defs>
<g stroke-width="0.5" stroke-linejoin="round"><polygon points="60.8,162.2 64.1,162.1 64.1,162.5 60.8,162.5" fill="#ad3aae" stroke="#ad3aae"/><polygon points="60.8,162.5 64.1,162.5 64.1,162.8 60.8,162.8" fill="#b13cac" stroke="#b13cac"/><polygon points="60.8,162.8 64.1,162.8 64.1,163.2 60.8,163.1" fill="#b63ea9" stroke="#b63ea9"/><polygon points="60.8,163.1 64.1,163.2 64.1,163.6 60.8,163.4" fill="#ba40a7" stroke="#ba40a7"/><polygon points="64.1,162.1 67.4,161.8 67.4,162.3 64.1,162.5" fill="#b13aae" stroke="#b13aae"/><polygon points="64.1,162.5 67.4,162.3 67.4,162.8 64.1,162.8" fill="#b73daa" stroke="#b73daa"/><polygon points="64.1,162.8 67.4,162.8 67.4,163.3 64.1,163.2" fill="#bc40a7" stroke="#bc40a7"/><polygon points="64.1,163.2 67.4,163.3 67.4,163.9 64.1,163.6" fill="#c142a4" stroke="#c142a4"/><polygon points="67.4,161.8 70.7,161.3 70.7,162.1 67.4,162.3" fill="#b53bad" stroke="#b53bad"/><polygon points="67.4,162.3 70.7,162.1 70.7,162.8 67.4,162.8" fill="#bc3ea9" stroke="#bc3ea9"/><polygon points="67.4,162.8 70.7,162.8 70.7,163.5 67.4,163.3" fill="#c241a4" stroke="#c241a4"/><polygon points="67.4,163.3 70.7,163.5 70.7,164.2 67.4,163.9" fill="#c844a0" stroke="#c844a0"/><polygon points="70.7,161.3 73.9,160.8 73.9,161.8 70.7,162.1" fill="#b93cad" stroke="#b93cad"/><polygon points="70.7,162.1 73.9,161.8 73.9,162.7 70.7,162.8" fill="#c140a7" stroke="#c140a7"/><polygon points="70.7,162.8 73.9,162.7 73.9,163.6 70.7,163.5" fill="#c943a2" stroke="#c943a2"/><polygon points="70.7,163.5 73.9,163.6 73.9,164.6 70.7,164.2" fill="#d0469d" stroke="#d0469d"/><polygon points="73.9,160.8 77.2,159.9 77.2,161.2 73.9,161.8" fill="#be3dac" stroke="#be3dac"/><polygon points="73.9,161.8 77.2,161.2 77.2,162.5 73.9,162.7" fill="#c741a5" stroke="#c741a5"/><polygon points="73.9,162.7 77.2,162.5 77.2,163.8 73.9,163.6" fill="#cf459f" stroke="#cf459f"/><polygon points="73.9,163.6 77.2,163.8 77.2,165.1 73.9,164.6" fill="#d74899" stroke="#d74899"/><polygon points="77.2,159.9 80.5,158.6 80.5,160.4 77.2,161.2" fill="#c23eab" stroke="#c23eab"/><polygon points="77.2,161.2 80.5,160.4 80.5,162.1 77.2,162.5" fill="#cc42a4" stroke="#cc42a4"/><polygon points="77.2,162.5 80.5,162.1 80.5,163.9 77.2,163.8" fill="#d5469d" stroke="#d5469d"/><polygon points="77.2,163.8 80.5,163.9 80.5,165.7 77.2,165.1" fill="#de4a96" stroke="#de4a96"/><polygon points="80.5,158.6 83.8,157.0 83.8,159.4 80.5,160.4" fill="#c63fab" stroke="#c63fab"/><polygon points="80.5,160.4 83.8,159.4 83.8,161.7 80.5,162.1" fill="#d143a2" stroke="#d143a2"/><polygon points="80.5,162.1 83.8,161.7 83.8,164.0 80.5,163.9" fill="#dc489a" stroke="#dc489a"/><polygon points="80.5,163.9 83.8,164.0 83.8,166.4 80.5,165.7" fill="#e64c92" stroke="#e64c92"/><polygon points="83.8,157.0 87.1,155.5 87.1,158.4 83.8,159.4" fill="#c93fab" stroke="#c93fab"/><polygon points="83.8,159.4 87.1,158.4 87.1,161.3 83.8,161.7" fill="#d545a1" stroke="#d545a1"/><polygon points="83.8,161.7 87.1,161.3 87.1,164.1 83.8,164.0" fill="#e04a99" stroke="#e04a99"/><polygon points="83.8,164.0 87.1,164.1 87.1,167.0 83.8,166.4" fill="#eb4f90" stroke="#eb4f90"/><polygon points="87.1,155.5 90.4,153.9 90.4,157.3 87.1,158.4" fill="#ca40ab" stroke="#ca40ab"/><polygon points="87.1,158.4 90.4,157.3 90.4,160.8 87.1,161.3" fill="#d647a2" stroke="#d647a2"/><polygon points="87.1,161.3 90.4,160.8 90.4,164.2 87.1,164.1" fill="#e14c9a" stroke="#e14c9a"/><polygon points="87.1,164.1 90.4,164.2 90.4,167.7 87.1,167.0" fill="#ec5292" stroke="#ec5292"/><polygon points="90.4,153.9 93.7,152.2 93.7,156.2 90.4,157.3" fill="#ca41ab" stroke="#ca41ab"/><polygon points="90.4,157.3 93.7,156.2 93.7,160.3 90.4,160.8" fill="#d648a2" stroke="#d648a2"/><polygon points="90.4,160.8 93.7,160.3 93.7,164.3 90.4,164.2" fill="#e24f9a" stroke="#e24f9a"/><polygon points="90.4,164.2 93.7,164.3 93.7,168.3 90.4,167.7" fill="#ec5593" stroke="#ec5593"/><polygon points="93.7,152.2 97.0,150.5 97.0,155.1 93.7,156.2" fill="#cb42ab" stroke="#cb42ab"/><polygon points="93.7,156.2 97.0,155.1 97.0,159.8 93.7,160.3" fill="#d74aa3" stroke="#d74aa3"/><polygon points="93.7,160.3 97.0,159.8 97.0,164.4 93.7,164.3" fill="#e2529b" stroke="#e2529b"/><polygon points="93.7,164.3 97.0,164.4 97.0,169.0 93.7,168.3" fill="#ed5994" stroke="#ed5994"/><polygon points="97.0,150.5 100.2,148.9 100.2,154.1 97.0,155.1" fill="#cc43ab" stroke="#cc43ab"/><polygon points="97.0,155.1 100.2,154.1 100.2,159.3 97.0,159.8" fill="#d84ca3" stroke="#d84ca3"/><polygon points="97.0,159.8 100.2,159.3 100.2,164.5 97.0,164.4" fill="#e3549c" stroke="#e3549c"/><polygon points="97.0,164.4 100.2,164.5 100.2,169.7 97.0,169.0" fill="#ee5c95" stroke="#ee5c95"/><polygon points="100.2,148.9 103.5,147.2 103.5,153.0 100.2,154.1" fill="#cc44ac" stroke="#cc44ac"/><polygon points="100.2,154.1 103.5,153.0 103.5,158.8 100.2,159.3" fill="#d84ea4" stroke="#d84ea4"/><polygon points="100.2,159.3 103.5,158.8 103.5,164.6 100.2,164.5" fill="#e4579d" stroke="#e4579d"/><polygon points="100.2,164.5 103.5,164.6 103.5,170.4 100.2,169.7" fill="#ef5f96" stroke="#ef5f96"/><polygon points="103.5,147.2 106.8,145.6 106.8,152.0 103.5,153.0" fill="#cd45ac" stroke="#cd45ac"/><polygon points="103.5,153.0 106.8,152.0 106.8,158.3 103.5,158.8" fill="#d94fa4" stroke="#d94fa4"/><polygon points="103.5,158.8 106.8,158.3 106.8,164.7 103.5,164.6" fill="#e4599e" stroke="#e4599e"/><polygon points="103.5,164.6 106.8,164.7 106.8,171.1 103.5,170.4" fill="#ef6397" stroke="#ef6397"/><polygon points="106.8,145.6 110.1,144.0 110.1,150.9 106.8,152.0" fill="#cd46ac" stroke="#cd46ac"/><polygon points="106.8,152.0 110.1,150.9 110.1,157.8 106.8,158.3" fill="#da51a5" stroke="#da51a5"/><polygon points="106.8,158.3 110.1,157.8 110.1,164.7 106.8,164.7" fill="#e55c9f" stroke="#e55c9f"/><polygon points="106.8,164.7 110.1,164.7 110.1,171.6 106.8,171.1" fill="#f06698" stroke="#f06698"/><polygon points="110.1,144.0 113.4,142.3 113.4,149.8 110.1,150.9" fill="#ce46ac" stroke="#ce46ac"/><polygon points="110.1,150.9 113.4,149.8 113.4,157.2 110.1,157.8" fill="#da53a6" stroke="#da53a6"/><polygon points="110.1,157.8 113.4,157.2 113.4,164.7 110.1,164.7" fill="#e65e9f" stroke="#e65e9f"/><polygon points="110.1,164.7 113.4,164.7 113.4,172.1 110.1,171.6" fill="#f1699a" stroke="#f1699a"/><polygon points="113.4,142.3 116.7,140.7 116.7,148.7 113.4,149.8" fill="#cf47ac" stroke="#cf47ac"/><polygon points="113.4,149.8 116.7,148.7 116.7,156.6 113.4,157.2" fill="#db55a6" stroke="#db55a6"/><polygon points="113.4,157.2 116.7,156.6 116.7,164.5 113.4,164.7" fill="#e661a0" stroke="#e661a0"/><polygon points="113.4,164.7 116.7,164.5 116.7,172.5 113.4,172.1" fill="#f16d9b" stroke="#f16d9b"/><polygon points="116.7,140.7 120.0,139.1 120.0,147.4 116.7,148.7" fill="#cf48ad" stroke="#cf48ad"/><polygon points="116.7,148.7 120.0,147.4 120.0,155.6 116.7,156.6" fill="#dc56a7" stroke="#dc56a7"/><polygon points="116.7,156.6 120.0,155.6 120.0,163.9 116.7,164.5" fill="#e763a1" stroke="#e763a1"/><polygon points="116.7,164.5 120.0,163.9 120.0,172.2 116.7,172.5" fill="#f2709c" stroke="#f2709c"/><polygon points="120.0,139.1 123.2,137.3 123.2,145.7 120.0,147.4" fill="#ce48ad" stroke="#ce48ad"/><polygon points="120.0,147.4 123.2,145.7 123.2,154.0 120.0,155.6" fill="#db56a7" stroke="#db56a7"/><polygon points="120.0,155.6 123.2,154.0 123.2,162.4 120.0,163.9" fill="#e663a2" stroke="#e663a2"/><polygon points="120.0,163.9 123.2,162.4 123.2,170.7 120.0,172.2" fill="#f1709d" stroke="#f1709d"/><polygon points="123.2,137.3 126.5,135.4 126.5,143.6 123.2,145.7" fill="#cc48ae" stroke="#cc48ae"/><polygon points="123.2,145.7 126.5,143.6 126.5,151.8 123.2,154.0" fill="#d854a8" stroke="#d854a8"/><polygon points="123.2,154.0 126.5,151.8 126.5,160.0 123.2,162.4" fill="#e460a3" stroke="#e460a3"/><polygon points="123.2,162.4 126.5,160.0 126.5,168.2 123.2,170.7" fill="#ef6c9e" stroke="#ef6c9e"/><polygon points="126.5,135.4 129.8,133.3 129.8,140.4 126.5,143.6" fill="#ca47af" stroke="#ca47af"/><polygon points="126.5,143.6 129.8,140.4 129.8,147.5 126.5,151.8" fill="#d653a9" stroke="#d653a9"/><polygon points="126.5,151.8 129.8,147.5 129.8,154.5 126.5,160.0" fill="#e15da3" stroke="#e15da3"/><polygon points="126.5,160.0 129.8,154.5 129.8,161.6 126.5,168.2" fill="#ec689e" stroke="#ec689e"/><polygon points="129.8,133.3 133.1,131.3 133.1,137.4 129.8,140.4" fill="#c746b0" stroke="#c746b0"/><polygon points="129.8,140.4 133.1,137.4 133.1,143.5 129.8,147.5" fill="#d351aa" stroke="#d351aa"/><polygon points="129.8,147.5 133.1,143.5 133.1,149.6 129.8,154.5" fill="#df5aa4" stroke="#df5aa4"/><polygon points="129.8,154.5 133.1,149.6 133.1,155.8 129.8,161.6" fill="#e9649f" stroke="#e9649f"/><polygon points="133.1,131.3 136.4,129.3 136.4,135.2 133.1,137.4" fill="#c546b0" stroke="#c546b0"/><polygon points="133.1,137.4 136.4,135.2 136.4,141.1 133.1,143.5" fill="#d14faa" stroke="#d14faa"/><polygon points="133.1,143.5 136.4,141.1 136.4,147.0 133.1,149.6" fill="#dc58a5" stroke="#dc58a5"/><polygon points="133.1,149.6 136.4,147.0 136.4,152.9 133.1,155.8" fill="#e760a0" stroke="#e760a0"/><polygon points="136.4,129.3 139.7,127.6 139.7,133.4 136.4,135.2" fill="#c345b1" stroke="#c345b1"/><polygon points="136.4,135.2 139.7,133.4 139.7,139.2 136.4,141.1" fill="#cf4dab" stroke="#cf4dab"/><polygon points="136.4,141.1 139.7,139.2 139.7,145.0 136.4,147.0" fill="#da55a6" stroke="#da55a6"/><polygon points="136.4,147.0 139.7,145.0 139.7,150.7 136.4,152.9" fill="#e45ca0" stroke="#e45ca0"/><polygon points="139.7,127.6 143.0,126.2 143.0,131.7 139.7,133.4" fill="#c044b2" stroke="#c044b2"/><polygon points="139.7,133.4 143.0,131.7 143.0,137.2 139.7,139.2" fill="#cc4bac" stroke="#cc4bac"/><polygon points="139.7,139.2 143.0,137.2 143.0,142.7 139.7,145.0" fill="#d752a6" stroke="#d752a6"/><polygon points="139.7,145.0 143.0,142.7 143.0,148.2 139.7,150.7" fill="#e258a1" stroke="#e258a1"/><polygon points="143.0,126.2 146.3,124.8 146.3,129.9 143.0,131.7" fill="#be43b3" stroke="#be43b3"/><polygon points="143.0,131.7 146.3,129.9 146.3,135.0 143.0,137.2" fill="#ca49ad" stroke="#ca49ad"/><polygon points="143.0,137.2 146.3,135.0 146.3,140.1 143.0,142.7" fill="#d54fa7" stroke="#d54fa7"/><polygon points="143.0,142.7 146.3,140.1 146.3,145.1 143.0,148.2" fill="#df54a2" stroke="#df54a2"/><polygon points="146.3,124.8 149.5,123.5 149.5,128.2 146.3,129.9" fill="#bc43b4" stroke="#bc43b4"/><polygon points="146.3,129.9 149.5,128.2 149.5,132.9 146.3,135.0" fill="#c748ae" stroke="#c748ae"/><polygon points="146.3,135.0 149.5,132.9 149.5,137.6 146.3,140.1" fill="#d24ca8" stroke="#d24ca8"/><polygon points="146.3,140.1 149.5,137.6 149.5,142.3 146.3,145.1" fill="#dc50a2" stroke="#dc50a2"/><polygon points="149.5,123.5 152.8,122.3 152.8,126.8 149.5,128.2" fill="#b943b4" stroke="#b943b4"/><polygon points="149.5,128.2 152.8,126.8 152.8,131.2 149.5,132.9" fill="#c547ae" stroke="#c547ae"/><polygon points="149.5,132.9 152.8,131.2 152.8,135.7 149.5,137.6" fill="#cf4aa9" stroke="#cf4aa9"/><polygon points="149.5,137.6 152.8,135.7 152.8,140.2 149.5,142.3" fill="#d94ea3" stroke="#d94ea3"/><polygon points="152.8,122.3 156.1,121.2 156.1,125.5 152.8,126.8" fill="#b743b5" stroke="#b743b5"/><polygon points="152.8,126.8 156.1,125.5 156.1,129.8 152.8,131.2" fill="#c147af" stroke="#c147af"/><polygon points="152.8,131.2 156.1,129.8 156.1,134.0 152.8,135.7" fill="#cb4aaa" stroke="#cb4aaa"/><polygon points="152.8,135.7 156.1,134.0 156.1,138.3 152.8,140.2" fill="#d44da5" stroke="#d44da5"/><polygon points="156.1,121.2 159.4,120.2 159.4,124.3 156.1,125.5" fill="#b444b5" stroke="#b444b5"/><polygon points="156.1,125.5 159.4,124.3 159.4,128.4 156.1,129.8" fill="#be47b0" stroke="#be47b0"/><polygon points="156.1,129.8 159.4,128.4 159.4,132.5 156.1,134.0" fill="#c74aab" stroke="#c74aab"/><polygon points="156.1,134.0 159.4,132.5 159.4,136.6 156.1,138.3" fill="#d04da6" stroke="#d04da6"/><polygon points="159.4,120.2 162.7,119.2 162.7,123.1 159.4,124.3" fill="#b144b5" stroke="#b144b5"/><polygon points="159.4,124.3 162.7,123.1 162.7,127.0 159.4,128.4" fill="#bb47b0" stroke="#bb47b0"/><polygon points="159.4,128.4 162.7,127.0 162.7,130.9 159.4,132.5" fill="#c34aac" stroke="#c34aac"/><polygon points="159.4,132.5 162.7,130.9 162.7,134.8 159.4,136.6" fill="#cb4ca8" stroke="#cb4ca8"/><polygon points="162.7,119.2 166.0,118.3 166.0,121.9 162.7,123.1" fill="#af45b5" stroke="#af45b5"/><polygon points="162.7,123.1 166.0,121.9 166.0,125.5 162.7,127.0" fill="#b747b1" stroke="#b747b1"/><polygon points="162.7,127.0 166.0,125.5 166.0,129.1 162.7,130.9" fill="#bf49ad" stroke="#bf49ad"/><polygon points="162.7,130.9 166.0,129.1 166.0,132.7 162.7,134.8" fill="#c74ba9" stroke="#c74ba9"/><polygon points="166.0,118.3 169.3,117.5 169.3,120.7 166.0,121.9" fill="#ac45b6" stroke="#ac45b6"/><polygon points="166.0,121.9 169.3,120.7 169.3,123.9 166.0,125.5" fill="#b447b2" stroke="#b447b2"/><polygon points="166.0,125.5 169.3,123.9 169.3,127.2 166.0,129.1" fill="#bb49ae" stroke="#bb49ae"/><polygon points="166.0,129.1 169.3,127.2 169.3,130.4 166.0,132.7" fill="#c34baa" stroke="#c34baa"/><polygon points="169.3,117.5 172.5,116.7 172.5,119.5 169.3,120.7" fill="#a946b6" stroke="#a946b6"/><polygon points="169.3,120.7 172.5,119.5 172.5,122.3 169.3,123.9" fill="#b147b2" stroke="#b147b2"/><polygon points="169.3,123.9 172.5,122.3 172.5,125.2 169.3,127.2" fill="#b849af" stroke="#b849af"/><polygon points="169.3,127.2 172.5,125.2 172.5,128.0 169.3,130.4" fill="#be4aac" stroke="#be4aac"/><polygon points="172.5,116.7 175.8,115.9 175.8,118.4 172.5,119.5" fill="#a647b6" stroke="#a647b6"/><polygon points="172.5,119.5 175.8,118.4 175.8,120.8 172.5,122.3" fill="#ad48b3" stroke="#ad48b3"/><polygon points="172.5,122.3 175.8,120.8 175.8,123.2 172.5,125.2" fill="#b449b0" stroke="#b449b0"/><polygon points="172.5,125.2 175.8,123.2 175.8,125.7 172.5,128.0" fill="#ba4aad" stroke="#ba4aad"/><polygon points="175.8,115.9 179.1,115.2 179.1,117.3 175.8,118.4" fill="#a447b6" stroke="#a447b6"/><polygon points="175.8,118.4 179.1,117.3 179.1,119.4 175.8,120.8" fill="#aa48b4" stroke="#aa48b4"/><polygon points="175.8,120.8 179.1,119.4 179.1,121.4 175.8,123.2" fill="#b048b1" stroke="#b048b1"/><polygon points="175.8,123.2 179.1,121.4 179.1,123.5 175.8,125.7" fill="#b549af" stroke="#b549af"/><polygon points="179.1,115.2 182.4,114.5 182.4,116.3 179.1,117.3" fill="#a148b7" stroke="#a148b7"/><polygon points="179.1,117.3 182.4,116.3 182.4,118.1 179.1,119.4" fill="#a748b4" stroke="#a748b4"/><polygon points="179.1,119.4 182.4,118.1 182.4,119.9 179.1,121.4" fill="#ac48b2" stroke="#ac48b2"/><polygon points="179.1,121.4 182.4,119.9 182.4,121.7 179.1,123.5" fill="#b148b0" stroke="#b148b0"/><polygon points="182.4,114.5 185.7,113.8 185.7,115.3 182.4,116.3" fill="#9f4ab7" stroke="#9f4ab7"/><polygon points="182.4,116.3 185.7,115.3 185.7,116.9 182.4,118.1" fill="#a44ab5" stroke="#a44ab5"/><polygon points="182.4,118.1 185.7,116.9 185.7,118.4 182.4,119.9" fill="#a94ab4" stroke="#a94ab4"/><polygon points="182.4,119.9 185.7,118.4 185.7,120.0 182.4,121.7" fill="#ad4ab2" stroke="#ad4ab2"/><polygon points="185.7,113.8 189.0,113.1 189.0,114.5 185.7,115.3" fill="#9d50b9" stroke="#9d50b9"/><polygon points="185.7,115.3 189.0,114.5 189.0,115.8 185.7,116.9" fill="#a250b8" stroke="#a250b8"/><polygon points="185.7,116.9 189.0,115.8 189.0,117.1 185.7,118.4" fill="#a750b6" stroke="#a750b6"/><polygon points="185.7,118.4 189.0,117.1 189.0,118.4 185.7,120.0" fill="#ab51b5" stroke="#ab51b5"/><polygon points="189.0,113.1 192.3,112.5 192.3,113.6 189.0,114.5" fill="#9c56bb" stroke="#9c56bb"/><polygon points="189.0,114.5 192.3,113.6 192.3,114.8 189.0,115.8" fill="#a156ba" stroke="#a156ba"/><polygon points="189.0,115.8 192.3,114.8 192.3,115.9 189.0,117.1" fill="#a557b9" stroke="#a557b9"/><polygon points="189.0,117.1 192.3,115.9 192.3,117.0 189.0,118.4" fill="#a957b7" stroke="#a957b7"/><polygon points="192.3,112.5 195.6,111.9 195.6,112.8 192.3,113.6" fill="#9b5cbd" stroke="#9b5cbd"/><polygon points="192.3,113.6 195.6,112.8 195.6,113.8 192.3,114.8" fill="#9f5dbc" stroke="#9f5dbc"/><polygon points="192.3,114.8 195.6,113.8 195.6,114.7 192.3,115.9" fill="#a35dbb" stroke="#a35dbb"/><polygon points="192.3,115.9 195.6,114.7 195.6,115.7 192.3,117.0" fill="#a75eba" stroke="#a75eba"/><polygon points="195.6,111.9 198.8,111.2 198.8,112.0 195.6,112.8" fill="#9a62bf" stroke="#9a62bf"/><polygon points="195.6,112.8 198.8,112.0 198.8,112.9 195.6,113.8" fill="#9e63bf" stroke="#9e63bf"/><polygon points="195.6,113.8 198.8,112.9 198.8,113.7 195.6,114.7" fill="#a164be" stroke="#a164be"/><polygon points="195.6,114.7 198.8,113.7 198.8,114.5 195.6,115.7" fill="#a564bd" stroke="#a564bd"/><polygon points="198.8,111.2 202.1,110.6 202.1,111.3 198.8,112.0" fill="#9868c1" stroke="#9868c1"/><polygon points="198.8,112.0 202.1,111.3 202.1,112.0 198.8,112.9" fill="#9c69c1" stroke="#9c69c1"/><polygon points="198.8,112.9 202.1,112.0 202.1,112.7 198.8,113.7" fill="#9f6ac0" stroke="#9f6ac0"/><polygon points="198.8,113.7 202.1,112.7 202.1,113.5 198.8,114.5" fill="#a36bc0" stroke="#a36bc0"/><polygon points="202.1,110.6 205.4,109.9 205.4,110.6 202.1,111.3" fill="#976ec4" stroke="#976ec4"/><polygon points="202.1,111.3 205.4,110.6 205.4,111.3 202.1,112.0" fill="#9a6fc3" stroke="#9a6fc3"/><polygon points="202.1,112.0 205.4,111.3 205.4,112.0 202.1,112.7" fill="#9e70c3" stroke="#9e70c3"/><polygon points="202.1,112.7 205.4,112.0 205.4,112.7 202.1,113.5" fill="#a171c3" stroke="#a171c3"/><polygon points="205.4,109.9 208.7,109.2 208.7,109.9 205.4,110.6" fill="#9674c6" stroke="#9674c6"/><polygon points="205.4,110.6 208.7,109.9 208.7,110.6 205.4,111.3" fill="#9975c6" stroke="#9975c6"/><polygon points="205.4,111.3 208.7,110.6 208.7,111.4 205.4,112.0" fill="#9c77c6" stroke="#9c77c6"/><polygon points="205.4,112.0 208.7,111.4 208.7,112.1 205.4,112.7" fill="#9e78c6" stroke="#9e78c6"/><polygon points="208.7,109.2 212.0,108.5 212.0,109.3 208.7,109.9" fill="#947ac8" stroke="#947ac8"/><polygon points="208.7,109.9 212.0,109.3 212.0,110.0 208.7,110.6" fill="#977cc8" stroke="#977cc8"/><polygon points="208.7,110.6 212.0,110.0 212.0,110.8 208.7,111.4" fill="#9a7dc8" stroke="#9a7dc8"/><polygon points="208.7,111.4 212.0,110.8 212.0,111.6 208.7,112.1" fill="#9c7fc8" stroke="#9c7fc8"/><polygon points="212.0,108.5 215.3,107.9 215.3,108.7 212.0,109.3" fill="#9380ca" stroke="#9380ca"/><polygon points="212.0,109.3 215.3,108.7 215.3,109.5 212.0,110.0" fill="#9682ca" stroke="#9682ca"/><polygon points="212.0,110.0 215.3,109.5 215.3,110.3 212.0,110.8" fill="#9884cb" stroke="#9884cb"/><polygon points="212.0,110.8 215.3,110.3 215.3,111.1 212.0,111.6" fill="#9a85cb" stroke="#9a85cb"/><polygon points="215.3,107.9 218.6,107.3 218.6,108.1 215.3,108.7" fill="#9286cc" stroke="#9286cc"/><polygon points="215.3,108.7 218.6,108.1 218.6,109.0 215.3,109.5" fill="#9488cc" stroke="#9488cc"/><polygon points="215.3,109.5 218.6,109.0 218.6,109.8 215.3,110.3" fill="#968acd" stroke="#968acd"/><polygon points="215.3,110.3 218.6,109.8 218.6,110.7 215.3,111.1" fill="#988cce" stroke="#988cce"/><polygon points="218.6,107.3 221.8,106.7 221.8,107.6 218.6,108.1" fill="#928cce" stroke="#928cce"/><polygon points="218.6,108.1 221.8,107.6 221.8,108.5 218.6,109.0" fill="#948ecf" stroke="#948ecf"/><polygon points="218.6,109.0 221.8,108.5 221.8,109.4 218.6,109.8" fill="#9690d0" stroke="#9690d0"/><polygon points="218.6,109.8 221.8,109.4 221.8,110.3 218.6,110.7" fill="#9891d0" stroke="#9891d0"/><polygon points="221.8,106.7 225.1,106.1 225.1,107.1 221.8,107.6" fill="#9491d0" stroke="#9491d0"/><polygon points="221.8,107.6 225.1,107.1 225.1,108.0 221.8,108.5" fill="#9693d1" stroke="#9693d1"/><polygon points="221.8,108.5 225.1,108.0 225.1,108.9 221.8,109.4" fill="#9894d2" stroke="#9894d2"/><polygon points="221.8,109.4 225.1,108.9 225.1,109.9 221.8,110.3" fill="#9996d2" stroke="#9996d2"/><polygon points="225.1,106.1 228.4,105.6 228.4,106.6 225.1,107.1" fill="#9696d2" stroke="#9696d2"/><polygon points="225.1,107.1 228.4,106.6 228.4,107.5 225.1,108.0" fill="#9898d3" stroke="#9898d3"/><polygon points="225.1,108.0 228.4,107.5 228.4,108.5 225.1,108.9" fill="#9999d3" stroke="#9999d3"/><polygon points="225.1,108.9 228.4,108.5 228.4,109.4 225.1,109.9" fill="#9b9bd4" stroke="#9b9bd4"/><polygon points="228.4,105.6 231.7,105.1 231.7,106.1 228.4,106.6" fill="#989bd4" stroke="#989bd4"/><polygon points="228.4,106.6 231.7,106.1 231.7,107.0 228.4,107.5" fill="#999cd5" stroke="#999cd5"/><polygon points="228.4,107.5 231.7,107.0 231.7,108.0 228.4,108.5" fill="#9b9ed5" stroke="#9b9ed5"/><polygon points="228.4,108.5 231.7,108.0 231.7,109.0 228.4,109.4" fill="#9c9fd6" stroke="#9c9fd6"/><polygon points="231.7,105.1 235.0,104.6 235.0,105.6 231.7,106.1" fill="#9aa0d6" stroke="#9aa0d6"/><polygon points="231.7,106.1 235.0,105.6 235.0,106.6 231.7,107.0" fill="#9ba1d7" stroke="#9ba1d7"/><polygon points="231.7,107.0 235.0,106.6 235.0,107.6 231.7,108.0" fill="#9ca3d7" stroke="#9ca3d7"/><polygon points="231.7,108.0 235.0,107.6 235.0,108.6 231.7,109.0" fill="#9da4d8" stroke="#9da4d8"/><polygon points="235.0,104.6 238.3,104.2 238.3,105.2 235.0,105.6" fill="#9ca5d8" stroke="#9ca5d8"/><polygon points="235.0,105.6 238.3,105.2 238.3,106.3 235.0,106.6" fill="#9da6d9" stroke="#9da6d9"/><polygon points="235.0,106.6 238.3,106.3 238.3,107.3 235.0,107.6" fill="#9ea7d9" stroke="#9ea7d9"/><polygon points="235.0,107.6 238.3,107.3 238.3,108.3 235.0,108.6" fill="#9fa8da" stroke="#9fa8da"/><polygon points="238.3,104.2 241.6,103.8 241.6,104.9 238.3,105.2" fill="#9eaada" stroke="#9eaada"/><polygon points="238.3,105.2 241.6,104.9 241.6,106.0 238.3,106.3" fill="#9fabdb" stroke="#9fabdb"/><polygon points="238.3,106.3 241.6,106.0 241.6,107.0 238.3,107.3" fill="#9facdb" stroke="#9facdb"/><polygon points="238.3,107.3 241.6,107.0 241.6,108.1 238.3,108.3" fill="#a0addc" stroke="#a0addc"/><polygon points="241.6,103.8 244.9,103.5 244.9,104.6 241.6,104.9" fill="#9fafdc" stroke="#9fafdc"/><polygon points="241.6,104.9 244.9,104.6 244.9,105.7 241.6,106.0" fill="#a0b0dd" stroke="#a0b0dd"/><polygon points="241.6,106.0 244.9,105.7 244.9,106.8 241.6,107.0" fill="#a1b1dd" stroke="#a1b1dd"/><polygon points="241.6,107.0 244.9,106.8 244.9,108.0 241.6,108.1" fill="#a2b1de" stroke="#a2b1de"/><polygon points="244.9,103.5 248.1,103.1 248.1,104.3 244.9,104.6" fill="#a1b4df" stroke="#a1b4df"/><polygon points="244.9,104.6 248.1,104.3 248.1,105.5 244.9,105.7" fill="#a2b5df" stroke="#a2b5df"/><polygon points="244.9,105.7 248.1,105.5 248.1,106.6 244.9,106.8" fill="#a3b5df" stroke="#a3b5df"/><polygon points="244.9,106.8 248.1,106.6 248.1,107.8 244.9,108.0" fill="#a3b6df" stroke="#a3b6df"/><polygon points="248.1,103.1 251.4,102.8 251.4,104.0 248.1,104.3" fill="#a3b9e1" stroke="#a3b9e1"/><polygon points="248.1,104.3 251.4,104.0 251.4,105.3 248.1,105.5" fill="#a4bae1" stroke="#a4bae1"/><polygon points="248.1,105.5 251.4,105.3 251.4,106.5 248.1,106.6" fill="#a4bae1" stroke="#a4bae1"/><polygon points="248.1,106.6 251.4,106.5 251.4,107.7 248.1,107.8" fill="#a4bbe1" stroke="#a4bbe1"/><polygon points="251.4,102.8 254.7,102.5 254.7,103.8 251.4,104.0" fill="#a5bee3" stroke="#a5bee3"/><polygon points="251.4,104.0 254.7,103.8 254.7,105.1 251.4,105.3" fill="#a5bfe3" stroke="#a5bfe3"/><polygon points="251.4,105.3 254.7,105.1 254.7,106.4 251.4,106.5" fill="#a6bfe3" stroke="#a6bfe3"/><polygon points="251.4,106.5 254.7,106.4 254.7,107.6 251.4,107.7" fill="#a6bfe3" stroke="#a6bfe3"/><polygon points="254.7,102.5 258.0,102.3 258.0,103.6 254.7,103.8" fill="#a7c3e5" stroke="#a7c3e5"/><polygon points="254.7,103.8 258.0,103.6 258.0,105.0 254.7,105.1" fill="#a7c4e5" stroke="#a7c4e5"/><polygon points="254.7,105.1 258.0,105.0 258.0,106.3 254.7,106.4" fill="#a7c4e5" stroke="#a7c4e5"/><polygon points="254.7,106.4 258.0,106.3 258.0,107.6 254.7,107.6" fill="#a7c4e5" stroke="#a7c4e5"/></g><g stroke="#0b1622" stroke-width="0.62" fill="none" stroke-linejoin="round" stroke-linecap="round"><polyline points="60.8,162.2 64.1,162.1 67.4,161.8 70.7,161.3 73.9,160.8 77.2,159.9 80.5,158.6 83.8,157.0 87.1,155.5 90.4,153.9 93.7,152.2 97.0,150.5 100.2,148.9 103.5,147.2 106.8,145.6 110.1,144.0 113.4,142.3 116.7,140.7 120.0,139.1 123.2,137.3 126.5,135.4 129.8,133.3 133.1,131.3 136.4,129.3 139.7,127.6 143.0,126.2 146.3,124.8 149.5,123.5 152.8,122.3 156.1,121.2 159.4,120.2 162.7,119.2 166.0,118.3 169.3,117.5 172.5,116.7 175.8,115.9 179.1,115.2 182.4,114.5 185.7,113.8 189.0,113.1 192.3,112.5 195.6,111.9 198.8,111.2 202.1,110.6 205.4,109.9 208.7,109.2 212.0,108.5 215.3,107.9 218.6,107.3 221.8,106.7 225.1,106.1 228.4,105.6 231.7,105.1 235.0,104.6 238.3,104.2 241.6,103.8 244.9,103.5 248.1,103.1 251.4,102.8 254.7,102.5 258.0,102.3"/><polyline points="77.2,161.6 80.5,161.0 83.8,160.1 87.1,159.3 90.4,158.5 93.7,157.6 97.0,156.7 100.2,155.8 103.5,155.0 106.8,154.1 110.1,153.2 113.4,152.3 116.7,151.3 120.0,150.1 123.2,148.4 126.5,146.3 129.8,142.7 133.1,139.4 136.4,137.2 139.7,135.3 143.0,133.5 146.3,131.6 149.5,129.8 152.8,128.3 156.1,126.9 159.4,125.7 162.7,124.4 166.0,123.1 169.3,121.8 172.5,120.5 175.8,119.2 179.1,118.0 182.4,116.9 185.7,115.9 189.0,114.9 192.3,114.0 248.1,104.7 251.4,104.4 254.7,104.2 258.0,104.1"/><polyline points="77.2,163.4 80.5,163.3 83.8,163.3 87.1,163.2 90.4,163.1 93.7,163.0 97.0,162.8 100.2,162.7 103.5,162.7 106.8,162.6 110.1,162.4 113.4,162.2 116.7,161.9 120.0,161.2 123.2,159.6 126.5,157.3 129.8,152.2 133.1,147.6 136.4,145.1 139.7,143.0 143.0,140.8 146.3,138.4 149.5,136.1 152.8,134.2 156.1,132.6 159.4,131.1 162.7,129.6 166.0,127.9 169.3,126.1 172.5,124.2 175.8,122.4 179.1,120.7 182.4,119.3 185.7,117.9 189.0,116.7 192.3,115.5 248.1,106.3 251.4,106.1 254.7,105.9 258.0,105.8"/><polyline points="73.9,164.6 77.2,165.1 80.5,165.7 83.8,166.4 87.1,167.0 90.4,167.7 93.7,168.3 97.0,169.0 100.2,169.7 103.5,170.4 106.8,171.1 110.1,171.6 113.4,172.1 116.7,172.5 120.0,172.2 123.2,170.7 126.5,168.2 129.8,161.6 133.1,155.8 136.4,152.9 139.7,150.7 143.0,148.2 146.3,145.1 149.5,142.3 152.8,140.2 156.1,138.3 159.4,136.6 162.7,134.8 166.0,132.7 169.3,130.4 172.5,128.0 175.8,125.7 179.1,123.5 182.4,121.7 185.7,120.0 189.0,118.4 192.3,117.0 195.6,115.7 225.1,109.9 228.4,109.4 231.7,109.0 235.0,108.6 238.3,108.3 241.6,108.1 244.9,108.0 248.1,107.8 251.4,107.7 254.7,107.6 258.0,107.6"/><line x1="84.8" y1="156.5" x2="83.8" y2="166.6"/><line x1="108.8" y1="144.6" x2="107.8" y2="171.4"/><line x1="134.0" y1="130.7" x2="133.0" y2="154.9"/><line x1="159.2" y1="120.2" x2="158.2" y2="136.7"/><line x1="184.0" y1="114.1" x2="183.0" y2="120.8"/><line x1="209.0" y1="109.1" x2="208.0" y2="112.0"/></g>
<g stroke-width="0.5" stroke-linejoin="round"><polygon points="258.0,102.3 261.1,102.6 261.1,103.9 258.0,103.6" fill="#a7c5e5" stroke="#a7c5e5"/><polygon points="258.0,103.6 261.1,103.9 261.1,105.2 258.0,104.9" fill="#a7c5e5" stroke="#a7c5e5"/><polygon points="258.0,104.9 261.1,105.2 261.1,106.5 258.0,106.3" fill="#a7c5e5" stroke="#a7c5e5"/><polygon points="258.0,106.3 261.1,106.5 261.1,107.8 258.0,107.6" fill="#a7c5e5" stroke="#a7c5e5"/><polygon points="261.1,102.6 264.3,103.0 264.3,104.3 261.1,103.9" fill="#a5c1e3" stroke="#a5c1e3"/><polygon points="261.1,103.9 264.3,104.3 264.3,105.5 261.1,105.2" fill="#a5c1e3" stroke="#a5c1e3"/><polygon points="261.1,105.2 264.3,105.5 264.3,106.8 261.1,106.5" fill="#a5c1e3" stroke="#a5c1e3"/><polygon points="261.1,106.5 264.3,106.8 264.3,108.0 261.1,107.8" fill="#a5c1e3" stroke="#a5c1e3"/><polygon points="264.3,103.0 267.4,103.5 267.4,104.7 264.3,104.3" fill="#a1bce0" stroke="#a1bce0"/><polygon points="264.3,104.3 267.4,104.7 267.4,105.9 264.3,105.5" fill="#a1bce0" stroke="#a1bce0"/><polygon points="264.3,105.5 267.4,105.9 267.4,107.1 264.3,106.8" fill="#a1bce0" stroke="#a1bce0"/><polygon points="264.3,106.8 267.4,107.1 267.4,108.3 264.3,108.0" fill="#a1bce0" stroke="#a1bce0"/><polygon points="267.4,103.5 270.6,103.9 270.6,105.1 267.4,104.7" fill="#9db6dc" stroke="#9db6dc"/><polygon points="267.4,104.7 270.6,105.1 270.6,106.2 267.4,105.9" fill="#9db6dc" stroke="#9db6dc"/><polygon points="267.4,105.9 270.6,106.2 270.6,107.4 267.4,107.1" fill="#9db6dc" stroke="#9db6dc"/><polygon points="267.4,107.1 270.6,107.4 270.6,108.6 267.4,108.3" fill="#9db6dc" stroke="#9db6dc"/><polygon points="270.6,103.9 273.7,104.4 273.7,105.5 270.6,105.1" fill="#98afd7" stroke="#98afd7"/><polygon points="270.6,105.1 273.7,105.5 273.7,106.7 270.6,106.2" fill="#98afd7" stroke="#98afd7"/><polygon points="270.6,106.2 273.7,106.7 273.7,107.8 270.6,107.4" fill="#98afd7" stroke="#98afd7"/><polygon points="270.6,107.4 273.7,107.8 273.7,108.9 270.6,108.6" fill="#98afd7" stroke="#98afd7"/><polygon points="273.7,104.4 276.8,105.0 276.8,106.0 273.7,105.5" fill="#92a8d2" stroke="#92a8d2"/><polygon points="273.7,105.5 276.8,106.0 276.8,107.1 273.7,106.7" fill="#92a8d2" stroke="#92a8d2"/><polygon points="273.7,106.7 276.8,107.1 276.8,108.2 273.7,107.8" fill="#92a8d2" stroke="#92a8d2"/><polygon points="273.7,107.8 276.8,108.2 276.8,109.2 273.7,108.9" fill="#92a8d2" stroke="#92a8d2"/><polygon points="276.8,105.0 280.0,105.5 280.0,106.5 276.8,106.0" fill="#8ca0cd" stroke="#8ca0cd"/><polygon points="276.8,106.0 280.0,106.5 280.0,107.5 276.8,107.1" fill="#8ca0cd" stroke="#8ca0cd"/><polygon points="276.8,107.1 280.0,107.5 280.0,108.6 276.8,108.2" fill="#8ca0cd" stroke="#8ca0cd"/><polygon points="276.8,108.2 280.0,108.6 280.0,109.6 276.8,109.2" fill="#8ca0cd" stroke="#8ca0cd"/><polygon points="280.0,105.5 283.1,106.1 283.1,107.1 280.0,106.5" fill="#8697c7" stroke="#8697c7"/><polygon points="280.0,106.5 283.1,107.1 283.1,108.1 280.0,107.5" fill="#8697c7" stroke="#8697c7"/><polygon points="280.0,107.5 283.1,108.1 283.1,109.0 280.0,108.6" fill="#8697c7" stroke="#8697c7"/><polygon points="280.0,108.6 283.1,109.0 283.1,110.0 280.0,109.6" fill="#8697c7" stroke="#8697c7"/><polygon points="283.1,106.1 286.3,106.8 286.3,107.7 283.1,107.1" fill="#7f8ec1" stroke="#7f8ec1"/><polygon points="283.1,107.1 286.3,107.7 286.3,108.6 283.1,108.1" fill="#7f8ec1" stroke="#7f8ec1"/><polygon points="283.1,108.1 286.3,108.6 286.3,109.6 283.1,109.0" fill="#7f8ec1" stroke="#7f8ec1"/><polygon points="283.1,109.0 286.3,109.6 286.3,110.5 283.1,110.0" fill="#7f8ec1" stroke="#7f8ec1"/><polygon points="286.3,106.8 289.4,107.5 289.4,108.4 286.3,107.7" fill="#7884ba" stroke="#7884ba"/><polygon points="286.3,107.7 289.4,108.4 289.4,109.3 286.3,108.6" fill="#7884ba" stroke="#7884ba"/><polygon points="286.3,108.6 289.4,109.3 289.4,110.2 286.3,109.6" fill="#7884ba" stroke="#7884ba"/><polygon points="286.3,109.6 289.4,110.2 289.4,111.0 286.3,110.5" fill="#7884ba" stroke="#7884ba"/><polygon points="289.4,107.5 292.5,108.3 292.5,109.1 289.4,108.4" fill="#717ab3" stroke="#717ab3"/><polygon points="289.4,108.4 292.5,109.1 292.5,109.9 289.4,109.3" fill="#717ab3" stroke="#717ab3"/><polygon points="289.4,109.3 292.5,109.9 292.5,110.8 289.4,110.2" fill="#717ab3" stroke="#717ab3"/><polygon points="289.4,110.2 292.5,110.8 292.5,111.6 289.4,111.0" fill="#717ab3" stroke="#717ab3"/><polygon points="292.5,108.3 295.7,109.0 295.7,109.8 292.5,109.1" fill="#6970ac" stroke="#6970ac"/><polygon points="292.5,109.1 295.7,109.8 295.7,110.6 292.5,109.9" fill="#6970ac" stroke="#6970ac"/><polygon points="292.5,109.9 295.7,110.6 295.7,111.4 292.5,110.8" fill="#6970ac" stroke="#6970ac"/><polygon points="292.5,110.8 295.7,111.4 295.7,112.2 292.5,111.6" fill="#6970ac" stroke="#6970ac"/><polygon points="295.7,109.0 298.8,109.7 298.8,110.5 295.7,109.8" fill="#6065a4" stroke="#6065a4"/><polygon points="295.7,109.8 298.8,110.5 298.8,111.3 295.7,110.6" fill="#6065a4" stroke="#6065a4"/><polygon points="295.7,110.6 298.8,111.3 298.8,112.0 295.7,111.4" fill="#6065a4" stroke="#6065a4"/><polygon points="295.7,111.4 298.8,112.0 298.8,112.8 295.7,112.2" fill="#6065a4" stroke="#6065a4"/><polygon points="298.8,109.7 302.0,110.4 302.0,111.1 298.8,110.5" fill="#58599b" stroke="#58599b"/><polygon points="298.8,110.5 302.0,111.1 302.0,111.9 298.8,111.3" fill="#58599b" stroke="#58599b"/><polygon points="298.8,111.3 302.0,111.9 302.0,112.6 298.8,112.0" fill="#58599b" stroke="#58599b"/><polygon points="298.8,112.0 302.0,112.6 302.0,113.3 298.8,112.8" fill="#58599b" stroke="#58599b"/><polygon points="302.0,110.4 305.1,111.0 305.1,111.7 302.0,111.1" fill="#4f4d93" stroke="#4f4d93"/><polygon points="302.0,111.1 305.1,111.7 305.1,112.4 302.0,111.9" fill="#4f4d93" stroke="#4f4d93"/><polygon points="302.0,111.9 305.1,112.4 305.1,113.2 302.0,112.6" fill="#4f4d93" stroke="#4f4d93"/><polygon points="302.0,112.6 305.1,113.2 305.1,113.9 302.0,113.3" fill="#4f4d93" stroke="#4f4d93"/><polygon points="305.1,111.0 308.2,111.6 308.2,112.3 305.1,111.7" fill="#45418a" stroke="#45418a"/><polygon points="305.1,111.7 308.2,112.3 308.2,113.1 305.1,112.4" fill="#45418a" stroke="#45418a"/><polygon points="305.1,112.4 308.2,113.1 308.2,113.8 305.1,113.2" fill="#45418a" stroke="#45418a"/><polygon points="305.1,113.2 308.2,113.8 308.2,114.6 305.1,113.9" fill="#45418a" stroke="#45418a"/><polygon points="308.2,111.6 311.4,112.2 311.4,113.0 308.2,112.3" fill="#3c3481" stroke="#3c3481"/><polygon points="308.2,112.3 311.4,113.0 311.4,113.8 308.2,113.1" fill="#3c3481" stroke="#3c3481"/><polygon points="308.2,113.1 311.4,113.8 311.4,114.7 308.2,113.8" fill="#3c3481" stroke="#3c3481"/><polygon points="308.2,113.8 311.4,114.7 311.4,115.5 308.2,114.6" fill="#3c3481" stroke="#3c3481"/><polygon points="311.4,112.2 314.5,112.8 314.5,113.8 311.4,113.0" fill="#322777" stroke="#322777"/><polygon points="311.4,113.0 314.5,113.8 314.5,114.7 311.4,113.8" fill="#322777" stroke="#322777"/><polygon points="311.4,113.8 314.5,114.7 314.5,115.7 311.4,114.7" fill="#322777" stroke="#322777"/><polygon points="311.4,114.7 314.5,115.7 314.5,116.7 311.4,115.5" fill="#322777" stroke="#322777"/><polygon points="314.5,112.8 317.7,113.5 317.7,114.6 314.5,113.8" fill="#2c2072" stroke="#2c2072"/><polygon points="314.5,113.8 317.7,114.6 317.7,115.7 314.5,114.7" fill="#2c2072" stroke="#2c2072"/><polygon points="314.5,114.7 317.7,115.7 317.7,116.9 314.5,115.7" fill="#2c2072" stroke="#2c2072"/><polygon points="314.5,115.7 317.7,116.9 317.7,118.0 314.5,116.7" fill="#2c2072" stroke="#2c2072"/><polygon points="317.7,113.5 320.8,114.2 320.8,115.5 317.7,114.6" fill="#2b1f70" stroke="#2b1f70"/><polygon points="317.7,114.6 320.8,115.5 320.8,116.8 317.7,115.7" fill="#2b1f70" stroke="#2b1f70"/><polygon points="317.7,115.7 320.8,116.8 320.8,118.1 317.7,116.9" fill="#2b1f70" stroke="#2b1f70"/><polygon points="317.7,116.9 320.8,118.1 320.8,119.4 317.7,118.0" fill="#2b1f70" stroke="#2b1f70"/><polygon points="320.8,114.2 323.9,115.0 323.9,116.5 320.8,115.5" fill="#2b1e70" stroke="#2b1e70"/><polygon points="320.8,115.5 323.9,116.5 323.9,117.9 320.8,116.8" fill="#2b1e70" stroke="#2b1e70"/><polygon points="320.8,116.8 323.9,117.9 323.9,119.4 320.8,118.1" fill="#2b1e70" stroke="#2b1e70"/><polygon points="320.8,118.1 323.9,119.4 323.9,120.9 320.8,119.4" fill="#2b1e70" stroke="#2b1e70"/><polygon points="323.9,115.0 327.1,115.9 327.1,117.6 323.9,116.5" fill="#2a1e6e" stroke="#2a1e6e"/><polygon points="323.9,116.5 327.1,117.6 327.1,119.2 323.9,117.9" fill="#2a1e6e" stroke="#2a1e6e"/><polygon points="323.9,117.9 327.1,119.2 327.1,120.9 323.9,119.4" fill="#2a1e6e" stroke="#2a1e6e"/><polygon points="323.9,119.4 327.1,120.9 327.1,122.5 323.9,120.9" fill="#2a1e6e" stroke="#2a1e6e"/><polygon points="327.1,115.9 330.2,116.9 330.2,118.7 327.1,117.6" fill="#291d6e" stroke="#291d6e"/><polygon points="327.1,117.6 330.2,118.7 330.2,120.5 327.1,119.2" fill="#291d6e" stroke="#291d6e"/><polygon points="327.1,119.2 330.2,120.5 330.2,122.3 327.1,120.9" fill="#291d6e" stroke="#291d6e"/><polygon points="327.1,120.9 330.2,122.3 330.2,124.1 327.1,122.5" fill="#291d6e" stroke="#291d6e"/><polygon points="330.2,116.9 333.4,117.9 333.4,119.8 330.2,118.7" fill="#281c6c" stroke="#281c6c"/><polygon points="330.2,118.7 333.4,119.8 333.4,121.7 330.2,120.5" fill="#281c6c" stroke="#281c6c"/><polygon points="330.2,120.5 333.4,121.7 333.4,123.6 330.2,122.3" fill="#281c6c" stroke="#281c6c"/><polygon points="330.2,122.3 333.4,123.6 333.4,125.6 330.2,124.1" fill="#281c6c" stroke="#281c6c"/><polygon points="333.4,117.9 336.5,118.9 336.5,120.9 333.4,119.8" fill="#281c6c" stroke="#281c6c"/><polygon points="333.4,119.8 336.5,120.9 336.5,123.0 333.4,121.7" fill="#281c6c" stroke="#281c6c"/><polygon points="333.4,121.7 336.5,123.0 336.5,125.0 333.4,123.6" fill="#281c6c" stroke="#281c6c"/><polygon points="333.4,123.6 336.5,125.0 336.5,127.0 333.4,125.6" fill="#281c6c" stroke="#281c6c"/><polygon points="336.5,118.9 339.6,119.9 339.6,122.1 336.5,120.9" fill="#281c6c" stroke="#281c6c"/><polygon points="336.5,120.9 339.6,122.1 339.6,124.3 336.5,123.0" fill="#281c6c" stroke="#281c6c"/><polygon points="336.5,123.0 339.6,124.3 339.6,126.6 336.5,125.0" fill="#281c6c" stroke="#281c6c"/><polygon points="336.5,125.0 339.6,126.6 339.6,128.8 336.5,127.0" fill="#281c6c" stroke="#281c6c"/><polygon points="339.6,119.9 342.8,120.9 342.8,123.5 339.6,122.1" fill="#281c6c" stroke="#281c6c"/><polygon points="339.6,122.1 342.8,123.5 342.8,126.1 339.6,124.3" fill="#281c6c" stroke="#281c6c"/><polygon points="339.6,124.3 342.8,126.1 342.8,128.7 339.6,126.6" fill="#281c6c" stroke="#281c6c"/><polygon points="339.6,126.6 342.8,128.7 342.8,131.3 339.6,128.8" fill="#281c6c" stroke="#281c6c"/><polygon points="342.8,120.9 345.9,122.0 345.9,125.0 342.8,123.5" fill="#281c6c" stroke="#281c6c"/><polygon points="342.8,123.5 345.9,125.0 345.9,128.0 342.8,126.1" fill="#281c6c" stroke="#281c6c"/><polygon points="342.8,126.1 345.9,128.0 345.9,131.0 342.8,128.7" fill="#281c6c" stroke="#281c6c"/><polygon points="342.8,128.7 345.9,131.0 345.9,133.9 342.8,131.3" fill="#281c6c" stroke="#281c6c"/><polygon points="345.9,122.0 349.1,123.1 349.1,126.2 345.9,125.0" fill="#281c6c" stroke="#281c6c"/><polygon points="345.9,125.0 349.1,126.2 349.1,129.4 345.9,128.0" fill="#281c6c" stroke="#281c6c"/><polygon points="345.9,128.0 349.1,129.4 349.1,132.5 345.9,131.0" fill="#281c6c" stroke="#281c6c"/><polygon points="345.9,131.0 349.1,132.5 349.1,135.7 345.9,133.9" fill="#281c6c" stroke="#281c6c"/><polygon points="349.1,123.1 352.2,124.2 352.2,127.4 349.1,126.2" fill="#281c6c" stroke="#281c6c"/><polygon points="349.1,126.2 352.2,127.4 352.2,130.6 349.1,129.4" fill="#281c6c" stroke="#281c6c"/><polygon points="349.1,129.4 352.2,130.6 352.2,133.8 349.1,132.5" fill="#281c6c" stroke="#281c6c"/><polygon points="349.1,132.5 352.2,133.8 352.2,137.1 349.1,135.7" fill="#281c6c" stroke="#281c6c"/><polygon points="352.2,124.2 355.3,125.3 355.3,128.6 352.2,127.4" fill="#281c6c" stroke="#281c6c"/><polygon points="352.2,127.4 355.3,128.6 355.3,132.0 352.2,130.6" fill="#281c6c" stroke="#281c6c"/><polygon points="352.2,130.6 355.3,132.0 355.3,135.3 352.2,133.8" fill="#281c6c" stroke="#281c6c"/><polygon points="352.2,133.8 355.3,135.3 355.3,138.6 352.2,137.1" fill="#281c6c" stroke="#281c6c"/><polygon points="355.3,125.3 358.5,126.4 358.5,130.0 355.3,128.6" fill="#281c6c" stroke="#281c6c"/><polygon points="355.3,128.6 358.5,130.0 358.5,133.6 355.3,132.0" fill="#281c6c" stroke="#281c6c"/><polygon points="355.3,132.0 358.5,133.6 358.5,137.1 355.3,135.3" fill="#281c6c" stroke="#281c6c"/><polygon points="355.3,135.3 358.5,137.1 358.5,140.7 355.3,138.6" fill="#281c6c" stroke="#281c6c"/><polygon points="358.5,126.4 361.6,127.6 361.6,131.5 358.5,130.0" fill="#281c6c" stroke="#281c6c"/><polygon points="358.5,130.0 361.6,131.5 361.6,135.3 358.5,133.6" fill="#281c6c" stroke="#281c6c"/><polygon points="358.5,133.6 361.6,135.3 361.6,139.2 358.5,137.1" fill="#281c6c" stroke="#281c6c"/><polygon points="358.5,137.1 361.6,139.2 361.6,143.1 358.5,140.7" fill="#281c6c" stroke="#281c6c"/><polygon points="361.6,127.6 364.8,128.7 364.8,133.0 361.6,131.5" fill="#281c6c" stroke="#281c6c"/><polygon points="361.6,131.5 364.8,133.0 364.8,137.2 361.6,135.3" fill="#281c6c" stroke="#281c6c"/><polygon points="361.6,135.3 364.8,137.2 364.8,141.5 361.6,139.2" fill="#281c6c" stroke="#281c6c"/><polygon points="361.6,139.2 364.8,141.5 364.8,145.8 361.6,143.1" fill="#281c6c" stroke="#281c6c"/><polygon points="364.8,128.7 367.9,129.8 367.9,134.6 364.8,133.0" fill="#281c6c" stroke="#281c6c"/><polygon points="364.8,133.0 367.9,134.6 367.9,139.3 364.8,137.2" fill="#281c6c" stroke="#281c6c"/><polygon points="364.8,137.2 367.9,139.3 367.9,144.1 364.8,141.5" fill="#281c6c" stroke="#281c6c"/><polygon points="364.8,141.5 367.9,144.1 367.9,148.9 364.8,145.8" fill="#281c6c" stroke="#281c6c"/><polygon points="367.9,129.8 371.0,130.9 371.0,136.2 367.9,134.6" fill="#281c6c" stroke="#281c6c"/><polygon points="367.9,134.6 371.0,136.2 371.0,141.5 367.9,139.3" fill="#281c6c" stroke="#281c6c"/><polygon points="367.9,139.3 371.0,141.5 371.0,146.8 367.9,144.1" fill="#281c6c" stroke="#281c6c"/><polygon points="367.9,144.1 371.0,146.8 371.0,152.1 367.9,148.9" fill="#281c6c" stroke="#281c6c"/><polygon points="371.0,130.9 374.2,132.1 374.2,137.8 371.0,136.2" fill="#281c6c" stroke="#281c6c"/><polygon points="371.0,136.2 374.2,137.8 374.2,143.5 371.0,141.5" fill="#281c6c" stroke="#281c6c"/><polygon points="371.0,141.5 374.2,143.5 374.2,149.1 371.0,146.8" fill="#281c6c" stroke="#281c6c"/><polygon points="371.0,146.8 374.2,149.1 374.2,154.8 371.0,152.1" fill="#281c6c" stroke="#281c6c"/><polygon points="374.2,132.1 377.3,133.4 377.3,139.3 374.2,137.8" fill="#281c6c" stroke="#281c6c"/><polygon points="374.2,137.8 377.3,139.3 377.3,145.3 374.2,143.5" fill="#281c6c" stroke="#281c6c"/><polygon points="374.2,143.5 377.3,145.3 377.3,151.2 374.2,149.1" fill="#281c6c" stroke="#281c6c"/><polygon points="374.2,149.1 377.3,151.2 377.3,157.2 374.2,154.8" fill="#281c6c" stroke="#281c6c"/><polygon points="377.3,133.4 380.5,134.8 380.5,141.0 377.3,139.3" fill="#281c6c" stroke="#281c6c"/><polygon points="377.3,139.3 380.5,141.0 380.5,147.2 377.3,145.3" fill="#281c6c" stroke="#281c6c"/><polygon points="377.3,145.3 380.5,147.2 380.5,153.4 377.3,151.2" fill="#281c6c" stroke="#281c6c"/><polygon points="377.3,151.2 380.5,153.4 380.5,159.6 377.3,157.2" fill="#281c6c" stroke="#281c6c"/><polygon points="380.5,134.8 383.6,136.3 383.6,142.9 380.5,141.0" fill="#281c6c" stroke="#281c6c"/><polygon points="380.5,141.0 383.6,142.9 383.6,149.4 380.5,147.2" fill="#281c6c" stroke="#281c6c"/><polygon points="380.5,147.2 383.6,149.4 383.6,155.9 380.5,153.4" fill="#281c6c" stroke="#281c6c"/><polygon points="380.5,153.4 383.6,155.9 383.6,162.5 380.5,159.6" fill="#281c6c" stroke="#281c6c"/><polygon points="383.6,136.3 386.7,138.2 386.7,145.0 383.6,142.9" fill="#281c6c" stroke="#281c6c"/><polygon points="383.6,142.9 386.7,145.0 386.7,151.9 383.6,149.4" fill="#281c6c" stroke="#281c6c"/><polygon points="383.6,149.4 386.7,151.9 386.7,158.7 383.6,155.9" fill="#281c6c" stroke="#281c6c"/><polygon points="383.6,155.9 386.7,158.7 386.7,165.6 383.6,162.5" fill="#281c6c" stroke="#281c6c"/><polygon points="386.7,138.2 389.9,140.1 389.9,147.0 386.7,145.0" fill="#281c6c" stroke="#281c6c"/><polygon points="386.7,145.0 389.9,147.0 389.9,154.0 386.7,151.9" fill="#281c6c" stroke="#281c6c"/><polygon points="386.7,151.9 389.9,154.0 389.9,161.0 386.7,158.7" fill="#281c6c" stroke="#281c6c"/><polygon points="386.7,158.7 389.9,161.0 389.9,167.9 386.7,165.6" fill="#281c6c" stroke="#281c6c"/><polygon points="389.9,140.1 393.0,141.9 393.0,148.8 389.9,147.0" fill="#281c6c" stroke="#281c6c"/><polygon points="389.9,147.0 393.0,148.8 393.0,155.7 389.9,154.0" fill="#281c6c" stroke="#281c6c"/><polygon points="389.9,154.0 393.0,155.7 393.0,162.5 389.9,161.0" fill="#281c6c" stroke="#281c6c"/><polygon points="389.9,161.0 393.0,162.5 393.0,169.4 389.9,167.9" fill="#281c6c" stroke="#281c6c"/><polygon points="393.0,141.9 396.2,143.6 396.2,150.3 393.0,148.8" fill="#281c6c" stroke="#281c6c"/><polygon points="393.0,148.8 396.2,150.3 396.2,157.1 393.0,155.7" fill="#281c6c" stroke="#281c6c"/><polygon points="393.0,155.7 396.2,157.1 396.2,163.9 393.0,162.5" fill="#281c6c" stroke="#281c6c"/><polygon points="393.0,162.5 396.2,163.9 396.2,170.6 393.0,169.4" fill="#281c6c" stroke="#281c6c"/><polygon points="396.2,143.6 399.3,145.1 399.3,151.7 396.2,150.3" fill="#281c6c" stroke="#281c6c"/><polygon points="396.2,150.3 399.3,151.7 399.3,158.2 396.2,157.1" fill="#281c6c" stroke="#281c6c"/><polygon points="396.2,157.1 399.3,158.2 399.3,164.8 396.2,163.9" fill="#281c6c" stroke="#281c6c"/><polygon points="396.2,163.9 399.3,164.8 399.3,171.4 396.2,170.6" fill="#281c6c" stroke="#281c6c"/><polygon points="399.3,145.1 402.4,146.5 402.4,152.8 399.3,151.7" fill="#281c6c" stroke="#281c6c"/><polygon points="399.3,151.7 402.4,152.8 402.4,159.0 399.3,158.2" fill="#281c6c" stroke="#281c6c"/><polygon points="399.3,158.2 402.4,159.0 402.4,165.2 399.3,164.8" fill="#281c6c" stroke="#281c6c"/><polygon points="399.3,164.8 402.4,165.2 402.4,171.5 399.3,171.4" fill="#281c6c" stroke="#281c6c"/><polygon points="402.4,146.5 405.6,147.9 405.6,153.7 402.4,152.8" fill="#281c6c" stroke="#281c6c"/><polygon points="402.4,152.8 405.6,153.7 405.6,159.6 402.4,159.0" fill="#281c6c" stroke="#281c6c"/><polygon points="402.4,159.0 405.6,159.6 405.6,165.4 402.4,165.2" fill="#281c6c" stroke="#281c6c"/><polygon points="402.4,165.2 405.6,165.4 405.6,171.3 402.4,171.5" fill="#281c6c" stroke="#281c6c"/><polygon points="405.6,147.9 408.7,149.3 408.7,154.7 405.6,153.7" fill="#281c6c" stroke="#281c6c"/><polygon points="405.6,153.7 408.7,154.7 408.7,160.1 405.6,159.6" fill="#281c6c" stroke="#281c6c"/><polygon points="405.6,159.6 408.7,160.1 408.7,165.5 405.6,165.4" fill="#281c6c" stroke="#281c6c"/><polygon points="405.6,165.4 408.7,165.5 408.7,170.9 405.6,171.3" fill="#281c6c" stroke="#281c6c"/><polygon points="408.7,149.3 411.9,150.6 411.9,155.6 408.7,154.7" fill="#281c6c" stroke="#281c6c"/><polygon points="408.7,154.7 411.9,155.6 411.9,160.5 408.7,160.1" fill="#281c6c" stroke="#281c6c"/><polygon points="408.7,160.1 411.9,160.5 411.9,165.5 408.7,165.5" fill="#281c6c" stroke="#281c6c"/><polygon points="408.7,165.5 411.9,165.5 411.9,170.5 408.7,170.9" fill="#281c6c" stroke="#281c6c"/><polygon points="411.9,150.6 415.0,152.0 415.0,156.5 411.9,155.6" fill="#281c6c" stroke="#281c6c"/><polygon points="411.9,155.6 415.0,156.5 415.0,161.0 411.9,160.5" fill="#281c6c" stroke="#281c6c"/><polygon points="411.9,160.5 415.0,161.0 415.0,165.5 411.9,165.5" fill="#281c6c" stroke="#281c6c"/><polygon points="411.9,165.5 415.0,165.5 415.0,170.0 411.9,170.5" fill="#281c6c" stroke="#281c6c"/><polygon points="415.0,152.0 418.1,153.4 418.1,157.4 415.0,156.5" fill="#281c6c" stroke="#281c6c"/><polygon points="415.0,156.5 418.1,157.4 418.1,161.4 415.0,161.0" fill="#281c6c" stroke="#281c6c"/><polygon points="415.0,161.0 418.1,161.4 418.1,165.4 415.0,165.5" fill="#281c6c" stroke="#281c6c"/><polygon points="415.0,165.5 418.1,165.4 418.1,169.4 415.0,170.0" fill="#281c6c" stroke="#281c6c"/><polygon points="418.1,153.4 421.3,154.8 421.3,158.3 418.1,157.4" fill="#281c6c" stroke="#281c6c"/><polygon points="418.1,157.4 421.3,158.3 421.3,161.8 418.1,161.4" fill="#281c6c" stroke="#281c6c"/><polygon points="418.1,161.4 421.3,161.8 421.3,165.2 418.1,165.4" fill="#281c6c" stroke="#281c6c"/><polygon points="418.1,165.4 421.3,165.2 421.3,168.7 418.1,169.4" fill="#281c6c" stroke="#281c6c"/><polygon points="421.3,154.8 424.4,156.3 424.4,159.2 421.3,158.3" fill="#281c6c" stroke="#281c6c"/><polygon points="421.3,158.3 424.4,159.2 424.4,162.2 421.3,161.8" fill="#281c6c" stroke="#281c6c"/><polygon points="421.3,161.8 424.4,162.2 424.4,165.1 421.3,165.2" fill="#281c6c" stroke="#281c6c"/><polygon points="421.3,165.2 424.4,165.1 424.4,168.1 421.3,168.7" fill="#281c6c" stroke="#281c6c"/><polygon points="424.4,156.3 427.6,157.7 427.6,160.2 424.4,159.2" fill="#281c6c" stroke="#281c6c"/><polygon points="424.4,159.2 427.6,160.2 427.6,162.7 424.4,162.2" fill="#281c6c" stroke="#281c6c"/><polygon points="424.4,162.2 427.6,162.7 427.6,165.2 424.4,165.1" fill="#281c6c" stroke="#281c6c"/><polygon points="424.4,165.1 427.6,165.2 427.6,167.6 424.4,168.1" fill="#281c6c" stroke="#281c6c"/><polygon points="427.6,157.7 430.7,159.1 430.7,161.1 427.6,160.2" fill="#281c6c" stroke="#281c6c"/><polygon points="427.6,160.2 430.7,161.1 430.7,163.2 427.6,162.7" fill="#281c6c" stroke="#281c6c"/><polygon points="427.6,162.7 430.7,163.2 430.7,165.2 427.6,165.2" fill="#281c6c" stroke="#281c6c"/><polygon points="427.6,165.2 430.7,165.2 430.7,167.2 427.6,167.6" fill="#281c6c" stroke="#281c6c"/><polygon points="430.7,159.1 433.8,160.5 433.8,162.1 430.7,161.1" fill="#281c6c" stroke="#281c6c"/><polygon points="430.7,161.1 433.8,162.1 433.8,163.7 430.7,163.2" fill="#281c6c" stroke="#281c6c"/><polygon points="430.7,163.2 433.8,163.7 433.8,165.2 430.7,165.2" fill="#281c6c" stroke="#281c6c"/><polygon points="430.7,165.2 433.8,165.2 433.8,166.8 430.7,167.2" fill="#281c6c" stroke="#281c6c"/><polygon points="433.8,160.5 437.0,161.9 437.0,163.0 433.8,162.1" fill="#281c6c" stroke="#281c6c"/><polygon points="433.8,162.1 437.0,163.0 437.0,164.2 433.8,163.7" fill="#281c6c" stroke="#281c6c"/><polygon points="433.8,163.7 437.0,164.2 437.0,165.3 433.8,165.2" fill="#281c6c" stroke="#281c6c"/><polygon points="433.8,165.2 437.0,165.3 437.0,166.5 433.8,166.8" fill="#281c6c" stroke="#281c6c"/><polygon points="437.0,161.9 440.1,163.2 440.1,163.9 437.0,163.0" fill="#281c6c" stroke="#281c6c"/><polygon points="437.0,163.0 440.1,163.9 440.1,164.7 437.0,164.2" fill="#281c6c" stroke="#281c6c"/><polygon points="437.0,164.2 440.1,164.7 440.1,165.4 437.0,165.3" fill="#281c6c" stroke="#281c6c"/><polygon points="437.0,165.3 440.1,165.4 440.1,166.2 437.0,166.5" fill="#281c6c" stroke="#281c6c"/><polygon points="440.1,163.2 443.3,164.5 443.3,164.9 440.1,163.9" fill="#281c6c" stroke="#281c6c"/><polygon points="440.1,163.9 443.3,164.9 443.3,165.2 440.1,164.7" fill="#281c6c" stroke="#281c6c"/><polygon points="440.1,164.7 443.3,165.2 443.3,165.6 440.1,165.4" fill="#281c6c" stroke="#281c6c"/><polygon points="440.1,165.4 443.3,165.6 443.3,166.0 440.1,166.2" fill="#281c6c" stroke="#281c6c"/><polygon points="443.3,164.5 446.4,165.8 446.4,165.8 443.3,164.9" fill="#281c6c" stroke="#281c6c"/><polygon points="443.3,164.9 446.4,165.8 446.4,165.8 443.3,165.2" fill="#281c6c" stroke="#281c6c"/><polygon points="443.3,165.2 446.4,165.8 446.4,165.8 443.3,165.6" fill="#281c6c" stroke="#281c6c"/><polygon points="443.3,165.6 446.4,165.8 446.4,165.8 443.3,166.0" fill="#281c6c" stroke="#281c6c"/></g><g stroke="#0b1622" stroke-width="0.62" fill="none" stroke-linejoin="round" stroke-linecap="round"><polyline points="258.0,102.3 261.1,102.6 264.3,103.0 267.4,103.5 270.6,103.9 273.7,104.4 276.8,105.0 280.0,105.5 283.1,106.1 286.3,106.8 289.4,107.5 292.5,108.3 295.7,109.0 298.8,109.7 302.0,110.4 305.1,111.0 308.2,111.6 311.4,112.2 314.5,112.8 317.7,113.5 320.8,114.2 323.9,115.0 327.1,115.9 330.2,116.9 333.4,117.9 336.5,118.9 339.6,119.9 342.8,120.9 345.9,122.0 349.1,123.1 352.2,124.2 355.3,125.3 358.5,126.4 361.6,127.6 364.8,128.7 367.9,129.8 371.0,130.9 374.2,132.1 377.3,133.4 380.5,134.8 383.6,136.3 386.7,138.2 389.9,140.1 393.0,141.9 396.2,143.6 399.3,145.1 402.4,146.5 405.6,147.9 408.7,149.3 411.9,150.6 415.0,152.0 418.1,153.4 421.3,154.8 424.4,156.3 427.6,157.7 430.7,159.1 433.8,160.5 437.0,161.9 440.1,163.2 443.3,164.5 446.4,165.8"/><polyline points="258.0,104.1 261.1,104.4 264.3,104.7 267.4,105.1 270.6,105.5 317.7,115.0 320.8,115.9 323.9,117.0 327.1,118.1 330.2,119.3 333.4,120.4 336.5,121.6 339.6,122.8 342.8,124.4 345.9,126.0 349.1,127.3 352.2,128.5 355.3,129.7 358.5,131.2 361.6,132.8 364.8,134.4 367.9,136.2 371.0,138.0 374.2,139.7 377.3,141.3 380.5,143.0 383.6,145.0 386.7,147.3 389.9,149.4 393.0,151.1 396.2,152.6 399.3,153.9 402.4,154.8 405.6,155.7 408.7,156.5 411.9,157.2 415.0,158.0 418.1,158.8 421.3,159.5 424.4,160.2 427.6,161.0 430.7,161.8 433.8,162.6 437.0,163.4"/><polyline points="258.0,105.8 261.1,106.1 264.3,106.3 267.4,106.7 270.6,107.0 317.7,116.5 320.8,117.6 323.9,118.9 327.1,120.3 330.2,121.7 333.4,123.0 336.5,124.3 339.6,125.8 342.8,127.8 345.9,130.0 349.1,131.5 352.2,132.8 355.3,134.2 358.5,135.9 361.6,137.9 364.8,140.1 367.9,142.5 371.0,145.1 374.2,147.2 377.3,149.2 380.5,151.3 383.6,153.7 386.7,156.5 389.9,158.7 393.0,160.2 396.2,161.6 399.3,162.6 402.4,163.2 405.6,163.5 408.7,163.7 411.9,163.8 415.0,164.0 418.1,164.1 421.3,164.1 424.4,164.2 427.6,164.3 430.7,164.5 433.8,164.7 437.0,164.9"/><polyline points="258.0,107.6 261.1,107.8 264.3,108.0 267.4,108.3 270.6,108.6 273.7,108.9 276.8,109.2 280.0,109.6 283.1,110.0 286.3,110.5 314.5,116.7 317.7,118.0 320.8,119.4 323.9,120.9 327.1,122.5 330.2,124.1 333.4,125.6 336.5,127.0 339.6,128.8 342.8,131.3 345.9,133.9 349.1,135.7 352.2,137.1 355.3,138.6 358.5,140.7 361.6,143.1 364.8,145.8 367.9,148.9 371.0,152.1 374.2,154.8 377.3,157.2 380.5,159.6 383.6,162.5 386.7,165.6 389.9,167.9 393.0,169.4 396.2,170.6 399.3,171.4 402.4,171.5 405.6,171.3 408.7,170.9 411.9,170.5 415.0,170.0 418.1,169.4 421.3,168.7 424.4,168.1 427.6,167.6 430.7,167.2 433.8,166.8 437.0,166.5"/><line x1="307.0" y1="111.4" x2="306.0" y2="114.3"/><line x1="330.0" y1="116.8" x2="329.0" y2="124.0"/><line x1="352.0" y1="124.1" x2="351.0" y2="137.0"/><line x1="375.0" y1="132.4" x2="374.0" y2="155.4"/><line x1="399.0" y1="144.9" x2="398.0" y2="171.3"/><line x1="424.0" y1="156.1" x2="423.0" y2="168.2"/></g>
<g><path d="M111,171.6 Q118.5,175 122,186.7 Q123.5,174 129.5,163.5 Z" fill="url(#sp1)"/><path d="M140,150.2 Q142.5,151 143.2,154 Q143.8,150.5 146,146.5 Z" fill="#c04898"/><path d="M255.2,107 Q259,112 260,128.8 Q261.2,112 265,107 Z" fill="url(#sp2)"/><path d="M379,158 Q385,170 387.6,187.4 Q389,176 394,170 Z" fill="#281c6c"/><path d="M371.5,152 Q373.5,154 374.3,158.5 Q375,155 377,156 Z" fill="#281c6c"/><path d="M404,171 L409,174 L413,170.5 Z" fill="#281c6c"/></g>
<g stroke="#7d8790" stroke-width="0.8" fill="none" opacity="0.55"><line x1="51.4" y1="77.0" x2="458.4" y2="77.0"/></g>
<g stroke="#000" stroke-width="1.3"><line x1="0" y1="284.5" x2="500" y2="284.5"/><line x1="0" y1="579.7" x2="500" y2="579.7"/></g>
<g stroke="#7d8790" stroke-width="0.9" fill="none"><line x1="1.7" y1="470.9" x2="1.0" y2="335.8"/><line x1="1.0" y1="335.8" x2="332.3" y2="328.4"/><line x1="332.3" y1="328.4" x2="331.3" y2="460.9"/><line x1="1.7" y1="470.9" x2="331.3" y2="460.9"/><line x1="1.7" y1="470.9" x2="61.7" y2="526.9"/><line x1="331.3" y1="460.9" x2="421.9" y2="514.7"/><line x1="61.7" y1="526.9" x2="421.9" y2="514.7"/><line x1="421.9" y1="514.7" x2="423.6" y2="369.6"/><line x1="423.6" y1="369.6" x2="332.3" y2="328.4"/><line x1="95.1" y1="525.8" x2="95.1" y2="522.3"/><line x1="184.4" y1="522.8" x2="184.4" y2="519.3"/><line x1="272.7" y1="519.8" x2="272.7" y2="516.3"/><line x1="357.5" y1="516.9" x2="357.5" y2="513.4"/><line x1="421.9" y1="512.2" x2="417.9" y2="512.2"/><line x1="422.3" y1="477.7" x2="418.3" y2="477.7"/><line x1="422.7" y1="443.1" x2="418.7" y2="443.1"/><line x1="423.1" y1="408.2" x2="419.1" y2="408.2"/><line x1="423.5" y1="374.0" x2="419.5" y2="374.0"/><line x1="333.6" y1="329.0" x2="333.6" y2="332.5"/><line x1="375.8" y1="348.1" x2="375.8" y2="351.6"/><line x1="422.6" y1="369.2" x2="422.6" y2="372.7"/></g>
<g stroke="#0b1622" stroke-width="0.62" stroke-linejoin="round"><polygon points="314.4,454.4 334.1,458.4 329.1,458.4 309.5,455.0" fill="#2b1d75"/>
<polygon points="294.7,450.7 314.4,454.4 309.5,455.0 289.9,451.9" fill="#2b1d75"/>
<polygon points="274.9,447.4 294.7,450.7 289.9,451.9 270.2,449.0" fill="#2b1d75"/>
<polygon points="255.0,444.5 274.9,447.4 270.2,449.0 250.4,446.6" fill="#2b1d75"/>
<polygon points="319.4,454.2 339.1,458.7 334.1,458.4 314.4,454.4" fill="#2b1d75"/>
<polygon points="235.1,442.1 255.0,444.5 250.4,446.6 230.6,444.7" fill="#2b1d75"/>
<polygon points="215.2,440.4 235.1,442.1 230.6,444.7 210.8,443.3" fill="#2b1d75"/>
<polygon points="299.5,450.0 319.4,454.2 314.4,454.4 294.7,450.7" fill="#2b1d75"/>
<polygon points="195.1,439.5 215.2,440.4 210.8,443.3 190.8,442.7" fill="#2b1d75"/>
<polygon points="279.6,446.1 299.5,450.0 294.7,450.7 274.9,447.4" fill="#2b1d75"/>
<polygon points="175.1,439.5 195.1,439.5 190.8,442.7 170.9,442.8" fill="#2c1d75"/>
<polygon points="259.7,442.6 279.6,446.1 274.9,447.4 255.0,444.5" fill="#2b1d75"/>
<polygon points="155.0,440.5 175.1,439.5 170.9,442.8 150.9,443.7" fill="#2d1d75"/>
<polygon points="324.4,454.3 344.3,459.3 339.1,458.7 319.4,454.2" fill="#2b1d75"/>
<polygon points="239.7,439.8 259.7,442.6 255.0,444.5 235.1,442.1" fill="#2b1d75"/>
<polygon points="134.8,442.4 155.0,440.5 150.9,443.7 130.8,445.4" fill="#2e1d75"/>
<polygon points="304.4,449.6 324.4,454.3 319.4,454.2 299.5,450.0" fill="#2b1d75"/>
<polygon points="219.6,437.7 239.7,439.8 235.1,442.1 215.2,440.4" fill="#2b1d75"/>
<polygon points="114.6,445.2 134.8,442.4 130.8,445.4 110.7,447.9" fill="#2e1d75"/>
<polygon points="199.5,436.5 219.6,437.7 215.2,440.4 195.1,439.5" fill="#2b1d75"/>
<polygon points="284.5,445.2 304.4,449.6 299.5,450.0 279.6,446.1" fill="#2b1d75"/>
<polygon points="94.3,448.7 114.6,445.2 110.7,447.9 90.5,450.9" fill="#2f1d75"/>
<polygon points="179.3,436.4 199.5,436.5 195.1,439.5 175.1,439.5" fill="#2c1d75"/>
<polygon points="264.4,441.2 284.5,445.2 279.6,446.1 259.7,442.6" fill="#2b1d75"/>
<polygon points="74.0,452.8 94.3,448.7 90.5,450.9 70.3,454.5" fill="#2f1d75"/>
<polygon points="159.1,437.5 179.3,436.4 175.1,439.5 155.0,440.5" fill="#2d1d75"/>
<polygon points="53.6,457.4 74.0,452.8 70.3,454.5 50.1,458.5" fill="#301d75"/>
<polygon points="329.4,454.8 349.4,460.3 344.3,459.3 324.4,454.3" fill="#2b1d75"/>
<polygon points="244.3,437.9 264.4,441.2 259.7,442.6 239.7,439.8" fill="#2b1d75"/>
<polygon points="33.2,462.3 53.6,457.4 50.1,458.5 29.8,462.9" fill="#301d75"/>
<polygon points="138.8,439.7 159.1,437.5 155.0,440.5 134.8,442.4" fill="#2e1d75"/>
<polygon points="309.4,449.7 329.4,454.8 324.4,454.3 304.4,449.6" fill="#2b1d75"/>
<polygon points="224.1,435.3 244.3,437.9 239.7,439.8 219.6,437.7" fill="#2b1d75"/>
<polygon points="12.8,467.5 33.2,462.3 29.8,462.9 9.5,467.5" fill="#548cf0"/>
<polygon points="118.5,442.9 138.8,439.7 134.8,442.4 114.6,445.2" fill="#2f1d75"/>
<polygon points="203.9,433.8 224.1,435.3 219.6,437.7 199.5,436.5" fill="#2b1d75"/>
<polygon points="289.3,444.8 309.4,449.7 304.4,449.6 284.5,445.2" fill="#2b1d75"/>
<polygon points="98.1,446.9 118.5,442.9 114.6,445.2 94.3,448.7" fill="#2f1d75"/>
<polygon points="183.6,433.5 203.9,433.8 199.5,436.5 179.3,436.4" fill="#2c1d75"/>
<polygon points="269.2,440.3 289.3,444.8 284.5,445.2 264.4,441.2" fill="#2b1d75"/>
<polygon points="77.7,451.5 98.1,446.9 94.3,448.7 74.0,452.8" fill="#301d75"/>
<polygon points="163.3,434.7 183.6,433.5 179.3,436.4 159.1,437.5" fill="#2d1d75"/>
<polygon points="57.2,456.5 77.7,451.5 74.0,452.8 53.6,457.4" fill="#301d75"/>
<polygon points="334.6,455.9 354.6,461.7 349.4,460.3 329.4,454.8" fill="#2b1d75"/>
<polygon points="249.0,436.4 269.2,440.3 264.4,441.2 244.3,437.9" fill="#2b1d75"/>
<polygon points="36.7,462.0 57.2,456.5 53.6,457.4 33.2,462.3" fill="#548cf0"/>
<polygon points="142.9,437.3 163.3,434.7 159.1,437.5 138.8,439.7" fill="#2e1d75"/>
<polygon points="314.4,450.3 334.6,455.9 329.4,454.8 309.4,449.7" fill="#2b1d75"/>
<polygon points="228.7,433.2 249.0,436.4 244.3,437.9 224.1,435.3" fill="#2b1d75"/>
<polygon points="16.2,467.8 36.7,462.0 33.2,462.3 12.8,467.5" fill="#548cf0"/>
<polygon points="122.4,440.9 142.9,437.3 138.8,439.7 118.5,442.9" fill="#2f1d75"/>
<polygon points="294.2,444.9 314.4,450.3 309.4,449.7 289.3,444.8" fill="#2b1d75"/>
<polygon points="208.3,431.3 228.7,433.2 224.1,435.3 203.9,433.8" fill="#2b1d75"/>
<polygon points="101.9,445.4 122.4,440.9 118.5,442.9 98.1,446.9" fill="#301d75"/>
<polygon points="187.9,430.9 208.3,431.3 203.9,433.8 183.6,433.5" fill="#2c1d75"/>
<polygon points="274.0,440.0 294.2,444.9 289.3,444.8 269.2,440.3" fill="#2b1d75"/>
<polygon points="81.4,450.5 101.9,445.4 98.1,446.9 77.7,451.5" fill="#301d75"/>
<polygon points="339.7,457.4 359.9,463.5 354.6,461.7 334.6,455.9" fill="#9bdaf6"/>
<polygon points="60.8,456.1 81.4,450.5 77.7,451.5 57.2,456.5" fill="#548cf0"/>
<polygon points="167.5,432.2 187.9,430.9 183.6,433.5 163.3,434.7" fill="#2d1d75"/>
<polygon points="253.7,435.5 274.0,440.0 269.2,440.3 249.0,436.4" fill="#2b1d75"/>
<polygon points="40.2,462.1 60.8,456.1 57.2,456.5 36.7,462.0" fill="#548cf0"/>
<polygon points="147.0,435.2 167.5,432.2 163.3,434.7 142.9,437.3" fill="#2e1d75"/>
<polygon points="319.5,451.5 339.7,457.4 334.6,455.9 314.4,450.3" fill="#2b1d75"/>
<polygon points="233.3,431.7 253.7,435.5 249.0,436.4 228.7,433.2" fill="#2b1d75"/>
<polygon points="19.6,468.4 40.2,462.1 36.7,462.0 16.2,467.8" fill="#548cf1"/>
<polygon points="126.4,439.3 147.0,435.2 142.9,437.3 122.4,440.9" fill="#2f1d75"/>
<polygon points="299.2,445.8 319.5,451.5 314.4,450.3 294.2,444.9" fill="#2b1d75"/>
<polygon points="212.8,429.1 233.3,431.7 228.7,433.2 208.3,431.3" fill="#2b1d75"/>
<polygon points="105.8,444.4 126.4,439.3 122.4,440.9 101.9,445.4" fill="#301d75"/>
<polygon points="278.8,440.4 299.2,445.8 294.2,444.9 274.0,440.0" fill="#2b1d75"/>
<polygon points="192.3,428.4 212.8,429.1 208.3,431.3 187.9,430.9" fill="#2b1d75"/>
<polygon points="85.2,450.1 105.8,444.4 101.9,445.4 81.4,450.5" fill="#548cf0"/>
<polygon points="345.0,459.5 365.2,465.9 359.9,463.5 339.7,457.4" fill="#9edff7"/>
<polygon points="64.5,456.2 85.2,450.1 81.4,450.5 60.8,456.1" fill="#548cf0"/>
<polygon points="171.8,430.0 192.3,428.4 187.9,430.9 167.5,432.2" fill="#2d1d75"/>
<polygon points="258.4,435.3 278.8,440.4 274.0,440.0 253.7,435.5" fill="#2b1d75"/>
<polygon points="43.8,462.6 64.5,456.2 60.8,456.1 40.2,462.1" fill="#548cf1"/>
<polygon points="151.1,433.5 171.8,430.0 167.5,432.2 147.0,435.2" fill="#2f1d75"/>
<polygon points="324.6,453.4 345.0,459.5 339.7,457.4 319.5,451.5" fill="#9cddf7"/>
<polygon points="237.9,430.8 258.4,435.3 253.7,435.5 233.3,431.7" fill="#2b1d75"/>
<polygon points="23.0,469.4 43.8,462.6 40.2,462.1 19.6,468.4" fill="#548cf1"/>
<polygon points="130.5,438.4 151.1,433.5 147.0,435.2 126.4,439.3" fill="#301d75"/>
<polygon points="304.2,447.5 324.6,453.4 319.5,451.5 299.2,445.8" fill="#9adaf7"/>
<polygon points="217.4,427.4 237.9,430.8 233.3,431.7 212.8,429.1" fill="#2b1d75"/>
<polygon points="109.8,444.0 130.5,438.4 126.4,439.3 105.8,444.4" fill="#548cf0"/>
<polygon points="283.8,441.8 304.2,447.5 299.2,445.8 278.8,440.4" fill="#98d6f6"/>
<polygon points="196.8,426.1 217.4,427.4 212.8,429.1 192.3,428.4" fill="#2b1d75"/>
<polygon points="89.0,450.2 109.8,444.0 105.8,444.4 85.2,450.1" fill="#548cf0"/>
<polygon points="350.2,462.3 370.6,468.7 365.2,465.9 345.0,459.5" fill="#a1e4f8"/>
<polygon points="68.2,456.8 89.0,450.2 85.2,450.1 64.5,456.2" fill="#548cf1"/>
<polygon points="176.1,428.1 196.8,426.1 192.3,428.4 171.8,430.0" fill="#2d1d75"/>
<polygon points="263.2,436.3 283.8,441.8 278.8,440.4 258.4,435.3" fill="#2b1d75"/>
<polygon points="47.4,463.7 68.2,456.8 64.5,456.2 43.8,462.6" fill="#548cf1"/>
<polygon points="329.8,456.1 350.2,462.3 345.0,459.5 324.6,453.4" fill="#a0e3f8"/>
<polygon points="155.4,432.6 176.1,428.1 171.8,430.0 151.1,433.5" fill="#2f1d75"/>
<polygon points="242.6,431.1 263.2,436.3 258.4,435.3 237.9,430.8" fill="#2b1d75"/>
<polygon points="26.5,470.8 47.4,463.7 43.8,462.6 23.0,469.4" fill="#548cf1"/>
<polygon points="134.6,438.2 155.4,432.6 151.1,433.5 130.5,438.4" fill="#548cf0"/>
<polygon points="309.3,450.1 329.8,456.1 324.6,453.4 304.2,447.5" fill="#9fe1f8"/>
<polygon points="222.0,426.5 242.6,431.1 237.9,430.8 217.4,427.4" fill="#2b1d75"/>
<polygon points="113.8,444.4 134.6,438.2 130.5,438.4 109.8,444.0" fill="#548cf1"/>
<polygon points="288.7,444.2 309.3,450.1 304.2,447.5 283.8,441.8" fill="#9ddff7"/>
<polygon points="92.9,451.1 113.8,444.4 109.8,444.0 89.0,450.2" fill="#548cf1"/>
<polygon points="201.2,424.1 222.0,426.5 217.4,427.4 196.8,426.1" fill="#2b1d75"/>
<polygon points="355.6,465.7 376.0,472.1 370.6,468.7 350.2,462.3" fill="#a4e9f8"/>
<polygon points="72.0,458.0 92.9,451.1 89.0,450.2 68.2,456.8" fill="#548cf1"/>
<polygon points="268.1,438.5 288.7,444.2 283.8,441.8 263.2,436.3" fill="#9cddf7"/>
<polygon points="180.5,427.1 201.2,424.1 196.8,426.1 176.1,428.1" fill="#2e1d75"/>
<polygon points="51.0,465.3 72.0,458.0 68.2,456.8 47.4,463.7" fill="#548cf2"/>
<polygon points="335.0,459.6 355.6,465.7 350.2,462.3 329.8,456.1" fill="#a3e8f8"/>
<polygon points="159.6,432.7 180.5,427.1 176.1,428.1 155.4,432.6" fill="#548cf0"/>
<polygon points="247.4,433.0 268.1,438.5 263.2,436.3 242.6,431.1" fill="#99daf7"/>
<polygon points="30.0,472.7 51.0,465.3 47.4,463.7 26.5,470.8" fill="#548cf2"/>
<polygon points="138.7,439.1 159.6,432.7 155.4,432.6 134.6,438.2" fill="#548cf1"/>
<polygon points="314.4,453.6 335.0,459.6 329.8,456.1 309.3,450.1" fill="#a3e8f9"/>
<polygon points="226.6,427.7 247.4,433.0 242.6,431.1 222.0,426.5" fill="#95d4f6"/>
<polygon points="117.8,445.8 138.7,439.1 134.6,438.2 113.8,444.4" fill="#548df2"/>
<polygon points="293.7,447.8 314.4,453.6 309.3,450.1 288.7,444.2" fill="#a2e8f9"/>
<polygon points="96.8,452.8 117.8,445.8 113.8,444.4 92.9,451.1" fill="#548ef2"/>
<polygon points="205.8,422.6 226.6,427.7 222.0,426.5 201.2,424.1" fill="#2b1d75"/>
<polygon points="360.9,469.8 381.5,476.1 376.0,472.1 355.6,465.7" fill="#a6edf9"/>
<polygon points="75.8,460.0 96.8,452.8 92.9,451.1 72.0,458.0" fill="#548ff2"/>
<polygon points="273.0,442.2 293.7,447.8 288.7,444.2 268.1,438.5" fill="#a2e8f9"/>
<polygon points="184.9,428.1 205.8,422.6 201.2,424.1 180.5,427.1" fill="#588ff1"/>
<polygon points="54.7,467.5 75.8,460.0 72.0,458.0 51.0,465.3" fill="#548ff2"/>
<polygon points="340.3,463.8 360.9,469.8 355.6,465.7 335.0,459.6" fill="#a6edf9"/>
<polygon points="163.9,434.6 184.9,428.1 180.5,427.1 159.6,432.7" fill="#5692f2"/>
<polygon points="252.2,437.0 273.0,442.2 268.1,438.5 247.4,433.0" fill="#a1e8f9"/>
<polygon points="33.6,475.1 54.7,467.5 51.0,465.3 30.0,472.7" fill="#548ff2"/>
<polygon points="142.9,441.3 163.9,434.6 159.6,432.7 138.7,439.1" fill="#5794f3"/>
<polygon points="319.6,458.0 340.3,463.8 335.0,459.6 314.4,453.6" fill="#a6eef9"/>
<polygon points="231.3,432.4 252.2,437.0 247.4,433.0 226.6,427.7" fill="#a2eaf9"/>
<polygon points="121.8,448.2 142.9,441.3 138.7,439.1 117.8,445.8" fill="#5695f3"/>
<polygon points="298.8,452.5 319.6,458.0 314.4,453.6 293.7,447.8" fill="#a6eefa"/>
<polygon points="100.8,455.4 121.8,448.2 117.8,445.8 96.8,452.8" fill="#5695f3"/>
<polygon points="210.3,429.9 231.3,432.4 226.6,427.7 205.8,422.6" fill="#a3f1fb"/>
<polygon points="366.4,474.5 387.1,480.5 381.5,476.1 360.9,469.8" fill="#a8f0fa"/>
<polygon points="79.6,462.7 100.8,455.4 96.8,452.8 75.8,460.0" fill="#5594f3"/>
<polygon points="277.9,447.3 298.8,452.5 293.7,447.8 273.0,442.2" fill="#a6f0fa"/>
<polygon points="189.3,433.0 210.3,429.9 205.8,422.6 184.9,428.1" fill="#76c3f8"/>
<polygon points="345.6,468.8 366.4,474.5 360.9,469.8 340.3,463.8" fill="#a8f1fa"/>
<polygon points="58.4,470.3 79.6,462.7 75.8,460.0 54.7,467.5" fill="#5494f3"/>
<polygon points="168.3,438.7 189.3,433.0 184.9,428.1 163.9,434.6" fill="#64aaf6"/>
<polygon points="257.0,442.7 277.9,447.3 273.0,442.2 252.2,437.0" fill="#a6f2fa"/>
<polygon points="37.2,478.1 58.4,470.3 54.7,467.5 33.6,475.1" fill="#5493f3"/>
<polygon points="147.1,445.1 168.3,438.7 163.9,434.6 142.9,441.3" fill="#5fa3f5"/>
<polygon points="324.8,463.3 345.6,468.8 340.3,463.8 319.6,458.0" fill="#a8f2fa"/>
<polygon points="236.0,439.2 257.0,442.7 252.2,437.0 231.3,432.4" fill="#a6f4fb"/>
<polygon points="126.0,451.9 147.1,445.1 142.9,441.3 121.8,448.2" fill="#5da0f4"/>
<polygon points="303.9,458.2 324.8,463.3 319.6,458.0 298.8,452.5" fill="#a8f3fb"/>
<polygon points="215.0,437.9 236.0,439.2 231.3,432.4 210.3,429.9" fill="#9ff1fc"/>
<polygon points="104.8,459.0 126.0,451.9 121.8,448.2 100.8,455.4" fill="#5b9df4"/>
<polygon points="371.9,479.8 392.7,485.5 387.1,480.5 366.4,474.5" fill="#a8f2fa"/>
<polygon points="282.9,453.5 303.9,458.2 298.8,452.5 277.9,447.3" fill="#a8f5fb"/>
<polygon points="83.5,466.3 104.8,459.0 100.8,455.4 79.6,462.7" fill="#599bf4"/>
<polygon points="193.8,440.0 215.0,437.9 210.3,429.9 189.3,433.0" fill="#87d8fb"/>
<polygon points="351.0,474.4 371.9,479.8 366.4,474.5 345.6,468.8" fill="#a9f4fa"/>
<polygon points="62.2,473.8 83.5,466.3 79.6,462.7 58.4,470.3" fill="#5899f4"/>
<polygon points="172.6,444.6 193.8,440.0 189.3,433.0 168.3,438.7" fill="#73c0f8"/>
<polygon points="261.9,449.7 282.9,453.5 277.9,447.3 257.0,442.7" fill="#a7f6fc"/>
<polygon points="40.9,481.6 62.2,473.8 58.4,470.3 37.2,478.1" fill="#5698f4"/>
<polygon points="151.4,450.3 172.6,444.6 168.3,438.7 147.1,445.1" fill="#6ab3f7"/>
<polygon points="330.1,469.4 351.0,474.4 345.6,468.8 324.8,463.3" fill="#a9f5fb"/>
<polygon points="240.8,447.0 261.9,449.7 257.0,442.7 236.0,439.2" fill="#a5f7fc"/>
<polygon points="130.1,456.7 151.4,450.3 147.1,445.1 126.0,451.9" fill="#64abf6"/>
<polygon points="309.0,464.7 330.1,469.4 324.8,463.3 303.9,458.2" fill="#a9f7fb"/>
<polygon points="219.6,446.3 240.8,447.0 236.0,439.2 215.0,437.9" fill="#9df0fc"/>
<polygon points="108.8,463.5 130.1,456.7 126.0,451.9 104.8,459.0" fill="#61a6f5"/>
<polygon points="377.4,485.7 398.4,490.9 392.7,485.5 371.9,479.8" fill="#a8f4fb"/>
<polygon points="288.0,460.7 309.0,464.7 303.9,458.2 282.9,453.5" fill="#a9f8fc"/>
<polygon points="87.4,470.7 108.8,463.5 104.8,459.0 83.5,466.3" fill="#5ea3f5"/>
<polygon points="198.4,448.0 219.6,446.3 215.0,437.9 193.8,440.0" fill="#8de0fb"/>
<polygon points="356.4,480.7 377.4,485.7 371.9,479.8 351.0,474.4" fill="#a9f6fb"/>
<polygon points="66.0,478.1 87.4,470.7 83.5,466.3 62.2,473.8" fill="#5ca0f5"/>
<polygon points="177.1,451.7 198.4,448.0 193.8,440.0 172.6,444.6" fill="#7ecefa"/>
<polygon points="266.8,457.4 288.0,460.7 282.9,453.5 261.9,449.7" fill="#a7f9fc"/>
<polygon points="44.6,485.7 66.0,478.1 62.2,473.8 40.9,481.6" fill="#5a9df4"/>
<polygon points="155.7,456.7 177.1,451.7 172.6,444.6 151.4,450.3" fill="#73c0f8"/>
<polygon points="335.4,476.1 356.4,480.7 351.0,474.4 330.1,469.4" fill="#a9f8fb"/>
<polygon points="245.6,455.4 266.8,457.4 261.9,449.7 240.8,447.0" fill="#a4f7fc"/>
<polygon points="134.3,462.6 155.7,456.7 151.4,450.3 130.1,456.7" fill="#6cb6f7"/>
<polygon points="314.3,472.0 335.4,476.1 330.1,469.4 309.0,464.7" fill="#a9f9fc"/>
<polygon points="224.3,455.0 245.6,455.4 240.8,447.0 219.6,446.3" fill="#9cf1fc"/>
<polygon points="112.9,469.0 134.3,462.6 130.1,456.7 108.8,463.5" fill="#67b0f7"/>
<polygon points="383.0,492.0 404.1,496.8 398.4,490.9 377.4,485.7" fill="#a8f5fb"/>
<polygon points="293.1,468.5 314.3,472.0 309.0,464.7 288.0,460.7" fill="#a9fafc"/>
<polygon points="203.0,456.4 224.3,455.0 219.6,446.3 198.4,448.0" fill="#91e5fc"/>
<polygon points="91.4,475.8 112.9,469.0 108.8,463.5 87.4,470.7" fill="#63abf6"/>
<polygon points="361.9,487.6 383.0,492.0 377.4,485.7 356.4,480.7" fill="#a9f7fb"/>
<polygon points="69.9,482.9 91.4,475.8 87.4,470.7 66.0,478.1" fill="#60a6f6"/>
<polygon points="181.6,459.6 203.0,456.4 198.4,448.0 177.1,451.7" fill="#84d7fb"/>
<polygon points="271.8,465.8 293.1,468.5 288.0,460.7 266.8,457.4" fill="#a7fafc"/>
<polygon points="48.3,490.4 69.9,482.9 66.0,478.1 44.6,485.7" fill="#5da3f5"/>
<polygon points="160.1,464.0 181.6,459.6 177.1,451.7 155.7,456.7" fill="#7acafa"/>
<polygon points="340.8,483.5 361.9,487.6 356.4,480.7 335.4,476.1" fill="#a9f9fc"/>
<polygon points="250.5,464.2 271.8,465.8 266.8,457.4 245.6,455.4" fill="#a3f7fc"/>
<polygon points="138.6,469.3 160.1,464.0 155.7,456.7 134.3,462.6" fill="#73c0f9"/>
<polygon points="319.5,479.9 340.8,483.5 335.4,476.1 314.3,472.0" fill="#a9fafc"/>
<polygon points="229.1,464.0 250.5,464.2 245.6,455.4 224.3,455.0" fill="#9cf1fc"/>
<polygon points="117.0,475.2 138.6,469.3 134.3,462.6 112.9,469.0" fill="#6db9f8"/>
<polygon points="388.7,498.9 409.9,503.1 404.1,496.8 383.0,492.0" fill="#a7f5fb"/>
<polygon points="298.2,476.9 319.5,479.9 314.3,472.0 293.1,468.5" fill="#a8fbfc"/>
<polygon points="207.6,465.3 229.1,464.0 224.3,455.0 203.0,456.4" fill="#93e8fc"/>
<polygon points="95.4,481.7 117.0,475.2 112.9,469.0 91.4,475.8" fill="#69b2f7"/>
<polygon points="367.5,494.9 388.7,498.9 383.0,492.0 361.9,487.6" fill="#a8f7fc"/>
<polygon points="186.1,468.1 207.6,465.3 203.0,456.4 181.6,459.6" fill="#89ddfb"/>
<polygon points="73.8,488.4 95.4,481.7 91.4,475.8 69.9,482.9" fill="#65adf6"/>
<polygon points="276.8,474.7 298.2,476.9 293.1,468.5 271.8,465.8" fill="#a6fafc"/>
<polygon points="52.1,495.5 73.8,488.4 69.9,482.9 48.3,490.4" fill="#62a9f6"/>
<polygon points="164.5,471.9 186.1,468.1 181.6,459.6 160.1,464.0" fill="#80d2fa"/>
<polygon points="346.2,491.4 367.5,494.9 361.9,487.6 340.8,483.5" fill="#a8fafc"/>
<polygon points="255.4,473.5 276.8,474.7 271.8,465.8 250.5,464.2" fill="#a2f8fc"/>
<polygon points="142.9,476.7 164.5,471.9 160.1,464.0 138.6,469.3" fill="#79c9f9"/>
<polygon points="324.9,488.3 346.2,491.4 340.8,483.5 319.5,479.9" fill="#a8fbfc"/>
<polygon points="233.9,473.4 255.4,473.5 250.5,464.2 229.1,464.0" fill="#9cf2fc"/>
<polygon points="121.2,482.2 142.9,476.7 138.6,469.3 117.0,475.2" fill="#73c1f9"/>
<polygon points="394.4,506.1 415.7,509.8 409.9,503.1 388.7,498.9" fill="#a6f4fb"/>
<polygon points="303.4,485.8 324.9,488.3 319.5,479.9 298.2,476.9" fill="#a7fbfc"/>
<polygon points="212.3,474.6 233.9,473.4 229.1,464.0 207.6,465.3" fill="#95ebfc"/>
<polygon points="99.5,488.1 121.2,482.2 117.0,475.2 95.4,481.7" fill="#6ebaf8"/>
<polygon points="373.1,502.8 394.4,506.1 388.7,498.9 367.5,494.9" fill="#a7f7fc"/>
<polygon points="190.7,477.0 212.3,474.6 207.6,465.3 186.1,468.1" fill="#8de2fc"/>
<polygon points="281.9,484.0 303.4,485.8 298.2,476.9 276.8,474.7" fill="#a5fbfc"/>
<polygon points="77.7,494.5 99.5,488.1 95.4,481.7 73.8,488.4" fill="#6ab4f7"/>
<polygon points="169.0,480.5 190.7,477.0 186.1,468.1 164.5,471.9" fill="#85d8fb"/>
<polygon points="55.9,501.2 77.7,494.5 73.8,488.4 52.1,495.5" fill="#66aff7"/>
<polygon points="351.7,499.7 373.1,502.8 367.5,494.9 346.2,491.4" fill="#a7fafc"/>
<polygon points="260.4,483.1 281.9,484.0 276.8,474.7 255.4,473.5" fill="#a2f8fc"/>
<polygon points="147.3,484.8 169.0,480.5 164.5,471.9 142.9,476.7" fill="#7ed0fa"/>
<polygon points="330.2,497.2 351.7,499.7 346.2,491.4 324.9,488.3" fill="#a7fbfc"/>
<polygon points="238.8,483.2 260.4,483.1 255.4,473.5 233.9,473.4" fill="#9df4fc"/>
<polygon points="125.5,489.7 147.3,484.8 142.9,476.7 121.2,482.2" fill="#78c8f9"/>
<polygon points="217.1,484.3 238.8,483.2 233.9,473.4 212.3,474.6" fill="#97edfc"/>
<polygon points="308.7,495.1 330.2,497.2 324.9,488.3 303.4,485.8" fill="#a6fcfc"/>
<polygon points="103.6,495.2 125.5,489.7 121.2,482.2 99.5,488.1" fill="#73c1f9"/>
<polygon points="195.3,486.5 217.1,484.3 212.3,474.6 190.7,477.0" fill="#90e6fc"/>
<polygon points="287.1,493.7 308.7,495.1 303.4,485.8 281.9,484.0" fill="#a4fbfc"/>
<polygon points="81.7,501.1 103.6,495.2 99.5,488.1 77.7,494.5" fill="#6ebaf8"/>
<polygon points="173.5,489.5 195.3,486.5 190.7,477.0 169.0,480.5" fill="#89defc"/>
<polygon points="59.8,507.4 81.7,501.1 77.7,494.5 55.9,501.2" fill="#6ab5f7"/>
<polygon points="265.4,493.1 287.1,493.7 281.9,484.0 260.4,483.1" fill="#a1f9fc"/>
<polygon points="151.7,493.4 173.5,489.5 169.0,480.5 147.3,484.8" fill="#83d6fb"/>
<polygon points="243.7,493.3 265.4,493.1 260.4,483.1 238.8,483.2" fill="#9df5fc"/>
<polygon points="129.8,497.8 151.7,493.4 147.3,484.8 125.5,489.7" fill="#7dcefa"/>
<polygon points="221.9,494.4 243.7,493.3 238.8,483.2 217.1,484.3" fill="#98effc"/>
<polygon points="107.8,502.8 129.8,497.8 125.5,489.7 103.6,495.2" fill="#78c7f9"/>
<polygon points="200.0,496.3 221.9,494.4 217.1,484.3 195.3,486.5" fill="#92e9fc"/>
<polygon points="85.8,508.2 107.8,502.8 103.6,495.2 81.7,501.1" fill="#73c1f9"/>
<polygon points="178.1,499.0 200.0,496.3 195.3,486.5 173.5,489.5" fill="#8de2fc"/>
<polygon points="63.7,513.9 85.8,508.2 81.7,501.1 59.8,507.4" fill="#6fbbf8"/>
<polygon points="156.1,502.4 178.1,499.0 173.5,489.5 151.7,493.4" fill="#87dbfb"/>
<polygon points="134.1,506.4 156.1,502.4 151.7,493.4 129.8,497.8" fill="#82d4fb"/>
<polygon points="112.0,510.9 134.1,506.4 129.8,497.8 107.8,502.8" fill="#7dcdfa"/>
<polygon points="89.9,515.7 112.0,510.9 107.8,502.8 85.8,508.2" fill="#78c7f9"/>
<polygon points="67.7,520.9 89.9,515.7 85.8,508.2 63.7,513.9" fill="#74c1f8"/>
<polygon points="315.2,348.2 335.0,344.2 330.0,338.6 310.3,342.0" fill="#7bc9f9"/>
<polygon points="295.3,351.9 315.2,348.2 310.3,342.0 290.5,345.2" fill="#7fcffa"/>
<polygon points="275.4,355.4 295.3,351.9 290.5,345.2 270.7,348.2" fill="#83d5fb"/>
<polygon points="255.5,358.5 275.4,355.4 270.7,348.2 250.9,350.8" fill="#87dafb"/>
<polygon points="235.5,361.1 255.5,358.5 250.9,350.8 231.0,353.1" fill="#8be0fc"/>
<polygon points="320.1,354.1 340.1,349.5 335.0,344.2 315.2,348.2" fill="#76c3f9"/>
<polygon points="215.4,363.3 235.5,361.1 231.0,353.1 211.0,354.9" fill="#90e6fc"/>
<polygon points="300.2,358.4 320.1,354.1 315.2,348.2 295.3,351.9" fill="#7ac9f9"/>
<polygon points="195.3,364.8 215.4,363.3 211.0,354.9 191.1,356.2" fill="#94ebfc"/>
<polygon points="280.1,362.3 300.2,358.4 295.3,351.9 275.4,355.4" fill="#7ecffa"/>
<polygon points="175.2,365.7 195.3,364.8 191.1,356.2 171.0,357.0" fill="#98f0fc"/>
<polygon points="260.1,365.9 280.1,362.3 275.4,355.4 255.5,358.5" fill="#83d5fb"/>
<polygon points="155.0,365.7 175.2,365.7 171.0,357.0 150.9,357.1" fill="#9df4fc"/>
<polygon points="240.0,369.0 260.1,365.9 255.5,358.5 235.5,361.1" fill="#88dbfb"/>
<polygon points="325.1,359.7 345.2,354.6 340.1,349.5 320.1,354.1" fill="#72bdf8"/>
<polygon points="134.8,364.9 155.0,365.7 150.9,357.1 130.8,356.5" fill="#a1f8fc"/>
<polygon points="219.9,371.5 240.0,369.0 235.5,361.1 215.4,363.3" fill="#8de2fc"/>
<polygon points="305.0,364.5 325.1,359.7 320.1,354.1 300.2,358.4" fill="#75c3f9"/>
<polygon points="114.5,363.1 134.8,364.9 130.8,356.5 110.6,355.1" fill="#a4fbfc"/>
<polygon points="199.7,373.2 219.9,371.5 215.4,363.3 195.3,364.8" fill="#92e8fc"/>
<polygon points="284.9,368.9 305.0,364.5 300.2,358.4 280.1,362.3" fill="#7ac9f9"/>
<polygon points="94.2,360.7 114.5,363.1 110.6,355.1 90.4,353.1" fill="#a6fbfc"/>
<polygon points="179.4,374.2 199.7,373.2 195.3,364.8 175.2,365.7" fill="#97edfc"/>
<polygon points="264.8,373.0 284.9,368.9 280.1,362.3 260.1,365.9" fill="#7ecffa"/>
<polygon points="159.2,374.2 179.4,374.2 175.2,365.7 155.0,365.7" fill="#9cf3fc"/>
<polygon points="73.8,357.7 94.2,360.7 90.4,353.1 70.1,350.5" fill="#a7fbfc"/>
<polygon points="244.6,376.5 264.8,373.0 260.1,365.9 240.0,369.0" fill="#84d6fb"/>
<polygon points="138.8,373.1 159.2,374.2 155.0,365.7 134.8,364.9" fill="#a1f8fc"/>
<polygon points="330.2,364.9 350.3,359.4 345.2,354.6 325.1,359.7" fill="#6db7f7"/>
<polygon points="53.3,354.2 73.8,357.7 70.1,350.5 49.8,347.6" fill="#a7fafc"/>
<polygon points="224.3,379.4 244.6,376.5 240.0,369.0 219.9,371.5" fill="#89ddfb"/>
<polygon points="310.0,370.2 330.2,364.9 325.1,359.7 305.0,364.5" fill="#71bcf8"/>
<polygon points="118.4,371.0 138.8,373.1 134.8,364.9 114.5,363.1" fill="#a5fafc"/>
<polygon points="204.0,381.5 224.3,379.4 219.9,371.5 199.7,373.2" fill="#8fe4fc"/>
<polygon points="32.8,350.3 53.3,354.2 49.8,347.6 29.3,344.2" fill="#a7f8fc"/>
<polygon points="289.8,375.1 310.0,370.2 305.0,364.5 284.9,368.9" fill="#75c2f9"/>
<polygon points="183.7,382.6 204.0,381.5 199.7,373.2 179.4,374.2" fill="#95ebfc"/>
<polygon points="98.0,368.1 118.4,371.0 114.5,363.1 94.2,360.7" fill="#a7fbfc"/>
<polygon points="12.2,346.1 32.8,350.3 29.3,344.2 8.9,340.6" fill="#a6f5fb"/>
<polygon points="269.5,379.7 289.8,375.1 284.9,368.9 264.8,373.0" fill="#79c8f9"/>
<polygon points="163.3,382.5 183.7,382.6 179.4,374.2 159.2,374.2" fill="#9bf2fc"/>
<polygon points="77.5,364.5 98.0,368.1 94.2,360.7 73.8,357.7" fill="#a8fbfc"/>
<polygon points="249.2,383.8 269.5,379.7 264.8,373.0 244.6,376.5" fill="#7fcffa"/>
<polygon points="142.9,381.0 163.3,382.5 159.2,374.2 138.8,373.1" fill="#a1f7fc"/>
<polygon points="335.3,369.7 355.5,363.8 350.3,359.4 330.2,364.9" fill="#68b1f7"/>
<polygon points="57.0,360.5 77.5,364.5 73.8,357.7 53.3,354.2" fill="#a8fafc"/>
<polygon points="228.9,387.1 249.2,383.8 244.6,376.5 224.3,379.4" fill="#85d7fb"/>
<polygon points="315.0,375.4 335.3,369.7 330.2,364.9 310.0,370.2" fill="#6cb5f7"/>
<polygon points="122.4,378.5 142.9,381.0 138.8,373.1 118.4,371.0" fill="#a5fafc"/>
<polygon points="208.5,389.6 228.9,387.1 224.3,379.4 204.0,381.5" fill="#8ce0fc"/>
<polygon points="36.3,356.1 57.0,360.5 53.3,354.2 32.8,350.3" fill="#a8f8fc"/>
<polygon points="294.7,380.8 315.0,375.4 310.0,370.2 289.8,375.1" fill="#6fbaf8"/>
<polygon points="188.0,390.8 208.5,389.6 204.0,381.5 183.7,382.6" fill="#93e8fc"/>
<polygon points="101.9,375.1 122.4,378.5 118.4,371.0 98.0,368.1" fill="#a8fbfc"/>
<polygon points="15.7,351.4 36.3,356.1 32.8,350.3 12.2,346.1" fill="#a7f5fb"/>
<polygon points="274.3,385.9 294.7,380.8 289.8,375.1 269.5,379.7" fill="#74c0f8"/>
<polygon points="167.6,390.6 188.0,390.8 183.7,382.6 163.3,382.5" fill="#9bf0fc"/>
<polygon points="81.3,371.0 101.9,375.1 98.0,368.1 77.5,364.5" fill="#a9fafc"/>
<polygon points="253.9,390.5 274.3,385.9 269.5,379.7 249.2,383.8" fill="#79c8f9"/>
<polygon points="147.0,388.7 167.6,390.6 163.3,382.5 142.9,381.0" fill="#a2f7fc"/>
<polygon points="60.6,366.5 81.3,371.0 77.5,364.5 57.0,360.5" fill="#a9f9fc"/>
<polygon points="340.4,374.0 360.8,367.7 355.5,363.8 335.3,369.7" fill="#64aaf6"/>
<polygon points="233.4,394.5 253.9,390.5 249.2,383.8 228.9,387.1" fill="#80d0fa"/>
<polygon points="126.4,385.6 147.0,388.7 142.9,381.0 122.4,378.5" fill="#a6fafc"/>
<polygon points="320.0,380.0 340.4,374.0 335.3,369.7 315.0,375.4" fill="#67aef6"/>
<polygon points="212.9,397.4 233.4,394.5 228.9,387.1 208.5,389.6" fill="#88dafb"/>
<polygon points="39.9,361.6 60.6,366.5 57.0,360.5 36.3,356.1" fill="#a9f7fb"/>
<polygon points="299.6,385.8 320.0,380.0 315.0,375.4 294.7,380.8" fill="#6ab2f7"/>
<polygon points="192.4,398.9 212.9,397.4 208.5,389.6 188.0,390.8" fill="#91e5fc"/>
<polygon points="105.8,381.7 126.4,385.6 122.4,378.5 101.9,375.1" fill="#a8fafc"/>
<polygon points="19.1,356.4 39.9,361.6 36.3,356.1 15.7,351.4" fill="#a8f5fb"/>
<polygon points="279.1,391.4 299.6,385.8 294.7,380.8 274.3,385.9" fill="#6db7f7"/>
<polygon points="171.8,398.4 192.4,398.9 188.0,390.8 167.6,390.6" fill="#9beffc"/>
<polygon points="85.1,377.1 105.8,381.7 101.9,375.1 81.3,371.0" fill="#a9f9fc"/>
<polygon points="258.6,396.6 279.1,391.4 274.3,385.9 253.9,390.5" fill="#72bef8"/>
<polygon points="151.2,396.0 171.8,398.4 167.6,390.6 147.0,388.7" fill="#a3f7fc"/>
<polygon points="64.3,372.1 85.1,377.1 81.3,371.0 60.6,366.5" fill="#a9f8fb"/>
<polygon points="238.1,401.2 258.6,396.6 253.9,390.5 233.4,394.5" fill="#79c7f9"/>
<polygon points="345.7,377.6 366.1,371.2 360.8,367.7 340.4,374.0" fill="#60a4f5"/>
<polygon points="130.5,392.2 151.2,396.0 147.0,388.7 126.4,385.6" fill="#a7f9fc"/>
<polygon points="217.5,404.9 238.1,401.2 233.4,394.5 212.9,397.4" fill="#82d3fa"/>
<polygon points="325.2,383.9 345.7,377.6 340.4,374.0 320.0,380.0" fill="#62a7f5"/>
<polygon points="43.5,366.7 64.3,372.1 60.6,366.5 39.9,361.6" fill="#a9f6fb"/>
<polygon points="304.6,390.0 325.2,383.9 320.0,380.0 299.6,385.8" fill="#64aaf6"/>
<polygon points="196.8,406.8 217.5,404.9 212.9,397.4 192.4,398.9" fill="#8ee1fb"/>
<polygon points="109.7,387.7 130.5,392.2 126.4,385.6 105.8,381.7" fill="#a9f8fc"/>
<polygon points="22.6,361.0 43.5,366.7 39.9,361.6 19.1,356.4" fill="#a9f4fb"/>
<polygon points="284.0,395.9 304.6,390.0 299.6,385.8 279.1,391.4" fill="#67aef6"/>
<polygon points="176.1,405.9 196.8,406.8 192.4,398.9 171.8,398.4" fill="#9beffc"/>
<polygon points="88.9,382.6 109.7,387.7 105.8,381.7 85.1,377.1" fill="#a9f7fb"/>
<polygon points="263.4,401.6 284.0,395.9 279.1,391.4 258.6,396.6" fill="#6ab2f7"/>
<polygon points="155.4,402.6 176.1,405.9 171.8,398.4 151.2,396.0" fill="#a4f6fc"/>
<polygon points="242.7,407.0 263.4,401.6 258.6,396.6 238.1,401.2" fill="#70baf7"/>
<polygon points="68.0,377.1 88.9,382.6 85.1,377.1 64.3,372.1" fill="#a9f6fb"/>
<polygon points="351.0,380.6 371.5,374.1 366.1,371.2 345.7,377.6" fill="#5c9ef4"/>
<polygon points="134.6,398.1 155.4,402.6 151.2,396.0 130.5,392.2" fill="#a7f7fc"/>
<polygon points="222.0,411.7 242.7,407.0 238.1,401.2 217.5,404.9" fill="#78c6f9"/>
<polygon points="330.3,387.0 351.0,380.6 345.7,377.6 325.2,383.9" fill="#5d9ff4"/>
<polygon points="47.1,371.4 68.0,377.1 64.3,372.1 43.5,366.7" fill="#a9f4fb"/>
<polygon points="201.3,414.6 222.0,411.7 217.5,404.9 196.8,406.8" fill="#88d9fb"/>
<polygon points="309.7,393.2 330.3,387.0 325.2,383.9 304.6,390.0" fill="#5fa1f4"/>
<polygon points="113.7,393.0 134.6,398.1 130.5,392.2 109.7,387.7" fill="#a8f5fb"/>
<polygon points="26.1,365.3 47.1,371.4 43.5,366.7 22.6,361.0" fill="#a8f3fa"/>
<polygon points="289.0,399.3 309.7,393.2 304.6,390.0 284.0,395.9" fill="#60a3f5"/>
<polygon points="180.5,412.7 201.3,414.6 196.8,406.8 176.1,405.9" fill="#9deffc"/>
<polygon points="92.8,387.5 113.7,393.0 109.7,387.7 88.9,382.6" fill="#a8f4fb"/>
<polygon points="268.3,405.2 289.0,399.3 284.0,395.9 263.4,401.6" fill="#62a6f5"/>
<polygon points="159.6,408.2 180.5,412.7 176.1,405.9 155.4,402.6" fill="#a6f4fb"/>
<polygon points="71.8,381.6 92.8,387.5 88.9,382.6 68.0,377.1" fill="#a8f2fa"/>
<polygon points="247.5,410.9 268.3,405.2 263.4,401.6 242.7,407.0" fill="#65a9f5"/>
<polygon points="356.3,382.8 377.0,376.3 371.5,374.1 351.0,380.6" fill="#5998f3"/>
<polygon points="138.7,403.0 159.6,408.2 155.4,402.6 134.6,398.1" fill="#a6f2fb"/>
<polygon points="226.7,416.5 247.5,410.9 242.7,407.0 222.0,411.7" fill="#6ab0f6"/>
<polygon points="335.6,389.1 356.3,382.8 351.0,380.6 330.3,387.0" fill="#5998f3"/>
<polygon points="50.8,375.5 71.8,381.6 68.0,377.1 47.1,371.4" fill="#a8f1fa"/>
<polygon points="205.8,421.9 226.7,416.5 222.0,411.7 201.3,414.6" fill="#77c4f8"/>
<polygon points="314.8,395.3 335.6,389.1 330.3,387.0 309.7,393.2" fill="#5998f3"/>
<polygon points="117.8,397.4 138.7,403.0 134.6,398.1 113.7,393.0" fill="#a6f0fa"/>
<polygon points="29.6,369.2 50.8,375.5 47.1,371.4 26.1,365.3" fill="#a8f0fa"/>
<polygon points="294.0,401.2 314.8,395.3 309.7,393.2 289.0,399.3" fill="#5a98f3"/>
<polygon points="184.9,417.5 205.8,421.9 201.3,414.6 180.5,412.7" fill="#a0eefb"/>
<polygon points="96.7,391.6 117.8,397.4 113.7,393.0 92.8,387.5" fill="#a6effa"/>
<polygon points="273.2,406.9 294.0,401.2 289.0,399.3 268.3,405.2" fill="#5a98f3"/>
<polygon points="163.9,412.1 184.9,417.5 180.5,412.7 159.6,408.2" fill="#a2eaf9"/>
<polygon points="75.6,385.5 96.7,391.6 92.8,387.5 71.8,381.6" fill="#a6eef9"/>
<polygon points="252.3,412.4 273.2,406.9 268.3,405.2 247.5,410.9" fill="#5a97f3"/>
<polygon points="361.7,384.2 382.5,378.0 377.0,376.3 356.3,382.8" fill="#5693f2"/>
<polygon points="142.9,406.6 163.9,412.1 159.6,408.2 138.7,403.0" fill="#a1e8f9"/>
<polygon points="231.4,417.2 252.3,412.4 247.5,410.9 226.7,416.5" fill="#5995f2"/>
<polygon points="340.9,390.3 361.7,384.2 356.3,382.8 335.6,389.1" fill="#5692f2"/>
<polygon points="54.5,379.1 75.6,385.5 71.8,381.6 50.8,375.5" fill="#a6edf9"/>
<polygon points="210.4,420.1 231.4,417.2 226.7,416.5 205.8,421.9" fill="#578df0"/>
<polygon points="121.8,400.8 142.9,406.6 138.7,403.0 117.8,397.4" fill="#a2e8f9"/>
<polygon points="320.0,396.2 340.9,390.3 335.6,389.1 314.8,395.3" fill="#5591f2"/>
<polygon points="33.2,372.6 54.5,379.1 50.8,375.5 29.6,369.2" fill="#a6edf9"/>
<polygon points="299.1,401.8 320.0,396.2 314.8,395.3 294.0,401.2" fill="#558ff2"/>
<polygon points="189.4,418.2 210.4,420.1 205.8,421.9 184.9,417.5" fill="#2b1d75"/>
<polygon points="100.7,394.8 121.8,400.8 117.8,397.4 96.7,391.6" fill="#a2e8f9"/>
<polygon points="278.2,407.0 299.1,401.8 294.0,401.2 273.2,406.9" fill="#558ef1"/>
<polygon points="168.3,413.7 189.4,418.2 184.9,417.5 163.9,412.1" fill="#92d0f6"/>
<polygon points="79.5,388.6 100.7,394.8 96.7,391.6 75.6,385.5" fill="#a3e8f9"/>
<polygon points="257.2,411.8 278.2,407.0 273.2,406.9 252.3,412.4" fill="#548cf1"/>
<polygon points="367.2,385.0 388.1,379.1 382.5,378.0 361.7,384.2" fill="#5590f2"/>
<polygon points="147.2,408.4 168.3,413.7 163.9,412.1 142.9,406.6" fill="#98d7f6"/>
<polygon points="236.1,415.5 257.2,411.8 252.3,412.4 231.4,417.2" fill="#2f1d75"/>
<polygon points="58.2,382.1 79.5,388.6 75.6,385.5 54.5,379.1" fill="#a3e8f8"/>
<polygon points="346.3,390.6 367.2,385.0 361.7,384.2 340.9,390.3" fill="#548ef1"/>
<polygon points="215.0,417.5 236.1,415.5 231.4,417.2 210.4,420.1" fill="#2e1d75"/>
<polygon points="126.0,402.8 147.2,408.4 142.9,406.6 121.8,400.8" fill="#9adbf7"/>
<polygon points="325.3,396.1 346.3,390.6 340.9,390.3 320.0,396.2" fill="#548cf1"/>
<polygon points="36.8,375.5 58.2,382.1 54.5,379.1 33.2,372.6" fill="#a4e9f8"/>
<polygon points="304.3,401.2 325.3,396.1 320.0,396.2 299.1,401.8" fill="#548cf1"/>
<polygon points="193.9,416.6 215.0,417.5 210.4,420.1 189.4,418.2" fill="#2b1d75"/>
<polygon points="104.7,396.9 126.0,402.8 121.8,400.8 100.7,394.8" fill="#9cdef7"/>
<polygon points="283.2,405.9 304.3,401.2 299.1,401.8 278.2,407.0" fill="#548cf0"/>
<polygon points="172.7,413.2 193.9,416.6 189.4,418.2 168.3,413.7" fill="#2b1d75"/>
<polygon points="83.4,390.8 104.7,396.9 100.7,394.8 79.5,388.6" fill="#9ee0f7"/>
<polygon points="262.1,409.9 283.2,405.9 278.2,407.0 257.2,411.8" fill="#301d75"/>
<polygon points="372.8,385.0 393.8,379.6 388.1,379.1 367.2,385.0" fill="#558ef1"/>
<polygon points="151.5,408.7 172.7,413.2 168.3,413.7 147.2,408.4" fill="#2b1d75"/>
<polygon points="240.9,412.9 262.1,409.9 257.2,411.8 236.1,415.5" fill="#2f1d75"/>
<polygon points="62.0,384.4 83.4,390.8 79.5,388.6 58.2,382.1" fill="#9fe2f7"/>
<polygon points="351.8,390.2 372.8,385.0 367.2,385.0 346.3,390.6" fill="#548cf1"/>
<polygon points="130.1,403.6 151.5,408.7 147.2,408.4 126.0,402.8" fill="#2b1d75"/>
<polygon points="219.7,414.4 240.9,412.9 236.1,415.5 215.0,417.5" fill="#2d1d75"/>
<polygon points="330.7,395.2 351.8,390.2 346.3,390.6 325.3,396.1" fill="#548cf0"/>
<polygon points="40.5,377.8 62.0,384.4 58.2,382.1 36.8,375.5" fill="#a1e3f8"/>
<polygon points="309.5,399.7 330.7,395.2 325.3,396.1 304.3,401.2" fill="#548cf0"/>
<polygon points="198.5,414.0 219.7,414.4 215.0,417.5 193.9,416.6" fill="#2b1d75"/>
<polygon points="108.8,398.0 130.1,403.6 126.0,402.8 104.7,396.9" fill="#2b1d75"/>
<polygon points="288.3,403.8 309.5,399.7 304.3,401.2 283.2,405.9" fill="#301d75"/>
<polygon points="177.2,411.5 198.5,414.0 193.9,416.6 172.7,413.2" fill="#2b1d75"/>
<polygon points="87.3,392.1 108.8,398.0 104.7,396.9 83.4,390.8" fill="#98d7f6"/>
<polygon points="267.1,407.2 288.3,403.8 283.2,405.9 262.1,409.9" fill="#2f1d75"/>
<polygon points="378.4,384.6 399.6,379.7 393.8,379.6 372.8,385.0" fill="#558df1"/>
<polygon points="155.8,407.8 177.2,411.5 172.7,413.2 151.5,408.7" fill="#2b1d75"/>
<polygon points="65.8,386.0 87.3,392.1 83.4,390.8 62.0,384.4" fill="#9bdaf7"/>
<polygon points="245.8,409.7 267.1,407.2 262.1,409.9 240.9,412.9" fill="#2e1d75"/>
<polygon points="357.3,389.2 378.4,384.6 372.8,385.0 351.8,390.2" fill="#548cf0"/>
<polygon points="134.4,403.2 155.8,407.8 151.5,408.7 130.1,403.6" fill="#2b1d75"/>
<polygon points="336.1,393.5 357.3,389.2 351.8,390.2 330.7,395.2" fill="#301d75"/>
<polygon points="224.5,411.0 245.8,409.7 240.9,412.9 219.7,414.4" fill="#2d1d75"/>
<polygon points="44.2,379.6 65.8,386.0 62.0,384.4 40.5,377.8" fill="#9dddf7"/>
<polygon points="314.8,397.5 336.1,393.5 330.7,395.2 309.5,399.7" fill="#301d75"/>
<polygon points="112.9,398.1 134.4,403.2 130.1,403.6 108.8,398.0" fill="#2b1d75"/>
<polygon points="203.1,410.8 224.5,411.0 219.7,414.4 198.5,414.0" fill="#2c1d75"/>
<polygon points="293.5,401.1 314.8,397.5 309.5,399.7 288.3,403.8" fill="#2f1d75"/>
<polygon points="181.7,409.0 203.1,410.8 198.5,414.0 177.2,411.5" fill="#2b1d75"/>
<polygon points="91.3,392.7 112.9,398.1 108.8,398.0 87.3,392.1" fill="#2b1d75"/>
<polygon points="272.2,404.0 293.5,401.1 288.3,403.8 267.1,407.2" fill="#2f1d75"/>
<polygon points="384.1,383.6 405.4,379.4 399.6,379.7 378.4,384.6" fill="#568df1"/>
<polygon points="160.2,405.9 181.7,409.0 177.2,411.5 155.8,407.8" fill="#2b1d75"/>
<polygon points="69.7,386.9 91.3,392.7 87.3,392.1 65.8,386.0" fill="#2b1d75"/>
<polygon points="362.9,387.6 384.1,383.6 378.4,384.6 357.3,389.2" fill="#2f1d75"/>
<polygon points="250.8,406.1 272.2,404.0 267.1,407.2 245.8,409.7" fill="#2e1d75"/>
<polygon points="138.6,402.0 160.2,405.9 155.8,407.8 134.4,403.2" fill="#2b1d75"/>
<polygon points="341.5,391.3 362.9,387.6 357.3,389.2 336.1,393.5" fill="#2f1d75"/>
<polygon points="48.0,380.9 69.7,386.9 65.8,386.0 44.2,379.6" fill="#2b1d75"/>
<polygon points="229.3,407.2 250.8,406.1 245.8,409.7 224.5,411.0" fill="#2d1d75"/>
<polygon points="320.2,394.7 341.5,391.3 336.1,393.5 314.8,397.5" fill="#2f1d75"/>
<polygon points="117.0,397.4 138.6,402.0 134.4,403.2 112.9,398.1" fill="#2b1d75"/>
<polygon points="207.8,407.2 229.3,407.2 224.5,411.0 203.1,410.8" fill="#2c1d75"/>
<polygon points="298.8,397.7 320.2,394.7 314.8,397.5 293.5,401.1" fill="#2f1d75"/>
<polygon points="186.3,405.8 207.8,407.2 203.1,410.8 181.7,409.0" fill="#2b1d75"/>
<polygon points="95.3,392.5 117.0,397.4 112.9,398.1 91.3,392.7" fill="#2b1d75"/>
<polygon points="389.9,382.2 411.3,378.7 405.4,379.4 384.1,383.6" fill="#588ef0"/>
<polygon points="277.3,400.2 298.8,397.7 293.5,401.1 272.2,404.0" fill="#2e1d75"/>
<polygon points="164.6,403.3 186.3,405.8 181.7,409.0 160.2,405.9" fill="#2b1d75"/>
<polygon points="73.6,387.2 95.3,392.5 91.3,392.7 69.7,386.9" fill="#2b1d75"/>
<polygon points="368.5,385.5 389.9,382.2 384.1,383.6 362.9,387.6" fill="#2f1d75"/>
<polygon points="255.8,402.0 277.3,400.2 272.2,404.0 250.8,406.1" fill="#2e1d75"/>
<polygon points="143.0,400.0 164.6,403.3 160.2,405.9 138.6,402.0" fill="#2b1d75"/>
<polygon points="347.1,388.6 368.5,385.5 362.9,387.6 341.5,391.3" fill="#2f1d75"/>
<polygon points="51.8,381.7 73.6,387.2 69.7,386.9 48.0,380.9" fill="#2b1d75"/>
<polygon points="234.2,403.0 255.8,402.0 250.8,406.1 229.3,407.2" fill="#2d1d75"/>
<polygon points="325.6,391.4 347.1,388.6 341.5,391.3 320.2,394.7" fill="#2f1d75"/>
<polygon points="121.2,396.0 143.0,400.0 138.6,402.0 117.0,397.4" fill="#2b1d75"/>
<polygon points="212.6,403.1 234.2,403.0 229.3,407.2 207.8,407.2" fill="#2c1d75"/>
<polygon points="304.1,393.9 325.6,391.4 320.2,394.7 298.8,397.7" fill="#2e1d75"/>
<polygon points="99.4,391.7 121.2,396.0 117.0,397.4 95.3,392.5" fill="#2b1d75"/>
<polygon points="190.9,402.0 212.6,403.1 207.8,407.2 186.3,405.8" fill="#2b1d75"/>
<polygon points="395.8,380.4 417.2,377.7 411.3,378.7 389.9,382.2" fill="#2e1d75"/>
<polygon points="282.5,396.0 304.1,393.9 298.8,397.7 277.3,400.2" fill="#2e1d75"/>
<polygon points="169.1,400.1 190.9,402.0 186.3,405.8 164.6,403.3" fill="#2b1d75"/>
<polygon points="77.5,387.0 99.4,391.7 95.3,392.5 73.6,387.2" fill="#2b1d75"/>
<polygon points="374.3,382.9 395.8,380.4 389.9,382.2 368.5,385.5" fill="#2e1d75"/>
<polygon points="260.8,397.5 282.5,396.0 277.3,400.2 255.8,402.0" fill="#2e1d75"/>
<polygon points="147.3,397.3 169.1,400.1 164.6,403.3 143.0,400.0" fill="#2b1d75"/>
<polygon points="55.6,382.0 77.5,387.0 73.6,387.2 51.8,381.7" fill="#2b1d75"/>
<polygon points="352.7,385.4 374.3,382.9 368.5,385.5 347.1,388.6" fill="#2e1d75"/>
<polygon points="239.1,398.4 260.8,397.5 255.8,402.0 234.2,403.0" fill="#2d1d75"/>
<polygon points="331.1,387.7 352.7,385.4 347.1,388.6 325.6,391.4" fill="#2e1d75"/>
<polygon points="125.5,394.0 147.3,397.3 143.0,400.0 121.2,396.0" fill="#2b1d75"/>
<polygon points="217.4,398.6 239.1,398.4 234.2,403.0 212.6,403.1" fill="#2c1d75"/>
<polygon points="309.5,389.7 331.1,387.7 325.6,391.4 304.1,393.9" fill="#2e1d75"/>
<polygon points="103.5,390.3 125.5,394.0 121.2,396.0 99.4,391.7" fill="#2b1d75"/>
<polygon points="195.6,397.8 217.4,398.6 212.6,403.1 190.9,402.0" fill="#2b1d75"/>
<polygon points="287.7,391.3 309.5,389.7 304.1,393.9 282.5,396.0" fill="#2e1d75"/>
<polygon points="81.5,386.2 103.5,390.3 99.4,391.7 77.5,387.0" fill="#2b1d75"/>
<polygon points="173.7,396.3 195.6,397.8 190.9,402.0 169.1,400.1" fill="#2b1d75"/>
<polygon points="266.0,392.6 287.7,391.3 282.5,396.0 260.8,397.5" fill="#2d1d75"/>
<polygon points="59.5,381.9 81.5,386.2 77.5,387.0 55.6,382.0" fill="#2b1d75"/>
<polygon points="151.8,394.1 173.7,396.3 169.1,400.1 147.3,397.3" fill="#2b1d75"/>
<polygon points="244.1,393.4 266.0,392.6 260.8,397.5 239.1,398.4" fill="#2d1d75"/>
<polygon points="129.8,391.5 151.8,394.1 147.3,397.3 125.5,394.0" fill="#2b1d75"/>
<polygon points="222.3,393.7 244.1,393.4 239.1,398.4 217.4,398.6" fill="#2c1d75"/>
<polygon points="107.7,388.4 129.8,391.5 125.5,394.0 103.5,390.3" fill="#2b1d75"/>
<polygon points="200.3,393.2 222.3,393.7 217.4,398.6 195.6,397.8" fill="#2c1d75"/>
<polygon points="85.6,385.0 107.7,388.4 103.5,390.3 81.5,386.2" fill="#2b1d75"/>
<polygon points="178.3,392.1 200.3,393.2 195.6,397.8 173.7,396.3" fill="#2b1d75"/>
<polygon points="63.4,381.4 85.6,385.0 81.5,386.2 59.5,381.9" fill="#2b1d75"/>
<polygon points="156.3,390.5 178.3,392.1 173.7,396.3 151.8,394.1" fill="#2b1d75"/>
<polygon points="134.1,388.4 156.3,390.5 151.8,394.1 129.8,391.5" fill="#2b1d75"/>
<polygon points="111.9,386.0 134.1,388.4 129.8,391.5 107.7,388.4" fill="#2b1d75"/>
<polygon points="89.7,383.4 111.9,386.0 107.7,388.4 85.6,385.0" fill="#2b1d75"/>
<polygon points="67.4,380.6 89.7,383.4 85.6,385.0 63.4,381.4" fill="#2b1d75"/></g>
<g stroke="#7d8790" stroke-width="0.8" fill="none" opacity="0.6"><line x1="61.7" y1="526.9" x2="61.3" y2="378.7"/><line x1="61.3" y1="378.7" x2="423.6" y2="369.6"/><line x1="61.3" y1="378.7" x2="1.0" y2="335.8"/></g>
<g stroke="#7d8790" stroke-width="0.9" fill="none"><line x1="1.7" y1="762.6" x2="1.0" y2="627.5"/><line x1="1.0" y1="627.5" x2="332.3" y2="620.1"/><line x1="332.3" y1="620.1" x2="331.3" y2="752.6"/><line x1="1.7" y1="762.6" x2="331.3" y2="752.6"/><line x1="1.7" y1="762.6" x2="61.7" y2="818.6"/><line x1="331.3" y1="752.6" x2="421.9" y2="806.4"/><line x1="61.7" y1="818.6" x2="421.9" y2="806.4"/><line x1="421.9" y1="806.4" x2="423.6" y2="661.3"/><line x1="423.6" y1="661.3" x2="332.3" y2="620.1"/><line x1="89.2" y1="817.7" x2="89.2" y2="814.2"/><line x1="179.9" y1="814.6" x2="179.9" y2="811.1"/><line x1="266.5" y1="811.7" x2="266.5" y2="808.2"/><line x1="353.3" y1="808.7" x2="353.3" y2="805.2"/><line x1="422.0" y1="799.9" x2="418.0" y2="799.9"/><line x1="422.3" y1="770.3" x2="418.3" y2="770.3"/><line x1="422.7" y1="739.9" x2="418.7" y2="739.9"/><line x1="423.0" y1="708.7" x2="419.0" y2="708.7"/><line x1="423.4" y1="678.1" x2="419.4" y2="678.1"/><line x1="333.6" y1="620.7" x2="333.6" y2="624.2"/><line x1="375.8" y1="639.8" x2="375.8" y2="643.3"/><line x1="422.6" y1="660.9" x2="422.6" y2="664.4"/></g>
<g stroke="#0b1622" stroke-width="0.62" stroke-linejoin="round"><polygon points="314.4,746.1 334.1,750.1 329.1,750.1 309.5,746.7" fill="#2b1d75"/>
<polygon points="294.7,742.4 314.4,746.1 309.5,746.7 289.9,743.6" fill="#2b1d75"/>
<polygon points="274.9,739.1 294.7,742.4 289.9,743.6 270.2,740.7" fill="#2b1d75"/>
<polygon points="255.0,736.2 274.9,739.1 270.2,740.7 250.4,738.3" fill="#2b1d75"/>
<polygon points="319.4,745.9 339.1,750.4 334.1,750.1 314.4,746.1" fill="#2b1d75"/>
<polygon points="235.1,733.8 255.0,736.2 250.4,738.3 230.6,736.4" fill="#2b1d75"/>
<polygon points="215.2,732.1 235.1,733.8 230.6,736.4 210.8,735.0" fill="#2b1d75"/>
<polygon points="299.5,741.7 319.4,745.9 314.4,746.1 294.7,742.4" fill="#2b1d75"/>
<polygon points="195.1,731.2 215.2,732.1 210.8,735.0 190.8,734.4" fill="#2b1d75"/>
<polygon points="279.6,737.8 299.5,741.7 294.7,742.4 274.9,739.1" fill="#2b1d75"/>
<polygon points="175.1,731.2 195.1,731.2 190.8,734.4 170.9,734.5" fill="#2c1d75"/>
<polygon points="259.7,734.3 279.6,737.8 274.9,739.1 255.0,736.2" fill="#2b1d75"/>
<polygon points="155.0,732.2 175.1,731.2 170.9,734.5 150.9,735.4" fill="#2d1d75"/>
<polygon points="324.4,746.0 344.3,751.0 339.1,750.4 319.4,745.9" fill="#2b1d75"/>
<polygon points="239.7,731.5 259.7,734.3 255.0,736.2 235.1,733.8" fill="#2b1d75"/>
<polygon points="134.8,734.1 155.0,732.2 150.9,735.4 130.8,737.1" fill="#2e1d75"/>
<polygon points="304.4,741.3 324.4,746.0 319.4,745.9 299.5,741.7" fill="#2b1d75"/>
<polygon points="219.6,729.4 239.7,731.5 235.1,733.8 215.2,732.1" fill="#2b1d75"/>
<polygon points="114.6,736.9 134.8,734.1 130.8,737.1 110.7,739.6" fill="#2e1d75"/>
<polygon points="199.5,728.2 219.6,729.4 215.2,732.1 195.1,731.2" fill="#2b1d75"/>
<polygon points="284.5,736.9 304.4,741.3 299.5,741.7 279.6,737.8" fill="#2b1d75"/>
<polygon points="94.3,740.4 114.6,736.9 110.7,739.6 90.5,742.6" fill="#2f1d75"/>
<polygon points="179.3,728.1 199.5,728.2 195.1,731.2 175.1,731.2" fill="#2c1d75"/>
<polygon points="264.4,732.9 284.5,736.9 279.6,737.8 259.7,734.3" fill="#2b1d75"/>
<polygon points="74.0,744.5 94.3,740.4 90.5,742.6 70.3,746.2" fill="#2f1d75"/>
<polygon points="159.1,729.2 179.3,728.1 175.1,731.2 155.0,732.2" fill="#2d1d75"/>
<polygon points="53.6,749.1 74.0,744.5 70.3,746.2 50.1,750.2" fill="#301d75"/>
<polygon points="329.4,746.5 349.4,752.0 344.3,751.0 324.4,746.0" fill="#2b1d75"/>
<polygon points="244.3,729.6 264.4,732.9 259.7,734.3 239.7,731.5" fill="#2b1d75"/>
<polygon points="33.2,754.0 53.6,749.1 50.1,750.2 29.8,754.6" fill="#301d75"/>
<polygon points="138.8,731.4 159.1,729.2 155.0,732.2 134.8,734.1" fill="#2e1d75"/>
<polygon points="309.4,741.4 329.4,746.5 324.4,746.0 304.4,741.3" fill="#2b1d75"/>
<polygon points="224.1,727.0 244.3,729.6 239.7,731.5 219.6,729.4" fill="#2b1d75"/>
<polygon points="12.8,759.2 33.2,754.0 29.8,754.6 9.5,759.2" fill="#548cf0"/>
<polygon points="118.5,734.6 138.8,731.4 134.8,734.1 114.6,736.9" fill="#2f1d75"/>
<polygon points="203.9,725.5 224.1,727.0 219.6,729.4 199.5,728.2" fill="#2b1d75"/>
<polygon points="289.3,736.5 309.4,741.4 304.4,741.3 284.5,736.9" fill="#2b1d75"/>
<polygon points="98.1,738.6 118.5,734.6 114.6,736.9 94.3,740.4" fill="#2f1d75"/>
<polygon points="183.6,725.2 203.9,725.5 199.5,728.2 179.3,728.1" fill="#2c1d75"/>
<polygon points="269.2,732.0 289.3,736.5 284.5,736.9 264.4,732.9" fill="#2b1d75"/>
<polygon points="77.7,743.2 98.1,738.6 94.3,740.4 74.0,744.5" fill="#301d75"/>
<polygon points="163.3,726.4 183.6,725.2 179.3,728.1 159.1,729.2" fill="#2d1d75"/>
<polygon points="57.2,748.2 77.7,743.2 74.0,744.5 53.6,749.1" fill="#301d75"/>
<polygon points="334.6,747.6 354.6,753.4 349.4,752.0 329.4,746.5" fill="#2b1d75"/>
<polygon points="249.0,728.1 269.2,732.0 264.4,732.9 244.3,729.6" fill="#2b1d75"/>
<polygon points="36.7,753.7 57.2,748.2 53.6,749.1 33.2,754.0" fill="#548cf0"/>
<polygon points="142.9,729.0 163.3,726.4 159.1,729.2 138.8,731.4" fill="#2e1d75"/>
<polygon points="314.4,742.0 334.6,747.6 329.4,746.5 309.4,741.4" fill="#2b1d75"/>
<polygon points="228.7,724.9 249.0,728.1 244.3,729.6 224.1,727.0" fill="#2b1d75"/>
<polygon points="16.2,759.5 36.7,753.7 33.2,754.0 12.8,759.2" fill="#548cf0"/>
<polygon points="122.4,732.6 142.9,729.0 138.8,731.4 118.5,734.6" fill="#2f1d75"/>
<polygon points="294.2,736.6 314.4,742.0 309.4,741.4 289.3,736.5" fill="#2b1d75"/>
<polygon points="208.3,723.0 228.7,724.9 224.1,727.0 203.9,725.5" fill="#2b1d75"/>
<polygon points="101.9,737.1 122.4,732.6 118.5,734.6 98.1,738.6" fill="#301d75"/>
<polygon points="187.9,722.6 208.3,723.0 203.9,725.5 183.6,725.2" fill="#2c1d75"/>
<polygon points="274.0,731.7 294.2,736.6 289.3,736.5 269.2,732.0" fill="#2b1d75"/>
<polygon points="81.4,742.2 101.9,737.1 98.1,738.6 77.7,743.2" fill="#301d75"/>
<polygon points="339.7,749.1 359.9,755.2 354.6,753.4 334.6,747.6" fill="#9bdaf6"/>
<polygon points="60.8,747.8 81.4,742.2 77.7,743.2 57.2,748.2" fill="#548cf0"/>
<polygon points="167.5,723.9 187.9,722.6 183.6,725.2 163.3,726.4" fill="#2d1d75"/>
<polygon points="253.7,727.2 274.0,731.7 269.2,732.0 249.0,728.1" fill="#2b1d75"/>
<polygon points="40.2,753.8 60.8,747.8 57.2,748.2 36.7,753.7" fill="#548cf0"/>
<polygon points="147.0,726.9 167.5,723.9 163.3,726.4 142.9,729.0" fill="#2e1d75"/>
<polygon points="319.5,743.2 339.7,749.1 334.6,747.6 314.4,742.0" fill="#2b1d75"/>
<polygon points="233.3,723.4 253.7,727.2 249.0,728.1 228.7,724.9" fill="#2b1d75"/>
<polygon points="19.6,760.1 40.2,753.8 36.7,753.7 16.2,759.5" fill="#548cf1"/>
<polygon points="126.4,731.0 147.0,726.9 142.9,729.0 122.4,732.6" fill="#2f1d75"/>
<polygon points="299.2,737.5 319.5,743.2 314.4,742.0 294.2,736.6" fill="#2b1d75"/>
<polygon points="212.8,720.8 233.3,723.4 228.7,724.9 208.3,723.0" fill="#2b1d75"/>
<polygon points="105.8,736.1 126.4,731.0 122.4,732.6 101.9,737.1" fill="#301d75"/>
<polygon points="278.8,732.1 299.2,737.5 294.2,736.6 274.0,731.7" fill="#2b1d75"/>
<polygon points="192.3,720.1 212.8,720.8 208.3,723.0 187.9,722.6" fill="#2b1d75"/>
<polygon points="85.2,741.8 105.8,736.1 101.9,737.1 81.4,742.2" fill="#548cf0"/>
<polygon points="345.0,751.2 365.2,757.6 359.9,755.2 339.7,749.1" fill="#9edff7"/>
<polygon points="64.5,747.9 85.2,741.8 81.4,742.2 60.8,747.8" fill="#548cf0"/>
<polygon points="171.8,721.7 192.3,720.1 187.9,722.6 167.5,723.9" fill="#2d1d75"/>
<polygon points="258.4,727.0 278.8,732.1 274.0,731.7 253.7,727.2" fill="#2b1d75"/>
<polygon points="43.8,754.3 64.5,747.9 60.8,747.8 40.2,753.8" fill="#548cf1"/>
<polygon points="151.1,725.2 171.8,721.7 167.5,723.9 147.0,726.9" fill="#2f1d75"/>
<polygon points="324.6,745.1 345.0,751.2 339.7,749.1 319.5,743.2" fill="#9cddf7"/>
<polygon points="237.9,722.5 258.4,727.0 253.7,727.2 233.3,723.4" fill="#2b1d75"/>
<polygon points="23.0,761.1 43.8,754.3 40.2,753.8 19.6,760.1" fill="#548cf1"/>
<polygon points="130.5,730.1 151.1,725.2 147.0,726.9 126.4,731.0" fill="#301d75"/>
<polygon points="304.2,739.2 324.6,745.1 319.5,743.2 299.2,737.5" fill="#9adaf7"/>
<polygon points="217.4,719.1 237.9,722.5 233.3,723.4 212.8,720.8" fill="#2b1d75"/>
<polygon points="109.8,735.7 130.5,730.1 126.4,731.0 105.8,736.1" fill="#548cf0"/>
<polygon points="283.8,733.5 304.2,739.2 299.2,737.5 278.8,732.1" fill="#98d6f6"/>
<polygon points="196.8,717.8 217.4,719.1 212.8,720.8 192.3,720.1" fill="#2b1d75"/>
<polygon points="89.0,741.9 109.8,735.7 105.8,736.1 85.2,741.8" fill="#548cf0"/>
<polygon points="350.2,754.0 370.6,760.4 365.2,757.6 345.0,751.2" fill="#a1e4f8"/>
<polygon points="68.2,748.5 89.0,741.9 85.2,741.8 64.5,747.9" fill="#548cf1"/>
<polygon points="176.1,719.8 196.8,717.8 192.3,720.1 171.8,721.7" fill="#2d1d75"/>
<polygon points="263.2,728.0 283.8,733.5 278.8,732.1 258.4,727.0" fill="#2b1d75"/>
<polygon points="47.4,755.4 68.2,748.5 64.5,747.9 43.8,754.3" fill="#548cf1"/>
<polygon points="329.8,747.8 350.2,754.0 345.0,751.2 324.6,745.1" fill="#a0e3f8"/>
<polygon points="155.4,724.3 176.1,719.8 171.8,721.7 151.1,725.2" fill="#2f1d75"/>
<polygon points="242.6,722.8 263.2,728.0 258.4,727.0 237.9,722.5" fill="#2b1d75"/>
<polygon points="26.5,762.5 47.4,755.4 43.8,754.3 23.0,761.1" fill="#548cf1"/>
<polygon points="134.6,729.9 155.4,724.3 151.1,725.2 130.5,730.1" fill="#548cf0"/>
<polygon points="309.3,741.8 329.8,747.8 324.6,745.1 304.2,739.2" fill="#9fe1f8"/>
<polygon points="222.0,718.2 242.6,722.8 237.9,722.5 217.4,719.1" fill="#2b1d75"/>
<polygon points="113.8,736.1 134.6,729.9 130.5,730.1 109.8,735.7" fill="#548cf1"/>
<polygon points="288.7,735.9 309.3,741.8 304.2,739.2 283.8,733.5" fill="#9ddff7"/>
<polygon points="92.9,742.8 113.8,736.1 109.8,735.7 89.0,741.9" fill="#548cf1"/>
<polygon points="201.2,715.8 222.0,718.2 217.4,719.1 196.8,717.8" fill="#2b1d75"/>
<polygon points="355.6,757.4 376.0,763.8 370.6,760.4 350.2,754.0" fill="#a4e9f8"/>
<polygon points="72.0,749.7 92.9,742.8 89.0,741.9 68.2,748.5" fill="#548cf1"/>
<polygon points="268.1,730.2 288.7,735.9 283.8,733.5 263.2,728.0" fill="#9cddf7"/>
<polygon points="180.5,718.8 201.2,715.8 196.8,717.8 176.1,719.8" fill="#2e1d75"/>
<polygon points="51.0,757.0 72.0,749.7 68.2,748.5 47.4,755.4" fill="#548cf2"/>
<polygon points="335.0,751.3 355.6,757.4 350.2,754.0 329.8,747.8" fill="#a3e8f8"/>
<polygon points="159.6,724.4 180.5,718.8 176.1,719.8 155.4,724.3" fill="#548cf0"/>
<polygon points="247.4,724.7 268.1,730.2 263.2,728.0 242.6,722.8" fill="#99daf7"/>
<polygon points="30.0,764.4 51.0,757.0 47.4,755.4 26.5,762.5" fill="#548cf2"/>
<polygon points="138.7,730.8 159.6,724.4 155.4,724.3 134.6,729.9" fill="#548cf1"/>
<polygon points="314.4,745.3 335.0,751.3 329.8,747.8 309.3,741.8" fill="#a3e8f9"/>
<polygon points="226.6,719.4 247.4,724.7 242.6,722.8 222.0,718.2" fill="#95d4f6"/>
<polygon points="117.8,737.5 138.7,730.8 134.6,729.9 113.8,736.1" fill="#548df2"/>
<polygon points="293.7,739.5 314.4,745.3 309.3,741.8 288.7,735.9" fill="#a2e8f9"/>
<polygon points="96.8,744.5 117.8,737.5 113.8,736.1 92.9,742.8" fill="#548ef2"/>
<polygon points="205.8,714.3 226.6,719.4 222.0,718.2 201.2,715.8" fill="#2b1d75"/>
<polygon points="360.9,761.5 381.5,767.8 376.0,763.8 355.6,757.4" fill="#a6edf9"/>
<polygon points="75.8,751.7 96.8,744.5 92.9,742.8 72.0,749.7" fill="#548ff2"/>
<polygon points="273.0,733.9 293.7,739.5 288.7,735.9 268.1,730.2" fill="#a2e8f9"/>
<polygon points="184.9,719.8 205.8,714.3 201.2,715.8 180.5,718.8" fill="#588ff1"/>
<polygon points="54.7,759.2 75.8,751.7 72.0,749.7 51.0,757.0" fill="#548ff2"/>
<polygon points="340.3,755.5 360.9,761.5 355.6,757.4 335.0,751.3" fill="#a6edf9"/>
<polygon points="163.9,726.3 184.9,719.8 180.5,718.8 159.6,724.4" fill="#5692f2"/>
<polygon points="252.2,728.7 273.0,733.9 268.1,730.2 247.4,724.7" fill="#a1e8f9"/>
<polygon points="33.6,766.8 54.7,759.2 51.0,757.0 30.0,764.4" fill="#548ff2"/>
<polygon points="142.9,733.0 163.9,726.3 159.6,724.4 138.7,730.8" fill="#5794f3"/>
<polygon points="319.6,749.7 340.3,755.5 335.0,751.3 314.4,745.3" fill="#a6eef9"/>
<polygon points="231.3,724.1 252.2,728.7 247.4,724.7 226.6,719.4" fill="#a2eaf9"/>
<polygon points="121.8,739.9 142.9,733.0 138.7,730.8 117.8,737.5" fill="#5695f3"/>
<polygon points="298.8,744.2 319.6,749.7 314.4,745.3 293.7,739.5" fill="#a6eefa"/>
<polygon points="100.8,747.1 121.8,739.9 117.8,737.5 96.8,744.5" fill="#5695f3"/>
<polygon points="210.3,721.6 231.3,724.1 226.6,719.4 205.8,714.3" fill="#a3f1fb"/>
<polygon points="366.4,766.2 387.1,772.2 381.5,767.8 360.9,761.5" fill="#a8f0fa"/>
<polygon points="79.6,754.4 100.8,747.1 96.8,744.5 75.8,751.7" fill="#5594f3"/>
<polygon points="277.9,739.0 298.8,744.2 293.7,739.5 273.0,733.9" fill="#a6f0fa"/>
<polygon points="189.3,724.7 210.3,721.6 205.8,714.3 184.9,719.8" fill="#76c3f8"/>
<polygon points="345.6,760.5 366.4,766.2 360.9,761.5 340.3,755.5" fill="#a8f1fa"/>
<polygon points="58.4,762.0 79.6,754.4 75.8,751.7 54.7,759.2" fill="#5494f3"/>
<polygon points="168.3,730.4 189.3,724.7 184.9,719.8 163.9,726.3" fill="#64aaf6"/>
<polygon points="257.0,734.4 277.9,739.0 273.0,733.9 252.2,728.7" fill="#a6f2fa"/>
<polygon points="37.2,769.8 58.4,762.0 54.7,759.2 33.6,766.8" fill="#5493f3"/>
<polygon points="147.1,736.8 168.3,730.4 163.9,726.3 142.9,733.0" fill="#5fa3f5"/>
<polygon points="324.8,755.0 345.6,760.5 340.3,755.5 319.6,749.7" fill="#a8f2fa"/>
<polygon points="236.0,730.9 257.0,734.4 252.2,728.7 231.3,724.1" fill="#a6f4fb"/>
<polygon points="126.0,743.6 147.1,736.8 142.9,733.0 121.8,739.9" fill="#5da0f4"/>
<polygon points="303.9,749.9 324.8,755.0 319.6,749.7 298.8,744.2" fill="#a8f3fb"/>
<polygon points="215.0,729.6 236.0,730.9 231.3,724.1 210.3,721.6" fill="#9ff1fc"/>
<polygon points="104.8,750.7 126.0,743.6 121.8,739.9 100.8,747.1" fill="#5b9df4"/>
<polygon points="371.9,771.5 392.7,777.2 387.1,772.2 366.4,766.2" fill="#a8f2fa"/>
<polygon points="282.9,745.2 303.9,749.9 298.8,744.2 277.9,739.0" fill="#a8f5fb"/>
<polygon points="83.5,758.0 104.8,750.7 100.8,747.1 79.6,754.4" fill="#599bf4"/>
<polygon points="193.8,731.7 215.0,729.6 210.3,721.6 189.3,724.7" fill="#87d8fb"/>
<polygon points="351.0,766.1 371.9,771.5 366.4,766.2 345.6,760.5" fill="#a9f4fa"/>
<polygon points="62.2,765.5 83.5,758.0 79.6,754.4 58.4,762.0" fill="#5899f4"/>
<polygon points="172.6,736.3 193.8,731.7 189.3,724.7 168.3,730.4" fill="#73c0f8"/>
<polygon points="261.9,741.4 282.9,745.2 277.9,739.0 257.0,734.4" fill="#a7f6fc"/>
<polygon points="40.9,773.3 62.2,765.5 58.4,762.0 37.2,769.8" fill="#5698f4"/>
<polygon points="151.4,742.0 172.6,736.3 168.3,730.4 147.1,736.8" fill="#6ab3f7"/>
<polygon points="330.1,761.1 351.0,766.1 345.6,760.5 324.8,755.0" fill="#a9f5fb"/>
<polygon points="240.8,738.7 261.9,741.4 257.0,734.4 236.0,730.9" fill="#a5f7fc"/>
<polygon points="130.1,748.4 151.4,742.0 147.1,736.8 126.0,743.6" fill="#64abf6"/>
<polygon points="309.0,756.4 330.1,761.1 324.8,755.0 303.9,749.9" fill="#a9f7fb"/>
<polygon points="219.6,738.0 240.8,738.7 236.0,730.9 215.0,729.6" fill="#9df0fc"/>
<polygon points="108.8,755.2 130.1,748.4 126.0,743.6 104.8,750.7" fill="#61a6f5"/>
<polygon points="377.4,777.4 398.4,782.6 392.7,777.2 371.9,771.5" fill="#a8f4fb"/>
<polygon points="288.0,752.4 309.0,756.4 303.9,749.9 282.9,745.2" fill="#a9f8fc"/>
<polygon points="87.4,762.4 108.8,755.2 104.8,750.7 83.5,758.0" fill="#5ea3f5"/>
<polygon points="198.4,739.7 219.6,738.0 215.0,729.6 193.8,731.7" fill="#8de0fb"/>
<polygon points="356.4,772.4 377.4,777.4 371.9,771.5 351.0,766.1" fill="#a9f6fb"/>
<polygon points="66.0,769.8 87.4,762.4 83.5,758.0 62.2,765.5" fill="#5ca0f5"/>
<polygon points="177.1,743.4 198.4,739.7 193.8,731.7 172.6,736.3" fill="#7ecefa"/>
<polygon points="266.8,749.1 288.0,752.4 282.9,745.2 261.9,741.4" fill="#a7f9fc"/>
<polygon points="44.6,777.4 66.0,769.8 62.2,765.5 40.9,773.3" fill="#5a9df4"/>
<polygon points="155.7,748.4 177.1,743.4 172.6,736.3 151.4,742.0" fill="#73c0f8"/>
<polygon points="335.4,767.8 356.4,772.4 351.0,766.1 330.1,761.1" fill="#a9f8fb"/>
<polygon points="245.6,747.1 266.8,749.1 261.9,741.4 240.8,738.7" fill="#a4f7fc"/>
<polygon points="134.3,754.3 155.7,748.4 151.4,742.0 130.1,748.4" fill="#6cb6f7"/>
<polygon points="314.3,763.7 335.4,767.8 330.1,761.1 309.0,756.4" fill="#a9f9fc"/>
<polygon points="224.3,746.7 245.6,747.1 240.8,738.7 219.6,738.0" fill="#9cf1fc"/>
<polygon points="112.9,760.7 134.3,754.3 130.1,748.4 108.8,755.2" fill="#67b0f7"/>
<polygon points="383.0,783.7 404.1,788.5 398.4,782.6 377.4,777.4" fill="#a8f5fb"/>
<polygon points="293.1,760.2 314.3,763.7 309.0,756.4 288.0,752.4" fill="#a9fafc"/>
<polygon points="203.0,748.1 224.3,746.7 219.6,738.0 198.4,739.7" fill="#91e5fc"/>
<polygon points="91.4,767.5 112.9,760.7 108.8,755.2 87.4,762.4" fill="#63abf6"/>
<polygon points="361.9,779.3 383.0,783.7 377.4,777.4 356.4,772.4" fill="#a9f7fb"/>
<polygon points="69.9,774.6 91.4,767.5 87.4,762.4 66.0,769.8" fill="#60a6f6"/>
<polygon points="181.6,751.3 203.0,748.1 198.4,739.7 177.1,743.4" fill="#84d7fb"/>
<polygon points="271.8,757.5 293.1,760.2 288.0,752.4 266.8,749.1" fill="#a7fafc"/>
<polygon points="48.3,782.1 69.9,774.6 66.0,769.8 44.6,777.4" fill="#5da3f5"/>
<polygon points="160.1,755.7 181.6,751.3 177.1,743.4 155.7,748.4" fill="#7acafa"/>
<polygon points="340.8,775.2 361.9,779.3 356.4,772.4 335.4,767.8" fill="#a9f9fc"/>
<polygon points="250.5,755.9 271.8,757.5 266.8,749.1 245.6,747.1" fill="#a3f7fc"/>
<polygon points="138.6,761.0 160.1,755.7 155.7,748.4 134.3,754.3" fill="#73c0f9"/>
<polygon points="319.5,771.6 340.8,775.2 335.4,767.8 314.3,763.7" fill="#a9fafc"/>
<polygon points="229.1,755.7 250.5,755.9 245.6,747.1 224.3,746.7" fill="#9cf1fc"/>
<polygon points="117.0,766.9 138.6,761.0 134.3,754.3 112.9,760.7" fill="#6db9f8"/>
<polygon points="388.7,790.6 409.9,794.8 404.1,788.5 383.0,783.7" fill="#a7f5fb"/>
<polygon points="298.2,768.6 319.5,771.6 314.3,763.7 293.1,760.2" fill="#a8fbfc"/>
<polygon points="207.6,757.0 229.1,755.7 224.3,746.7 203.0,748.1" fill="#93e8fc"/>
<polygon points="95.4,773.4 117.0,766.9 112.9,760.7 91.4,767.5" fill="#69b2f7"/>
<polygon points="367.5,786.6 388.7,790.6 383.0,783.7 361.9,779.3" fill="#a8f7fc"/>
<polygon points="186.1,759.8 207.6,757.0 203.0,748.1 181.6,751.3" fill="#89ddfb"/>
<polygon points="73.8,780.1 95.4,773.4 91.4,767.5 69.9,774.6" fill="#65adf6"/>
<polygon points="276.8,766.4 298.2,768.6 293.1,760.2 271.8,757.5" fill="#a6fafc"/>
<polygon points="52.1,787.2 73.8,780.1 69.9,774.6 48.3,782.1" fill="#62a9f6"/>
<polygon points="164.5,763.6 186.1,759.8 181.6,751.3 160.1,755.7" fill="#80d2fa"/>
<polygon points="346.2,783.1 367.5,786.6 361.9,779.3 340.8,775.2" fill="#a8fafc"/>
<polygon points="255.4,765.2 276.8,766.4 271.8,757.5 250.5,755.9" fill="#a2f8fc"/>
<polygon points="142.9,768.4 164.5,763.6 160.1,755.7 138.6,761.0" fill="#79c9f9"/>
<polygon points="324.9,780.0 346.2,783.1 340.8,775.2 319.5,771.6" fill="#a8fbfc"/>
<polygon points="233.9,765.1 255.4,765.2 250.5,755.9 229.1,755.7" fill="#9cf2fc"/>
<polygon points="121.2,773.9 142.9,768.4 138.6,761.0 117.0,766.9" fill="#73c1f9"/>
<polygon points="394.4,797.8 415.7,801.5 409.9,794.8 388.7,790.6" fill="#a6f4fb"/>
<polygon points="303.4,777.5 324.9,780.0 319.5,771.6 298.2,768.6" fill="#a7fbfc"/>
<polygon points="212.3,766.3 233.9,765.1 229.1,755.7 207.6,757.0" fill="#95ebfc"/>
<polygon points="99.5,779.8 121.2,773.9 117.0,766.9 95.4,773.4" fill="#6ebaf8"/>
<polygon points="373.1,794.5 394.4,797.8 388.7,790.6 367.5,786.6" fill="#a7f7fc"/>
<polygon points="190.7,768.7 212.3,766.3 207.6,757.0 186.1,759.8" fill="#8de2fc"/>
<polygon points="281.9,775.7 303.4,777.5 298.2,768.6 276.8,766.4" fill="#a5fbfc"/>
<polygon points="77.7,786.2 99.5,779.8 95.4,773.4 73.8,780.1" fill="#6ab4f7"/>
<polygon points="169.0,772.2 190.7,768.7 186.1,759.8 164.5,763.6" fill="#85d8fb"/>
<polygon points="55.9,792.9 77.7,786.2 73.8,780.1 52.1,787.2" fill="#66aff7"/>
<polygon points="351.7,791.4 373.1,794.5 367.5,786.6 346.2,783.1" fill="#a7fafc"/>
<polygon points="260.4,774.8 281.9,775.7 276.8,766.4 255.4,765.2" fill="#a2f8fc"/>
<polygon points="147.3,776.5 169.0,772.2 164.5,763.6 142.9,768.4" fill="#7ed0fa"/>
<polygon points="330.2,788.9 351.7,791.4 346.2,783.1 324.9,780.0" fill="#a7fbfc"/>
<polygon points="238.8,774.9 260.4,774.8 255.4,765.2 233.9,765.1" fill="#9df4fc"/>
<polygon points="125.5,781.4 147.3,776.5 142.9,768.4 121.2,773.9" fill="#78c8f9"/>
<polygon points="217.1,776.0 238.8,774.9 233.9,765.1 212.3,766.3" fill="#97edfc"/>
<polygon points="308.7,786.8 330.2,788.9 324.9,780.0 303.4,777.5" fill="#a6fcfc"/>
<polygon points="103.6,786.9 125.5,781.4 121.2,773.9 99.5,779.8" fill="#73c1f9"/>
<polygon points="195.3,778.2 217.1,776.0 212.3,766.3 190.7,768.7" fill="#90e6fc"/>
<polygon points="287.1,785.4 308.7,786.8 303.4,777.5 281.9,775.7" fill="#a4fbfc"/>
<polygon points="81.7,792.8 103.6,786.9 99.5,779.8 77.7,786.2" fill="#6ebaf8"/>
<polygon points="173.5,781.2 195.3,778.2 190.7,768.7 169.0,772.2" fill="#89defc"/>
<polygon points="59.8,799.1 81.7,792.8 77.7,786.2 55.9,792.9" fill="#6ab5f7"/>
<polygon points="265.4,784.8 287.1,785.4 281.9,775.7 260.4,774.8" fill="#a1f9fc"/>
<polygon points="151.7,785.1 173.5,781.2 169.0,772.2 147.3,776.5" fill="#83d6fb"/>
<polygon points="243.7,785.0 265.4,784.8 260.4,774.8 238.8,774.9" fill="#9df5fc"/>
<polygon points="129.8,789.5 151.7,785.1 147.3,776.5 125.5,781.4" fill="#7dcefa"/>
<polygon points="221.9,786.1 243.7,785.0 238.8,774.9 217.1,776.0" fill="#98effc"/>
<polygon points="107.8,794.5 129.8,789.5 125.5,781.4 103.6,786.9" fill="#78c7f9"/>
<polygon points="200.0,788.0 221.9,786.1 217.1,776.0 195.3,778.2" fill="#92e9fc"/>
<polygon points="85.8,799.9 107.8,794.5 103.6,786.9 81.7,792.8" fill="#73c1f9"/>
<polygon points="178.1,790.7 200.0,788.0 195.3,778.2 173.5,781.2" fill="#8de2fc"/>
<polygon points="63.7,805.6 85.8,799.9 81.7,792.8 59.8,799.1" fill="#6fbbf8"/>
<polygon points="156.1,794.1 178.1,790.7 173.5,781.2 151.7,785.1" fill="#87dbfb"/>
<polygon points="134.1,798.1 156.1,794.1 151.7,785.1 129.8,789.5" fill="#82d4fb"/>
<polygon points="112.0,802.6 134.1,798.1 129.8,789.5 107.8,794.5" fill="#7dcdfa"/>
<polygon points="89.9,807.4 112.0,802.6 107.8,794.5 85.8,799.9" fill="#78c7f9"/>
<polygon points="67.7,812.6 89.9,807.4 85.8,799.9 63.7,805.6" fill="#74c1f8"/>
<polygon points="315.2,639.9 335.0,635.9 330.0,630.3 310.3,633.7" fill="#7bc9f9"/>
<polygon points="295.3,643.6 315.2,639.9 310.3,633.7 290.5,636.9" fill="#7fcffa"/>
<polygon points="275.4,647.1 295.3,643.6 290.5,636.9 270.7,639.9" fill="#83d5fb"/>
<polygon points="255.5,650.2 275.4,647.1 270.7,639.9 250.9,642.5" fill="#87dafb"/>
<polygon points="235.5,652.8 255.5,650.2 250.9,642.5 231.0,644.8" fill="#8be0fc"/>
<polygon points="320.1,645.8 340.1,641.2 335.0,635.9 315.2,639.9" fill="#76c3f9"/>
<polygon points="215.4,655.0 235.5,652.8 231.0,644.8 211.0,646.6" fill="#90e6fc"/>
<polygon points="300.2,650.1 320.1,645.8 315.2,639.9 295.3,643.6" fill="#7ac9f9"/>
<polygon points="195.3,656.5 215.4,655.0 211.0,646.6 191.1,647.9" fill="#94ebfc"/>
<polygon points="280.1,654.0 300.2,650.1 295.3,643.6 275.4,647.1" fill="#7ecffa"/>
<polygon points="175.2,657.4 195.3,656.5 191.1,647.9 171.0,648.7" fill="#98f0fc"/>
<polygon points="260.1,657.6 280.1,654.0 275.4,647.1 255.5,650.2" fill="#83d5fb"/>
<polygon points="155.0,657.4 175.2,657.4 171.0,648.7 150.9,648.8" fill="#9df4fc"/>
<polygon points="240.0,660.7 260.1,657.6 255.5,650.2 235.5,652.8" fill="#88dbfb"/>
<polygon points="325.1,651.4 345.2,646.3 340.1,641.2 320.1,645.8" fill="#72bdf8"/>
<polygon points="134.8,656.6 155.0,657.4 150.9,648.8 130.8,648.2" fill="#a1f8fc"/>
<polygon points="219.9,663.2 240.0,660.7 235.5,652.8 215.4,655.0" fill="#8de2fc"/>
<polygon points="305.0,656.2 325.1,651.4 320.1,645.8 300.2,650.1" fill="#75c3f9"/>
<polygon points="114.5,654.8 134.8,656.6 130.8,648.2 110.6,646.8" fill="#a4fbfc"/>
<polygon points="199.7,664.9 219.9,663.2 215.4,655.0 195.3,656.5" fill="#92e8fc"/>
<polygon points="284.9,660.6 305.0,656.2 300.2,650.1 280.1,654.0" fill="#7ac9f9"/>
<polygon points="94.2,652.4 114.5,654.8 110.6,646.8 90.4,644.8" fill="#a6fbfc"/>
<polygon points="179.4,665.9 199.7,664.9 195.3,656.5 175.2,657.4" fill="#97edfc"/>
<polygon points="264.8,664.7 284.9,660.6 280.1,654.0 260.1,657.6" fill="#7ecffa"/>
<polygon points="159.2,665.9 179.4,665.9 175.2,657.4 155.0,657.4" fill="#9cf3fc"/>
<polygon points="73.8,649.4 94.2,652.4 90.4,644.8 70.1,642.2" fill="#a7fbfc"/>
<polygon points="244.6,668.2 264.8,664.7 260.1,657.6 240.0,660.7" fill="#84d6fb"/>
<polygon points="138.8,664.8 159.2,665.9 155.0,657.4 134.8,656.6" fill="#a1f8fc"/>
<polygon points="330.2,656.6 350.3,651.1 345.2,646.3 325.1,651.4" fill="#6db7f7"/>
<polygon points="53.3,645.9 73.8,649.4 70.1,642.2 49.8,639.3" fill="#a7fafc"/>
<polygon points="224.3,671.1 244.6,668.2 240.0,660.7 219.9,663.2" fill="#89ddfb"/>
<polygon points="310.0,661.9 330.2,656.6 325.1,651.4 305.0,656.2" fill="#71bcf8"/>
<polygon points="118.4,662.7 138.8,664.8 134.8,656.6 114.5,654.8" fill="#a5fafc"/>
<polygon points="204.0,673.2 224.3,671.1 219.9,663.2 199.7,664.9" fill="#8fe4fc"/>
<polygon points="32.8,642.0 53.3,645.9 49.8,639.3 29.3,635.9" fill="#a7f8fc"/>
<polygon points="289.8,666.8 310.0,661.9 305.0,656.2 284.9,660.6" fill="#75c2f9"/>
<polygon points="183.7,674.3 204.0,673.2 199.7,664.9 179.4,665.9" fill="#95ebfc"/>
<polygon points="98.0,659.8 118.4,662.7 114.5,654.8 94.2,652.4" fill="#a7fbfc"/>
<polygon points="12.2,637.8 32.8,642.0 29.3,635.9 8.9,632.3" fill="#a6f5fb"/>
<polygon points="269.5,671.4 289.8,666.8 284.9,660.6 264.8,664.7" fill="#79c8f9"/>
<polygon points="163.3,674.2 183.7,674.3 179.4,665.9 159.2,665.9" fill="#9bf2fc"/>
<polygon points="77.5,656.2 98.0,659.8 94.2,652.4 73.8,649.4" fill="#a8fbfc"/>
<polygon points="249.2,675.5 269.5,671.4 264.8,664.7 244.6,668.2" fill="#7fcffa"/>
<polygon points="142.9,672.7 163.3,674.2 159.2,665.9 138.8,664.8" fill="#a1f7fc"/>
<polygon points="335.3,661.4 355.5,655.5 350.3,651.1 330.2,656.6" fill="#68b1f7"/>
<polygon points="57.0,652.2 77.5,656.2 73.8,649.4 53.3,645.9" fill="#a8fafc"/>
<polygon points="228.9,678.8 249.2,675.5 244.6,668.2 224.3,671.1" fill="#85d7fb"/>
<polygon points="315.0,667.1 335.3,661.4 330.2,656.6 310.0,661.9" fill="#6cb5f7"/>
<polygon points="122.4,670.2 142.9,672.7 138.8,664.8 118.4,662.7" fill="#a5fafc"/>
<polygon points="208.5,681.3 228.9,678.8 224.3,671.1 204.0,673.2" fill="#8ce0fc"/>
<polygon points="36.3,647.8 57.0,652.2 53.3,645.9 32.8,642.0" fill="#a8f8fc"/>
<polygon points="294.7,672.5 315.0,667.1 310.0,661.9 289.8,666.8" fill="#6fbaf8"/>
<polygon points="188.0,682.5 208.5,681.3 204.0,673.2 183.7,674.3" fill="#93e8fc"/>
<polygon points="101.9,666.8 122.4,670.2 118.4,662.7 98.0,659.8" fill="#a8fbfc"/>
<polygon points="15.7,643.1 36.3,647.8 32.8,642.0 12.2,637.8" fill="#a7f5fb"/>
<polygon points="274.3,677.6 294.7,672.5 289.8,666.8 269.5,671.4" fill="#74c0f8"/>
<polygon points="167.6,682.3 188.0,682.5 183.7,674.3 163.3,674.2" fill="#9bf0fc"/>
<polygon points="81.3,662.7 101.9,666.8 98.0,659.8 77.5,656.2" fill="#a9fafc"/>
<polygon points="253.9,682.2 274.3,677.6 269.5,671.4 249.2,675.5" fill="#79c8f9"/>
<polygon points="147.0,680.4 167.6,682.3 163.3,674.2 142.9,672.7" fill="#a2f7fc"/>
<polygon points="60.6,658.2 81.3,662.7 77.5,656.2 57.0,652.2" fill="#a9f9fc"/>
<polygon points="340.4,665.7 360.8,659.4 355.5,655.5 335.3,661.4" fill="#64aaf6"/>
<polygon points="233.4,686.2 253.9,682.2 249.2,675.5 228.9,678.8" fill="#80d0fa"/>
<polygon points="126.4,677.3 147.0,680.4 142.9,672.7 122.4,670.2" fill="#a6fafc"/>
<polygon points="320.0,671.7 340.4,665.7 335.3,661.4 315.0,667.1" fill="#67aef6"/>
<polygon points="212.9,689.1 233.4,686.2 228.9,678.8 208.5,681.3" fill="#88dafb"/>
<polygon points="39.9,653.3 60.6,658.2 57.0,652.2 36.3,647.8" fill="#a9f7fb"/>
<polygon points="299.6,677.5 320.0,671.7 315.0,667.1 294.7,672.5" fill="#6ab2f7"/>
<polygon points="192.4,690.6 212.9,689.1 208.5,681.3 188.0,682.5" fill="#91e5fc"/>
<polygon points="105.8,673.4 126.4,677.3 122.4,670.2 101.9,666.8" fill="#a8fafc"/>
<polygon points="19.1,648.1 39.9,653.3 36.3,647.8 15.7,643.1" fill="#a8f5fb"/>
<polygon points="279.1,683.1 299.6,677.5 294.7,672.5 274.3,677.6" fill="#6db7f7"/>
<polygon points="171.8,690.1 192.4,690.6 188.0,682.5 167.6,682.3" fill="#9beffc"/>
<polygon points="85.1,668.8 105.8,673.4 101.9,666.8 81.3,662.7" fill="#a9f9fc"/>
<polygon points="258.6,688.3 279.1,683.1 274.3,677.6 253.9,682.2" fill="#72bef8"/>
<polygon points="151.2,687.7 171.8,690.1 167.6,682.3 147.0,680.4" fill="#a3f7fc"/>
<polygon points="64.3,663.8 85.1,668.8 81.3,662.7 60.6,658.2" fill="#a9f8fb"/>
<polygon points="238.1,692.9 258.6,688.3 253.9,682.2 233.4,686.2" fill="#79c7f9"/>
<polygon points="345.7,669.3 366.1,662.9 360.8,659.4 340.4,665.7" fill="#60a4f5"/>
<polygon points="130.5,683.9 151.2,687.7 147.0,680.4 126.4,677.3" fill="#a7f9fc"/>
<polygon points="217.5,696.6 238.1,692.9 233.4,686.2 212.9,689.1" fill="#82d3fa"/>
<polygon points="325.2,675.6 345.7,669.3 340.4,665.7 320.0,671.7" fill="#62a7f5"/>
<polygon points="43.5,658.4 64.3,663.8 60.6,658.2 39.9,653.3" fill="#a9f6fb"/>
<polygon points="304.6,681.7 325.2,675.6 320.0,671.7 299.6,677.5" fill="#64aaf6"/>
<polygon points="196.8,698.5 217.5,696.6 212.9,689.1 192.4,690.6" fill="#8ee1fb"/>
<polygon points="109.7,679.4 130.5,683.9 126.4,677.3 105.8,673.4" fill="#a9f8fc"/>
<polygon points="22.6,652.7 43.5,658.4 39.9,653.3 19.1,648.1" fill="#a9f4fb"/>
<polygon points="284.0,687.6 304.6,681.7 299.6,677.5 279.1,683.1" fill="#67aef6"/>
<polygon points="176.1,697.6 196.8,698.5 192.4,690.6 171.8,690.1" fill="#9beffc"/>
<polygon points="88.9,674.3 109.7,679.4 105.8,673.4 85.1,668.8" fill="#a9f7fb"/>
<polygon points="263.4,693.3 284.0,687.6 279.1,683.1 258.6,688.3" fill="#6ab2f7"/>
<polygon points="155.4,694.3 176.1,697.6 171.8,690.1 151.2,687.7" fill="#a4f6fc"/>
<polygon points="242.7,698.7 263.4,693.3 258.6,688.3 238.1,692.9" fill="#70baf7"/>
<polygon points="68.0,668.8 88.9,674.3 85.1,668.8 64.3,663.8" fill="#a9f6fb"/>
<polygon points="351.0,672.3 371.5,665.8 366.1,662.9 345.7,669.3" fill="#5c9ef4"/>
<polygon points="134.6,689.8 155.4,694.3 151.2,687.7 130.5,683.9" fill="#a7f7fc"/>
<polygon points="222.0,703.4 242.7,698.7 238.1,692.9 217.5,696.6" fill="#78c6f9"/>
<polygon points="330.3,678.7 351.0,672.3 345.7,669.3 325.2,675.6" fill="#5d9ff4"/>
<polygon points="47.1,663.1 68.0,668.8 64.3,663.8 43.5,658.4" fill="#a9f4fb"/>
<polygon points="201.3,706.3 222.0,703.4 217.5,696.6 196.8,698.5" fill="#88d9fb"/>
<polygon points="309.7,684.9 330.3,678.7 325.2,675.6 304.6,681.7" fill="#5fa1f4"/>
<polygon points="113.7,684.7 134.6,689.8 130.5,683.9 109.7,679.4" fill="#a8f5fb"/>
<polygon points="26.1,657.0 47.1,663.1 43.5,658.4 22.6,652.7" fill="#a8f3fa"/>
<polygon points="289.0,691.0 309.7,684.9 304.6,681.7 284.0,687.6" fill="#60a3f5"/>
<polygon points="180.5,704.4 201.3,706.3 196.8,698.5 176.1,697.6" fill="#9deffc"/>
<polygon points="92.8,679.2 113.7,684.7 109.7,679.4 88.9,674.3" fill="#a8f4fb"/>
<polygon points="268.3,696.9 289.0,691.0 284.0,687.6 263.4,693.3" fill="#62a6f5"/>
<polygon points="159.6,699.9 180.5,704.4 176.1,697.6 155.4,694.3" fill="#a6f4fb"/>
<polygon points="71.8,673.3 92.8,679.2 88.9,674.3 68.0,668.8" fill="#a8f2fa"/>
<polygon points="247.5,702.6 268.3,696.9 263.4,693.3 242.7,698.7" fill="#65a9f5"/>
<polygon points="356.3,674.5 377.0,668.0 371.5,665.8 351.0,672.3" fill="#5998f3"/>
<polygon points="138.7,694.7 159.6,699.9 155.4,694.3 134.6,689.8" fill="#a6f2fb"/>
<polygon points="226.7,708.2 247.5,702.6 242.7,698.7 222.0,703.4" fill="#6ab0f6"/>
<polygon points="335.6,680.8 356.3,674.5 351.0,672.3 330.3,678.7" fill="#5998f3"/>
<polygon points="50.8,667.2 71.8,673.3 68.0,668.8 47.1,663.1" fill="#a8f1fa"/>
<polygon points="205.8,713.6 226.7,708.2 222.0,703.4 201.3,706.3" fill="#77c4f8"/>
<polygon points="314.8,687.0 335.6,680.8 330.3,678.7 309.7,684.9" fill="#5998f3"/>
<polygon points="117.8,689.1 138.7,694.7 134.6,689.8 113.7,684.7" fill="#a6f0fa"/>
<polygon points="29.6,660.9 50.8,667.2 47.1,663.1 26.1,657.0" fill="#a8f0fa"/>
<polygon points="294.0,692.9 314.8,687.0 309.7,684.9 289.0,691.0" fill="#5a98f3"/>
<polygon points="184.9,709.2 205.8,713.6 201.3,706.3 180.5,704.4" fill="#a0eefb"/>
<polygon points="96.7,683.3 117.8,689.1 113.7,684.7 92.8,679.2" fill="#a6effa"/>
<polygon points="273.2,698.6 294.0,692.9 289.0,691.0 268.3,696.9" fill="#5a98f3"/>
<polygon points="163.9,703.8 184.9,709.2 180.5,704.4 159.6,699.9" fill="#a2eaf9"/>
<polygon points="75.6,677.2 96.7,683.3 92.8,679.2 71.8,673.3" fill="#a6eef9"/>
<polygon points="252.3,704.1 273.2,698.6 268.3,696.9 247.5,702.6" fill="#5a97f3"/>
<polygon points="361.7,675.9 382.5,669.7 377.0,668.0 356.3,674.5" fill="#5693f2"/>
<polygon points="142.9,698.3 163.9,703.8 159.6,699.9 138.7,694.7" fill="#a1e8f9"/>
<polygon points="231.4,708.9 252.3,704.1 247.5,702.6 226.7,708.2" fill="#5995f2"/>
<polygon points="340.9,682.0 361.7,675.9 356.3,674.5 335.6,680.8" fill="#5692f2"/>
<polygon points="54.5,670.8 75.6,677.2 71.8,673.3 50.8,667.2" fill="#a6edf9"/>
<polygon points="210.4,711.8 231.4,708.9 226.7,708.2 205.8,713.6" fill="#578df0"/>
<polygon points="121.8,692.5 142.9,698.3 138.7,694.7 117.8,689.1" fill="#a2e8f9"/>
<polygon points="320.0,687.9 340.9,682.0 335.6,680.8 314.8,687.0" fill="#5591f2"/>
<polygon points="33.2,664.3 54.5,670.8 50.8,667.2 29.6,660.9" fill="#a6edf9"/>
<polygon points="299.1,693.5 320.0,687.9 314.8,687.0 294.0,692.9" fill="#558ff2"/>
<polygon points="189.4,709.9 210.4,711.8 205.8,713.6 184.9,709.2" fill="#2b1d75"/>
<polygon points="100.7,686.5 121.8,692.5 117.8,689.1 96.7,683.3" fill="#a2e8f9"/>
<polygon points="278.2,698.7 299.1,693.5 294.0,692.9 273.2,698.6" fill="#558ef1"/>
<polygon points="168.3,705.4 189.4,709.9 184.9,709.2 163.9,703.8" fill="#92d0f6"/>
<polygon points="79.5,680.3 100.7,686.5 96.7,683.3 75.6,677.2" fill="#a3e8f9"/>
<polygon points="257.2,703.5 278.2,698.7 273.2,698.6 252.3,704.1" fill="#548cf1"/>
<polygon points="367.2,676.7 388.1,670.8 382.5,669.7 361.7,675.9" fill="#5590f2"/>
<polygon points="147.2,700.1 168.3,705.4 163.9,703.8 142.9,698.3" fill="#98d7f6"/>
<polygon points="236.1,707.2 257.2,703.5 252.3,704.1 231.4,708.9" fill="#2f1d75"/>
<polygon points="58.2,673.8 79.5,680.3 75.6,677.2 54.5,670.8" fill="#a3e8f8"/>
<polygon points="346.3,682.3 367.2,676.7 361.7,675.9 340.9,682.0" fill="#548ef1"/>
<polygon points="215.0,709.2 236.1,707.2 231.4,708.9 210.4,711.8" fill="#2e1d75"/>
<polygon points="126.0,694.5 147.2,700.1 142.9,698.3 121.8,692.5" fill="#9adbf7"/>
<polygon points="325.3,687.8 346.3,682.3 340.9,682.0 320.0,687.9" fill="#548cf1"/>
<polygon points="36.8,667.2 58.2,673.8 54.5,670.8 33.2,664.3" fill="#a4e9f8"/>
<polygon points="304.3,692.9 325.3,687.8 320.0,687.9 299.1,693.5" fill="#548cf1"/>
<polygon points="193.9,708.3 215.0,709.2 210.4,711.8 189.4,709.9" fill="#2b1d75"/>
<polygon points="104.7,688.6 126.0,694.5 121.8,692.5 100.7,686.5" fill="#9cdef7"/>
<polygon points="283.2,697.6 304.3,692.9 299.1,693.5 278.2,698.7" fill="#548cf0"/>
<polygon points="172.7,704.9 193.9,708.3 189.4,709.9 168.3,705.4" fill="#2b1d75"/>
<polygon points="83.4,682.5 104.7,688.6 100.7,686.5 79.5,680.3" fill="#9ee0f7"/>
<polygon points="262.1,701.6 283.2,697.6 278.2,698.7 257.2,703.5" fill="#301d75"/>
<polygon points="372.8,676.7 393.8,671.3 388.1,670.8 367.2,676.7" fill="#558ef1"/>
<polygon points="151.5,700.4 172.7,704.9 168.3,705.4 147.2,700.1" fill="#2b1d75"/>
<polygon points="240.9,704.6 262.1,701.6 257.2,703.5 236.1,707.2" fill="#2f1d75"/>
<polygon points="62.0,676.1 83.4,682.5 79.5,680.3 58.2,673.8" fill="#9fe2f7"/>
<polygon points="351.8,681.9 372.8,676.7 367.2,676.7 346.3,682.3" fill="#548cf1"/>
<polygon points="130.1,695.3 151.5,700.4 147.2,700.1 126.0,694.5" fill="#2b1d75"/>
<polygon points="219.7,706.1 240.9,704.6 236.1,707.2 215.0,709.2" fill="#2d1d75"/>
<polygon points="330.7,686.9 351.8,681.9 346.3,682.3 325.3,687.8" fill="#548cf0"/>
<polygon points="40.5,669.5 62.0,676.1 58.2,673.8 36.8,667.2" fill="#a1e3f8"/>
<polygon points="309.5,691.4 330.7,686.9 325.3,687.8 304.3,692.9" fill="#548cf0"/>
<polygon points="198.5,705.7 219.7,706.1 215.0,709.2 193.9,708.3" fill="#2b1d75"/>
<polygon points="108.8,689.7 130.1,695.3 126.0,694.5 104.7,688.6" fill="#2b1d75"/>
<polygon points="288.3,695.5 309.5,691.4 304.3,692.9 283.2,697.6" fill="#301d75"/>
<polygon points="177.2,703.2 198.5,705.7 193.9,708.3 172.7,704.9" fill="#2b1d75"/>
<polygon points="87.3,683.8 108.8,689.7 104.7,688.6 83.4,682.5" fill="#98d7f6"/>
<polygon points="267.1,698.9 288.3,695.5 283.2,697.6 262.1,701.6" fill="#2f1d75"/>
<polygon points="378.4,676.3 399.6,671.4 393.8,671.3 372.8,676.7" fill="#558df1"/>
<polygon points="155.8,699.5 177.2,703.2 172.7,704.9 151.5,700.4" fill="#2b1d75"/>
<polygon points="65.8,677.7 87.3,683.8 83.4,682.5 62.0,676.1" fill="#9bdaf7"/>
<polygon points="245.8,701.4 267.1,698.9 262.1,701.6 240.9,704.6" fill="#2e1d75"/>
<polygon points="357.3,680.9 378.4,676.3 372.8,676.7 351.8,681.9" fill="#548cf0"/>
<polygon points="134.4,694.9 155.8,699.5 151.5,700.4 130.1,695.3" fill="#2b1d75"/>
<polygon points="336.1,685.2 357.3,680.9 351.8,681.9 330.7,686.9" fill="#301d75"/>
<polygon points="224.5,702.7 245.8,701.4 240.9,704.6 219.7,706.1" fill="#2d1d75"/>
<polygon points="44.2,671.3 65.8,677.7 62.0,676.1 40.5,669.5" fill="#9dddf7"/>
<polygon points="314.8,689.2 336.1,685.2 330.7,686.9 309.5,691.4" fill="#301d75"/>
<polygon points="112.9,689.8 134.4,694.9 130.1,695.3 108.8,689.7" fill="#2b1d75"/>
<polygon points="203.1,702.5 224.5,702.7 219.7,706.1 198.5,705.7" fill="#2c1d75"/>
<polygon points="293.5,692.8 314.8,689.2 309.5,691.4 288.3,695.5" fill="#2f1d75"/>
<polygon points="181.7,700.7 203.1,702.5 198.5,705.7 177.2,703.2" fill="#2b1d75"/>
<polygon points="91.3,684.4 112.9,689.8 108.8,689.7 87.3,683.8" fill="#2b1d75"/>
<polygon points="272.2,695.7 293.5,692.8 288.3,695.5 267.1,698.9" fill="#2f1d75"/>
<polygon points="384.1,675.3 405.4,671.1 399.6,671.4 378.4,676.3" fill="#568df1"/>
<polygon points="160.2,697.6 181.7,700.7 177.2,703.2 155.8,699.5" fill="#2b1d75"/>
<polygon points="69.7,678.6 91.3,684.4 87.3,683.8 65.8,677.7" fill="#2b1d75"/>
<polygon points="362.9,679.3 384.1,675.3 378.4,676.3 357.3,680.9" fill="#2f1d75"/>
<polygon points="250.8,697.8 272.2,695.7 267.1,698.9 245.8,701.4" fill="#2e1d75"/>
<polygon points="138.6,693.7 160.2,697.6 155.8,699.5 134.4,694.9" fill="#2b1d75"/>
<polygon points="341.5,683.0 362.9,679.3 357.3,680.9 336.1,685.2" fill="#2f1d75"/>
<polygon points="48.0,672.6 69.7,678.6 65.8,677.7 44.2,671.3" fill="#2b1d75"/>
<polygon points="229.3,698.9 250.8,697.8 245.8,701.4 224.5,702.7" fill="#2d1d75"/>
<polygon points="320.2,686.4 341.5,683.0 336.1,685.2 314.8,689.2" fill="#2f1d75"/>
<polygon points="117.0,689.1 138.6,693.7 134.4,694.9 112.9,689.8" fill="#2b1d75"/>
<polygon points="207.8,698.9 229.3,698.9 224.5,702.7 203.1,702.5" fill="#2c1d75"/>
<polygon points="298.8,689.4 320.2,686.4 314.8,689.2 293.5,692.8" fill="#2f1d75"/>
<polygon points="186.3,697.5 207.8,698.9 203.1,702.5 181.7,700.7" fill="#2b1d75"/>
<polygon points="95.3,684.2 117.0,689.1 112.9,689.8 91.3,684.4" fill="#2b1d75"/>
<polygon points="389.9,673.9 411.3,670.4 405.4,671.1 384.1,675.3" fill="#588ef0"/>
<polygon points="277.3,691.9 298.8,689.4 293.5,692.8 272.2,695.7" fill="#2e1d75"/>
<polygon points="164.6,695.0 186.3,697.5 181.7,700.7 160.2,697.6" fill="#2b1d75"/>
<polygon points="73.6,678.9 95.3,684.2 91.3,684.4 69.7,678.6" fill="#2b1d75"/>
<polygon points="368.5,677.2 389.9,673.9 384.1,675.3 362.9,679.3" fill="#2f1d75"/>
<polygon points="255.8,693.7 277.3,691.9 272.2,695.7 250.8,697.8" fill="#2e1d75"/>
<polygon points="143.0,691.7 164.6,695.0 160.2,697.6 138.6,693.7" fill="#2b1d75"/>
<polygon points="347.1,680.3 368.5,677.2 362.9,679.3 341.5,683.0" fill="#2f1d75"/>
<polygon points="51.8,673.4 73.6,678.9 69.7,678.6 48.0,672.6" fill="#2b1d75"/>
<polygon points="234.2,694.7 255.8,693.7 250.8,697.8 229.3,698.9" fill="#2d1d75"/>
<polygon points="325.6,683.1 347.1,680.3 341.5,683.0 320.2,686.4" fill="#2f1d75"/>
<polygon points="121.2,687.7 143.0,691.7 138.6,693.7 117.0,689.1" fill="#2b1d75"/>
<polygon points="212.6,694.8 234.2,694.7 229.3,698.9 207.8,698.9" fill="#2c1d75"/>
<polygon points="304.1,685.6 325.6,683.1 320.2,686.4 298.8,689.4" fill="#2e1d75"/>
<polygon points="99.4,683.4 121.2,687.7 117.0,689.1 95.3,684.2" fill="#2b1d75"/>
<polygon points="190.9,693.7 212.6,694.8 207.8,698.9 186.3,697.5" fill="#2b1d75"/>
<polygon points="395.8,672.1 417.2,669.4 411.3,670.4 389.9,673.9" fill="#2e1d75"/>
<polygon points="282.5,687.7 304.1,685.6 298.8,689.4 277.3,691.9" fill="#2e1d75"/>
<polygon points="169.1,691.8 190.9,693.7 186.3,697.5 164.6,695.0" fill="#2b1d75"/>
<polygon points="77.5,678.7 99.4,683.4 95.3,684.2 73.6,678.9" fill="#2b1d75"/>
<polygon points="374.3,674.6 395.8,672.1 389.9,673.9 368.5,677.2" fill="#2e1d75"/>
<polygon points="260.8,689.2 282.5,687.7 277.3,691.9 255.8,693.7" fill="#2e1d75"/>
<polygon points="147.3,689.0 169.1,691.8 164.6,695.0 143.0,691.7" fill="#2b1d75"/>
<polygon points="55.6,673.7 77.5,678.7 73.6,678.9 51.8,673.4" fill="#2b1d75"/>
<polygon points="352.7,677.1 374.3,674.6 368.5,677.2 347.1,680.3" fill="#2e1d75"/>
<polygon points="239.1,690.1 260.8,689.2 255.8,693.7 234.2,694.7" fill="#2d1d75"/>
<polygon points="331.1,679.4 352.7,677.1 347.1,680.3 325.6,683.1" fill="#2e1d75"/>
<polygon points="125.5,685.7 147.3,689.0 143.0,691.7 121.2,687.7" fill="#2b1d75"/>
<polygon points="217.4,690.3 239.1,690.1 234.2,694.7 212.6,694.8" fill="#2c1d75"/>
<polygon points="309.5,681.4 331.1,679.4 325.6,683.1 304.1,685.6" fill="#2e1d75"/>
<polygon points="103.5,682.0 125.5,685.7 121.2,687.7 99.4,683.4" fill="#2b1d75"/>
<polygon points="195.6,689.5 217.4,690.3 212.6,694.8 190.9,693.7" fill="#2b1d75"/>
<polygon points="287.7,683.0 309.5,681.4 304.1,685.6 282.5,687.7" fill="#2e1d75"/>
<polygon points="81.5,677.9 103.5,682.0 99.4,683.4 77.5,678.7" fill="#2b1d75"/>
<polygon points="173.7,688.0 195.6,689.5 190.9,693.7 169.1,691.8" fill="#2b1d75"/>
<polygon points="266.0,684.3 287.7,683.0 282.5,687.7 260.8,689.2" fill="#2d1d75"/>
<polygon points="59.5,673.6 81.5,677.9 77.5,678.7 55.6,673.7" fill="#2b1d75"/>
<polygon points="151.8,685.8 173.7,688.0 169.1,691.8 147.3,689.0" fill="#2b1d75"/>
<polygon points="244.1,685.1 266.0,684.3 260.8,689.2 239.1,690.1" fill="#2d1d75"/>
<polygon points="129.8,683.2 151.8,685.8 147.3,689.0 125.5,685.7" fill="#2b1d75"/>
<polygon points="222.3,685.4 244.1,685.1 239.1,690.1 217.4,690.3" fill="#2c1d75"/>
<polygon points="107.7,680.1 129.8,683.2 125.5,685.7 103.5,682.0" fill="#2b1d75"/>
<polygon points="200.3,684.9 222.3,685.4 217.4,690.3 195.6,689.5" fill="#2c1d75"/>
<polygon points="85.6,676.7 107.7,680.1 103.5,682.0 81.5,677.9" fill="#2b1d75"/>
<polygon points="178.3,683.8 200.3,684.9 195.6,689.5 173.7,688.0" fill="#2b1d75"/>
<polygon points="63.4,673.1 85.6,676.7 81.5,677.9 59.5,673.6" fill="#2b1d75"/>
<polygon points="156.3,682.2 178.3,683.8 173.7,688.0 151.8,685.8" fill="#2b1d75"/>
<polygon points="134.1,680.1 156.3,682.2 151.8,685.8 129.8,683.2" fill="#2b1d75"/>
<polygon points="111.9,677.7 134.1,680.1 129.8,683.2 107.7,680.1" fill="#2b1d75"/>
<polygon points="89.7,675.1 111.9,677.7 107.7,680.1 85.6,676.7" fill="#2b1d75"/>
<polygon points="67.4,672.3 89.7,675.1 85.6,676.7 63.4,673.1" fill="#2b1d75"/></g>
<g stroke="#7d8790" stroke-width="0.8" fill="none" opacity="0.6"><line x1="61.7" y1="818.6" x2="61.3" y2="670.4"/><line x1="61.3" y1="670.4" x2="423.6" y2="661.3"/><line x1="61.3" y1="670.4" x2="1.0" y2="627.5"/></g>
<g font-size="29" stroke="#000" stroke-width="0.45"><text x="10.6" y="30.2" textLength="53.0" lengthAdjust="spacingAndGlyphs">1.00</text><text x="0.0" y="60.0" textLength="53.5" lengthAdjust="spacingAndGlyphs">0.95</text><text x="463.0" y="126.2" textLength="36.0" lengthAdjust="spacingAndGlyphs">0.5</text><text x="463.0" y="191.8" textLength="36.0" lengthAdjust="spacingAndGlyphs">0.0</text><text x="67.4" y="265.2" textLength="52.0" lengthAdjust="spacingAndGlyphs">0.05</text><text x="226.9" y="266.6" textLength="53.0" lengthAdjust="spacingAndGlyphs">0.00</text><text x="380.0" y="265.6" textLength="69.5" lengthAdjust="spacingAndGlyphs">−0.05</text><text x="0.3" y="199.3" textLength="30.5" lengthAdjust="spacingAndGlyphs">(a)</text><text x="308.4" y="314.4" textLength="51.0" lengthAdjust="spacingAndGlyphs">0.02</text><text x="368.8" y="333.2">0</text><text x="386.0" y="355.0" textLength="72.0" lengthAdjust="spacingAndGlyphs">−0.02</text><text x="428.0" y="384.2" textLength="36.5" lengthAdjust="spacingAndGlyphs">0.1</text><text x="428.0" y="417.5" textLength="53.2" lengthAdjust="spacingAndGlyphs">0.05</text><text x="428.0" y="450.6">0</text><text x="429.0" y="484.4" textLength="69.5" lengthAdjust="spacingAndGlyphs">−0.05</text><text x="429.0" y="518.0" textLength="56.0" lengthAdjust="spacingAndGlyphs">−0.1</text><text x="68.4" y="558.0" textLength="54.0" lengthAdjust="spacingAndGlyphs">1.14</text><text x="156.4" y="554.8" textLength="53.0" lengthAdjust="spacingAndGlyphs">1.15</text><text x="242.6" y="551.5" textLength="53.5" lengthAdjust="spacingAndGlyphs">1.16</text><text x="328.6" y="548.0" textLength="53.5" lengthAdjust="spacingAndGlyphs">1.17</text><text x="0.4" y="529.3" textLength="32.5" lengthAdjust="spacingAndGlyphs">(b)</text><text x="307.6" y="605.2" textLength="51.5" lengthAdjust="spacingAndGlyphs">0.02</text><text x="368.8" y="625.6">0</text><text x="386.0" y="646.2" textLength="72.0" lengthAdjust="spacingAndGlyphs">−0.02</text><text x="428.0" y="683.6" textLength="36.0" lengthAdjust="spacingAndGlyphs">0.1</text><text x="428.0" y="713.0" textLength="52.0" lengthAdjust="spacingAndGlyphs">0.05</text><text x="428.0" y="741.6">0</text><text x="429.0" y="772.4" textLength="69.5" lengthAdjust="spacingAndGlyphs">−0.05</text><text x="429.0" y="802.4" textLength="56.0" lengthAdjust="spacingAndGlyphs">−0.1</text><text x="64.2" y="849.2" textLength="53.5" lengthAdjust="spacingAndGlyphs">1.02</text><text x="152.9" y="846.4" textLength="53.0" lengthAdjust="spacingAndGlyphs">1.03</text><text x="239.2" y="842.8" textLength="53.0" lengthAdjust="spacingAndGlyphs">1.04</text><text x="324.1" y="839.6" textLength="53.0" lengthAdjust="spacingAndGlyphs">1.05</text><text x="1.8" y="825.3" textLength="32.0" lengthAdjust="spacingAndGlyphs">(c)</text></g>
</svg>
</body></html>
